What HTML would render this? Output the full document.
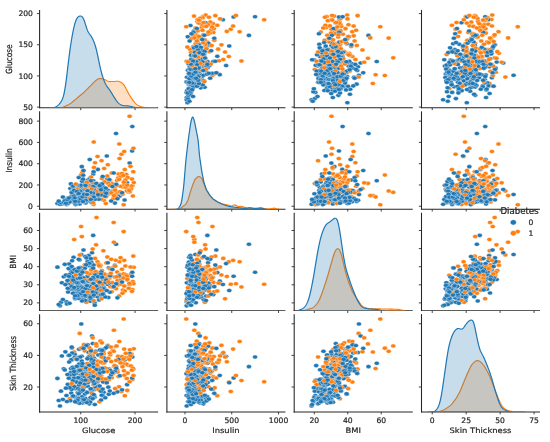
<!DOCTYPE html>
<html><head><meta charset="utf-8"><title>Pairplot</title>
<style>html,body{margin:0;padding:0;background:#fff;width:550px;height:442px;overflow:hidden}
svg{display:block}
svg text{font-family:"DejaVu Sans","Liberation Sans",sans-serif;stroke:#262626;stroke-width:0.3px}</style></head>
<body>
<svg width="550" height="442" preserveAspectRatio="none" viewBox="0 0 720 653.067925" version="1.1">
 
 <defs>
  <style type="text/css">*{stroke-linejoin: round; stroke-linecap: butt}</style>
 </defs>
 <defs><ellipse id="B" rx="3.350" ry="3.000" style="fill:#1f77b4;stroke:#fff;stroke-width:0.48"/><ellipse id="O" rx="3.350" ry="3.000" style="fill:#ff7f0e;stroke:#fff;stroke-width:0.48"/></defs><g id="figure_1">
  <g id="patch_1">
   <path d="M 0 653.07 
L 720 653.07 
L 720 0 
L 0 0 
z
" style="fill: #ffffff"/>
  </g>
  <g id="axes_1">
   <g id="patch_2">
    <path d="M 51.84 159.28 
L 206.31 159.28 
L 206.31 15.37 
L 51.84 15.37 
z
" style="fill: #ffffff"/>
   </g>
   <g id="matplotlib.axis_1">
    <g id="xtick_1">
     <g id="line2d_1">
      <defs>
       <path id="m810af31bf4" d="M 0 0 
L 0 3.5 
" style="stroke: #262626; stroke-width: 1.2"/>
      </defs>
      <g>
       <use href="#m810af31bf4" x="105.67787" y="159.277652" style="fill: #262626; stroke: #262626; stroke-width: 1.2"/>
      </g>
     </g>
    </g>
    <g id="xtick_2">
     <g id="line2d_2">
      <g>
       <use href="#m810af31bf4" x="176.797911" y="159.277652" style="fill: #262626; stroke: #262626; stroke-width: 1.2"/>
      </g>
     </g>
    </g>
   </g>
   <g id="matplotlib.axis_2">
    <g id="ytick_1">
     <g id="line2d_3">
      <defs>
       <path id="m16c3d9d836" d="M 0 0 
L -3.5 0 
" style="stroke: #262626; stroke-width: 1.2"/>
      </defs>
      <g>
       <use href="#m16c3d9d836" x="51.84" y="158.264192" style="fill: #262626; stroke: #262626; stroke-width: 1.2"/>
      </g>
     </g>
     <g id="text_1">
      <text style="font-size: 10px; text-anchor: end; fill: #262626" x="43.14" y="162.063411" transform="matrix(1 0 0 1.120 0 -19.448)">50</text>
     </g>
    </g>
    <g id="ytick_2">
     <g id="line2d_4">
      <g>
       <use href="#m16c3d9d836" x="51.84" y="112.197819" style="fill: #262626; stroke: #262626; stroke-width: 1.2"/>
      </g>
     </g>
     <g id="text_2">
      <text style="font-size: 10px; text-anchor: end; fill: #262626" x="43.14" y="115.997038" transform="matrix(1 0 0 1.120 0 -13.920)">100</text>
     </g>
    </g>
    <g id="ytick_3">
     <g id="line2d_5">
      <g>
       <use href="#m16c3d9d836" x="51.84" y="66.131447" style="fill: #262626; stroke: #262626; stroke-width: 1.2"/>
      </g>
     </g>
     <g id="text_3">
      <text style="font-size: 10px; text-anchor: end; fill: #262626" x="43.14" y="69.930666" transform="matrix(1 0 0 1.120 0 -8.392)">150</text>
     </g>
    </g>
    <g id="ytick_4">
     <g id="line2d_6">
      <g>
       <use href="#m16c3d9d836" x="51.84" y="20.065074" style="fill: #262626; stroke: #262626; stroke-width: 1.2"/>
      </g>
     </g>
     <g id="text_4">
      <text style="font-size: 10px; text-anchor: end; fill: #262626" x="43.14" y="23.864293" transform="matrix(1 0 0 1.120 0 -2.864)">200</text>
     </g>
    </g>
    <g id="text_5">
     <text style="font-size: 11px; text-anchor: middle; fill: #262626" x="15.164844" y="87.321978" transform="rotate(-90 15.164844 87.321978)">Glucose</text>
    </g>
   </g>
   <g id="patch_3">
    <path d="M 51.84 159.28 
L 51.84 15.37 
" style="fill: none; stroke: #262626; stroke-width: 1.4; stroke-linejoin: miter; stroke-linecap: square"/>
   </g>
   <g id="patch_4">
    <path d="M 51.84 159.28 
L 206.31 159.28 
" style="fill: none; stroke: #262626; stroke-width: 1.4; stroke-linejoin: miter; stroke-linecap: square"/>
   </g>
  </g>
  <g id="axes_2">
   <g id="FillBetweenPolyCollection_1">
    <defs>
     <path id="m3f930cdeda" d="M 65.85 -493.79 
L 65.85 -493.79 
L 66.43 -493.79 
L 67.02 -493.79 
L 67.6 -493.79 
L 68.18 -493.79 
L 68.77 -493.79 
L 69.35 -493.79 
L 69.93 -493.79 
L 70.52 -493.79 
L 71.1 -493.79 
L 71.68 -493.79 
L 72.27 -493.79 
L 72.85 -493.79 
L 73.43 -493.79 
L 74.02 -493.79 
L 74.6 -493.79 
L 75.18 -493.79 
L 75.77 -493.79 
L 76.35 -493.79 
L 76.93 -493.79 
L 77.52 -493.79 
L 78.1 -493.79 
L 78.68 -493.79 
L 79.27 -493.79 
L 79.85 -493.79 
L 80.43 -493.79 
L 81.01 -493.79 
L 81.6 -493.79 
L 82.18 -493.79 
L 82.76 -493.79 
L 83.35 -493.79 
L 83.93 -493.79 
L 84.51 -493.79 
L 85.1 -493.79 
L 85.68 -493.79 
L 86.26 -493.79 
L 86.85 -493.79 
L 87.43 -493.79 
L 88.01 -493.79 
L 88.6 -493.79 
L 89.18 -493.79 
L 89.76 -493.79 
L 90.35 -493.79 
L 90.93 -493.79 
L 91.51 -493.79 
L 92.1 -493.79 
L 92.68 -493.79 
L 93.26 -493.79 
L 93.85 -493.79 
L 94.43 -493.79 
L 95.01 -493.79 
L 95.6 -493.79 
L 96.18 -493.79 
L 96.76 -493.79 
L 97.35 -493.79 
L 97.93 -493.79 
L 98.51 -493.79 
L 99.1 -493.79 
L 99.68 -493.79 
L 100.26 -493.79 
L 100.85 -493.79 
L 101.43 -493.79 
L 102.01 -493.79 
L 102.6 -493.79 
L 103.18 -493.79 
L 103.76 -493.79 
L 104.34 -493.79 
L 104.93 -493.79 
L 105.51 -493.79 
L 106.09 -493.79 
L 106.68 -493.79 
L 107.26 -493.79 
L 107.84 -493.79 
L 108.43 -493.79 
L 109.01 -493.79 
L 109.59 -493.79 
L 110.18 -493.79 
L 110.76 -493.79 
L 111.34 -493.79 
L 111.93 -493.79 
L 112.51 -493.79 
L 113.09 -493.79 
L 113.68 -493.79 
L 114.26 -493.79 
L 114.84 -493.79 
L 115.43 -493.79 
L 116.01 -493.79 
L 116.59 -493.79 
L 117.18 -493.79 
L 117.76 -493.79 
L 118.34 -493.79 
L 118.93 -493.79 
L 119.51 -493.79 
L 120.09 -493.79 
L 120.68 -493.79 
L 121.26 -493.79 
L 121.84 -493.79 
L 122.43 -493.79 
L 123.01 -493.79 
L 123.59 -493.79 
L 124.18 -493.79 
L 124.76 -493.79 
L 125.34 -493.79 
L 125.92 -493.79 
L 126.51 -493.79 
L 127.09 -493.79 
L 127.67 -493.79 
L 128.26 -493.79 
L 128.84 -493.79 
L 129.42 -493.79 
L 130.01 -493.79 
L 130.59 -493.79 
L 131.17 -493.79 
L 131.76 -493.79 
L 132.34 -493.79 
L 132.92 -493.79 
L 133.51 -493.79 
L 134.09 -493.79 
L 134.67 -493.79 
L 135.26 -493.79 
L 135.84 -493.79 
L 136.42 -493.79 
L 137.01 -493.79 
L 137.59 -493.79 
L 138.17 -493.79 
L 138.76 -493.79 
L 139.34 -493.79 
L 139.92 -493.79 
L 140.51 -493.79 
L 141.09 -493.79 
L 141.67 -493.79 
L 142.26 -493.79 
L 142.84 -493.79 
L 143.42 -493.79 
L 144.01 -493.79 
L 144.59 -493.79 
L 145.17 -493.79 
L 145.76 -493.79 
L 146.34 -493.79 
L 146.92 -493.79 
L 147.5 -493.79 
L 148.09 -493.79 
L 148.67 -493.79 
L 149.25 -493.79 
L 149.84 -493.79 
L 150.42 -493.79 
L 151 -493.79 
L 151.59 -493.79 
L 152.17 -493.79 
L 152.75 -493.79 
L 153.34 -493.79 
L 153.92 -493.79 
L 154.5 -493.79 
L 155.09 -493.79 
L 155.67 -493.79 
L 156.25 -493.79 
L 156.84 -493.79 
L 157.42 -493.79 
L 158 -493.79 
L 158.59 -493.79 
L 159.17 -493.79 
L 159.75 -493.79 
L 160.34 -493.79 
L 160.92 -493.79 
L 161.5 -493.79 
L 162.09 -493.79 
L 162.67 -493.79 
L 163.25 -493.79 
L 163.84 -493.79 
L 164.42 -493.79 
L 165 -493.79 
L 165.59 -493.79 
L 166.17 -493.79 
L 166.75 -493.79 
L 167.34 -493.79 
L 167.92 -493.79 
L 168.5 -493.79 
L 169.08 -493.79 
L 169.67 -493.79 
L 170.25 -493.79 
L 170.83 -493.79 
L 171.42 -493.79 
L 172 -493.79 
L 172.58 -493.79 
L 173.17 -493.79 
L 173.75 -493.79 
L 174.33 -493.79 
L 174.92 -493.79 
L 175.5 -493.79 
L 176.08 -493.79 
L 176.67 -493.79 
L 177.25 -493.79 
L 177.83 -493.79 
L 178.42 -493.79 
L 179 -493.79 
L 179.58 -493.79 
L 180.17 -493.79 
L 180.75 -493.79 
L 181.33 -493.79 
L 181.92 -493.79 
L 182.5 -493.79 
L 183.08 -493.79 
L 183.67 -493.79 
L 184.25 -493.79 
L 184.83 -493.79 
L 185.42 -493.79 
L 186 -493.79 
L 186.58 -493.79 
L 187.17 -493.79 
L 187.75 -493.79 
L 188.33 -493.79 
L 188.92 -493.79 
L 189.5 -493.79 
L 190.08 -493.79 
L 190.66 -493.79 
L 191.25 -493.79 
L 191.83 -493.79 
L 192.41 -493.79 
L 193 -493.79 
L 193.58 -493.79 
L 194.16 -493.79 
L 194.75 -493.79 
L 195.33 -493.79 
L 195.91 -493.79 
L 196.5 -493.79 
L 197.08 -493.79 
L 197.66 -493.79 
L 198.25 -493.79 
L 198.83 -493.79 
L 199.41 -493.79 
L 200 -493.79 
L 200.58 -493.79 
L 201.16 -493.79 
L 201.75 -493.79 
L 202.33 -493.79 
L 202.91 -493.79 
L 203.5 -493.79 
L 204.08 -493.79 
L 204.66 -493.79 
L 205.25 -493.79 
L 205.25 -493.79 
L 205.25 -493.79 
L 204.66 -493.79 
L 204.08 -493.79 
L 203.5 -493.79 
L 202.91 -493.79 
L 202.33 -493.79 
L 201.75 -493.79 
L 201.16 -493.79 
L 200.58 -493.79 
L 200 -493.79 
L 199.41 -493.79 
L 198.83 -493.79 
L 198.25 -493.8 
L 197.66 -493.8 
L 197.08 -493.8 
L 196.5 -493.81 
L 195.91 -493.82 
L 195.33 -493.83 
L 194.75 -493.84 
L 194.16 -493.86 
L 193.58 -493.89 
L 193 -493.92 
L 192.41 -493.96 
L 191.83 -494 
L 191.25 -494.06 
L 190.66 -494.13 
L 190.08 -494.21 
L 189.5 -494.3 
L 188.92 -494.4 
L 188.33 -494.52 
L 187.75 -494.65 
L 187.17 -494.79 
L 186.58 -494.94 
L 186 -495.11 
L 185.42 -495.28 
L 184.83 -495.47 
L 184.25 -495.68 
L 183.67 -495.9 
L 183.08 -496.15 
L 182.5 -496.41 
L 181.92 -496.71 
L 181.33 -497.03 
L 180.75 -497.4 
L 180.17 -497.8 
L 179.58 -498.25 
L 179 -498.75 
L 178.42 -499.29 
L 177.83 -499.89 
L 177.25 -500.54 
L 176.67 -501.23 
L 176.08 -501.97 
L 175.5 -502.76 
L 174.92 -503.58 
L 174.33 -504.44 
L 173.75 -505.32 
L 173.17 -506.24 
L 172.58 -507.17 
L 172 -508.13 
L 171.42 -509.12 
L 170.83 -510.13 
L 170.25 -511.16 
L 169.67 -512.23 
L 169.08 -513.34 
L 168.5 -514.5 
L 167.92 -515.69 
L 167.34 -516.93 
L 166.75 -518.21 
L 166.17 -519.51 
L 165.59 -520.82 
L 165 -522.12 
L 164.42 -523.38 
L 163.84 -524.58 
L 163.25 -525.71 
L 162.67 -526.74 
L 162.09 -527.66 
L 161.5 -528.47 
L 160.92 -529.18 
L 160.34 -529.8 
L 159.75 -530.33 
L 159.17 -530.8 
L 158.59 -531.22 
L 158 -531.61 
L 157.42 -531.96 
L 156.84 -532.27 
L 156.25 -532.54 
L 155.67 -532.78 
L 155.09 -532.95 
L 154.5 -533.07 
L 153.92 -533.14 
L 153.34 -533.14 
L 152.75 -533.11 
L 152.17 -533.03 
L 151.59 -532.95 
L 151 -532.85 
L 150.42 -532.77 
L 149.84 -532.71 
L 149.25 -532.66 
L 148.67 -532.64 
L 148.09 -532.62 
L 147.5 -532.61 
L 146.92 -532.6 
L 146.34 -532.58 
L 145.76 -532.56 
L 145.17 -532.53 
L 144.59 -532.5 
L 144.01 -532.5 
L 143.42 -532.53 
L 142.84 -532.61 
L 142.26 -532.75 
L 141.67 -532.96 
L 141.09 -533.22 
L 140.51 -533.53 
L 139.92 -533.88 
L 139.34 -534.25 
L 138.76 -534.61 
L 138.17 -534.96 
L 137.59 -535.27 
L 137.01 -535.54 
L 136.42 -535.78 
L 135.84 -535.99 
L 135.26 -536.17 
L 134.67 -536.33 
L 134.09 -536.48 
L 133.51 -536.63 
L 132.92 -536.76 
L 132.34 -536.87 
L 131.76 -536.95 
L 131.17 -536.99 
L 130.59 -536.98 
L 130.01 -536.9 
L 129.42 -536.75 
L 128.84 -536.53 
L 128.26 -536.25 
L 127.67 -535.9 
L 127.09 -535.5 
L 126.51 -535.04 
L 125.92 -534.54 
L 125.34 -534.01 
L 124.76 -533.43 
L 124.18 -532.83 
L 123.59 -532.2 
L 123.01 -531.54 
L 122.43 -530.87 
L 121.84 -530.19 
L 121.26 -529.51 
L 120.68 -528.82 
L 120.09 -528.14 
L 119.51 -527.47 
L 118.93 -526.82 
L 118.34 -526.17 
L 117.76 -525.53 
L 117.18 -524.89 
L 116.59 -524.25 
L 116.01 -523.6 
L 115.43 -522.94 
L 114.84 -522.28 
L 114.26 -521.6 
L 113.68 -520.92 
L 113.09 -520.24 
L 112.51 -519.57 
L 111.93 -518.9 
L 111.34 -518.25 
L 110.76 -517.62 
L 110.18 -517 
L 109.59 -516.4 
L 109.01 -515.82 
L 108.43 -515.26 
L 107.84 -514.7 
L 107.26 -514.15 
L 106.68 -513.6 
L 106.09 -513.05 
L 105.51 -512.5 
L 104.93 -511.95 
L 104.34 -511.4 
L 103.76 -510.84 
L 103.18 -510.29 
L 102.6 -509.74 
L 102.01 -509.2 
L 101.43 -508.65 
L 100.85 -508.11 
L 100.26 -507.58 
L 99.68 -507.04 
L 99.1 -506.49 
L 98.51 -505.94 
L 97.93 -505.39 
L 97.35 -504.82 
L 96.76 -504.25 
L 96.18 -503.68 
L 95.6 -503.11 
L 95.01 -502.54 
L 94.43 -501.99 
L 93.85 -501.47 
L 93.26 -500.96 
L 92.68 -500.49 
L 92.1 -500.05 
L 91.51 -499.63 
L 90.93 -499.23 
L 90.35 -498.86 
L 89.76 -498.5 
L 89.18 -498.16 
L 88.6 -497.82 
L 88.01 -497.48 
L 87.43 -497.15 
L 86.85 -496.82 
L 86.26 -496.49 
L 85.68 -496.18 
L 85.1 -495.87 
L 84.51 -495.59 
L 83.93 -495.32 
L 83.35 -495.07 
L 82.76 -494.85 
L 82.18 -494.65 
L 81.6 -494.48 
L 81.01 -494.34 
L 80.43 -494.22 
L 79.85 -494.12 
L 79.27 -494.04 
L 78.68 -493.98 
L 78.1 -493.93 
L 77.52 -493.89 
L 76.93 -493.86 
L 76.35 -493.84 
L 75.77 -493.82 
L 75.18 -493.81 
L 74.6 -493.81 
L 74.02 -493.8 
L 73.43 -493.8 
L 72.85 -493.79 
L 72.27 -493.79 
L 71.68 -493.79 
L 71.1 -493.79 
L 70.52 -493.79 
L 69.93 -493.79 
L 69.35 -493.79 
L 68.77 -493.79 
L 68.18 -493.79 
L 67.6 -493.79 
L 67.02 -493.79 
L 66.43 -493.79 
L 65.85 -493.79 
z
" style="stroke: #ff7f0e; stroke-width: 1.6"/>
    </defs>
    <g clip-path="url(#p790f427308)">
     <use href="#m3f930cdeda" x="0" y="653.067925" style="fill: #ff7f0e; fill-opacity: 0.25; stroke: #ff7f0e; stroke-width: 1.6"/>
    </g>
   </g>
   <g id="FillBetweenPolyCollection_2">
    <defs>
     <path id="mf4e3be129e" d="M 58.03 -493.79 
L 58.03 -493.79 
L 58.59 -493.79 
L 59.15 -493.79 
L 59.71 -493.79 
L 60.28 -493.79 
L 60.84 -493.79 
L 61.4 -493.79 
L 61.96 -493.79 
L 62.53 -493.79 
L 63.09 -493.79 
L 63.65 -493.79 
L 64.21 -493.79 
L 64.78 -493.79 
L 65.34 -493.79 
L 65.9 -493.79 
L 66.46 -493.79 
L 67.03 -493.79 
L 67.59 -493.79 
L 68.15 -493.79 
L 68.71 -493.79 
L 69.28 -493.79 
L 69.84 -493.79 
L 70.4 -493.79 
L 70.96 -493.79 
L 71.53 -493.79 
L 72.09 -493.79 
L 72.65 -493.79 
L 73.21 -493.79 
L 73.78 -493.79 
L 74.34 -493.79 
L 74.9 -493.79 
L 75.46 -493.79 
L 76.02 -493.79 
L 76.59 -493.79 
L 77.15 -493.79 
L 77.71 -493.79 
L 78.27 -493.79 
L 78.84 -493.79 
L 79.4 -493.79 
L 79.96 -493.79 
L 80.52 -493.79 
L 81.09 -493.79 
L 81.65 -493.79 
L 82.21 -493.79 
L 82.77 -493.79 
L 83.34 -493.79 
L 83.9 -493.79 
L 84.46 -493.79 
L 85.02 -493.79 
L 85.59 -493.79 
L 86.15 -493.79 
L 86.71 -493.79 
L 87.27 -493.79 
L 87.84 -493.79 
L 88.4 -493.79 
L 88.96 -493.79 
L 89.52 -493.79 
L 90.09 -493.79 
L 90.65 -493.79 
L 91.21 -493.79 
L 91.77 -493.79 
L 92.33 -493.79 
L 92.9 -493.79 
L 93.46 -493.79 
L 94.02 -493.79 
L 94.58 -493.79 
L 95.15 -493.79 
L 95.71 -493.79 
L 96.27 -493.79 
L 96.83 -493.79 
L 97.4 -493.79 
L 97.96 -493.79 
L 98.52 -493.79 
L 99.08 -493.79 
L 99.65 -493.79 
L 100.21 -493.79 
L 100.77 -493.79 
L 101.33 -493.79 
L 101.9 -493.79 
L 102.46 -493.79 
L 103.02 -493.79 
L 103.58 -493.79 
L 104.15 -493.79 
L 104.71 -493.79 
L 105.27 -493.79 
L 105.83 -493.79 
L 106.4 -493.79 
L 106.96 -493.79 
L 107.52 -493.79 
L 108.08 -493.79 
L 108.64 -493.79 
L 109.21 -493.79 
L 109.77 -493.79 
L 110.33 -493.79 
L 110.89 -493.79 
L 111.46 -493.79 
L 112.02 -493.79 
L 112.58 -493.79 
L 113.14 -493.79 
L 113.71 -493.79 
L 114.27 -493.79 
L 114.83 -493.79 
L 115.39 -493.79 
L 115.96 -493.79 
L 116.52 -493.79 
L 117.08 -493.79 
L 117.64 -493.79 
L 118.21 -493.79 
L 118.77 -493.79 
L 119.33 -493.79 
L 119.89 -493.79 
L 120.46 -493.79 
L 121.02 -493.79 
L 121.58 -493.79 
L 122.14 -493.79 
L 122.71 -493.79 
L 123.27 -493.79 
L 123.83 -493.79 
L 124.39 -493.79 
L 124.95 -493.79 
L 125.52 -493.79 
L 126.08 -493.79 
L 126.64 -493.79 
L 127.2 -493.79 
L 127.77 -493.79 
L 128.33 -493.79 
L 128.89 -493.79 
L 129.45 -493.79 
L 130.02 -493.79 
L 130.58 -493.79 
L 131.14 -493.79 
L 131.7 -493.79 
L 132.27 -493.79 
L 132.83 -493.79 
L 133.39 -493.79 
L 133.95 -493.79 
L 134.52 -493.79 
L 135.08 -493.79 
L 135.64 -493.79 
L 136.2 -493.79 
L 136.77 -493.79 
L 137.33 -493.79 
L 137.89 -493.79 
L 138.45 -493.79 
L 139.02 -493.79 
L 139.58 -493.79 
L 140.14 -493.79 
L 140.7 -493.79 
L 141.26 -493.79 
L 141.83 -493.79 
L 142.39 -493.79 
L 142.95 -493.79 
L 143.51 -493.79 
L 144.08 -493.79 
L 144.64 -493.79 
L 145.2 -493.79 
L 145.76 -493.79 
L 146.33 -493.79 
L 146.89 -493.79 
L 147.45 -493.79 
L 148.01 -493.79 
L 148.58 -493.79 
L 149.14 -493.79 
L 149.7 -493.79 
L 150.26 -493.79 
L 150.83 -493.79 
L 151.39 -493.79 
L 151.95 -493.79 
L 152.51 -493.79 
L 153.08 -493.79 
L 153.64 -493.79 
L 154.2 -493.79 
L 154.76 -493.79 
L 155.33 -493.79 
L 155.89 -493.79 
L 156.45 -493.79 
L 157.01 -493.79 
L 157.57 -493.79 
L 158.14 -493.79 
L 158.7 -493.79 
L 159.26 -493.79 
L 159.82 -493.79 
L 160.39 -493.79 
L 160.95 -493.79 
L 161.51 -493.79 
L 162.07 -493.79 
L 162.64 -493.79 
L 163.2 -493.79 
L 163.76 -493.79 
L 164.32 -493.79 
L 164.89 -493.79 
L 165.45 -493.79 
L 166.01 -493.79 
L 166.57 -493.79 
L 167.14 -493.79 
L 167.7 -493.79 
L 168.26 -493.79 
L 168.82 -493.79 
L 169.39 -493.79 
L 169.95 -493.79 
L 170.51 -493.79 
L 171.07 -493.79 
L 171.64 -493.79 
L 172.2 -493.79 
L 172.76 -493.79 
L 173.32 -493.79 
L 173.88 -493.79 
L 174.45 -493.79 
L 175.01 -493.79 
L 175.57 -493.79 
L 176.13 -493.79 
L 176.7 -493.79 
L 177.26 -493.79 
L 177.82 -493.79 
L 178.38 -493.79 
L 178.95 -493.79 
L 179.51 -493.79 
L 180.07 -493.79 
L 180.63 -493.79 
L 181.2 -493.79 
L 181.76 -493.79 
L 182.32 -493.79 
L 182.88 -493.79 
L 183.45 -493.79 
L 184.01 -493.79 
L 184.57 -493.79 
L 185.13 -493.79 
L 185.7 -493.79 
L 186.26 -493.79 
L 186.82 -493.79 
L 187.38 -493.79 
L 187.95 -493.79 
L 188.51 -493.79 
L 189.07 -493.79 
L 189.63 -493.79 
L 190.19 -493.79 
L 190.76 -493.79 
L 191.32 -493.79 
L 191.88 -493.79 
L 192.44 -493.79 
L 192.44 -493.79 
L 192.44 -493.79 
L 191.88 -493.79 
L 191.32 -493.79 
L 190.76 -493.79 
L 190.19 -493.79 
L 189.63 -493.79 
L 189.07 -493.79 
L 188.51 -493.79 
L 187.95 -493.8 
L 187.38 -493.8 
L 186.82 -493.8 
L 186.26 -493.81 
L 185.7 -493.81 
L 185.13 -493.82 
L 184.57 -493.83 
L 184.01 -493.84 
L 183.45 -493.86 
L 182.88 -493.88 
L 182.32 -493.9 
L 181.76 -493.92 
L 181.2 -493.96 
L 180.63 -493.99 
L 180.07 -494.03 
L 179.51 -494.08 
L 178.95 -494.14 
L 178.38 -494.2 
L 177.82 -494.27 
L 177.26 -494.35 
L 176.7 -494.44 
L 176.13 -494.55 
L 175.57 -494.66 
L 175.01 -494.78 
L 174.45 -494.92 
L 173.88 -495.06 
L 173.32 -495.21 
L 172.76 -495.37 
L 172.2 -495.54 
L 171.64 -495.71 
L 171.07 -495.87 
L 170.51 -496.03 
L 169.95 -496.18 
L 169.39 -496.31 
L 168.82 -496.43 
L 168.26 -496.52 
L 167.7 -496.6 
L 167.14 -496.66 
L 166.57 -496.69 
L 166.01 -496.72 
L 165.45 -496.73 
L 164.89 -496.74 
L 164.32 -496.75 
L 163.76 -496.77 
L 163.2 -496.8 
L 162.64 -496.86 
L 162.07 -496.94 
L 161.51 -497.05 
L 160.95 -497.19 
L 160.39 -497.36 
L 159.82 -497.56 
L 159.26 -497.8 
L 158.7 -498.08 
L 158.14 -498.39 
L 157.57 -498.75 
L 157.01 -499.14 
L 156.45 -499.58 
L 155.89 -500.07 
L 155.33 -500.62 
L 154.76 -501.22 
L 154.2 -501.88 
L 153.64 -502.6 
L 153.08 -503.38 
L 152.51 -504.21 
L 151.95 -505.08 
L 151.39 -506 
L 150.83 -506.95 
L 150.26 -507.93 
L 149.7 -508.93 
L 149.14 -509.95 
L 148.58 -510.97 
L 148.01 -512.01 
L 147.45 -513.06 
L 146.89 -514.11 
L 146.33 -515.16 
L 145.76 -516.21 
L 145.2 -517.24 
L 144.64 -518.25 
L 144.08 -519.23 
L 143.51 -520.18 
L 142.95 -521.09 
L 142.39 -521.97 
L 141.83 -522.82 
L 141.26 -523.67 
L 140.7 -524.52 
L 140.14 -525.41 
L 139.58 -526.36 
L 139.02 -527.38 
L 138.45 -528.5 
L 137.89 -529.73 
L 137.33 -531.07 
L 136.77 -532.53 
L 136.2 -534.1 
L 135.64 -535.79 
L 135.08 -537.59 
L 134.52 -539.5 
L 133.95 -541.53 
L 133.39 -543.68 
L 132.83 -545.96 
L 132.27 -548.38 
L 131.7 -550.95 
L 131.14 -553.66 
L 130.58 -556.51 
L 130.02 -559.48 
L 129.45 -562.54 
L 128.89 -565.63 
L 128.33 -568.73 
L 127.77 -571.76 
L 127.2 -574.7 
L 126.64 -577.48 
L 126.08 -580.09 
L 125.52 -582.51 
L 124.95 -584.72 
L 124.39 -586.75 
L 123.83 -588.61 
L 123.27 -590.33 
L 122.71 -591.92 
L 122.14 -593.41 
L 121.58 -594.81 
L 121.02 -596.12 
L 120.46 -597.35 
L 119.89 -598.48 
L 119.33 -599.51 
L 118.77 -600.46 
L 118.21 -601.34 
L 117.64 -602.17 
L 117.08 -603.01 
L 116.52 -603.9 
L 115.96 -604.89 
L 115.39 -606.04 
L 114.83 -607.37 
L 114.27 -608.9 
L 113.71 -610.62 
L 113.14 -612.52 
L 112.58 -614.53 
L 112.02 -616.6 
L 111.46 -618.66 
L 110.89 -620.63 
L 110.33 -622.46 
L 109.77 -624.1 
L 109.21 -625.51 
L 108.64 -626.69 
L 108.08 -627.62 
L 107.52 -628.33 
L 106.96 -628.84 
L 106.4 -629.17 
L 105.83 -629.35 
L 105.27 -629.41 
L 104.71 -629.37 
L 104.15 -629.23 
L 103.58 -629 
L 103.02 -628.67 
L 102.46 -628.23 
L 101.9 -627.66 
L 101.33 -626.93 
L 100.77 -626.03 
L 100.21 -624.92 
L 99.65 -623.57 
L 99.08 -621.98 
L 98.52 -620.13 
L 97.96 -618.01 
L 97.4 -615.64 
L 96.83 -613.03 
L 96.27 -610.19 
L 95.71 -607.15 
L 95.15 -603.92 
L 94.58 -600.52 
L 94.02 -596.93 
L 93.46 -593.17 
L 92.9 -589.22 
L 92.33 -585.07 
L 91.77 -580.7 
L 91.21 -576.1 
L 90.65 -571.28 
L 90.09 -566.26 
L 89.52 -561.08 
L 88.96 -555.78 
L 88.4 -550.43 
L 87.84 -545.12 
L 87.27 -539.93 
L 86.71 -534.94 
L 86.15 -530.24 
L 85.59 -525.88 
L 85.02 -521.91 
L 84.46 -518.36 
L 83.9 -515.24 
L 83.34 -512.53 
L 82.77 -510.22 
L 82.21 -508.25 
L 81.65 -506.58 
L 81.09 -505.17 
L 80.52 -503.95 
L 79.96 -502.89 
L 79.4 -501.95 
L 78.84 -501.1 
L 78.27 -500.31 
L 77.71 -499.57 
L 77.15 -498.87 
L 76.59 -498.22 
L 76.02 -497.6 
L 75.46 -497.03 
L 74.9 -496.51 
L 74.34 -496.04 
L 73.78 -495.63 
L 73.21 -495.27 
L 72.65 -494.96 
L 72.09 -494.7 
L 71.53 -494.49 
L 70.96 -494.32 
L 70.4 -494.18 
L 69.84 -494.08 
L 69.28 -494 
L 68.71 -493.94 
L 68.15 -493.89 
L 67.59 -493.86 
L 67.03 -493.84 
L 66.46 -493.82 
L 65.9 -493.81 
L 65.34 -493.8 
L 64.78 -493.8 
L 64.21 -493.8 
L 63.65 -493.79 
L 63.09 -493.79 
L 62.53 -493.79 
L 61.96 -493.79 
L 61.4 -493.79 
L 60.84 -493.79 
L 60.28 -493.79 
L 59.71 -493.79 
L 59.15 -493.79 
L 58.59 -493.79 
L 58.03 -493.79 
z
" style="stroke: #1f77b4; stroke-width: 1.6"/>
    </defs>
    <g clip-path="url(#p790f427308)">
     <use href="#mf4e3be129e" x="0" y="653.067925" style="fill: #1f77b4; fill-opacity: 0.25; stroke: #1f77b4; stroke-width: 1.6"/>
    </g>
   </g>
  </g>
  <g id="axes_3">
   <g id="patch_5">
    <path d="M 218.49 159.28 
L 372.96 159.28 
L 372.96 15.37 
L 218.49 15.37 
z
" style="fill: #ffffff"/>
   </g>
   <g id="PathCollection_1">
    <defs>
     <path id="C0_0_623b9ded61" d="M 0 3 
C 0.8 3 1.56 2.68 2.12 2.12 
C 2.68 1.56 3 0.8 3 -0 
C 3 -0.8 2.68 -1.56 2.12 -2.12 
C 1.56 -2.68 0.8 -3 0 -3 
C -0.8 -3 -1.56 -2.68 -2.12 -2.12 
C -2.68 -1.56 -3 -0.8 -3 0 
C -3 0.8 -2.68 1.56 -2.12 2.12 
C -1.56 2.68 -0.8 3 0 3 
z
"/>
    </defs>
    <use href="#O" x="249.0" y="73.2"/>
    <use href="#B" x="253.7" y="89.9"/>
    <use href="#B" x="249.3" y="37.8"/>
    <use href="#B" x="254.9" y="106.2"/>
    <use href="#O" x="279.3" y="48.0"/>
    <use href="#B" x="250.8" y="111.4"/>
    <use href="#B" x="247.6" y="124.3"/>
    <use href="#B" x="253.4" y="112.2"/>
    <use href="#O" x="281.9" y="23.1"/>
    <use href="#B" x="254.4" y="92.5"/>
    <use href="#O" x="260.5" y="101.1"/>
    <use href="#B" x="251.1" y="98.4"/>
    <use href="#B" x="260.7" y="91.7"/>
    <use href="#B" x="254.6" y="84.9"/>
    <use href="#B" x="248.9" y="119.7"/>
    <use href="#B" x="263.4" y="99.4"/>
    <use href="#B" x="244.3" y="136.5"/>
    <use href="#B" x="249.4" y="118.0"/>
    <use href="#O" x="265.6" y="24.6"/>
    <use href="#O" x="271.2" y="62.1"/>
    <use href="#B" x="245.4" y="151.7"/>
    <use href="#O" x="261.8" y="55.5"/>
    <use href="#B" x="250.5" y="126.6"/>
    <use href="#B" x="279.2" y="91.0"/>
    <use href="#O" x="248.1" y="130.8"/>
    <use href="#O" x="258.5" y="31.6"/>
    <use href="#O" x="261.4" y="93.0"/>
    <use href="#B" x="255.1" y="78.9"/>
    <use href="#B" x="266.7" y="84.5"/>
    <use href="#O" x="270.8" y="92.1"/>
    <use href="#O" x="247.1" y="105.4"/>
    <use href="#O" x="270.5" y="63.8"/>
    <use href="#B" x="249.2" y="111.8"/>
    <use href="#B" x="264.2" y="85.3"/>
    <use href="#B" x="273.8" y="67.2"/>
    <use href="#B" x="271.9" y="100.0"/>
    <use href="#B" x="284.5" y="83.2"/>
    <use href="#B" x="252.0" y="107.1"/>
    <use href="#O" x="289.9" y="66.3"/>
    <use href="#O" x="255.7" y="49.7"/>
    <use href="#O" x="299.6" y="83.6"/>
    <use href="#B" x="258.5" y="107.9"/>
    <use href="#B" x="254.2" y="112.0"/>
    <use href="#B" x="249.0" y="133.2"/>
    <use href="#B" x="254.0" y="45.7"/>
    <use href="#B" x="260.1" y="72.9"/>
    <use href="#B" x="261.9" y="109.2"/>
    <use href="#O" x="280.5" y="59.6"/>
    <use href="#B" x="251.5" y="113.6"/>
    <use href="#O" x="253.2" y="68.8"/>
    <use href="#B" x="247.9" y="108.8"/>
    <use href="#B" x="266.3" y="97.4"/>
    <use href="#B" x="252.8" y="124.9"/>
    <use href="#O" x="253.5" y="99.5"/>
    <use href="#B" x="252.5" y="106.8"/>
    <use href="#O" x="257.5" y="78.7"/>
    <use href="#B" x="251.8" y="128.3"/>
    <use href="#B" x="249.0" y="119.4"/>
    <use href="#B" x="267.9" y="128.9"/>
    <use href="#O" x="274.7" y="48.9"/>
    <use href="#B" x="249.2" y="128.6"/>
    <use href="#B" x="251.4" y="87.9"/>
    <use href="#B" x="256.4" y="88.7"/>
    <use href="#B" x="264.0" y="114.9"/>
    <use href="#B" x="272.4" y="66.3"/>
    <use href="#B" x="248.5" y="96.4"/>
    <use href="#B" x="262.6" y="129.8"/>
    <use href="#B" x="261.7" y="120.0"/>
    <use href="#B" x="268.6" y="86.2"/>
    <use href="#O" x="278.1" y="111.6"/>
    <use href="#O" x="276.4" y="43.9"/>
    <use href="#B" x="254.4" y="76.3"/>
    <use href="#B" x="274.3" y="96.6"/>
    <use href="#O" x="278.7" y="34.9"/>
    <use href="#B" x="263.6" y="83.6"/>
    <use href="#O" x="251.8" y="98.7"/>
    <use href="#B" x="255.7" y="111.3"/>
    <use href="#O" x="264.5" y="86.7"/>
    <use href="#O" x="313.7" y="46.8"/>
    <use href="#B" x="263.2" y="89.4"/>
    <use href="#O" x="258.2" y="53.0"/>
    <use href="#O" x="269.3" y="22.3"/>
    <use href="#B" x="250.4" y="129.3"/>
    <use href="#O" x="259.2" y="74.4"/>
    <use href="#O" x="264.2" y="40.6"/>
    <use href="#B" x="325.9" y="52.3"/>
    <use href="#B" x="248.6" y="114.4"/>
    <use href="#O" x="267.3" y="85.5"/>
    <use href="#B" x="259.8" y="78.5"/>
    <use href="#O" x="258.2" y="85.5"/>
    <use href="#B" x="257.6" y="112.7"/>
    <use href="#B" x="257.2" y="81.9"/>
    <use href="#B" x="259.0" y="100.2"/>
    <use href="#B" x="251.3" y="120.3"/>
    <use href="#O" x="297.0" y="46.4"/>
    <use href="#B" x="251.6" y="106.4"/>
    <use href="#B" x="256.8" y="93.5"/>
    <use href="#O" x="271.8" y="50.5"/>
    <use href="#B" x="249.9" y="126.3"/>
    <use href="#B" x="270.0" y="72.3"/>
    <use href="#B" x="253.2" y="117.4"/>
    <use href="#O" x="254.4" y="123.3"/>
    <use href="#B" x="246.6" y="124.0"/>
    <use href="#B" x="254.8" y="118.3"/>
    <use href="#B" x="250.9" y="86.6"/>
    <use href="#B" x="246.3" y="135.6"/>
    <use href="#O" x="258.8" y="45.6"/>
    <use href="#B" x="248.1" y="97.6"/>
    <use href="#B" x="254.2" y="114.8"/>
    <use href="#O" x="263.3" y="84.9"/>
    <use href="#O" x="265.3" y="26.1"/>
    <use href="#B" x="259.3" y="93.3"/>
    <use href="#O" x="261.0" y="81.8"/>
    <use href="#B" x="256.0" y="109.6"/>
    <use href="#B" x="260.5" y="110.7"/>
    <use href="#B" x="253.2" y="47.8"/>
    <use href="#B" x="253.9" y="128.0"/>
    <use href="#O" x="268.2" y="102.8"/>
    <use href="#B" x="254.1" y="73.3"/>
    <use href="#O" x="252.3" y="87.3"/>
    <use href="#B" x="246.9" y="123.2"/>
    <use href="#O" x="259.6" y="113.9"/>
    <use href="#B" x="244.8" y="114.0"/>
    <use href="#B" x="244.6" y="144.1"/>
    <use href="#B" x="260.2" y="65.5"/>
    <use href="#B" x="248.6" y="94.6"/>
    <use href="#B" x="252.3" y="98.9"/>
    <use href="#O" x="272.9" y="47.2"/>
    <use href="#O" x="267.9" y="58.8"/>
    <use href="#B" x="247.4" y="110.5"/>
    <use href="#B" x="256.5" y="64.6"/>
    <use href="#B" x="246.8" y="103.6"/>
    <use href="#B" x="265.2" y="80.6"/>
    <use href="#B" x="256.7" y="122.3"/>
    <use href="#B" x="247.3" y="94.3"/>
    <use href="#B" x="263.8" y="94.0"/>
    <use href="#O" x="258.3" y="89.2"/>
    <use href="#O" x="256.2" y="64.6"/>
    <use href="#O" x="257.0" y="75.0"/>
    <use href="#B" x="249.7" y="104.6"/>
    <use href="#O" x="283.2" y="107.9"/>
    <use href="#B" x="252.1" y="89.7"/>
    <use href="#O" x="265.1" y="44.7"/>
    <use href="#O" x="256.8" y="71.2"/>
    <use href="#B" x="250.6" y="109.9"/>
    <use href="#O" x="256.5" y="80.0"/>
    <use href="#O" x="269.1" y="67.9"/>
    <use href="#B" x="267.3" y="81.0"/>
    <use href="#B" x="249.1" y="98.7"/>
    <use href="#O" x="302.1" y="43.1"/>
    <use href="#B" x="254.7" y="120.6"/>
    <use href="#B" x="246.0" y="103.8"/>
    <use href="#O" x="285.6" y="72.6"/>
    <use href="#O" x="266.8" y="38.2"/>
    <use href="#B" x="252.5" y="111.6"/>
    <use href="#O" x="260.8" y="96.2"/>
    <use href="#B" x="252.0" y="117.0"/>
    <use href="#B" x="254.5" y="102.3"/>
    <use href="#B" x="259.1" y="84.0"/>
    <use href="#B" x="253.7" y="102.8"/>
    <use href="#B" x="262.4" y="87.5"/>
    <use href="#O" x="250.2" y="77.5"/>
    <use href="#O" x="263.6" y="88.6"/>
    <use href="#B" x="261.3" y="105.4"/>
    <use href="#B" x="257.4" y="112.9"/>
    <use href="#B" x="255.9" y="79.7"/>
    <use href="#B" x="250.3" y="116.1"/>
    <use href="#B" x="251.3" y="114.2"/>
    <use href="#B" x="262.2" y="117.2"/>
    <use href="#B" x="252.3" y="130.6"/>
    <use href="#O" x="261.1" y="124.0"/>
    <use href="#B" x="248.7" y="131.9"/>
    <use href="#O" x="316.1" y="90.1"/>
    <use href="#B" x="266.5" y="111.2"/>
    <use href="#B" x="255.0" y="106.0"/>
    <use href="#B" x="258.0" y="75.5"/>
    <use href="#O" x="254.3" y="79.3"/>
    <use href="#O" x="275.3" y="32.5"/>
    <use href="#O" x="279.9" y="42.3"/>
    <use href="#O" x="258.7" y="28.8"/>
    <use href="#B" x="272.9" y="63.8"/>
    <use href="#B" x="258.1" y="101.2"/>
    <use href="#B" x="250.8" y="132.8"/>
    <use href="#O" x="260.3" y="58.0"/>
    <use href="#B" x="258.6" y="71.5"/>
    <use href="#B" x="259.6" y="126.9"/>
    <use href="#B" x="245.2" y="133.6"/>
    <use href="#B" x="287.7" y="110.3"/>
    <use href="#B" x="245.8" y="54.2"/>
    <use href="#B" x="244.4" y="147.4"/>
    <use href="#O" x="261.9" y="27.0"/>
    <use href="#B" x="253.4" y="117.5"/>
    <use href="#O" x="259.5" y="82.4"/>
    <use href="#B" x="269.1" y="33.5"/>
    <use href="#O" x="243.8" y="39.4"/>
    <use href="#O" x="262.8" y="103.6"/>
    <use href="#O" x="272.4" y="36.5"/>
    <use href="#B" x="257.5" y="121.2"/>
    <use href="#B" x="256.2" y="92.3"/>
    <use href="#O" x="254.9" y="70.4"/>
    <use href="#O" x="259.8" y="56.3"/>
    <use href="#B" x="256.9" y="103.3"/>
    <use href="#O" x="252.7" y="52.2"/>
    <use href="#B" x="246.2" y="145.7"/>
    <use href="#B" x="252.2" y="114.6"/>
    <use href="#O" x="274.1" y="76.3"/>
    <use href="#B" x="250.2" y="81.5"/>
    <use href="#O" x="254.0" y="23.8"/>
    <use href="#B" x="248.8" y="107.3"/>
    <use href="#B" x="248.4" y="113.1"/>
    <use href="#O" x="262.5" y="73.8"/>
    <use href="#O" x="244.3" y="90.5"/>
    <use href="#B" x="247.0" y="92.8"/>
    <use href="#B" x="259.5" y="125.7"/>
    <use href="#B" x="248.3" y="115.3"/>
    <use href="#O" x="263.1" y="54.7"/>
    <use href="#B" x="252.9" y="126.0"/>
    <use href="#B" x="246.5" y="93.8"/>
    <use href="#B" x="247.7" y="130.2"/>
    <use href="#B" x="258.4" y="127.2"/>
    <use href="#O" x="286.8" y="89.8"/>
    <use href="#B" x="249.4" y="107.7"/>
    <use href="#B" x="260.9" y="89.2"/>
    <use href="#B" x="247.8" y="105.6"/>
    <use href="#B" x="248.2" y="101.8"/>
    <use href="#B" x="281.9" y="90.5"/>
    <use href="#B" x="248.0" y="149.5"/>
    <use href="#B" x="291.8" y="29.3"/>
    <use href="#B" x="250.1" y="116.4"/>
    <use href="#B" x="249.6" y="124.6"/>
    <use href="#B" x="251.2" y="134.1"/>
    <use href="#B" x="269.6" y="104.8"/>
    <use href="#O" x="284.4" y="37.4"/>
    <use href="#O" x="275.8" y="94.6"/>
    <use href="#O" x="269.9" y="39.0"/>
    <use href="#B" x="258.5" y="62.0"/>
    <use href="#B" x="265.6" y="87.0"/>
    <use href="#B" x="257.6" y="62.9"/>
    <use href="#B" x="256.3" y="79.3"/>
    <use href="#O" x="253.8" y="81.2"/>
    <use href="#B" x="260.1" y="100.5"/>
    <use href="#O" x="261.6" y="117.3"/>
    <use href="#O" x="292.3" y="87.9"/>
    <use href="#B" x="244.1" y="120.9"/>
    <use href="#B" x="245.0" y="121.4"/>
    <use href="#B" x="255.4" y="74.6"/>
    <use href="#B" x="248.4" y="110.9"/>
    <use href="#O" x="266.2" y="51.3"/>
    <use href="#O" x="258.0" y="127.4"/>
    <use href="#B" x="296.0" y="96.9"/>
    <use href="#O" x="250.8" y="57.1"/>
    <use href="#O" x="262.1" y="80.6"/>
    <use href="#B" x="264.6" y="74.2"/>
    <use href="#B" x="258.9" y="97.1"/>
    <use href="#O" x="254.6" y="75.7"/>
    <use href="#B" x="254.3" y="82.3"/>
    <use href="#B" x="258.8" y="115.1"/>
    <use href="#B" x="266.9" y="119.2"/>
    <use href="#O" x="263.9" y="35.7"/>
    <use href="#B" x="271.5" y="91.0"/>
    <use href="#B" x="254.6" y="122.9"/>
    <use href="#O" x="257.3" y="61.3"/>
    <use href="#B" x="262.8" y="77.6"/>
    <use href="#O" x="264.8" y="95.4"/>
    <use href="#B" x="249.6" y="138.2"/>
    <use href="#B" x="246.9" y="140.9"/>
    <use href="#B" x="261.5" y="93.0"/>
    <use href="#O" x="245.3" y="69.6"/>
    <use href="#B" x="250.6" y="105.8"/>
    <use href="#B" x="256.1" y="101.0"/>
    <use href="#B" x="255.6" y="109.0"/>
    <use href="#O" x="277.0" y="67.1"/>
    <use href="#B" x="258.7" y="99.7"/>
    <use href="#B" x="258.2" y="111.0"/>
    <use href="#O" x="281.0" y="109.1"/>
    <use href="#B" x="275.1" y="115.5"/>
    <use href="#B" x="246.7" y="122.0"/>
    <use href="#B" x="267.5" y="52.1"/>
    <use href="#B" x="264.4" y="125.4"/>
    <use href="#B" x="305.8" y="25.0"/>
    <use href="#O" x="268.5" y="86.1"/>
    <use href="#B" x="277.8" y="108.1"/>
    <use href="#B" x="256.6" y="107.0"/>
    <use href="#O" x="253.0" y="110.4"/>
    <use href="#B" x="270.5" y="98.2"/>
    <use href="#O" x="255.1" y="106.7"/>
    <use href="#B" x="248.8" y="139.3"/>
    <use href="#B" x="258.3" y="97.9"/>
    <use href="#O" x="249.7" y="104.4"/>
    <use href="#B" x="260.0" y="96.1"/>
    <use href="#B" x="250.0" y="118.9"/>
    <use href="#O" x="255.9" y="41.5"/>
    <use href="#O" x="257.7" y="60.5"/>
    <use href="#B" x="267.1" y="104.3"/>
    <use href="#O" x="294.6" y="76.9"/>
    <use href="#B" x="251.8" y="110.1"/>
    <use href="#O" x="270.2" y="72.0"/>
    <use href="#O" x="260.0" y="34.1"/>
    <use href="#B" x="271.0" y="109.7"/>
    <use href="#B" x="255.3" y="77.2"/>
    <use href="#B" x="253.6" y="95.6"/>
    <use href="#O" x="254.4" y="56.0"/>
    <use href="#B" x="250.7" y="50.0"/>
    <use href="#O" x="267.1" y="83.0"/>
    <use href="#O" x="308.9" y="22.8"/>
    <use href="#B" x="251.0" y="116.6"/>
    <use href="#B" x="257.0" y="90.7"/>
    <use href="#B" x="253.0" y="127.7"/>
    <use href="#B" x="255.2" y="115.9"/>
    <use href="#B" x="253.8" y="70.6"/>
    <use href="#O" x="257.9" y="97.9"/>
    <use href="#B" x="252.7" y="142.5"/>
    <use href="#O" x="259.0" y="84.3"/>
    <use href="#O" x="345.8" y="29.3"/>
    <use href="#B" x="251.1" y="105.1"/>
    <use href="#B" x="249.9" y="108.6"/>
    <use href="#B" x="253.5" y="113.3"/>
    <use href="#B" x="263.0" y="69.8"/>
    <use href="#B" x="260.3" y="99.2"/>
    <use href="#O" x="273.5" y="25.4"/>
    <use href="#B" x="259.3" y="73.7"/>
    <use href="#B" x="253.9" y="123.7"/>
    <use href="#B" x="300.1" y="68.0"/>
    <use href="#B" x="248.0" y="116.2"/>
    <use href="#B" x="259.7" y="113.5"/>
    <use href="#B" x="256.0" y="116.8"/>
    <use href="#B" x="247.2" y="131.5"/>
    <use href="#B" x="255.1" y="95.3"/>
    <use href="#B" x="257.3" y="91.5"/>
    <use href="#B" x="265.4" y="125.2"/>
    <use href="#B" x="247.1" y="131.1"/>
    <use href="#O" x="269.1" y="91.9"/>
    <use href="#B" x="257.7" y="42.1"/>
    <use href="#B" x="265.0" y="91.2"/>
    <use href="#O" x="259.3" y="78.1"/>
    <use href="#B" x="252.4" y="103.0"/>
    <use href="#O" x="260.6" y="53.8"/>
    <use href="#B" x="249.5" y="102.5"/>
    <use href="#B" x="261.1" y="78.0"/>
    <use href="#B" x="253.0" y="112.5"/>
    <use href="#O" x="261.3" y="30.7"/>
    <use href="#B" x="333.9" y="24.7"/>
    <use href="#O" x="262.3" y="93.8"/>
    <use href="#B" x="250.1" y="88.3"/>
    <use href="#B" x="253.3" y="102.0"/>
    <use href="#B" x="271.5" y="95.1"/>
    <use href="#O" x="288.1" y="27.9"/>
    <use href="#B" x="251.9" y="113.8"/>
    <use href="#B" x="250.4" y="112.3"/>
    <use href="#O" x="269.6" y="102.0"/>
    <use href="#B" x="259.4" y="117.7"/>
    <use href="#B" x="273.4" y="108.3"/>
    <use href="#O" x="260.1" y="29.7"/>
    <use href="#B" x="268.3" y="85.7"/>
    <use href="#B" x="257.8" y="127.4"/>
    <use href="#B" x="255.5" y="82.7"/>
    <use href="#B" x="257.9" y="95.8"/>
    <use href="#B" x="245.6" y="137.3"/>
    <use href="#B" x="259.9" y="100.7"/>
    <use href="#B" x="253.1" y="109.4"/>
    <use href="#B" x="268.1" y="76.7"/>
    <use href="#B" x="255.8" y="106.6"/>
    <use href="#B" x="252.6" y="92.0"/>
    <use href="#B" x="276.5" y="75.0"/>
    <use href="#O" x="277.6" y="39.8"/>
    <use href="#B" x="267.7" y="75.9"/>
    <use href="#B" x="283.2" y="107.5"/>
    <use href="#O" x="255.4" y="100.3"/>
    <use href="#B" x="252.7" y="90.2"/>
    <use href="#B" x="260.4" y="123.4"/>
    <use href="#B" x="257.1" y="68.9"/>
    <use href="#O" x="251.3" y="97.0"/>
    <use href="#B" x="251.7" y="122.6"/>
    <use href="#O" x="305.2" y="38.5"/>
    <use href="#B" x="247.8" y="121.7"/>
    <use href="#B" x="266.1" y="104.1"/>
    <use href="#B" x="248.2" y="60.7"/>
    <use href="#B" x="249.8" y="94.8"/>
    <use href="#B" x="280.5" y="56.4"/>
    <use href="#B" x="255.7" y="101.5"/>
    <use href="#O" x="268.8" y="65.4"/>
    <use href="#O" x="265.9" y="63.0"/>
    <use href="#B" x="249.7" y="134.7"/>
    <use href="#O" x="246.2" y="91.3"/>
    <use href="#B" x="265.9" y="80.2"/>
    <use href="#O" x="267.6" y="120.6"/>
    <use href="#B" x="247.5" y="108.4"/>
    <use href="#B" x="259.2" y="118.6"/>
    <use href="#B" x="251.5" y="132.3"/>
    <use href="#B" x="256.8" y="115.7"/>
    <use href="#O" x="266.5" y="33.3"/>
    <use href="#B" x="264.8" y="58.5"/>
   </g>
   <g id="matplotlib.axis_3">
    <g id="xtick_3">
     <g id="line2d_7">
      <g>
       <use href="#m810af31bf4" x="242.129808" y="159.277652" style="fill: #262626; stroke: #262626; stroke-width: 1.2"/>
      </g>
     </g>
    </g>
    <g id="xtick_4">
     <g id="line2d_8">
      <g>
       <use href="#m810af31bf4" x="303.379898" y="159.277652" style="fill: #262626; stroke: #262626; stroke-width: 1.2"/>
      </g>
     </g>
    </g>
    <g id="xtick_5">
     <g id="line2d_9">
      <g>
       <use href="#m810af31bf4" x="364.629988" y="159.277652" style="fill: #262626; stroke: #262626; stroke-width: 1.2"/>
      </g>
     </g>
    </g>
   </g>
   <g id="matplotlib.axis_4">
    <g id="ytick_5">
     <g id="line2d_10">
      <g>
       <use href="#m16c3d9d836" x="218.487273" y="158.264192" style="fill: #262626; stroke: #262626; stroke-width: 1.2"/>
      </g>
     </g>
    </g>
    <g id="ytick_6">
     <g id="line2d_11">
      <g>
       <use href="#m16c3d9d836" x="218.487273" y="112.197819" style="fill: #262626; stroke: #262626; stroke-width: 1.2"/>
      </g>
     </g>
    </g>
    <g id="ytick_7">
     <g id="line2d_12">
      <g>
       <use href="#m16c3d9d836" x="218.487273" y="66.131447" style="fill: #262626; stroke: #262626; stroke-width: 1.2"/>
      </g>
     </g>
    </g>
    <g id="ytick_8">
     <g id="line2d_13">
      <g>
       <use href="#m16c3d9d836" x="218.487273" y="20.065074" style="fill: #262626; stroke: #262626; stroke-width: 1.2"/>
      </g>
     </g>
    </g>
   </g>
   <g id="patch_6">
    <path d="M 218.49 159.28 
L 218.49 15.37 
" style="fill: none; stroke: #262626; stroke-width: 1.4; stroke-linejoin: miter; stroke-linecap: square"/>
   </g>
   <g id="patch_7">
    <path d="M 218.49 159.28 
L 372.96 159.28 
" style="fill: none; stroke: #262626; stroke-width: 1.4; stroke-linejoin: miter; stroke-linecap: square"/>
   </g>
  </g>
  <g id="axes_4">
   <g id="patch_8">
    <path d="M 385.13 159.28 
L 539.61 159.28 
L 539.61 15.37 
L 385.13 15.37 
z
" style="fill: #ffffff"/>
   </g>
   <g id="PathCollection_2">
    <defs>
     <path id="C1_0_623b9ded61" d="M 0 3 
C 0.8 3 1.56 2.68 2.12 2.12 
C 2.68 1.56 3 0.8 3 -0 
C 3 -0.8 2.68 -1.56 2.12 -2.12 
C 1.56 -2.68 0.8 -3 0 -3 
C -0.8 -3 -1.56 -2.68 -2.12 -2.12 
C -2.68 -1.56 -3 -0.8 -3 0 
C -3 0.8 -2.68 1.56 -2.12 2.12 
C -1.56 2.68 -0.8 3 0 3 
z
"/>
    </defs>
    <use href="#O" x="442.2" y="73.2"/>
    <use href="#B" x="419.7" y="89.9"/>
    <use href="#B" x="445.6" y="37.8"/>
    <use href="#B" x="437.4" y="106.2"/>
    <use href="#O" x="436.3" y="48.0"/>
    <use href="#B" x="419.5" y="111.4"/>
    <use href="#B" x="466.8" y="124.3"/>
    <use href="#B" x="439.6" y="112.2"/>
    <use href="#O" x="468.1" y="23.1"/>
    <use href="#B" x="447.6" y="92.5"/>
    <use href="#O" x="458.9" y="101.1"/>
    <use href="#B" x="434.4" y="98.4"/>
    <use href="#B" x="439.7" y="91.7"/>
    <use href="#B" x="432.8" y="84.9"/>
    <use href="#B" x="424.1" y="119.7"/>
    <use href="#B" x="446.8" y="99.4"/>
    <use href="#B" x="412.8" y="136.5"/>
    <use href="#B" x="436.9" y="118.0"/>
    <use href="#O" x="427.6" y="24.6"/>
    <use href="#O" x="431.1" y="62.1"/>
    <use href="#B" x="454.7" y="151.7"/>
    <use href="#O" x="432.4" y="55.5"/>
    <use href="#B" x="438.0" y="126.6"/>
    <use href="#B" x="421.5" y="91.0"/>
    <use href="#O" x="445.0" y="130.8"/>
    <use href="#O" x="443.9" y="31.6"/>
    <use href="#O" x="432.9" y="93.0"/>
    <use href="#B" x="422.6" y="78.9"/>
    <use href="#B" x="442.0" y="84.5"/>
    <use href="#O" x="450.0" y="92.1"/>
    <use href="#O" x="457.6" y="105.4"/>
    <use href="#O" x="441.3" y="63.8"/>
    <use href="#B" x="444.8" y="111.8"/>
    <use href="#B" x="447.4" y="85.3"/>
    <use href="#B" x="433.9" y="67.2"/>
    <use href="#B" x="434.1" y="100.0"/>
    <use href="#B" x="448.1" y="83.2"/>
    <use href="#B" x="416.2" y="107.1"/>
    <use href="#O" x="445.3" y="66.3"/>
    <use href="#O" x="438.7" y="49.7"/>
    <use href="#O" x="461.3" y="83.6"/>
    <use href="#B" x="441.4" y="107.9"/>
    <use href="#B" x="424.2" y="112.0"/>
    <use href="#B" x="435.3" y="133.2"/>
    <use href="#B" x="444.5" y="45.7"/>
    <use href="#B" x="429.7" y="72.9"/>
    <use href="#B" x="428.6" y="109.2"/>
    <use href="#O" x="425.0" y="59.6"/>
    <use href="#B" x="427.7" y="113.6"/>
    <use href="#O" x="459.8" y="68.8"/>
    <use href="#B" x="425.8" y="108.8"/>
    <use href="#B" x="416.0" y="97.4"/>
    <use href="#B" x="439.9" y="124.9"/>
    <use href="#O" x="428.0" y="99.5"/>
    <use href="#B" x="449.1" y="106.8"/>
    <use href="#O" x="457.1" y="78.7"/>
    <use href="#B" x="436.7" y="128.3"/>
    <use href="#B" x="421.0" y="119.4"/>
    <use href="#B" x="442.7" y="128.9"/>
    <use href="#O" x="433.3" y="48.9"/>
    <use href="#B" x="441.0" y="128.6"/>
    <use href="#B" x="437.3" y="87.9"/>
    <use href="#B" x="411.6" y="88.7"/>
    <use href="#B" x="451.2" y="114.9"/>
    <use href="#B" x="460.0" y="66.3"/>
    <use href="#B" x="413.3" y="96.4"/>
    <use href="#B" x="434.7" y="129.8"/>
    <use href="#B" x="437.0" y="120.0"/>
    <use href="#B" x="427.0" y="86.2"/>
    <use href="#O" x="503.8" y="111.6"/>
    <use href="#O" x="439.7" y="43.9"/>
    <use href="#B" x="419.0" y="76.3"/>
    <use href="#B" x="430.8" y="96.6"/>
    <use href="#O" x="442.4" y="34.9"/>
    <use href="#B" x="418.8" y="83.6"/>
    <use href="#O" x="434.8" y="98.7"/>
    <use href="#B" x="469.9" y="111.3"/>
    <use href="#O" x="449.4" y="86.7"/>
    <use href="#O" x="461.2" y="46.8"/>
    <use href="#B" x="434.2" y="89.4"/>
    <use href="#O" x="463.0" y="53.0"/>
    <use href="#O" x="454.5" y="22.3"/>
    <use href="#B" x="441.2" y="129.3"/>
    <use href="#O" x="440.4" y="74.4"/>
    <use href="#O" x="427.1" y="40.6"/>
    <use href="#B" x="482.4" y="52.3"/>
    <use href="#B" x="417.2" y="114.4"/>
    <use href="#O" x="440.7" y="85.5"/>
    <use href="#B" x="444.2" y="78.5"/>
    <use href="#O" x="514.8" y="85.5"/>
    <use href="#B" x="434.9" y="112.7"/>
    <use href="#B" x="447.1" y="81.9"/>
    <use href="#B" x="425.5" y="100.2"/>
    <use href="#B" x="426.9" y="120.3"/>
    <use href="#O" x="443.5" y="46.4"/>
    <use href="#B" x="421.6" y="106.4"/>
    <use href="#B" x="438.9" y="93.5"/>
    <use href="#O" x="448.9" y="50.5"/>
    <use href="#B" x="451.4" y="126.3"/>
    <use href="#B" x="419.8" y="72.3"/>
    <use href="#B" x="429.9" y="117.4"/>
    <use href="#O" x="488.1" y="123.3"/>
    <use href="#B" x="430.3" y="124.0"/>
    <use href="#B" x="424.9" y="118.3"/>
    <use href="#B" x="431.7" y="86.6"/>
    <use href="#B" x="410.2" y="135.6"/>
    <use href="#O" x="445.9" y="45.6"/>
    <use href="#B" x="456.4" y="97.6"/>
    <use href="#B" x="435.2" y="114.8"/>
    <use href="#O" x="441.9" y="84.9"/>
    <use href="#O" x="444.3" y="26.1"/>
    <use href="#B" x="438.4" y="93.3"/>
    <use href="#O" x="458.2" y="81.8"/>
    <use href="#B" x="420.4" y="109.6"/>
    <use href="#B" x="450.9" y="110.7"/>
    <use href="#B" x="444.0" y="47.8"/>
    <use href="#B" x="449.4" y="128.0"/>
    <use href="#O" x="412.1" y="102.8"/>
    <use href="#B" x="426.0" y="73.3"/>
    <use href="#O" x="435.8" y="87.3"/>
    <use href="#B" x="426.7" y="123.2"/>
    <use href="#O" x="469.5" y="113.9"/>
    <use href="#B" x="422.1" y="114.0"/>
    <use href="#B" x="435.7" y="144.1"/>
    <use href="#B" x="418.0" y="65.5"/>
    <use href="#B" x="427.4" y="94.6"/>
    <use href="#B" x="425.2" y="98.9"/>
    <use href="#O" x="419.8" y="47.2"/>
    <use href="#O" x="436.0" y="58.8"/>
    <use href="#B" x="450.4" y="110.5"/>
    <use href="#B" x="454.0" y="64.6"/>
    <use href="#B" x="420.7" y="103.6"/>
    <use href="#B" x="430.5" y="80.6"/>
    <use href="#B" x="440.6" y="122.3"/>
    <use href="#B" x="460.8" y="94.3"/>
    <use href="#B" x="433.5" y="94.0"/>
    <use href="#O" x="443.3" y="89.2"/>
    <use href="#O" x="442.9" y="64.6"/>
    <use href="#O" x="437.6" y="75.0"/>
    <use href="#B" x="456.0" y="104.6"/>
    <use href="#O" x="453.5" y="107.9"/>
    <use href="#B" x="440.2" y="89.7"/>
    <use href="#O" x="466.2" y="44.7"/>
    <use href="#O" x="445.7" y="71.2"/>
    <use href="#B" x="448.4" y="109.9"/>
    <use href="#O" x="455.4" y="80.0"/>
    <use href="#O" x="443.7" y="67.9"/>
    <use href="#B" x="415.0" y="81.0"/>
    <use href="#B" x="468.7" y="98.7"/>
    <use href="#O" x="434.0" y="43.1"/>
    <use href="#B" x="446.6" y="120.6"/>
    <use href="#B" x="419.2" y="103.8"/>
    <use href="#O" x="435.6" y="72.6"/>
    <use href="#O" x="431.8" y="38.2"/>
    <use href="#B" x="449.6" y="111.6"/>
    <use href="#O" x="446.9" y="96.2"/>
    <use href="#B" x="440.9" y="117.0"/>
    <use href="#B" x="439.4" y="102.3"/>
    <use href="#B" x="432.4" y="84.0"/>
    <use href="#B" x="441.3" y="102.8"/>
    <use href="#B" x="445.3" y="87.5"/>
    <use href="#O" x="444.8" y="77.5"/>
    <use href="#O" x="433.7" y="88.6"/>
    <use href="#B" x="453.2" y="105.4"/>
    <use href="#B" x="454.3" y="112.9"/>
    <use href="#B" x="442.4" y="79.7"/>
    <use href="#B" x="436.2" y="116.1"/>
    <use href="#B" x="463.4" y="114.2"/>
    <use href="#B" x="432.0" y="117.2"/>
    <use href="#B" x="427.8" y="130.6"/>
    <use href="#O" x="436.7" y="124.0"/>
    <use href="#B" x="458.5" y="131.9"/>
    <use href="#O" x="430.7" y="90.1"/>
    <use href="#B" x="431.6" y="111.2"/>
    <use href="#B" x="431.0" y="106.0"/>
    <use href="#B" x="433.3" y="75.5"/>
    <use href="#O" x="447.9" y="79.3"/>
    <use href="#O" x="444.6" y="32.5"/>
    <use href="#O" x="452.3" y="42.3"/>
    <use href="#O" x="444.4" y="28.8"/>
    <use href="#B" x="435.6" y="63.8"/>
    <use href="#B" x="440.3" y="101.2"/>
    <use href="#B" x="453.0" y="132.8"/>
    <use href="#O" x="454.0" y="58.0"/>
    <use href="#B" x="440.4" y="71.5"/>
    <use href="#B" x="462.5" y="126.9"/>
    <use href="#B" x="424.6" y="133.6"/>
    <use href="#B" x="437.7" y="110.3"/>
    <use href="#B" x="456.8" y="54.2"/>
    <use href="#B" x="407.9" y="147.4"/>
    <use href="#O" x="446.1" y="27.0"/>
    <use href="#B" x="430.0" y="117.5"/>
    <use href="#O" x="422.1" y="82.4"/>
    <use href="#B" x="439.3" y="33.5"/>
    <use href="#O" x="497.8" y="39.4"/>
    <use href="#O" x="438.4" y="103.6"/>
    <use href="#O" x="456.2" y="36.5"/>
    <use href="#B" x="421.3" y="121.2"/>
    <use href="#B" x="455.1" y="92.3"/>
    <use href="#O" x="426.3" y="70.4"/>
    <use href="#O" x="508.8" y="56.3"/>
    <use href="#B" x="433.0" y="103.3"/>
    <use href="#O" x="428.5" y="52.2"/>
    <use href="#B" x="412.2" y="145.7"/>
    <use href="#B" x="452.7" y="114.6"/>
    <use href="#O" x="450.7" y="76.3"/>
    <use href="#B" x="425.6" y="81.5"/>
    <use href="#O" x="437.4" y="23.8"/>
    <use href="#B" x="438.7" y="107.3"/>
    <use href="#B" x="421.8" y="113.1"/>
    <use href="#O" x="474.5" y="73.8"/>
    <use href="#O" x="414.4" y="90.5"/>
    <use href="#B" x="429.2" y="92.8"/>
    <use href="#B" x="435.4" y="125.7"/>
    <use href="#B" x="423.8" y="115.3"/>
    <use href="#O" x="442.7" y="54.7"/>
    <use href="#B" x="428.3" y="126.0"/>
    <use href="#B" x="426.6" y="93.8"/>
    <use href="#B" x="438.3" y="130.2"/>
    <use href="#B" x="447.9" y="127.2"/>
    <use href="#O" x="435.3" y="89.8"/>
    <use href="#B" x="440.7" y="107.7"/>
    <use href="#B" x="429.4" y="89.2"/>
    <use href="#B" x="423.9" y="105.6"/>
    <use href="#B" x="433.1" y="101.8"/>
    <use href="#B" x="457.3" y="90.5"/>
    <use href="#B" x="409.4" y="149.5"/>
    <use href="#B" x="433.8" y="29.3"/>
    <use href="#B" x="427.5" y="116.4"/>
    <use href="#B" x="443.4" y="124.6"/>
    <use href="#B" x="429.1" y="134.1"/>
    <use href="#B" x="414.5" y="104.8"/>
    <use href="#O" x="425.9" y="37.4"/>
    <use href="#O" x="451.5" y="94.6"/>
    <use href="#O" x="446.7" y="39.0"/>
    <use href="#B" x="444.3" y="62.0"/>
    <use href="#B" x="423.5" y="87.0"/>
    <use href="#B" x="424.4" y="62.9"/>
    <use href="#B" x="426.3" y="79.3"/>
    <use href="#O" x="456.6" y="81.2"/>
    <use href="#B" x="461.7" y="100.5"/>
    <use href="#O" x="447.1" y="117.3"/>
    <use href="#O" x="465.3" y="87.9"/>
    <use href="#B" x="422.7" y="120.9"/>
    <use href="#B" x="416.5" y="121.4"/>
    <use href="#B" x="423.6" y="74.6"/>
    <use href="#B" x="430.6" y="110.9"/>
    <use href="#O" x="443.1" y="51.3"/>
    <use href="#O" x="437.2" y="127.4"/>
    <use href="#B" x="459.0" y="96.9"/>
    <use href="#O" x="430.4" y="57.1"/>
    <use href="#O" x="434.3" y="80.6"/>
    <use href="#B" x="422.9" y="74.2"/>
    <use href="#B" x="438.2" y="97.1"/>
    <use href="#O" x="434.6" y="75.7"/>
    <use href="#B" x="428.0" y="82.3"/>
    <use href="#B" x="425.3" y="115.1"/>
    <use href="#B" x="435.9" y="119.2"/>
    <use href="#O" x="445.5" y="35.7"/>
    <use href="#B" x="493.2" y="91.0"/>
    <use href="#B" x="437.6" y="122.9"/>
    <use href="#O" x="447.3" y="61.3"/>
    <use href="#B" x="421.2" y="77.6"/>
    <use href="#O" x="436.5" y="95.4"/>
    <use href="#B" x="433.6" y="138.2"/>
    <use href="#B" x="443.0" y="140.9"/>
    <use href="#B" x="472.1" y="93.0"/>
    <use href="#O" x="441.0" y="69.6"/>
    <use href="#B" x="436.0" y="105.8"/>
    <use href="#B" x="443.3" y="101.0"/>
    <use href="#B" x="450.2" y="109.0"/>
    <use href="#O" x="467.1" y="67.1"/>
    <use href="#B" x="422.3" y="99.7"/>
    <use href="#B" x="442.9" y="111.0"/>
    <use href="#O" x="447.6" y="109.1"/>
    <use href="#B" x="464.2" y="115.5"/>
    <use href="#B" x="417.7" y="122.0"/>
    <use href="#B" x="434.5" y="52.1"/>
    <use href="#B" x="423.2" y="125.4"/>
    <use href="#B" x="443.7" y="25.0"/>
    <use href="#O" x="481.7" y="86.1"/>
    <use href="#B" x="442.3" y="108.1"/>
    <use href="#B" x="441.6" y="107.0"/>
    <use href="#O" x="491.7" y="110.4"/>
    <use href="#B" x="432.5" y="98.2"/>
    <use href="#O" x="448.5" y="106.7"/>
    <use href="#B" x="458.1" y="139.3"/>
    <use href="#B" x="459.4" y="97.9"/>
    <use href="#O" x="439.0" y="104.4"/>
    <use href="#B" x="431.3" y="96.1"/>
    <use href="#B" x="452.2" y="118.9"/>
    <use href="#O" x="423.2" y="41.5"/>
    <use href="#O" x="464.2" y="60.5"/>
    <use href="#B" x="467.6" y="104.3"/>
    <use href="#O" x="416.4" y="76.9"/>
    <use href="#B" x="413.9" y="110.1"/>
    <use href="#O" x="446.2" y="72.0"/>
    <use href="#O" x="444.1" y="34.1"/>
    <use href="#B" x="428.1" y="109.7"/>
    <use href="#B" x="448.9" y="77.2"/>
    <use href="#B" x="416.7" y="95.6"/>
    <use href="#O" x="484.8" y="56.0"/>
    <use href="#B" x="417.5" y="50.0"/>
    <use href="#O" x="438.2" y="83.0"/>
    <use href="#O" x="434.7" y="22.8"/>
    <use href="#B" x="423.3" y="116.6"/>
    <use href="#B" x="435.0" y="90.7"/>
    <use href="#B" x="431.4" y="127.7"/>
    <use href="#B" x="450.7" y="115.9"/>
    <use href="#B" x="418.5" y="70.6"/>
    <use href="#O" x="446.4" y="97.9"/>
    <use href="#B" x="415.6" y="142.5"/>
    <use href="#O" x="437.9" y="84.3"/>
    <use href="#O" x="434.0" y="29.3"/>
    <use href="#B" x="420.6" y="105.1"/>
    <use href="#B" x="437.2" y="108.6"/>
    <use href="#B" x="443.9" y="113.3"/>
    <use href="#B" x="436.3" y="69.8"/>
    <use href="#B" x="437.9" y="99.2"/>
    <use href="#O" x="425.4" y="25.4"/>
    <use href="#B" x="428.5" y="73.7"/>
    <use href="#B" x="428.8" y="123.7"/>
    <use href="#B" x="426.4" y="68.0"/>
    <use href="#B" x="417.0" y="116.2"/>
    <use href="#B" x="441.7" y="113.5"/>
    <use href="#B" x="419.4" y="116.8"/>
    <use href="#B" x="445.8" y="131.5"/>
    <use href="#B" x="420.3" y="95.3"/>
    <use href="#B" x="442.2" y="91.5"/>
    <use href="#B" x="439.0" y="125.2"/>
    <use href="#B" x="410.9" y="131.1"/>
    <use href="#O" x="476.7" y="91.9"/>
    <use href="#B" x="436.6" y="42.1"/>
    <use href="#B" x="453.5" y="91.2"/>
    <use href="#O" x="426.7" y="78.1"/>
    <use href="#B" x="457.7" y="103.0"/>
    <use href="#O" x="455.8" y="53.8"/>
    <use href="#B" x="465.9" y="102.5"/>
    <use href="#B" x="446.3" y="78.0"/>
    <use href="#B" x="446.1" y="112.5"/>
    <use href="#O" x="429.1" y="30.7"/>
    <use href="#B" x="448.5" y="24.7"/>
    <use href="#O" x="423.9" y="93.8"/>
    <use href="#B" x="408.6" y="88.3"/>
    <use href="#B" x="432.7" y="102.0"/>
    <use href="#B" x="465.1" y="95.1"/>
    <use href="#O" x="454.9" y="27.9"/>
    <use href="#B" x="423.0" y="113.8"/>
    <use href="#B" x="422.4" y="112.3"/>
    <use href="#O" x="448.2" y="102.0"/>
    <use href="#B" x="420.1" y="117.7"/>
    <use href="#B" x="429.5" y="108.3"/>
    <use href="#O" x="435.1" y="29.7"/>
    <use href="#B" x="431.9" y="85.7"/>
    <use href="#B" x="455.6" y="127.4"/>
    <use href="#B" x="443.2" y="82.7"/>
    <use href="#B" x="418.3" y="95.8"/>
    <use href="#B" x="445.1" y="137.3"/>
    <use href="#B" x="427.2" y="100.7"/>
    <use href="#B" x="448.6" y="109.4"/>
    <use href="#B" x="441.9" y="76.7"/>
    <use href="#B" x="426.1" y="106.6"/>
    <use href="#B" x="424.7" y="92.0"/>
    <use href="#B" x="422.0" y="75.0"/>
    <use href="#O" x="441.6" y="39.8"/>
    <use href="#B" x="442.6" y="75.9"/>
    <use href="#B" x="475.5" y="107.5"/>
    <use href="#O" x="424.5" y="100.3"/>
    <use href="#B" x="420.9" y="90.2"/>
    <use href="#B" x="430.2" y="123.4"/>
    <use href="#B" x="439.2" y="68.9"/>
    <use href="#O" x="439.3" y="97.0"/>
    <use href="#B" x="451.7" y="122.6"/>
    <use href="#O" x="462.9" y="38.5"/>
    <use href="#B" x="420.0" y="121.7"/>
    <use href="#B" x="428.9" y="104.1"/>
    <use href="#B" x="452.4" y="60.7"/>
    <use href="#B" x="440.0" y="94.8"/>
    <use href="#B" x="431.1" y="56.4"/>
    <use href="#B" x="432.2" y="101.5"/>
    <use href="#O" x="436.9" y="65.4"/>
    <use href="#O" x="452.9" y="63.0"/>
    <use href="#B" x="438.6" y="134.7"/>
    <use href="#O" x="429.7" y="91.3"/>
    <use href="#B" x="436.4" y="80.2"/>
    <use href="#O" x="445.2" y="120.6"/>
    <use href="#B" x="425.0" y="108.4"/>
    <use href="#B" x="449.9" y="118.6"/>
    <use href="#B" x="443.6" y="132.3"/>
    <use href="#B" x="453.7" y="115.7"/>
    <use href="#O" x="440.0" y="33.3"/>
    <use href="#B" x="451.9" y="58.5"/>
   </g>
   <g id="matplotlib.axis_5">
    <g id="xtick_6">
     <g id="line2d_14">
      <g>
       <use href="#m810af31bf4" x="411.427776" y="159.277652" style="fill: #262626; stroke: #262626; stroke-width: 1.2"/>
      </g>
     </g>
    </g>
    <g id="xtick_7">
     <g id="line2d_15">
      <g>
       <use href="#m810af31bf4" x="455.249826" y="159.277652" style="fill: #262626; stroke: #262626; stroke-width: 1.2"/>
      </g>
     </g>
    </g>
    <g id="xtick_8">
     <g id="line2d_16">
      <g>
       <use href="#m810af31bf4" x="499.071876" y="159.277652" style="fill: #262626; stroke: #262626; stroke-width: 1.2"/>
      </g>
     </g>
    </g>
   </g>
   <g id="matplotlib.axis_6">
    <g id="ytick_9">
     <g id="line2d_17">
      <g>
       <use href="#m16c3d9d836" x="385.134545" y="158.264192" style="fill: #262626; stroke: #262626; stroke-width: 1.2"/>
      </g>
     </g>
    </g>
    <g id="ytick_10">
     <g id="line2d_18">
      <g>
       <use href="#m16c3d9d836" x="385.134545" y="112.197819" style="fill: #262626; stroke: #262626; stroke-width: 1.2"/>
      </g>
     </g>
    </g>
    <g id="ytick_11">
     <g id="line2d_19">
      <g>
       <use href="#m16c3d9d836" x="385.134545" y="66.131447" style="fill: #262626; stroke: #262626; stroke-width: 1.2"/>
      </g>
     </g>
    </g>
    <g id="ytick_12">
     <g id="line2d_20">
      <g>
       <use href="#m16c3d9d836" x="385.134545" y="20.065074" style="fill: #262626; stroke: #262626; stroke-width: 1.2"/>
      </g>
     </g>
    </g>
   </g>
   <g id="patch_9">
    <path d="M 385.13 159.28 
L 385.13 15.37 
" style="fill: none; stroke: #262626; stroke-width: 1.4; stroke-linejoin: miter; stroke-linecap: square"/>
   </g>
   <g id="patch_10">
    <path d="M 385.13 159.28 
L 539.61 159.28 
" style="fill: none; stroke: #262626; stroke-width: 1.4; stroke-linejoin: miter; stroke-linecap: square"/>
   </g>
  </g>
  <g id="axes_5">
   <g id="patch_11">
    <path d="M 551.78 159.28 
L 706.25 159.28 
L 706.25 15.37 
L 551.78 15.37 
z
" style="fill: #ffffff"/>
   </g>
   <g id="PathCollection_3">
    <defs>
     <path id="C2_0_623b9ded61" d="M 0 3 
C 0.8 3 1.56 2.68 2.12 2.12 
C 2.68 1.56 3 0.8 3 -0 
C 3 -0.8 2.68 -1.56 2.12 -2.12 
C 1.56 -2.68 0.8 -3 0 -3 
C -0.8 -3 -1.56 -2.68 -2.12 -2.12 
C -2.68 -1.56 -3 -0.8 -3 0 
C -3 0.8 -2.68 1.56 -2.12 2.12 
C -1.56 2.68 -0.8 3 0 3 
z
"/>
    </defs>
    <use href="#O" x="638.9" y="73.2"/>
    <use href="#B" x="598.4" y="89.9"/>
    <use href="#B" x="631.7" y="37.8"/>
    <use href="#B" x="607.5" y="106.2"/>
    <use href="#O" x="613.1" y="48.0"/>
    <use href="#B" x="598.9" y="111.4"/>
    <use href="#B" x="621.2" y="124.3"/>
    <use href="#B" x="596.4" y="112.2"/>
    <use href="#O" x="621.5" y="23.1"/>
    <use href="#B" x="617.6" y="92.5"/>
    <use href="#O" x="627.9" y="101.1"/>
    <use href="#B" x="624.2" y="98.4"/>
    <use href="#B" x="650.2" y="91.7"/>
    <use href="#B" x="605.6" y="84.9"/>
    <use href="#B" x="608.2" y="119.7"/>
    <use href="#B" x="619.9" y="99.4"/>
    <use href="#B" x="591.9" y="136.5"/>
    <use href="#B" x="619.1" y="118.0"/>
    <use href="#O" x="609.8" y="24.6"/>
    <use href="#O" x="637.7" y="62.1"/>
    <use href="#B" x="611.1" y="151.7"/>
    <use href="#O" x="624.6" y="55.5"/>
    <use href="#B" x="632.0" y="126.6"/>
    <use href="#B" x="599.2" y="91.0"/>
    <use href="#O" x="588.2" y="130.8"/>
    <use href="#O" x="625.8" y="31.6"/>
    <use href="#O" x="626.9" y="93.0"/>
    <use href="#B" x="610.1" y="78.9"/>
    <use href="#B" x="629.8" y="84.5"/>
    <use href="#O" x="636.9" y="92.1"/>
    <use href="#O" x="642.0" y="105.4"/>
    <use href="#O" x="621.8" y="63.8"/>
    <use href="#B" x="623.2" y="111.8"/>
    <use href="#B" x="613.9" y="85.3"/>
    <use href="#B" x="621.5" y="67.2"/>
    <use href="#B" x="606.4" y="100.0"/>
    <use href="#B" x="628.9" y="83.2"/>
    <use href="#B" x="609.3" y="107.1"/>
    <use href="#O" x="648.3" y="66.3"/>
    <use href="#O" x="618.1" y="49.7"/>
    <use href="#O" x="606.9" y="83.6"/>
    <use href="#B" x="603.5" y="107.9"/>
    <use href="#B" x="607.3" y="112.0"/>
    <use href="#B" x="603.8" y="133.2"/>
    <use href="#B" x="614.1" y="45.7"/>
    <use href="#B" x="634.1" y="72.9"/>
    <use href="#B" x="583.5" y="109.2"/>
    <use href="#O" x="611.8" y="59.6"/>
    <use href="#B" x="587.0" y="113.6"/>
    <use href="#O" x="620.0" y="68.8"/>
    <use href="#B" x="585.6" y="108.8"/>
    <use href="#B" x="582.4" y="97.4"/>
    <use href="#B" x="609.9" y="124.9"/>
    <use href="#O" x="612.2" y="99.5"/>
    <use href="#B" x="601.0" y="106.8"/>
    <use href="#O" x="653.0" y="78.7"/>
    <use href="#B" x="594.5" y="128.3"/>
    <use href="#B" x="606.9" y="119.4"/>
    <use href="#B" x="617.9" y="128.9"/>
    <use href="#O" x="636.0" y="48.9"/>
    <use href="#B" x="622.2" y="128.6"/>
    <use href="#B" x="600.8" y="87.9"/>
    <use href="#B" x="590.0" y="88.7"/>
    <use href="#B" x="643.9" y="114.9"/>
    <use href="#B" x="647.3" y="66.3"/>
    <use href="#B" x="608.9" y="96.4"/>
    <use href="#B" x="586.0" y="129.8"/>
    <use href="#B" x="633.9" y="120.0"/>
    <use href="#B" x="628.4" y="86.2"/>
    <use href="#O" x="645.1" y="111.6"/>
    <use href="#O" x="630.7" y="43.9"/>
    <use href="#B" x="620.7" y="76.3"/>
    <use href="#B" x="618.1" y="96.6"/>
    <use href="#O" x="627.2" y="34.9"/>
    <use href="#B" x="601.4" y="83.6"/>
    <use href="#O" x="620.6" y="98.7"/>
    <use href="#B" x="672.3" y="111.3"/>
    <use href="#O" x="626.5" y="86.7"/>
    <use href="#O" x="652.6" y="46.8"/>
    <use href="#B" x="591.1" y="89.4"/>
    <use href="#O" x="646.9" y="53.0"/>
    <use href="#O" x="644.4" y="22.3"/>
    <use href="#B" x="631.1" y="129.3"/>
    <use href="#O" x="619.1" y="74.4"/>
    <use href="#O" x="627.6" y="40.6"/>
    <use href="#B" x="624.3" y="52.3"/>
    <use href="#B" x="583.0" y="114.4"/>
    <use href="#O" x="615.6" y="85.5"/>
    <use href="#B" x="643.5" y="78.5"/>
    <use href="#O" x="647.6" y="85.5"/>
    <use href="#B" x="597.7" y="112.7"/>
    <use href="#B" x="622.9" y="81.9"/>
    <use href="#B" x="602.4" y="100.2"/>
    <use href="#B" x="586.4" y="120.3"/>
    <use href="#O" x="629.7" y="46.4"/>
    <use href="#B" x="585.4" y="106.4"/>
    <use href="#B" x="630.2" y="93.5"/>
    <use href="#O" x="620.9" y="50.5"/>
    <use href="#B" x="602.1" y="126.3"/>
    <use href="#B" x="610.5" y="72.3"/>
    <use href="#B" x="618.9" y="117.4"/>
    <use href="#O" x="640.7" y="123.3"/>
    <use href="#B" x="612.6" y="124.0"/>
    <use href="#B" x="590.2" y="118.3"/>
    <use href="#B" x="619.5" y="86.6"/>
    <use href="#B" x="585.1" y="135.6"/>
    <use href="#O" x="632.0" y="45.6"/>
    <use href="#B" x="635.4" y="97.6"/>
    <use href="#B" x="627.2" y="114.8"/>
    <use href="#O" x="631.0" y="84.9"/>
    <use href="#O" x="638.5" y="26.1"/>
    <use href="#B" x="613.6" y="93.3"/>
    <use href="#O" x="623.1" y="81.8"/>
    <use href="#B" x="608.6" y="109.6"/>
    <use href="#B" x="636.0" y="110.7"/>
    <use href="#B" x="632.7" y="47.8"/>
    <use href="#B" x="632.2" y="128.0"/>
    <use href="#O" x="607.5" y="102.8"/>
    <use href="#B" x="595.4" y="73.3"/>
    <use href="#O" x="623.9" y="87.3"/>
    <use href="#B" x="611.7" y="123.2"/>
    <use href="#O" x="661.6" y="113.9"/>
    <use href="#B" x="617.0" y="114.0"/>
    <use href="#B" x="636.3" y="144.1"/>
    <use href="#B" x="601.2" y="65.5"/>
    <use href="#B" x="597.5" y="94.6"/>
    <use href="#B" x="614.6" y="98.9"/>
    <use href="#O" x="601.6" y="47.2"/>
    <use href="#O" x="617.4" y="58.8"/>
    <use href="#B" x="630.5" y="110.5"/>
    <use href="#B" x="593.2" y="64.6"/>
    <use href="#B" x="609.5" y="103.6"/>
    <use href="#B" x="618.4" y="80.6"/>
    <use href="#B" x="637.9" y="122.3"/>
    <use href="#B" x="625.0" y="94.3"/>
    <use href="#B" x="588.1" y="94.0"/>
    <use href="#O" x="612.7" y="89.2"/>
    <use href="#O" x="609.4" y="64.6"/>
    <use href="#O" x="628.2" y="75.0"/>
    <use href="#B" x="615.8" y="104.6"/>
    <use href="#O" x="611.4" y="107.9"/>
    <use href="#B" x="633.7" y="89.7"/>
    <use href="#O" x="628.5" y="44.7"/>
    <use href="#O" x="622.8" y="71.2"/>
    <use href="#B" x="612.8" y="109.9"/>
    <use href="#O" x="637.3" y="80.0"/>
    <use href="#O" x="608.1" y="67.9"/>
    <use href="#B" x="600.3" y="81.0"/>
    <use href="#B" x="640.3" y="98.7"/>
    <use href="#O" x="596.4" y="43.1"/>
    <use href="#B" x="599.9" y="120.6"/>
    <use href="#B" x="605.0" y="103.8"/>
    <use href="#O" x="629.1" y="72.6"/>
    <use href="#O" x="614.6" y="38.2"/>
    <use href="#B" x="610.8" y="111.6"/>
    <use href="#O" x="638.1" y="96.2"/>
    <use href="#B" x="634.4" y="117.0"/>
    <use href="#B" x="620.3" y="102.3"/>
    <use href="#B" x="607.8" y="84.0"/>
    <use href="#B" x="617.3" y="102.8"/>
    <use href="#B" x="601.9" y="87.5"/>
    <use href="#O" x="614.1" y="77.5"/>
    <use href="#O" x="619.4" y="88.6"/>
    <use href="#B" x="620.9" y="105.4"/>
    <use href="#B" x="635.2" y="112.9"/>
    <use href="#B" x="643.0" y="79.7"/>
    <use href="#B" x="617.8" y="116.1"/>
    <use href="#B" x="621.6" y="114.2"/>
    <use href="#B" x="594.9" y="117.2"/>
    <use href="#B" x="614.9" y="130.6"/>
    <use href="#O" x="602.8" y="124.0"/>
    <use href="#B" x="629.4" y="131.9"/>
    <use href="#O" x="608.7" y="90.1"/>
    <use href="#B" x="610.3" y="111.2"/>
    <use href="#B" x="618.5" y="106.0"/>
    <use href="#B" x="622.3" y="75.5"/>
    <use href="#O" x="613.6" y="79.3"/>
    <use href="#O" x="617.0" y="32.5"/>
    <use href="#O" x="635.5" y="42.3"/>
    <use href="#O" x="643.2" y="28.8"/>
    <use href="#B" x="612.1" y="63.8"/>
    <use href="#B" x="621.3" y="101.2"/>
    <use href="#B" x="636.7" y="132.8"/>
    <use href="#O" x="642.6" y="58.0"/>
    <use href="#B" x="644.4" y="71.5"/>
    <use href="#B" x="639.6" y="126.9"/>
    <use href="#B" x="600.5" y="133.6"/>
    <use href="#B" x="614.4" y="110.3"/>
    <use href="#B" x="619.2" y="54.2"/>
    <use href="#B" x="580.1" y="147.4"/>
    <use href="#O" x="625.0" y="27.0"/>
    <use href="#B" x="587.6" y="117.5"/>
    <use href="#O" x="598.6" y="82.4"/>
    <use href="#B" x="604.1" y="33.5"/>
    <use href="#O" x="677.8" y="39.4"/>
    <use href="#O" x="623.5" y="103.6"/>
    <use href="#O" x="634.1" y="36.5"/>
    <use href="#B" x="589.8" y="121.2"/>
    <use href="#B" x="626.5" y="92.3"/>
    <use href="#O" x="606.2" y="70.4"/>
    <use href="#O" x="641.5" y="56.3"/>
    <use href="#B" x="587.9" y="103.3"/>
    <use href="#O" x="631.3" y="52.2"/>
    <use href="#B" x="596.8" y="145.7"/>
    <use href="#B" x="616.4" y="114.6"/>
    <use href="#O" x="651.0" y="76.3"/>
    <use href="#B" x="620.4" y="81.5"/>
    <use href="#O" x="622.4" y="23.8"/>
    <use href="#B" x="623.4" y="107.3"/>
    <use href="#B" x="589.0" y="113.1"/>
    <use href="#O" x="641.0" y="73.8"/>
    <use href="#O" x="604.1" y="90.5"/>
    <use href="#B" x="592.5" y="92.8"/>
    <use href="#B" x="608.4" y="125.7"/>
    <use href="#B" x="603.2" y="115.3"/>
    <use href="#O" x="625.4" y="54.7"/>
    <use href="#B" x="623.7" y="126.0"/>
    <use href="#B" x="597.4" y="93.8"/>
    <use href="#B" x="602.9" y="130.2"/>
    <use href="#B" x="645.2" y="127.2"/>
    <use href="#O" x="631.7" y="89.8"/>
    <use href="#B" x="618.7" y="107.7"/>
    <use href="#B" x="605.3" y="89.2"/>
    <use href="#B" x="604.7" y="105.6"/>
    <use href="#B" x="595.7" y="101.8"/>
    <use href="#B" x="623.9" y="90.5"/>
    <use href="#B" x="586.2" y="149.5"/>
    <use href="#B" x="639.0" y="29.3"/>
    <use href="#B" x="611.9" y="116.4"/>
    <use href="#B" x="621.8" y="124.6"/>
    <use href="#B" x="604.4" y="134.1"/>
    <use href="#B" x="588.8" y="104.8"/>
    <use href="#O" x="591.6" y="37.4"/>
    <use href="#O" x="640.6" y="94.6"/>
    <use href="#O" x="619.7" y="39.0"/>
    <use href="#B" x="620.0" y="62.0"/>
    <use href="#B" x="641.5" y="87.0"/>
    <use href="#B" x="597.0" y="62.9"/>
    <use href="#B" x="617.1" y="79.3"/>
    <use href="#O" x="609.0" y="81.2"/>
    <use href="#B" x="648.8" y="100.5"/>
    <use href="#O" x="617.8" y="117.3"/>
    <use href="#O" x="640.1" y="87.9"/>
    <use href="#B" x="616.2" y="120.9"/>
    <use href="#B" x="599.6" y="121.4"/>
    <use href="#B" x="591.6" y="74.6"/>
    <use href="#B" x="619.8" y="110.9"/>
    <use href="#O" x="647.6" y="51.3"/>
    <use href="#O" x="605.3" y="127.4"/>
    <use href="#B" x="635.7" y="96.9"/>
    <use href="#O" x="616.6" y="57.1"/>
    <use href="#O" x="584.8" y="80.6"/>
    <use href="#B" x="607.1" y="74.2"/>
    <use href="#B" x="612.4" y="97.1"/>
    <use href="#O" x="610.6" y="75.7"/>
    <use href="#B" x="637.5" y="82.3"/>
    <use href="#B" x="598.6" y="115.1"/>
    <use href="#B" x="584.3" y="119.2"/>
    <use href="#O" x="639.3" y="35.7"/>
    <use href="#B" x="628.0" y="91.0"/>
    <use href="#B" x="601.7" y="122.9"/>
    <use href="#O" x="646.3" y="61.3"/>
    <use href="#B" x="586.8" y="77.6"/>
    <use href="#O" x="643.8" y="95.4"/>
    <use href="#B" x="640.9" y="138.2"/>
    <use href="#B" x="622.0" y="140.9"/>
    <use href="#B" x="658.8" y="93.0"/>
    <use href="#O" x="610.2" y="69.6"/>
    <use href="#B" x="613.4" y="105.8"/>
    <use href="#B" x="633.4" y="101.0"/>
    <use href="#B" x="616.8" y="109.0"/>
    <use href="#O" x="618.8" y="67.1"/>
    <use href="#B" x="606.6" y="99.7"/>
    <use href="#B" x="589.6" y="111.0"/>
    <use href="#O" x="600.6" y="109.1"/>
    <use href="#B" x="619.3" y="115.5"/>
    <use href="#B" x="590.4" y="122.0"/>
    <use href="#B" x="622.5" y="52.1"/>
    <use href="#B" x="590.9" y="125.4"/>
    <use href="#B" x="611.5" y="25.0"/>
    <use href="#O" x="649.9" y="86.1"/>
    <use href="#B" x="608.7" y="108.1"/>
    <use href="#B" x="646.7" y="107.0"/>
    <use href="#O" x="622.1" y="110.4"/>
    <use href="#B" x="585.8" y="98.2"/>
    <use href="#O" x="649.0" y="106.7"/>
    <use href="#B" x="620.6" y="139.3"/>
    <use href="#B" x="625.9" y="97.9"/>
    <use href="#O" x="616.1" y="104.4"/>
    <use href="#B" x="584.6" y="96.1"/>
    <use href="#B" x="624.6" y="118.9"/>
    <use href="#O" x="624.2" y="41.5"/>
    <use href="#O" x="630.0" y="60.5"/>
    <use href="#B" x="616.6" y="104.3"/>
    <use href="#O" x="635.1" y="76.9"/>
    <use href="#B" x="625.4" y="110.1"/>
    <use href="#O" x="628.8" y="72.0"/>
    <use href="#O" x="611.0" y="34.1"/>
    <use href="#B" x="590.6" y="109.7"/>
    <use href="#B" x="638.4" y="77.2"/>
    <use href="#B" x="589.4" y="95.6"/>
    <use href="#O" x="665.2" y="56.0"/>
    <use href="#B" x="595.9" y="50.0"/>
    <use href="#O" x="630.4" y="83.0"/>
    <use href="#O" x="614.4" y="22.8"/>
    <use href="#B" x="588.6" y="116.6"/>
    <use href="#B" x="613.1" y="90.7"/>
    <use href="#B" x="598.7" y="127.7"/>
    <use href="#B" x="619.6" y="115.9"/>
    <use href="#B" x="589.2" y="70.6"/>
    <use href="#O" x="645.7" y="97.9"/>
    <use href="#B" x="587.4" y="142.5"/>
    <use href="#O" x="626.2" y="84.3"/>
    <use href="#O" x="607.2" y="29.3"/>
    <use href="#B" x="593.6" y="105.1"/>
    <use href="#B" x="616.0" y="108.6"/>
    <use href="#B" x="605.9" y="113.3"/>
    <use href="#B" x="630.8" y="69.8"/>
    <use href="#B" x="634.9" y="99.2"/>
    <use href="#O" x="620.3" y="25.4"/>
    <use href="#B" x="618.2" y="73.7"/>
    <use href="#B" x="615.6" y="123.7"/>
    <use href="#B" x="606.1" y="68.0"/>
    <use href="#B" x="588.5" y="116.2"/>
    <use href="#B" x="620.2" y="113.5"/>
    <use href="#B" x="599.8" y="116.8"/>
    <use href="#B" x="637.1" y="131.5"/>
    <use href="#B" x="599.4" y="95.3"/>
    <use href="#B" x="608.0" y="91.5"/>
    <use href="#B" x="591.4" y="125.2"/>
    <use href="#B" x="600.6" y="131.1"/>
    <use href="#O" x="656.7" y="91.9"/>
    <use href="#B" x="598.2" y="42.1"/>
    <use href="#B" x="631.4" y="91.2"/>
    <use href="#O" x="629.4" y="78.1"/>
    <use href="#B" x="622.7" y="103.0"/>
    <use href="#O" x="599.6" y="53.8"/>
    <use href="#B" x="648.0" y="102.5"/>
    <use href="#B" x="596.6" y="78.0"/>
    <use href="#B" x="597.2" y="112.5"/>
    <use href="#O" x="634.6" y="30.7"/>
    <use href="#B" x="635.2" y="24.7"/>
    <use href="#O" x="594.7" y="93.8"/>
    <use href="#B" x="581.6" y="88.3"/>
    <use href="#B" x="583.9" y="102.0"/>
    <use href="#B" x="632.9" y="95.1"/>
    <use href="#O" x="636.4" y="27.9"/>
    <use href="#B" x="598.1" y="113.8"/>
    <use href="#B" x="596.1" y="112.3"/>
    <use href="#O" x="615.2" y="102.0"/>
    <use href="#B" x="586.6" y="117.7"/>
    <use href="#B" x="587.7" y="108.3"/>
    <use href="#O" x="632.4" y="29.7"/>
    <use href="#B" x="621.0" y="85.7"/>
    <use href="#B" x="646.2" y="127.4"/>
    <use href="#B" x="610.6" y="82.7"/>
    <use href="#B" x="609.7" y="95.8"/>
    <use href="#B" x="600.1" y="137.3"/>
    <use href="#B" x="633.2" y="100.7"/>
    <use href="#B" x="627.8" y="109.4"/>
    <use href="#B" x="592.2" y="76.7"/>
    <use href="#B" x="587.2" y="106.6"/>
    <use href="#B" x="588.3" y="92.0"/>
    <use href="#B" x="599.1" y="75.0"/>
    <use href="#O" x="632.8" y="39.8"/>
    <use href="#B" x="642.6" y="75.9"/>
    <use href="#B" x="644.8" y="107.5"/>
    <use href="#O" x="608.6" y="100.3"/>
    <use href="#B" x="592.9" y="90.2"/>
    <use href="#B" x="618.8" y="123.4"/>
    <use href="#B" x="645.7" y="68.9"/>
    <use href="#O" x="621.2" y="97.0"/>
    <use href="#B" x="634.6" y="122.6"/>
    <use href="#O" x="644.0" y="38.5"/>
    <use href="#B" x="584.9" y="121.7"/>
    <use href="#B" x="609.1" y="104.1"/>
    <use href="#B" x="615.1" y="60.7"/>
    <use href="#B" x="642.1" y="94.8"/>
    <use href="#B" x="594.2" y="56.4"/>
    <use href="#B" x="595.1" y="101.5"/>
    <use href="#O" x="633.7" y="65.4"/>
    <use href="#O" x="639.7" y="63.0"/>
    <use href="#B" x="615.4" y="134.7"/>
    <use href="#O" x="618.4" y="91.3"/>
    <use href="#B" x="602.6" y="80.2"/>
    <use href="#O" x="633.2" y="120.6"/>
    <use href="#B" x="597.9" y="108.4"/>
    <use href="#B" x="632.5" y="118.6"/>
    <use href="#B" x="611.3" y="132.3"/>
    <use href="#B" x="593.9" y="115.7"/>
    <use href="#O" x="597.6" y="33.3"/>
    <use href="#B" x="617.5" y="58.5"/>
   </g>
   <g id="matplotlib.axis_7">
    <g id="xtick_9">
     <g id="line2d_21">
      <g>
       <use href="#m810af31bf4" x="565.824793" y="159.277652" style="fill: #262626; stroke: #262626; stroke-width: 1.2"/>
      </g>
     </g>
    </g>
    <g id="xtick_10">
     <g id="line2d_22">
      <g>
       <use href="#m810af31bf4" x="610.264588" y="159.277652" style="fill: #262626; stroke: #262626; stroke-width: 1.2"/>
      </g>
     </g>
    </g>
    <g id="xtick_11">
     <g id="line2d_23">
      <g>
       <use href="#m810af31bf4" x="654.704383" y="159.277652" style="fill: #262626; stroke: #262626; stroke-width: 1.2"/>
      </g>
     </g>
    </g>
    <g id="xtick_12">
     <g id="line2d_24">
      <g>
       <use href="#m810af31bf4" x="699.144178" y="159.277652" style="fill: #262626; stroke: #262626; stroke-width: 1.2"/>
      </g>
     </g>
    </g>
   </g>
   <g id="matplotlib.axis_8">
    <g id="ytick_13">
     <g id="line2d_25">
      <g>
       <use href="#m16c3d9d836" x="551.781818" y="158.264192" style="fill: #262626; stroke: #262626; stroke-width: 1.2"/>
      </g>
     </g>
    </g>
    <g id="ytick_14">
     <g id="line2d_26">
      <g>
       <use href="#m16c3d9d836" x="551.781818" y="112.197819" style="fill: #262626; stroke: #262626; stroke-width: 1.2"/>
      </g>
     </g>
    </g>
    <g id="ytick_15">
     <g id="line2d_27">
      <g>
       <use href="#m16c3d9d836" x="551.781818" y="66.131447" style="fill: #262626; stroke: #262626; stroke-width: 1.2"/>
      </g>
     </g>
    </g>
    <g id="ytick_16">
     <g id="line2d_28">
      <g>
       <use href="#m16c3d9d836" x="551.781818" y="20.065074" style="fill: #262626; stroke: #262626; stroke-width: 1.2"/>
      </g>
     </g>
    </g>
   </g>
   <g id="patch_12">
    <path d="M 551.78 159.28 
L 551.78 15.37 
" style="fill: none; stroke: #262626; stroke-width: 1.4; stroke-linejoin: miter; stroke-linecap: square"/>
   </g>
   <g id="patch_13">
    <path d="M 551.78 159.28 
L 706.25 159.28 
" style="fill: none; stroke: #262626; stroke-width: 1.4; stroke-linejoin: miter; stroke-linecap: square"/>
   </g>
  </g>
  <g id="axes_6">
   <g id="patch_14">
    <path d="M 51.84 309.1 
L 206.31 309.1 
L 206.31 165.19 
L 51.84 165.19 
z
" style="fill: #ffffff"/>
   </g>
   <g id="PathCollection_4">
    <defs>
     <path id="C3_0_623b9ded61" d="M 0 3 
C 0.8 3 1.56 2.68 2.12 2.12 
C 2.68 1.56 3 0.8 3 -0 
C 3 -0.8 2.68 -1.56 2.12 -2.12 
C 1.56 -2.68 0.8 -3 0 -3 
C -0.8 -3 -1.56 -2.68 -2.12 -2.12 
C -2.68 -1.56 -3 -0.8 -3 0 
C -3 0.8 -2.68 1.56 -2.12 2.12 
C -1.56 2.68 -0.8 3 0 3 
z
"/>
    </defs>
    <use href="#O" x="135.8" y="295.9"/>
    <use href="#B" x="122.9" y="289.9"/>
    <use href="#B" x="163.1" y="295.6"/>
    <use href="#B" x="110.3" y="288.4"/>
    <use href="#O" x="155.2" y="257.0"/>
    <use href="#B" x="106.3" y="293.7"/>
    <use href="#B" x="96.3" y="297.7"/>
    <use href="#B" x="105.7" y="290.3"/>
    <use href="#O" x="174.5" y="253.7"/>
    <use href="#B" x="120.9" y="289.1"/>
    <use href="#O" x="114.2" y="281.2"/>
    <use href="#B" x="116.3" y="293.2"/>
    <use href="#B" x="121.5" y="280.9"/>
    <use href="#B" x="126.8" y="288.7"/>
    <use href="#B" x="99.9" y="296.1"/>
    <use href="#B" x="115.5" y="277.5"/>
    <use href="#B" x="87.0" y="302.0"/>
    <use href="#B" x="101.2" y="295.5"/>
    <use href="#O" x="173.3" y="274.6"/>
    <use href="#O" x="144.3" y="267.4"/>
    <use href="#B" x="75.2" y="300.6"/>
    <use href="#O" x="149.5" y="279.5"/>
    <use href="#B" x="94.6" y="294.0"/>
    <use href="#B" x="122.1" y="257.2"/>
    <use href="#O" x="91.3" y="297.1"/>
    <use href="#O" x="167.9" y="283.7"/>
    <use href="#O" x="120.5" y="280.0"/>
    <use href="#B" x="131.4" y="288.2"/>
    <use href="#B" x="127.1" y="273.2"/>
    <use href="#O" x="121.2" y="268.0"/>
    <use href="#O" x="110.9" y="298.3"/>
    <use href="#O" x="143.1" y="268.4"/>
    <use href="#B" x="106.0" y="295.7"/>
    <use href="#B" x="126.4" y="276.4"/>
    <use href="#B" x="140.4" y="264.1"/>
    <use href="#B" x="115.1" y="266.5"/>
    <use href="#B" x="128.1" y="250.3"/>
    <use href="#B" x="109.6" y="292.1"/>
    <use href="#O" x="141.1" y="243.5"/>
    <use href="#O" x="153.9" y="287.4"/>
    <use href="#O" x="127.7" y="231.1"/>
    <use href="#B" x="109.0" y="283.8"/>
    <use href="#B" x="105.9" y="289.2"/>
    <use href="#B" x="89.5" y="295.9"/>
    <use href="#B" x="157.0" y="289.5"/>
    <use href="#B" x="136.0" y="281.7"/>
    <use href="#B" x="108.0" y="279.3"/>
    <use href="#O" x="146.3" y="255.6"/>
    <use href="#B" x="104.6" y="292.8"/>
    <use href="#O" x="139.2" y="290.5"/>
    <use href="#B" x="108.3" y="297.4"/>
    <use href="#B" x="117.1" y="273.8"/>
    <use href="#B" x="95.9" y="291.0"/>
    <use href="#O" x="115.5" y="290.2"/>
    <use href="#B" x="109.9" y="291.5"/>
    <use href="#O" x="131.5" y="285.0"/>
    <use href="#B" x="93.3" y="292.4"/>
    <use href="#B" x="100.1" y="296.0"/>
    <use href="#B" x="92.8" y="271.7"/>
    <use href="#O" x="154.6" y="263.0"/>
    <use href="#B" x="93.0" y="295.7"/>
    <use href="#B" x="124.5" y="292.8"/>
    <use href="#B" x="123.8" y="286.4"/>
    <use href="#B" x="103.6" y="276.7"/>
    <use href="#B" x="141.1" y="265.9"/>
    <use href="#B" x="117.9" y="296.6"/>
    <use href="#B" x="92.1" y="278.5"/>
    <use href="#B" x="99.6" y="279.6"/>
    <use href="#B" x="125.8" y="270.8"/>
    <use href="#O" x="106.2" y="258.5"/>
    <use href="#O" x="158.4" y="260.8"/>
    <use href="#B" x="133.4" y="289.0"/>
    <use href="#B" x="117.7" y="263.5"/>
    <use href="#O" x="165.3" y="257.8"/>
    <use href="#B" x="127.8" y="277.2"/>
    <use href="#O" x="116.1" y="292.4"/>
    <use href="#B" x="106.4" y="287.3"/>
    <use href="#O" x="125.4" y="276.1"/>
    <use href="#O" x="156.2" y="212.9"/>
    <use href="#B" x="123.3" y="277.7"/>
    <use href="#O" x="151.4" y="284.2"/>
    <use href="#O" x="175.1" y="269.8"/>
    <use href="#B" x="92.4" y="294.2"/>
    <use href="#O" x="134.8" y="282.9"/>
    <use href="#O" x="160.9" y="276.4"/>
    <use href="#B" x="151.9" y="197.2"/>
    <use href="#B" x="104.0" y="296.4"/>
    <use href="#O" x="126.3" y="272.4"/>
    <use href="#B" x="131.7" y="282.1"/>
    <use href="#O" x="126.3" y="284.2"/>
    <use href="#B" x="105.3" y="285.0"/>
    <use href="#B" x="129.1" y="285.4"/>
    <use href="#B" x="114.9" y="283.1"/>
    <use href="#B" x="99.4" y="292.9"/>
    <use href="#O" x="156.5" y="234.3"/>
    <use href="#B" x="110.2" y="292.6"/>
    <use href="#B" x="120.1" y="285.9"/>
    <use href="#O" x="153.3" y="266.7"/>
    <use href="#B" x="94.8" y="294.7"/>
    <use href="#B" x="136.5" y="268.9"/>
    <use href="#B" x="101.7" y="290.6"/>
    <use href="#O" x="97.1" y="289.0"/>
    <use href="#B" x="96.6" y="299.1"/>
    <use href="#B" x="101.0" y="288.5"/>
    <use href="#B" x="125.4" y="293.5"/>
    <use href="#B" x="87.6" y="299.4"/>
    <use href="#O" x="157.1" y="283.3"/>
    <use href="#B" x="116.9" y="297.1"/>
    <use href="#B" x="103.7" y="289.3"/>
    <use href="#O" x="126.8" y="277.5"/>
    <use href="#O" x="172.1" y="275.0"/>
    <use href="#B" x="120.3" y="282.7"/>
    <use href="#O" x="129.1" y="280.6"/>
    <use href="#B" x="107.7" y="287.0"/>
    <use href="#B" x="106.9" y="281.2"/>
    <use href="#B" x="155.4" y="290.5"/>
    <use href="#B" x="93.5" y="289.6"/>
    <use href="#O" x="112.9" y="271.3"/>
    <use href="#B" x="135.7" y="289.4"/>
    <use href="#O" x="124.9" y="291.7"/>
    <use href="#B" x="97.2" y="298.6"/>
    <use href="#O" x="104.4" y="282.3"/>
    <use href="#B" x="104.3" y="301.3"/>
    <use href="#B" x="81.0" y="301.5"/>
    <use href="#B" x="141.8" y="281.5"/>
    <use href="#B" x="119.3" y="296.5"/>
    <use href="#B" x="115.9" y="291.7"/>
    <use href="#O" x="155.9" y="265.2"/>
    <use href="#O" x="146.9" y="271.7"/>
    <use href="#B" x="107.0" y="298.0"/>
    <use href="#B" x="142.4" y="286.3"/>
    <use href="#B" x="112.3" y="298.8"/>
    <use href="#B" x="130.1" y="275.1"/>
    <use href="#B" x="97.9" y="286.1"/>
    <use href="#B" x="119.5" y="298.1"/>
    <use href="#B" x="119.7" y="276.9"/>
    <use href="#O" x="123.5" y="284.0"/>
    <use href="#O" x="142.4" y="286.7"/>
    <use href="#O" x="134.4" y="285.6"/>
    <use href="#B" x="111.5" y="295.0"/>
    <use href="#O" x="109.0" y="252.1"/>
    <use href="#B" x="123.1" y="291.9"/>
    <use href="#O" x="157.8" y="275.3"/>
    <use href="#O" x="137.3" y="286.0"/>
    <use href="#B" x="107.4" y="293.8"/>
    <use href="#O" x="130.6" y="286.3"/>
    <use href="#O" x="139.9" y="270.2"/>
    <use href="#B" x="129.7" y="272.5"/>
    <use href="#B" x="116.1" y="295.8"/>
    <use href="#O" x="159.0" y="227.8"/>
    <use href="#B" x="99.2" y="288.6"/>
    <use href="#B" x="112.1" y="299.8"/>
    <use href="#O" x="136.3" y="248.9"/>
    <use href="#O" x="162.8" y="273.1"/>
    <use href="#B" x="106.1" y="291.4"/>
    <use href="#O" x="118.0" y="280.8"/>
    <use href="#B" x="102.0" y="292.0"/>
    <use href="#B" x="113.3" y="288.9"/>
    <use href="#B" x="127.4" y="283.0"/>
    <use href="#B" x="112.9" y="290.0"/>
    <use href="#B" x="124.8" y="278.8"/>
    <use href="#O" x="132.5" y="294.3"/>
    <use href="#O" x="123.9" y="277.2"/>
    <use href="#B" x="111.0" y="280.1"/>
    <use href="#B" x="105.1" y="285.2"/>
    <use href="#B" x="130.7" y="287.1"/>
    <use href="#B" x="102.7" y="294.3"/>
    <use href="#B" x="104.1" y="293.0"/>
    <use href="#B" x="101.8" y="279.1"/>
    <use href="#B" x="91.5" y="291.8"/>
    <use href="#O" x="96.6" y="280.4"/>
    <use href="#B" x="90.5" y="296.3"/>
    <use href="#O" x="122.7" y="209.8"/>
    <use href="#B" x="106.4" y="273.5"/>
    <use href="#B" x="110.4" y="288.3"/>
    <use href="#B" x="134.0" y="284.4"/>
    <use href="#O" x="131.0" y="289.1"/>
    <use href="#O" x="167.2" y="262.2"/>
    <use href="#O" x="159.7" y="256.3"/>
    <use href="#O" x="170.0" y="283.5"/>
    <use href="#B" x="143.1" y="265.3"/>
    <use href="#B" x="114.1" y="284.3"/>
    <use href="#B" x="89.8" y="293.6"/>
    <use href="#O" x="147.5" y="281.4"/>
    <use href="#B" x="137.1" y="283.6"/>
    <use href="#B" x="94.4" y="282.3"/>
    <use href="#B" x="89.1" y="300.8"/>
    <use href="#B" x="107.1" y="246.2"/>
    <use href="#B" x="150.4" y="300.1"/>
    <use href="#B" x="78.5" y="301.8"/>
    <use href="#O" x="171.5" y="279.3"/>
    <use href="#B" x="101.6" y="290.2"/>
    <use href="#O" x="128.7" y="282.5"/>
    <use href="#B" x="166.4" y="270.2"/>
    <use href="#O" x="161.9" y="302.6"/>
    <use href="#O" x="112.3" y="278.3"/>
    <use href="#O" x="164.1" y="265.9"/>
    <use href="#B" x="98.8" y="285.1"/>
    <use href="#B" x="121.1" y="286.7"/>
    <use href="#O" x="137.9" y="288.4"/>
    <use href="#O" x="148.8" y="282.1"/>
    <use href="#B" x="112.5" y="285.8"/>
    <use href="#O" x="152.0" y="291.2"/>
    <use href="#B" x="79.8" y="299.6"/>
    <use href="#B" x="103.8" y="291.9"/>
    <use href="#O" x="133.4" y="263.7"/>
    <use href="#B" x="129.4" y="294.4"/>
    <use href="#O" x="173.9" y="289.5"/>
    <use href="#B" x="109.4" y="296.2"/>
    <use href="#B" x="105.0" y="296.7"/>
    <use href="#O" x="135.3" y="278.6"/>
    <use href="#O" x="122.4" y="302.0"/>
    <use href="#B" x="120.7" y="298.5"/>
    <use href="#B" x="95.2" y="282.4"/>
    <use href="#B" x="103.3" y="296.9"/>
    <use href="#O" x="150.1" y="277.9"/>
    <use href="#B" x="95.0" y="291.0"/>
    <use href="#B" x="119.9" y="299.2"/>
    <use href="#B" x="91.8" y="297.6"/>
    <use href="#B" x="94.1" y="283.9"/>
    <use href="#O" x="123.0" y="247.4"/>
    <use href="#B" x="109.2" y="295.4"/>
    <use href="#B" x="123.5" y="280.6"/>
    <use href="#B" x="110.8" y="297.5"/>
    <use href="#B" x="113.7" y="296.9"/>
    <use href="#B" x="122.5" y="253.8"/>
    <use href="#B" x="76.9" y="297.2"/>
    <use href="#B" x="169.7" y="241.0"/>
    <use href="#B" x="102.4" y="294.5"/>
    <use href="#B" x="96.1" y="295.2"/>
    <use href="#B" x="88.8" y="293.1"/>
    <use href="#B" x="111.4" y="269.5"/>
    <use href="#O" x="163.4" y="250.5"/>
    <use href="#O" x="119.3" y="261.5"/>
    <use href="#O" x="162.2" y="269.1"/>
    <use href="#B" x="144.4" y="283.7"/>
    <use href="#B" x="125.1" y="274.6"/>
    <use href="#B" x="143.7" y="284.8"/>
    <use href="#B" x="131.1" y="286.6"/>
    <use href="#O" x="129.6" y="289.8"/>
    <use href="#B" x="114.7" y="281.6"/>
    <use href="#O" x="101.8" y="279.8"/>
    <use href="#O" x="124.4" y="240.4"/>
    <use href="#B" x="99.0" y="302.3"/>
    <use href="#B" x="98.5" y="301.1"/>
    <use href="#B" x="134.7" y="287.7"/>
    <use href="#B" x="106.7" y="296.8"/>
    <use href="#O" x="152.7" y="273.9"/>
    <use href="#O" x="93.9" y="284.4"/>
    <use href="#B" x="117.5" y="235.7"/>
    <use href="#O" x="148.2" y="293.7"/>
    <use href="#O" x="130.1" y="279.1"/>
    <use href="#B" x="135.0" y="275.9"/>
    <use href="#B" x="117.3" y="283.2"/>
    <use href="#O" x="133.9" y="288.8"/>
    <use href="#B" x="128.8" y="289.1"/>
    <use href="#B" x="103.4" y="283.3"/>
    <use href="#B" x="100.3" y="273.0"/>
    <use href="#O" x="164.7" y="276.8"/>
    <use href="#B" x="122.0" y="267.0"/>
    <use href="#B" x="97.4" y="288.8"/>
    <use href="#O" x="145.0" y="285.3"/>
    <use href="#B" x="132.4" y="278.3"/>
    <use href="#O" x="118.6" y="275.7"/>
    <use href="#B" x="85.6" y="295.1"/>
    <use href="#B" x="83.5" y="298.7"/>
    <use href="#B" x="120.5" y="279.9"/>
    <use href="#O" x="138.6" y="300.7"/>
    <use href="#B" x="110.6" y="293.9"/>
    <use href="#B" x="114.3" y="286.8"/>
    <use href="#B" x="108.1" y="287.5"/>
    <use href="#O" x="140.5" y="260.0"/>
    <use href="#B" x="115.3" y="283.5"/>
    <use href="#B" x="106.6" y="284.2"/>
    <use href="#O" x="108.0" y="254.8"/>
    <use href="#B" x="103.1" y="262.4"/>
    <use href="#B" x="98.1" y="298.9"/>
    <use href="#B" x="152.1" y="272.2"/>
    <use href="#B" x="95.5" y="276.2"/>
    <use href="#B" x="173.0" y="223.0"/>
    <use href="#O" x="125.8" y="270.9"/>
    <use href="#B" x="108.9" y="258.9"/>
    <use href="#B" x="109.7" y="286.2"/>
    <use href="#O" x="107.1" y="290.9"/>
    <use href="#B" x="116.5" y="268.3"/>
    <use href="#O" x="109.9" y="288.1"/>
    <use href="#B" x="84.8" y="296.3"/>
    <use href="#B" x="116.7" y="284.0"/>
    <use href="#O" x="111.7" y="295.0"/>
    <use href="#B" x="118.1" y="281.9"/>
    <use href="#B" x="100.5" y="294.6"/>
    <use href="#O" x="160.3" y="287.0"/>
    <use href="#O" x="145.6" y="284.8"/>
    <use href="#B" x="111.7" y="272.7"/>
    <use href="#O" x="132.9" y="237.4"/>
    <use href="#B" x="107.3" y="292.3"/>
    <use href="#O" x="136.7" y="268.7"/>
    <use href="#O" x="166.0" y="281.9"/>
    <use href="#B" x="107.6" y="267.7"/>
    <use href="#B" x="132.7" y="287.8"/>
    <use href="#B" x="118.5" y="290.1"/>
    <use href="#O" x="149.1" y="289.0"/>
    <use href="#B" x="153.7" y="293.7"/>
    <use href="#O" x="128.2" y="272.8"/>
    <use href="#O" x="174.7" y="219.1"/>
    <use href="#B" x="102.3" y="293.4"/>
    <use href="#B" x="122.3" y="285.6"/>
    <use href="#B" x="93.7" y="290.8"/>
    <use href="#B" x="102.8" y="287.9"/>
    <use href="#B" x="137.8" y="289.8"/>
    <use href="#O" x="116.7" y="284.6"/>
    <use href="#B" x="82.3" y="291.1"/>
    <use href="#O" x="127.3" y="283.1"/>
    <use href="#O" x="169.7" y="171.7"/>
    <use href="#B" x="111.2" y="293.3"/>
    <use href="#B" x="108.4" y="294.8"/>
    <use href="#B" x="104.9" y="290.1"/>
    <use href="#B" x="138.4" y="278.0"/>
    <use href="#B" x="115.7" y="281.4"/>
    <use href="#O" x="172.7" y="264.5"/>
    <use href="#B" x="135.4" y="282.8"/>
    <use href="#B" x="96.8" y="289.7"/>
    <use href="#B" x="139.8" y="230.4"/>
    <use href="#B" x="102.6" y="297.3"/>
    <use href="#B" x="104.7" y="282.2"/>
    <use href="#B" x="102.1" y="286.9"/>
    <use href="#B" x="90.8" y="298.2"/>
    <use href="#B" x="118.7" y="288.0"/>
    <use href="#B" x="121.7" y="285.3"/>
    <use href="#B" x="95.7" y="274.8"/>
    <use href="#B" x="91.1" y="298.3"/>
    <use href="#O" x="121.3" y="270.2"/>
    <use href="#B" x="159.8" y="284.7"/>
    <use href="#B" x="121.9" y="275.4"/>
    <use href="#O" x="132.0" y="282.7"/>
    <use href="#B" x="112.7" y="291.6"/>
    <use href="#O" x="150.7" y="281.0"/>
    <use href="#B" x="113.1" y="295.3"/>
    <use href="#B" x="132.1" y="280.4"/>
    <use href="#B" x="105.4" y="290.9"/>
    <use href="#O" x="168.6" y="280.2"/>
    <use href="#B" x="173.2" y="187.0"/>
    <use href="#O" x="119.9" y="278.9"/>
    <use href="#B" x="124.1" y="294.6"/>
    <use href="#B" x="113.5" y="290.4"/>
    <use href="#B" x="118.9" y="267.1"/>
    <use href="#O" x="170.8" y="245.8"/>
    <use href="#B" x="104.4" y="292.2"/>
    <use href="#B" x="105.6" y="294.1"/>
    <use href="#O" x="113.6" y="269.5"/>
    <use href="#B" x="101.4" y="282.5"/>
    <use href="#B" x="108.7" y="264.7"/>
    <use href="#O" x="169.3" y="281.6"/>
    <use href="#B" x="126.1" y="271.1"/>
    <use href="#B" x="93.9" y="284.6"/>
    <use href="#B" x="128.4" y="287.6"/>
    <use href="#B" x="118.3" y="284.5"/>
    <use href="#B" x="86.3" y="300.3"/>
    <use href="#B" x="114.5" y="282.0"/>
    <use href="#B" x="107.9" y="290.7"/>
    <use href="#B" x="133.1" y="271.4"/>
    <use href="#B" x="110.0" y="287.2"/>
    <use href="#B" x="121.3" y="291.3"/>
    <use href="#B" x="134.4" y="260.7"/>
    <use href="#O" x="161.5" y="259.3"/>
    <use href="#B" x="133.7" y="271.9"/>
    <use href="#B" x="109.3" y="252.0"/>
    <use href="#O" x="114.8" y="287.7"/>
    <use href="#B" x="122.7" y="291.2"/>
    <use href="#B" x="97.0" y="281.3"/>
    <use href="#B" x="139.1" y="285.5"/>
    <use href="#O" x="117.4" y="293.0"/>
    <use href="#B" x="97.7" y="292.5"/>
    <use href="#O" x="162.6" y="223.8"/>
    <use href="#B" x="98.3" y="297.5"/>
    <use href="#B" x="111.9" y="274.0"/>
    <use href="#B" x="145.5" y="297.0"/>
    <use href="#B" x="119.1" y="294.9"/>
    <use href="#B" x="148.8" y="255.5"/>
    <use href="#B" x="113.9" y="287.4"/>
    <use href="#O" x="141.8" y="270.6"/>
    <use href="#O" x="143.7" y="274.2"/>
    <use href="#B" x="88.3" y="295.1"/>
    <use href="#O" x="121.8" y="299.5"/>
    <use href="#B" x="130.4" y="274.3"/>
    <use href="#O" x="99.2" y="272.0"/>
    <use href="#B" x="108.6" y="297.8"/>
    <use href="#B" x="100.7" y="282.9"/>
    <use href="#B" x="90.1" y="292.7"/>
    <use href="#B" x="103.0" y="286.0"/>
    <use href="#O" x="166.6" y="273.5"/>
    <use href="#B" x="147.1" y="275.6"/>
   </g>
   <g id="matplotlib.axis_9">
    <g id="xtick_13">
     <g id="line2d_29">
      <g>
       <use href="#m810af31bf4" x="105.67787" y="309.099118" style="fill: #262626; stroke: #262626; stroke-width: 1.2"/>
      </g>
     </g>
    </g>
    <g id="xtick_14">
     <g id="line2d_30">
      <g>
       <use href="#m810af31bf4" x="176.797911" y="309.099118" style="fill: #262626; stroke: #262626; stroke-width: 1.2"/>
      </g>
     </g>
    </g>
   </g>
   <g id="matplotlib.axis_10">
    <g id="ytick_17">
     <g id="line2d_31">
      <g>
       <use href="#m16c3d9d836" x="51.84" y="304.759134" style="fill: #262626; stroke: #262626; stroke-width: 1.2"/>
      </g>
     </g>
     <g id="text_6">
      <text style="font-size: 10px; text-anchor: end; fill: #262626" x="43.14" y="308.558352" transform="matrix(1 0 0 1.120 0 -37.027)">0</text>
     </g>
    </g>
    <g id="ytick_18">
     <g id="line2d_32">
      <g>
       <use href="#m16c3d9d836" x="51.84" y="273.309975" style="fill: #262626; stroke: #262626; stroke-width: 1.2"/>
      </g>
     </g>
     <g id="text_7">
      <text style="font-size: 10px; text-anchor: end; fill: #262626" x="43.14" y="277.109194" transform="matrix(1 0 0 1.120 0 -33.253)">200</text>
     </g>
    </g>
    <g id="ytick_19">
     <g id="line2d_33">
      <g>
       <use href="#m16c3d9d836" x="51.84" y="241.860817" style="fill: #262626; stroke: #262626; stroke-width: 1.2"/>
      </g>
     </g>
     <g id="text_8">
      <text style="font-size: 10px; text-anchor: end; fill: #262626" x="43.14" y="245.660036" transform="matrix(1 0 0 1.120 0 -29.479)">400</text>
     </g>
    </g>
    <g id="ytick_20">
     <g id="line2d_34">
      <g>
       <use href="#m16c3d9d836" x="51.84" y="210.411659" style="fill: #262626; stroke: #262626; stroke-width: 1.2"/>
      </g>
     </g>
     <g id="text_9">
      <text style="font-size: 10px; text-anchor: end; fill: #262626" x="43.14" y="214.210878" transform="matrix(1 0 0 1.120 0 -25.705)">600</text>
     </g>
    </g>
    <g id="ytick_21">
     <g id="line2d_35">
      <g>
       <use href="#m16c3d9d836" x="51.84" y="178.962501" style="fill: #262626; stroke: #262626; stroke-width: 1.2"/>
      </g>
     </g>
     <g id="text_10">
      <text style="font-size: 10px; text-anchor: end; fill: #262626" x="43.14" y="182.761719" transform="matrix(1 0 0 1.120 0 -21.931)">800</text>
     </g>
    </g>
    <g id="text_11">
     <text style="font-size: 11px; text-anchor: middle; fill: #262626" x="15.164844" y="237.143443" transform="rotate(-90 15.164844 237.143443)">Insulin</text>
    </g>
   </g>
   <g id="patch_15">
    <path d="M 51.84 309.1 
L 51.84 165.19 
" style="fill: none; stroke: #262626; stroke-width: 1.4; stroke-linejoin: miter; stroke-linecap: square"/>
   </g>
   <g id="patch_16">
    <path d="M 51.84 309.1 
L 206.31 309.1 
" style="fill: none; stroke: #262626; stroke-width: 1.4; stroke-linejoin: miter; stroke-linecap: square"/>
   </g>
  </g>
  <g id="axes_7">
   <g id="patch_17">
    <path d="M 218.49 309.1 
L 372.96 309.1 
L 372.96 165.19 
L 218.49 165.19 
z
" style="fill: #ffffff"/>
   </g>
   <g id="matplotlib.axis_11">
    <g id="xtick_15">
     <g id="line2d_36">
      <g>
       <use href="#m810af31bf4" x="242.129808" y="309.099118" style="fill: #262626; stroke: #262626; stroke-width: 1.2"/>
      </g>
     </g>
    </g>
    <g id="xtick_16">
     <g id="line2d_37">
      <g>
       <use href="#m810af31bf4" x="303.379898" y="309.099118" style="fill: #262626; stroke: #262626; stroke-width: 1.2"/>
      </g>
     </g>
    </g>
    <g id="xtick_17">
     <g id="line2d_38">
      <g>
       <use href="#m810af31bf4" x="364.629988" y="309.099118" style="fill: #262626; stroke: #262626; stroke-width: 1.2"/>
      </g>
     </g>
    </g>
   </g>
   <g id="matplotlib.axis_12">
    <g id="ytick_22">
     <g id="line2d_39">
      <g>
       <use href="#m16c3d9d836" x="218.487273" y="304.759134" style="fill: #262626; stroke: #262626; stroke-width: 1.2"/>
      </g>
     </g>
    </g>
    <g id="ytick_23">
     <g id="line2d_40">
      <g>
       <use href="#m16c3d9d836" x="218.487273" y="273.309975" style="fill: #262626; stroke: #262626; stroke-width: 1.2"/>
      </g>
     </g>
    </g>
    <g id="ytick_24">
     <g id="line2d_41">
      <g>
       <use href="#m16c3d9d836" x="218.487273" y="241.860817" style="fill: #262626; stroke: #262626; stroke-width: 1.2"/>
      </g>
     </g>
    </g>
    <g id="ytick_25">
     <g id="line2d_42">
      <g>
       <use href="#m16c3d9d836" x="218.487273" y="210.411659" style="fill: #262626; stroke: #262626; stroke-width: 1.2"/>
      </g>
     </g>
    </g>
    <g id="ytick_26">
     <g id="line2d_43">
      <g>
       <use href="#m16c3d9d836" x="218.487273" y="178.962501" style="fill: #262626; stroke: #262626; stroke-width: 1.2"/>
      </g>
     </g>
    </g>
   </g>
   <g id="patch_18">
    <path d="M 218.49 309.1 
L 218.49 165.19 
" style="fill: none; stroke: #262626; stroke-width: 1.4; stroke-linejoin: miter; stroke-linecap: square"/>
   </g>
   <g id="patch_19">
    <path d="M 218.49 309.1 
L 372.96 309.1 
" style="fill: none; stroke: #262626; stroke-width: 1.4; stroke-linejoin: miter; stroke-linecap: square"/>
   </g>
  </g>
  <g id="axes_8">
   <g id="FillBetweenPolyCollection_3">
    <defs>
     <path id="meba68f4210" d="M 222.53 -343.97 
L 222.53 -343.97 
L 223.13 -343.97 
L 223.73 -343.97 
L 224.33 -343.97 
L 224.92 -343.97 
L 225.52 -343.97 
L 226.12 -343.97 
L 226.72 -343.97 
L 227.32 -343.97 
L 227.92 -343.97 
L 228.52 -343.97 
L 229.12 -343.97 
L 229.71 -343.97 
L 230.31 -343.97 
L 230.91 -343.97 
L 231.51 -343.97 
L 232.11 -343.97 
L 232.71 -343.97 
L 233.31 -343.97 
L 233.9 -343.97 
L 234.5 -343.97 
L 235.1 -343.97 
L 235.7 -343.97 
L 236.3 -343.97 
L 236.9 -343.97 
L 237.5 -343.97 
L 238.09 -343.97 
L 238.69 -343.97 
L 239.29 -343.97 
L 239.89 -343.97 
L 240.49 -343.97 
L 241.09 -343.97 
L 241.69 -343.97 
L 242.29 -343.97 
L 242.88 -343.97 
L 243.48 -343.97 
L 244.08 -343.97 
L 244.68 -343.97 
L 245.28 -343.97 
L 245.88 -343.97 
L 246.48 -343.97 
L 247.07 -343.97 
L 247.67 -343.97 
L 248.27 -343.97 
L 248.87 -343.97 
L 249.47 -343.97 
L 250.07 -343.97 
L 250.67 -343.97 
L 251.27 -343.97 
L 251.86 -343.97 
L 252.46 -343.97 
L 253.06 -343.97 
L 253.66 -343.97 
L 254.26 -343.97 
L 254.86 -343.97 
L 255.46 -343.97 
L 256.05 -343.97 
L 256.65 -343.97 
L 257.25 -343.97 
L 257.85 -343.97 
L 258.45 -343.97 
L 259.05 -343.97 
L 259.65 -343.97 
L 260.25 -343.97 
L 260.84 -343.97 
L 261.44 -343.97 
L 262.04 -343.97 
L 262.64 -343.97 
L 263.24 -343.97 
L 263.84 -343.97 
L 264.44 -343.97 
L 265.03 -343.97 
L 265.63 -343.97 
L 266.23 -343.97 
L 266.83 -343.97 
L 267.43 -343.97 
L 268.03 -343.97 
L 268.63 -343.97 
L 269.23 -343.97 
L 269.82 -343.97 
L 270.42 -343.97 
L 271.02 -343.97 
L 271.62 -343.97 
L 272.22 -343.97 
L 272.82 -343.97 
L 273.42 -343.97 
L 274.01 -343.97 
L 274.61 -343.97 
L 275.21 -343.97 
L 275.81 -343.97 
L 276.41 -343.97 
L 277.01 -343.97 
L 277.61 -343.97 
L 278.21 -343.97 
L 278.8 -343.97 
L 279.4 -343.97 
L 280 -343.97 
L 280.6 -343.97 
L 281.2 -343.97 
L 281.8 -343.97 
L 282.4 -343.97 
L 282.99 -343.97 
L 283.59 -343.97 
L 284.19 -343.97 
L 284.79 -343.97 
L 285.39 -343.97 
L 285.99 -343.97 
L 286.59 -343.97 
L 287.19 -343.97 
L 287.78 -343.97 
L 288.38 -343.97 
L 288.98 -343.97 
L 289.58 -343.97 
L 290.18 -343.97 
L 290.78 -343.97 
L 291.38 -343.97 
L 291.97 -343.97 
L 292.57 -343.97 
L 293.17 -343.97 
L 293.77 -343.97 
L 294.37 -343.97 
L 294.97 -343.97 
L 295.57 -343.97 
L 296.17 -343.97 
L 296.76 -343.97 
L 297.36 -343.97 
L 297.96 -343.97 
L 298.56 -343.97 
L 299.16 -343.97 
L 299.76 -343.97 
L 300.36 -343.97 
L 300.95 -343.97 
L 301.55 -343.97 
L 302.15 -343.97 
L 302.75 -343.97 
L 303.35 -343.97 
L 303.95 -343.97 
L 304.55 -343.97 
L 305.15 -343.97 
L 305.74 -343.97 
L 306.34 -343.97 
L 306.94 -343.97 
L 307.54 -343.97 
L 308.14 -343.97 
L 308.74 -343.97 
L 309.34 -343.97 
L 309.93 -343.97 
L 310.53 -343.97 
L 311.13 -343.97 
L 311.73 -343.97 
L 312.33 -343.97 
L 312.93 -343.97 
L 313.53 -343.97 
L 314.13 -343.97 
L 314.72 -343.97 
L 315.32 -343.97 
L 315.92 -343.97 
L 316.52 -343.97 
L 317.12 -343.97 
L 317.72 -343.97 
L 318.32 -343.97 
L 318.91 -343.97 
L 319.51 -343.97 
L 320.11 -343.97 
L 320.71 -343.97 
L 321.31 -343.97 
L 321.91 -343.97 
L 322.51 -343.97 
L 323.1 -343.97 
L 323.7 -343.97 
L 324.3 -343.97 
L 324.9 -343.97 
L 325.5 -343.97 
L 326.1 -343.97 
L 326.7 -343.97 
L 327.3 -343.97 
L 327.89 -343.97 
L 328.49 -343.97 
L 329.09 -343.97 
L 329.69 -343.97 
L 330.29 -343.97 
L 330.89 -343.97 
L 331.49 -343.97 
L 332.08 -343.97 
L 332.68 -343.97 
L 333.28 -343.97 
L 333.88 -343.97 
L 334.48 -343.97 
L 335.08 -343.97 
L 335.68 -343.97 
L 336.28 -343.97 
L 336.87 -343.97 
L 337.47 -343.97 
L 338.07 -343.97 
L 338.67 -343.97 
L 339.27 -343.97 
L 339.87 -343.97 
L 340.47 -343.97 
L 341.06 -343.97 
L 341.66 -343.97 
L 342.26 -343.97 
L 342.86 -343.97 
L 343.46 -343.97 
L 344.06 -343.97 
L 344.66 -343.97 
L 345.26 -343.97 
L 345.85 -343.97 
L 346.45 -343.97 
L 347.05 -343.97 
L 347.65 -343.97 
L 348.25 -343.97 
L 348.85 -343.97 
L 349.45 -343.97 
L 350.04 -343.97 
L 350.64 -343.97 
L 351.24 -343.97 
L 351.84 -343.97 
L 352.44 -343.97 
L 353.04 -343.97 
L 353.64 -343.97 
L 354.24 -343.97 
L 354.83 -343.97 
L 355.43 -343.97 
L 356.03 -343.97 
L 356.63 -343.97 
L 357.23 -343.97 
L 357.83 -343.97 
L 358.43 -343.97 
L 359.02 -343.97 
L 359.62 -343.97 
L 360.22 -343.97 
L 360.82 -343.97 
L 361.42 -343.97 
L 362.02 -343.97 
L 362.62 -343.97 
L 363.22 -343.97 
L 363.81 -343.97 
L 364.41 -343.97 
L 365.01 -343.97 
L 365.61 -343.97 
L 365.61 -343.99 
L 365.61 -343.99 
L 365.01 -344.03 
L 364.41 -344.1 
L 363.81 -344.22 
L 363.22 -344.38 
L 362.62 -344.56 
L 362.02 -344.75 
L 361.42 -344.94 
L 360.82 -345.13 
L 360.22 -345.32 
L 359.62 -345.48 
L 359.02 -345.56 
L 358.43 -345.53 
L 357.83 -345.41 
L 357.23 -345.26 
L 356.63 -345.12 
L 356.03 -345.01 
L 355.43 -344.9 
L 354.83 -344.78 
L 354.24 -344.64 
L 353.64 -344.5 
L 353.04 -344.39 
L 352.44 -344.33 
L 351.84 -344.33 
L 351.24 -344.39 
L 350.64 -344.47 
L 350.04 -344.56 
L 349.45 -344.64 
L 348.85 -344.71 
L 348.25 -344.77 
L 347.65 -344.84 
L 347.05 -344.92 
L 346.45 -345.02 
L 345.85 -345.1 
L 345.26 -345.15 
L 344.66 -345.19 
L 344.06 -345.25 
L 343.46 -345.38 
L 342.86 -345.52 
L 342.26 -345.6 
L 341.66 -345.52 
L 341.06 -345.27 
L 340.47 -344.96 
L 339.87 -344.7 
L 339.27 -344.57 
L 338.67 -344.56 
L 338.07 -344.64 
L 337.47 -344.71 
L 336.87 -344.75 
L 336.28 -344.75 
L 335.68 -344.76 
L 335.08 -344.79 
L 334.48 -344.83 
L 333.88 -344.87 
L 333.28 -344.89 
L 332.68 -344.92 
L 332.08 -344.94 
L 331.49 -344.98 
L 330.89 -345.01 
L 330.29 -345.04 
L 329.69 -345.06 
L 329.09 -345.09 
L 328.49 -345.12 
L 327.89 -345.16 
L 327.3 -345.21 
L 326.7 -345.28 
L 326.1 -345.35 
L 325.5 -345.42 
L 324.9 -345.48 
L 324.3 -345.54 
L 323.7 -345.62 
L 323.1 -345.77 
L 322.51 -345.97 
L 321.91 -346.2 
L 321.31 -346.41 
L 320.71 -346.61 
L 320.11 -346.82 
L 319.51 -347.04 
L 318.91 -347.26 
L 318.32 -347.45 
L 317.72 -347.65 
L 317.12 -347.88 
L 316.52 -348.12 
L 315.92 -348.29 
L 315.32 -348.35 
L 314.72 -348.32 
L 314.13 -348.26 
L 313.53 -348.18 
L 312.93 -348.1 
L 312.33 -348.03 
L 311.73 -348.07 
L 311.13 -348.32 
L 310.53 -348.77 
L 309.93 -349.29 
L 309.34 -349.72 
L 308.74 -349.95 
L 308.14 -350.02 
L 307.54 -350.05 
L 306.94 -350.15 
L 306.34 -350.28 
L 305.74 -350.25 
L 305.15 -349.93 
L 304.55 -349.36 
L 303.95 -348.82 
L 303.35 -348.54 
L 302.75 -348.58 
L 302.15 -348.8 
L 301.55 -349.04 
L 300.95 -349.25 
L 300.36 -349.44 
L 299.76 -349.63 
L 299.16 -349.81 
L 298.56 -349.97 
L 297.96 -350.12 
L 297.36 -350.27 
L 296.76 -350.43 
L 296.17 -350.59 
L 295.57 -350.75 
L 294.97 -350.9 
L 294.37 -351.06 
L 293.77 -351.22 
L 293.17 -351.38 
L 292.57 -351.54 
L 291.97 -351.69 
L 291.38 -351.85 
L 290.78 -352.04 
L 290.18 -352.28 
L 289.58 -352.55 
L 288.98 -352.83 
L 288.38 -353.1 
L 287.78 -353.36 
L 287.19 -353.63 
L 286.59 -353.91 
L 285.99 -354.18 
L 285.39 -354.44 
L 284.79 -354.76 
L 284.19 -355.17 
L 283.59 -355.63 
L 282.99 -356.07 
L 282.4 -356.49 
L 281.8 -356.93 
L 281.2 -357.4 
L 280.6 -357.82 
L 280 -358.22 
L 279.4 -358.69 
L 278.8 -359.27 
L 278.21 -359.95 
L 277.61 -360.73 
L 277.01 -361.53 
L 276.41 -362.3 
L 275.81 -363.02 
L 275.21 -363.76 
L 274.61 -364.64 
L 274.01 -365.64 
L 273.42 -366.72 
L 272.82 -367.87 
L 272.22 -369.04 
L 271.62 -370.15 
L 271.02 -371.2 
L 270.42 -372.36 
L 269.82 -373.78 
L 269.23 -375.4 
L 268.63 -377.08 
L 268.03 -378.78 
L 267.43 -380.5 
L 266.83 -382.17 
L 266.23 -383.81 
L 265.63 -385.51 
L 265.03 -387.29 
L 264.44 -388.9 
L 263.84 -390.01 
L 263.24 -390.62 
L 262.64 -391.09 
L 262.04 -391.65 
L 261.44 -392.17 
L 260.84 -392.36 
L 260.25 -392.17 
L 259.65 -391.89 
L 259.05 -391.72 
L 258.45 -391.54 
L 257.85 -391.08 
L 257.25 -390.36 
L 256.65 -389.66 
L 256.05 -389.09 
L 255.46 -388.33 
L 254.86 -387.07 
L 254.26 -385.39 
L 253.66 -383.65 
L 253.06 -382.01 
L 252.46 -380.31 
L 251.86 -378.4 
L 251.27 -376.37 
L 250.67 -374.36 
L 250.07 -372.34 
L 249.47 -370.25 
L 248.87 -368.06 
L 248.27 -365.74 
L 247.67 -363.29 
L 247.07 -360.86 
L 246.48 -358.71 
L 245.88 -357 
L 245.28 -355.6 
L 244.68 -354.26 
L 244.08 -352.93 
L 243.48 -351.75 
L 242.88 -350.89 
L 242.29 -350.34 
L 241.69 -349.91 
L 241.09 -349.45 
L 240.49 -348.91 
L 239.89 -348.37 
L 239.29 -347.87 
L 238.69 -347.39 
L 238.09 -346.9 
L 237.5 -346.35 
L 236.9 -345.75 
L 236.3 -345.17 
L 235.7 -344.69 
L 235.1 -344.35 
L 234.5 -344.14 
L 233.9 -344.04 
L 233.31 -343.99 
L 232.71 -343.98 
L 232.11 -343.97 
L 231.51 -343.97 
L 230.91 -343.97 
L 230.31 -343.97 
L 229.71 -343.97 
L 229.12 -343.97 
L 228.52 -343.97 
L 227.92 -343.97 
L 227.32 -343.97 
L 226.72 -343.97 
L 226.12 -343.97 
L 225.52 -343.97 
L 224.92 -343.97 
L 224.33 -343.97 
L 223.73 -343.97 
L 223.13 -343.97 
L 222.53 -343.97 
z
" style="stroke: #ff7f0e; stroke-width: 1.6"/>
    </defs>
    <g clip-path="url(#pe40e51f37a)">
     <use href="#meba68f4210" x="0" y="653.067925" style="fill: #ff7f0e; fill-opacity: 0.25; stroke: #ff7f0e; stroke-width: 1.6"/>
    </g>
   </g>
   <g id="FillBetweenPolyCollection_4">
    <defs>
     <path id="mfa4e8964ec" d="M 229.88 -343.97 
L 229.88 -343.97 
L 230.37 -343.97 
L 230.86 -343.97 
L 231.35 -343.97 
L 231.84 -343.97 
L 232.33 -343.97 
L 232.83 -343.97 
L 233.32 -343.97 
L 233.81 -343.97 
L 234.3 -343.97 
L 234.79 -343.97 
L 235.28 -343.97 
L 235.77 -343.97 
L 236.26 -343.97 
L 236.75 -343.97 
L 237.25 -343.97 
L 237.74 -343.97 
L 238.23 -343.97 
L 238.72 -343.97 
L 239.21 -343.97 
L 239.7 -343.97 
L 240.19 -343.97 
L 240.68 -343.97 
L 241.17 -343.97 
L 241.66 -343.97 
L 242.16 -343.97 
L 242.65 -343.97 
L 243.14 -343.97 
L 243.63 -343.97 
L 244.12 -343.97 
L 244.61 -343.97 
L 245.1 -343.97 
L 245.59 -343.97 
L 246.08 -343.97 
L 246.57 -343.97 
L 247.07 -343.97 
L 247.56 -343.97 
L 248.05 -343.97 
L 248.54 -343.97 
L 249.03 -343.97 
L 249.52 -343.97 
L 250.01 -343.97 
L 250.5 -343.97 
L 250.99 -343.97 
L 251.48 -343.97 
L 251.98 -343.97 
L 252.47 -343.97 
L 252.96 -343.97 
L 253.45 -343.97 
L 253.94 -343.97 
L 254.43 -343.97 
L 254.92 -343.97 
L 255.41 -343.97 
L 255.9 -343.97 
L 256.4 -343.97 
L 256.89 -343.97 
L 257.38 -343.97 
L 257.87 -343.97 
L 258.36 -343.97 
L 258.85 -343.97 
L 259.34 -343.97 
L 259.83 -343.97 
L 260.32 -343.97 
L 260.81 -343.97 
L 261.31 -343.97 
L 261.8 -343.97 
L 262.29 -343.97 
L 262.78 -343.97 
L 263.27 -343.97 
L 263.76 -343.97 
L 264.25 -343.97 
L 264.74 -343.97 
L 265.23 -343.97 
L 265.72 -343.97 
L 266.22 -343.97 
L 266.71 -343.97 
L 267.2 -343.97 
L 267.69 -343.97 
L 268.18 -343.97 
L 268.67 -343.97 
L 269.16 -343.97 
L 269.65 -343.97 
L 270.14 -343.97 
L 270.63 -343.97 
L 271.13 -343.97 
L 271.62 -343.97 
L 272.11 -343.97 
L 272.6 -343.97 
L 273.09 -343.97 
L 273.58 -343.97 
L 274.07 -343.97 
L 274.56 -343.97 
L 275.05 -343.97 
L 275.55 -343.97 
L 276.04 -343.97 
L 276.53 -343.97 
L 277.02 -343.97 
L 277.51 -343.97 
L 278 -343.97 
L 278.49 -343.97 
L 278.98 -343.97 
L 279.47 -343.97 
L 279.96 -343.97 
L 280.46 -343.97 
L 280.95 -343.97 
L 281.44 -343.97 
L 281.93 -343.97 
L 282.42 -343.97 
L 282.91 -343.97 
L 283.4 -343.97 
L 283.89 -343.97 
L 284.38 -343.97 
L 284.87 -343.97 
L 285.37 -343.97 
L 285.86 -343.97 
L 286.35 -343.97 
L 286.84 -343.97 
L 287.33 -343.97 
L 287.82 -343.97 
L 288.31 -343.97 
L 288.8 -343.97 
L 289.29 -343.97 
L 289.78 -343.97 
L 290.28 -343.97 
L 290.77 -343.97 
L 291.26 -343.97 
L 291.75 -343.97 
L 292.24 -343.97 
L 292.73 -343.97 
L 293.22 -343.97 
L 293.71 -343.97 
L 294.2 -343.97 
L 294.7 -343.97 
L 295.19 -343.97 
L 295.68 -343.97 
L 296.17 -343.97 
L 296.66 -343.97 
L 297.15 -343.97 
L 297.64 -343.97 
L 298.13 -343.97 
L 298.62 -343.97 
L 299.11 -343.97 
L 299.61 -343.97 
L 300.1 -343.97 
L 300.59 -343.97 
L 301.08 -343.97 
L 301.57 -343.97 
L 302.06 -343.97 
L 302.55 -343.97 
L 303.04 -343.97 
L 303.53 -343.97 
L 304.02 -343.97 
L 304.52 -343.97 
L 305.01 -343.97 
L 305.5 -343.97 
L 305.99 -343.97 
L 306.48 -343.97 
L 306.97 -343.97 
L 307.46 -343.97 
L 307.95 -343.97 
L 308.44 -343.97 
L 308.93 -343.97 
L 309.43 -343.97 
L 309.92 -343.97 
L 310.41 -343.97 
L 310.9 -343.97 
L 311.39 -343.97 
L 311.88 -343.97 
L 312.37 -343.97 
L 312.86 -343.97 
L 313.35 -343.97 
L 313.85 -343.97 
L 314.34 -343.97 
L 314.83 -343.97 
L 315.32 -343.97 
L 315.81 -343.97 
L 316.3 -343.97 
L 316.79 -343.97 
L 317.28 -343.97 
L 317.77 -343.97 
L 318.26 -343.97 
L 318.76 -343.97 
L 319.25 -343.97 
L 319.74 -343.97 
L 320.23 -343.97 
L 320.72 -343.97 
L 321.21 -343.97 
L 321.7 -343.97 
L 322.19 -343.97 
L 322.68 -343.97 
L 323.17 -343.97 
L 323.67 -343.97 
L 324.16 -343.97 
L 324.65 -343.97 
L 325.14 -343.97 
L 325.63 -343.97 
L 326.12 -343.97 
L 326.61 -343.97 
L 327.1 -343.97 
L 327.59 -343.97 
L 328.08 -343.97 
L 328.58 -343.97 
L 329.07 -343.97 
L 329.56 -343.97 
L 330.05 -343.97 
L 330.54 -343.97 
L 331.03 -343.97 
L 331.52 -343.97 
L 332.01 -343.97 
L 332.5 -343.97 
L 333 -343.97 
L 333.49 -343.97 
L 333.98 -343.97 
L 334.47 -343.97 
L 334.96 -343.97 
L 335.45 -343.97 
L 335.94 -343.97 
L 336.43 -343.97 
L 336.92 -343.97 
L 337.41 -343.97 
L 337.91 -343.97 
L 338.4 -343.97 
L 338.89 -343.97 
L 339.38 -343.97 
L 339.87 -343.97 
L 340.36 -343.97 
L 340.85 -343.97 
L 341.34 -343.97 
L 341.83 -343.97 
L 342.32 -343.97 
L 342.82 -343.97 
L 343.31 -343.97 
L 343.8 -343.97 
L 344.29 -343.97 
L 344.78 -343.97 
L 345.27 -343.97 
L 345.76 -343.97 
L 346.25 -343.97 
L 346.74 -343.97 
L 347.23 -343.97 
L 347.23 -344.08 
L 347.23 -344.08 
L 346.74 -344.17 
L 346.25 -344.28 
L 345.76 -344.43 
L 345.27 -344.6 
L 344.78 -344.77 
L 344.29 -344.94 
L 343.8 -345.1 
L 343.31 -345.27 
L 342.82 -345.45 
L 342.32 -345.64 
L 341.83 -345.8 
L 341.34 -345.9 
L 340.85 -345.93 
L 340.36 -345.89 
L 339.87 -345.83 
L 339.38 -345.75 
L 338.89 -345.69 
L 338.4 -345.64 
L 337.91 -345.59 
L 337.41 -345.54 
L 336.92 -345.48 
L 336.43 -345.43 
L 335.94 -345.37 
L 335.45 -345.31 
L 334.96 -345.25 
L 334.47 -345.2 
L 333.98 -345.19 
L 333.49 -345.22 
L 333 -345.29 
L 332.5 -345.38 
L 332.01 -345.46 
L 331.52 -345.53 
L 331.03 -345.6 
L 330.54 -345.68 
L 330.05 -345.76 
L 329.56 -345.83 
L 329.07 -345.9 
L 328.58 -345.97 
L 328.08 -346.06 
L 327.59 -346.15 
L 327.1 -346.23 
L 326.61 -346.26 
L 326.12 -346.22 
L 325.63 -346.12 
L 325.14 -346 
L 324.65 -345.87 
L 324.16 -345.74 
L 323.67 -345.62 
L 323.17 -345.49 
L 322.68 -345.37 
L 322.19 -345.26 
L 321.7 -345.2 
L 321.21 -345.2 
L 320.72 -345.25 
L 320.23 -345.32 
L 319.74 -345.39 
L 319.25 -345.44 
L 318.76 -345.49 
L 318.26 -345.54 
L 317.77 -345.6 
L 317.28 -345.66 
L 316.79 -345.72 
L 316.3 -345.78 
L 315.81 -345.83 
L 315.32 -345.88 
L 314.83 -345.94 
L 314.34 -346 
L 313.85 -346.06 
L 313.35 -346.11 
L 312.86 -346.16 
L 312.37 -346.22 
L 311.88 -346.28 
L 311.39 -346.34 
L 310.9 -346.41 
L 310.41 -346.48 
L 309.92 -346.55 
L 309.43 -346.62 
L 308.93 -346.69 
L 308.44 -346.75 
L 307.95 -346.82 
L 307.46 -346.89 
L 306.97 -346.96 
L 306.48 -347.03 
L 305.99 -347.1 
L 305.5 -347.17 
L 305.01 -347.24 
L 304.52 -347.31 
L 304.02 -347.38 
L 303.53 -347.45 
L 303.04 -347.51 
L 302.55 -347.58 
L 302.06 -347.66 
L 301.57 -347.73 
L 301.08 -347.79 
L 300.59 -347.85 
L 300.1 -347.93 
L 299.61 -348.05 
L 299.11 -348.2 
L 298.62 -348.39 
L 298.13 -348.59 
L 297.64 -348.77 
L 297.15 -348.95 
L 296.66 -349.13 
L 296.17 -349.32 
L 295.68 -349.51 
L 295.19 -349.69 
L 294.7 -349.88 
L 294.2 -350.06 
L 293.71 -350.24 
L 293.22 -350.43 
L 292.73 -350.62 
L 292.24 -350.8 
L 291.75 -350.97 
L 291.26 -351.16 
L 290.77 -351.38 
L 290.28 -351.63 
L 289.78 -351.91 
L 289.29 -352.19 
L 288.8 -352.47 
L 288.31 -352.74 
L 287.82 -353.02 
L 287.33 -353.3 
L 286.84 -353.58 
L 286.35 -353.85 
L 285.86 -354.12 
L 285.37 -354.4 
L 284.87 -354.7 
L 284.38 -355.04 
L 283.89 -355.4 
L 283.4 -355.77 
L 282.91 -356.13 
L 282.42 -356.48 
L 281.93 -356.83 
L 281.44 -357.2 
L 280.95 -357.57 
L 280.46 -357.93 
L 279.96 -358.26 
L 279.47 -358.63 
L 278.98 -359.06 
L 278.49 -359.6 
L 278 -360.22 
L 277.51 -360.87 
L 277.02 -361.52 
L 276.53 -362.14 
L 276.04 -362.75 
L 275.55 -363.35 
L 275.05 -363.99 
L 274.56 -364.71 
L 274.07 -365.52 
L 273.58 -366.41 
L 273.09 -367.35 
L 272.6 -368.31 
L 272.11 -369.26 
L 271.62 -370.16 
L 271.13 -371.01 
L 270.63 -371.91 
L 270.14 -373.01 
L 269.65 -374.43 
L 269.16 -376.08 
L 268.67 -377.79 
L 268.18 -379.4 
L 267.69 -381.01 
L 267.2 -382.88 
L 266.71 -385.24 
L 266.22 -388 
L 265.72 -390.87 
L 265.23 -393.59 
L 264.74 -396.24 
L 264.25 -399.17 
L 263.76 -402.66 
L 263.27 -406.6 
L 262.78 -410.58 
L 262.29 -414.28 
L 261.8 -417.95 
L 261.31 -422.24 
L 260.81 -427.66 
L 260.32 -433.99 
L 259.83 -440.29 
L 259.34 -445.53 
L 258.85 -449.35 
L 258.36 -452.2 
L 257.87 -454.82 
L 257.38 -457.65 
L 256.89 -460.6 
L 256.4 -463.47 
L 255.9 -466.24 
L 255.41 -469.02 
L 254.92 -471.75 
L 254.43 -474.19 
L 253.94 -476.2 
L 253.45 -477.85 
L 252.96 -479.2 
L 252.47 -480.04 
L 251.98 -480.04 
L 251.48 -479.14 
L 250.99 -477.61 
L 250.5 -475.73 
L 250.01 -473.43 
L 249.52 -470.49 
L 249.03 -466.89 
L 248.54 -463 
L 248.05 -459.16 
L 247.56 -455.37 
L 247.07 -451.39 
L 246.57 -447.05 
L 246.08 -442.45 
L 245.59 -437.82 
L 245.1 -433.25 
L 244.61 -428.64 
L 244.12 -423.89 
L 243.63 -418.85 
L 243.14 -413.36 
L 242.65 -407.24 
L 242.16 -400.47 
L 241.66 -393.37 
L 241.17 -386.51 
L 240.68 -380.42 
L 240.19 -375.29 
L 239.7 -370.89 
L 239.21 -366.86 
L 238.72 -362.92 
L 238.23 -359.15 
L 237.74 -355.8 
L 237.25 -353.15 
L 236.75 -351.26 
L 236.26 -349.99 
L 235.77 -349.05 
L 235.28 -348.19 
L 234.79 -347.31 
L 234.3 -346.42 
L 233.81 -345.61 
L 233.32 -344.97 
L 232.83 -344.51 
L 232.33 -344.24 
L 231.84 -344.09 
L 231.35 -344.02 
L 230.86 -343.99 
L 230.37 -343.97 
L 229.88 -343.97 
z
" style="stroke: #1f77b4; stroke-width: 1.6"/>
    </defs>
    <g clip-path="url(#pe40e51f37a)">
     <use href="#mfa4e8964ec" x="0" y="653.067925" style="fill: #1f77b4; fill-opacity: 0.25; stroke: #1f77b4; stroke-width: 1.6"/>
    </g>
   </g>
  </g>
  <g id="axes_9">
   <g id="patch_20">
    <path d="M 385.13 309.1 
L 539.61 309.1 
L 539.61 165.19 
L 385.13 165.19 
z
" style="fill: #ffffff"/>
   </g>
   <g id="PathCollection_5">
    <defs>
     <path id="C4_0_623b9ded61" d="M 0 3 
C 0.8 3 1.56 2.68 2.12 2.12 
C 2.68 1.56 3 0.8 3 -0 
C 3 -0.8 2.68 -1.56 2.12 -2.12 
C 1.56 -2.68 0.8 -3 0 -3 
C -0.8 -3 -1.56 -2.68 -2.12 -2.12 
C -2.68 -1.56 -3 -0.8 -3 0 
C -3 0.8 -2.68 1.56 -2.12 2.12 
C -1.56 2.68 -0.8 3 0 3 
z
"/>
    </defs>
    <use href="#O" x="442.2" y="295.9"/>
    <use href="#B" x="419.7" y="289.9"/>
    <use href="#B" x="445.6" y="295.6"/>
    <use href="#B" x="437.4" y="288.4"/>
    <use href="#O" x="436.3" y="257.0"/>
    <use href="#B" x="419.5" y="293.7"/>
    <use href="#B" x="466.8" y="297.7"/>
    <use href="#B" x="439.6" y="290.3"/>
    <use href="#O" x="468.1" y="253.7"/>
    <use href="#B" x="447.6" y="289.1"/>
    <use href="#O" x="458.9" y="281.2"/>
    <use href="#B" x="434.4" y="293.2"/>
    <use href="#B" x="439.7" y="280.9"/>
    <use href="#B" x="432.8" y="288.7"/>
    <use href="#B" x="424.1" y="296.1"/>
    <use href="#B" x="446.8" y="277.5"/>
    <use href="#B" x="412.8" y="302.0"/>
    <use href="#B" x="436.9" y="295.5"/>
    <use href="#O" x="427.6" y="274.6"/>
    <use href="#O" x="431.1" y="267.4"/>
    <use href="#B" x="454.7" y="300.6"/>
    <use href="#O" x="432.4" y="279.5"/>
    <use href="#B" x="438.0" y="294.0"/>
    <use href="#B" x="421.5" y="257.2"/>
    <use href="#O" x="445.0" y="297.1"/>
    <use href="#O" x="443.9" y="283.7"/>
    <use href="#O" x="432.9" y="280.0"/>
    <use href="#B" x="422.6" y="288.2"/>
    <use href="#B" x="442.0" y="273.2"/>
    <use href="#O" x="450.0" y="268.0"/>
    <use href="#O" x="457.6" y="298.3"/>
    <use href="#O" x="441.3" y="268.4"/>
    <use href="#B" x="444.8" y="295.7"/>
    <use href="#B" x="447.4" y="276.4"/>
    <use href="#B" x="433.9" y="264.1"/>
    <use href="#B" x="434.1" y="266.5"/>
    <use href="#B" x="448.1" y="250.3"/>
    <use href="#B" x="416.2" y="292.1"/>
    <use href="#O" x="445.3" y="243.5"/>
    <use href="#O" x="438.7" y="287.4"/>
    <use href="#O" x="461.3" y="231.1"/>
    <use href="#B" x="441.4" y="283.8"/>
    <use href="#B" x="424.2" y="289.2"/>
    <use href="#B" x="435.3" y="295.9"/>
    <use href="#B" x="444.5" y="289.5"/>
    <use href="#B" x="429.7" y="281.7"/>
    <use href="#B" x="428.6" y="279.3"/>
    <use href="#O" x="425.0" y="255.6"/>
    <use href="#B" x="427.7" y="292.8"/>
    <use href="#O" x="459.8" y="290.5"/>
    <use href="#B" x="425.8" y="297.4"/>
    <use href="#B" x="416.0" y="273.8"/>
    <use href="#B" x="439.9" y="291.0"/>
    <use href="#O" x="428.0" y="290.2"/>
    <use href="#B" x="449.1" y="291.5"/>
    <use href="#O" x="457.1" y="285.0"/>
    <use href="#B" x="436.7" y="292.4"/>
    <use href="#B" x="421.0" y="296.0"/>
    <use href="#B" x="442.7" y="271.7"/>
    <use href="#O" x="433.3" y="263.0"/>
    <use href="#B" x="441.0" y="295.7"/>
    <use href="#B" x="437.3" y="292.8"/>
    <use href="#B" x="411.6" y="286.4"/>
    <use href="#B" x="451.2" y="276.7"/>
    <use href="#B" x="460.0" y="265.9"/>
    <use href="#B" x="413.3" y="296.6"/>
    <use href="#B" x="434.7" y="278.5"/>
    <use href="#B" x="437.0" y="279.6"/>
    <use href="#B" x="427.0" y="270.8"/>
    <use href="#O" x="503.8" y="258.5"/>
    <use href="#O" x="439.7" y="260.8"/>
    <use href="#B" x="419.0" y="289.0"/>
    <use href="#B" x="430.8" y="263.5"/>
    <use href="#O" x="442.4" y="257.8"/>
    <use href="#B" x="418.8" y="277.2"/>
    <use href="#O" x="434.8" y="292.4"/>
    <use href="#B" x="469.9" y="287.3"/>
    <use href="#O" x="449.4" y="276.1"/>
    <use href="#O" x="461.2" y="212.9"/>
    <use href="#B" x="434.2" y="277.7"/>
    <use href="#O" x="463.0" y="284.2"/>
    <use href="#O" x="454.5" y="269.8"/>
    <use href="#B" x="441.2" y="294.2"/>
    <use href="#O" x="440.4" y="282.9"/>
    <use href="#O" x="427.1" y="276.4"/>
    <use href="#B" x="482.4" y="197.2"/>
    <use href="#B" x="417.2" y="296.4"/>
    <use href="#O" x="440.7" y="272.4"/>
    <use href="#B" x="444.2" y="282.1"/>
    <use href="#O" x="514.8" y="284.2"/>
    <use href="#B" x="434.9" y="285.0"/>
    <use href="#B" x="447.1" y="285.4"/>
    <use href="#B" x="425.5" y="283.1"/>
    <use href="#B" x="426.9" y="292.9"/>
    <use href="#O" x="443.5" y="234.3"/>
    <use href="#B" x="421.6" y="292.6"/>
    <use href="#B" x="438.9" y="285.9"/>
    <use href="#O" x="448.9" y="266.7"/>
    <use href="#B" x="451.4" y="294.7"/>
    <use href="#B" x="419.8" y="268.9"/>
    <use href="#B" x="429.9" y="290.6"/>
    <use href="#O" x="488.1" y="289.0"/>
    <use href="#B" x="430.3" y="299.1"/>
    <use href="#B" x="424.9" y="288.5"/>
    <use href="#B" x="431.7" y="293.5"/>
    <use href="#B" x="410.2" y="299.4"/>
    <use href="#O" x="445.9" y="283.3"/>
    <use href="#B" x="456.4" y="297.1"/>
    <use href="#B" x="435.2" y="289.3"/>
    <use href="#O" x="441.9" y="277.5"/>
    <use href="#O" x="444.3" y="275.0"/>
    <use href="#B" x="438.4" y="282.7"/>
    <use href="#O" x="458.2" y="280.6"/>
    <use href="#B" x="420.4" y="287.0"/>
    <use href="#B" x="450.9" y="281.2"/>
    <use href="#B" x="444.0" y="290.5"/>
    <use href="#B" x="449.4" y="289.6"/>
    <use href="#O" x="412.1" y="271.3"/>
    <use href="#B" x="426.0" y="289.4"/>
    <use href="#O" x="435.8" y="291.7"/>
    <use href="#B" x="426.7" y="298.6"/>
    <use href="#O" x="469.5" y="282.3"/>
    <use href="#B" x="422.1" y="301.3"/>
    <use href="#B" x="435.7" y="301.5"/>
    <use href="#B" x="418.0" y="281.5"/>
    <use href="#B" x="427.4" y="296.5"/>
    <use href="#B" x="425.2" y="291.7"/>
    <use href="#O" x="419.8" y="265.2"/>
    <use href="#O" x="436.0" y="271.7"/>
    <use href="#B" x="450.4" y="298.0"/>
    <use href="#B" x="454.0" y="286.3"/>
    <use href="#B" x="420.7" y="298.8"/>
    <use href="#B" x="430.5" y="275.1"/>
    <use href="#B" x="440.6" y="286.1"/>
    <use href="#B" x="460.8" y="298.1"/>
    <use href="#B" x="433.5" y="276.9"/>
    <use href="#O" x="443.3" y="284.0"/>
    <use href="#O" x="442.9" y="286.7"/>
    <use href="#O" x="437.6" y="285.6"/>
    <use href="#B" x="456.0" y="295.0"/>
    <use href="#O" x="453.5" y="252.1"/>
    <use href="#B" x="440.2" y="291.9"/>
    <use href="#O" x="466.2" y="275.3"/>
    <use href="#O" x="445.7" y="286.0"/>
    <use href="#B" x="448.4" y="293.8"/>
    <use href="#O" x="455.4" y="286.3"/>
    <use href="#O" x="443.7" y="270.2"/>
    <use href="#B" x="415.0" y="272.5"/>
    <use href="#B" x="468.7" y="295.8"/>
    <use href="#O" x="434.0" y="227.8"/>
    <use href="#B" x="446.6" y="288.6"/>
    <use href="#B" x="419.2" y="299.8"/>
    <use href="#O" x="435.6" y="248.9"/>
    <use href="#O" x="431.8" y="273.1"/>
    <use href="#B" x="449.6" y="291.4"/>
    <use href="#O" x="446.9" y="280.8"/>
    <use href="#B" x="440.9" y="292.0"/>
    <use href="#B" x="439.4" y="288.9"/>
    <use href="#B" x="432.4" y="283.0"/>
    <use href="#B" x="441.3" y="290.0"/>
    <use href="#B" x="445.3" y="278.8"/>
    <use href="#O" x="444.8" y="294.3"/>
    <use href="#O" x="433.7" y="277.2"/>
    <use href="#B" x="453.2" y="280.1"/>
    <use href="#B" x="454.3" y="285.2"/>
    <use href="#B" x="442.4" y="287.1"/>
    <use href="#B" x="436.2" y="294.3"/>
    <use href="#B" x="463.4" y="293.0"/>
    <use href="#B" x="432.0" y="279.1"/>
    <use href="#B" x="427.8" y="291.8"/>
    <use href="#O" x="436.7" y="280.4"/>
    <use href="#B" x="458.5" y="296.3"/>
    <use href="#O" x="430.7" y="209.8"/>
    <use href="#B" x="431.6" y="273.5"/>
    <use href="#B" x="431.0" y="288.3"/>
    <use href="#B" x="433.3" y="284.4"/>
    <use href="#O" x="447.9" y="289.1"/>
    <use href="#O" x="444.6" y="262.2"/>
    <use href="#O" x="452.3" y="256.3"/>
    <use href="#O" x="444.4" y="283.5"/>
    <use href="#B" x="435.6" y="265.3"/>
    <use href="#B" x="440.3" y="284.3"/>
    <use href="#B" x="453.0" y="293.6"/>
    <use href="#O" x="454.0" y="281.4"/>
    <use href="#B" x="440.4" y="283.6"/>
    <use href="#B" x="462.5" y="282.3"/>
    <use href="#B" x="424.6" y="300.8"/>
    <use href="#B" x="437.7" y="246.2"/>
    <use href="#B" x="456.8" y="300.1"/>
    <use href="#B" x="407.9" y="301.8"/>
    <use href="#O" x="446.1" y="279.3"/>
    <use href="#B" x="430.0" y="290.2"/>
    <use href="#O" x="422.1" y="282.5"/>
    <use href="#B" x="439.3" y="270.2"/>
    <use href="#O" x="497.8" y="302.6"/>
    <use href="#O" x="438.4" y="278.3"/>
    <use href="#O" x="456.2" y="265.9"/>
    <use href="#B" x="421.3" y="285.1"/>
    <use href="#B" x="455.1" y="286.7"/>
    <use href="#O" x="426.3" y="288.4"/>
    <use href="#O" x="508.8" y="282.1"/>
    <use href="#B" x="433.0" y="285.8"/>
    <use href="#O" x="428.5" y="291.2"/>
    <use href="#B" x="412.2" y="299.6"/>
    <use href="#B" x="452.7" y="291.9"/>
    <use href="#O" x="450.7" y="263.7"/>
    <use href="#B" x="425.6" y="294.4"/>
    <use href="#O" x="437.4" y="289.5"/>
    <use href="#B" x="438.7" y="296.2"/>
    <use href="#B" x="421.8" y="296.7"/>
    <use href="#O" x="474.5" y="278.6"/>
    <use href="#O" x="414.4" y="302.0"/>
    <use href="#B" x="429.2" y="298.5"/>
    <use href="#B" x="435.4" y="282.4"/>
    <use href="#B" x="423.8" y="296.9"/>
    <use href="#O" x="442.7" y="277.9"/>
    <use href="#B" x="428.3" y="291.0"/>
    <use href="#B" x="426.6" y="299.2"/>
    <use href="#B" x="438.3" y="297.6"/>
    <use href="#B" x="447.9" y="283.9"/>
    <use href="#O" x="435.3" y="247.4"/>
    <use href="#B" x="440.7" y="295.4"/>
    <use href="#B" x="429.4" y="280.6"/>
    <use href="#B" x="423.9" y="297.5"/>
    <use href="#B" x="433.1" y="296.9"/>
    <use href="#B" x="457.3" y="253.8"/>
    <use href="#B" x="409.4" y="297.2"/>
    <use href="#B" x="433.8" y="241.0"/>
    <use href="#B" x="427.5" y="294.5"/>
    <use href="#B" x="443.4" y="295.2"/>
    <use href="#B" x="429.1" y="293.1"/>
    <use href="#B" x="414.5" y="269.5"/>
    <use href="#O" x="425.9" y="250.5"/>
    <use href="#O" x="451.5" y="261.5"/>
    <use href="#O" x="446.7" y="269.1"/>
    <use href="#B" x="444.3" y="283.7"/>
    <use href="#B" x="423.5" y="274.6"/>
    <use href="#B" x="424.4" y="284.8"/>
    <use href="#B" x="426.3" y="286.6"/>
    <use href="#O" x="456.6" y="289.8"/>
    <use href="#B" x="461.7" y="281.6"/>
    <use href="#O" x="447.1" y="279.8"/>
    <use href="#O" x="465.3" y="240.4"/>
    <use href="#B" x="422.7" y="302.3"/>
    <use href="#B" x="416.5" y="301.1"/>
    <use href="#B" x="423.6" y="287.7"/>
    <use href="#B" x="430.6" y="296.8"/>
    <use href="#O" x="443.1" y="273.9"/>
    <use href="#O" x="437.2" y="284.4"/>
    <use href="#B" x="459.0" y="235.7"/>
    <use href="#O" x="430.4" y="293.7"/>
    <use href="#O" x="434.3" y="279.1"/>
    <use href="#B" x="422.9" y="275.9"/>
    <use href="#B" x="438.2" y="283.2"/>
    <use href="#O" x="434.6" y="288.8"/>
    <use href="#B" x="428.0" y="289.1"/>
    <use href="#B" x="425.3" y="283.3"/>
    <use href="#B" x="435.9" y="273.0"/>
    <use href="#O" x="445.5" y="276.8"/>
    <use href="#B" x="493.2" y="267.0"/>
    <use href="#B" x="437.6" y="288.8"/>
    <use href="#O" x="447.3" y="285.3"/>
    <use href="#B" x="421.2" y="278.3"/>
    <use href="#O" x="436.5" y="275.7"/>
    <use href="#B" x="433.6" y="295.1"/>
    <use href="#B" x="443.0" y="298.7"/>
    <use href="#B" x="472.1" y="279.9"/>
    <use href="#O" x="441.0" y="300.7"/>
    <use href="#B" x="436.0" y="293.9"/>
    <use href="#B" x="443.3" y="286.8"/>
    <use href="#B" x="450.2" y="287.5"/>
    <use href="#O" x="467.1" y="260.0"/>
    <use href="#B" x="422.3" y="283.5"/>
    <use href="#B" x="442.9" y="284.2"/>
    <use href="#O" x="447.6" y="254.8"/>
    <use href="#B" x="464.2" y="262.4"/>
    <use href="#B" x="417.7" y="298.9"/>
    <use href="#B" x="434.5" y="272.2"/>
    <use href="#B" x="423.2" y="276.2"/>
    <use href="#B" x="443.7" y="223.0"/>
    <use href="#O" x="481.7" y="270.9"/>
    <use href="#B" x="442.3" y="258.9"/>
    <use href="#B" x="441.6" y="286.2"/>
    <use href="#O" x="491.7" y="290.9"/>
    <use href="#B" x="432.5" y="268.3"/>
    <use href="#O" x="448.5" y="288.1"/>
    <use href="#B" x="458.1" y="296.3"/>
    <use href="#B" x="459.4" y="284.0"/>
    <use href="#O" x="439.0" y="295.0"/>
    <use href="#B" x="431.3" y="281.9"/>
    <use href="#B" x="452.2" y="294.6"/>
    <use href="#O" x="423.2" y="287.0"/>
    <use href="#O" x="464.2" y="284.8"/>
    <use href="#B" x="467.6" y="272.7"/>
    <use href="#O" x="416.4" y="237.4"/>
    <use href="#B" x="413.9" y="292.3"/>
    <use href="#O" x="446.2" y="268.7"/>
    <use href="#O" x="444.1" y="281.9"/>
    <use href="#B" x="428.1" y="267.7"/>
    <use href="#B" x="448.9" y="287.8"/>
    <use href="#B" x="416.7" y="290.1"/>
    <use href="#O" x="484.8" y="289.0"/>
    <use href="#B" x="417.5" y="293.7"/>
    <use href="#O" x="438.2" y="272.8"/>
    <use href="#O" x="434.7" y="219.1"/>
    <use href="#B" x="423.3" y="293.4"/>
    <use href="#B" x="435.0" y="285.6"/>
    <use href="#B" x="431.4" y="290.8"/>
    <use href="#B" x="450.7" y="287.9"/>
    <use href="#B" x="418.5" y="289.8"/>
    <use href="#O" x="446.4" y="284.6"/>
    <use href="#B" x="415.6" y="291.1"/>
    <use href="#O" x="437.9" y="283.1"/>
    <use href="#O" x="434.0" y="171.7"/>
    <use href="#B" x="420.6" y="293.3"/>
    <use href="#B" x="437.2" y="294.8"/>
    <use href="#B" x="443.9" y="290.1"/>
    <use href="#B" x="436.3" y="278.0"/>
    <use href="#B" x="437.9" y="281.4"/>
    <use href="#O" x="425.4" y="264.5"/>
    <use href="#B" x="428.5" y="282.8"/>
    <use href="#B" x="428.8" y="289.7"/>
    <use href="#B" x="426.4" y="230.4"/>
    <use href="#B" x="417.0" y="297.3"/>
    <use href="#B" x="441.7" y="282.2"/>
    <use href="#B" x="419.4" y="286.9"/>
    <use href="#B" x="445.8" y="298.2"/>
    <use href="#B" x="420.3" y="288.0"/>
    <use href="#B" x="442.2" y="285.3"/>
    <use href="#B" x="439.0" y="274.8"/>
    <use href="#B" x="410.9" y="298.3"/>
    <use href="#O" x="476.7" y="270.2"/>
    <use href="#B" x="436.6" y="284.7"/>
    <use href="#B" x="453.5" y="275.4"/>
    <use href="#O" x="426.7" y="282.7"/>
    <use href="#B" x="457.7" y="291.6"/>
    <use href="#O" x="455.8" y="281.0"/>
    <use href="#B" x="465.9" y="295.3"/>
    <use href="#B" x="446.3" y="280.4"/>
    <use href="#B" x="446.1" y="290.9"/>
    <use href="#O" x="429.1" y="280.2"/>
    <use href="#B" x="448.5" y="187.0"/>
    <use href="#O" x="423.9" y="278.9"/>
    <use href="#B" x="408.6" y="294.6"/>
    <use href="#B" x="432.7" y="290.4"/>
    <use href="#B" x="465.1" y="267.1"/>
    <use href="#O" x="454.9" y="245.8"/>
    <use href="#B" x="423.0" y="292.2"/>
    <use href="#B" x="422.4" y="294.1"/>
    <use href="#O" x="448.2" y="269.5"/>
    <use href="#B" x="420.1" y="282.5"/>
    <use href="#B" x="429.5" y="264.7"/>
    <use href="#O" x="435.1" y="281.6"/>
    <use href="#B" x="431.9" y="271.1"/>
    <use href="#B" x="455.6" y="284.6"/>
    <use href="#B" x="443.2" y="287.6"/>
    <use href="#B" x="418.3" y="284.5"/>
    <use href="#B" x="445.1" y="300.3"/>
    <use href="#B" x="427.2" y="282.0"/>
    <use href="#B" x="448.6" y="290.7"/>
    <use href="#B" x="441.9" y="271.4"/>
    <use href="#B" x="426.1" y="287.2"/>
    <use href="#B" x="424.7" y="291.3"/>
    <use href="#B" x="422.0" y="260.7"/>
    <use href="#O" x="441.6" y="259.3"/>
    <use href="#B" x="442.6" y="271.9"/>
    <use href="#B" x="475.5" y="252.0"/>
    <use href="#O" x="424.5" y="287.7"/>
    <use href="#B" x="420.9" y="291.2"/>
    <use href="#B" x="430.2" y="281.3"/>
    <use href="#B" x="439.2" y="285.5"/>
    <use href="#O" x="439.3" y="293.0"/>
    <use href="#B" x="451.7" y="292.5"/>
    <use href="#O" x="462.9" y="223.8"/>
    <use href="#B" x="420.0" y="297.5"/>
    <use href="#B" x="428.9" y="274.0"/>
    <use href="#B" x="452.4" y="297.0"/>
    <use href="#B" x="440.0" y="294.9"/>
    <use href="#B" x="431.1" y="255.5"/>
    <use href="#B" x="432.2" y="287.4"/>
    <use href="#O" x="436.9" y="270.6"/>
    <use href="#O" x="452.9" y="274.2"/>
    <use href="#B" x="438.6" y="295.1"/>
    <use href="#O" x="429.7" y="299.5"/>
    <use href="#B" x="436.4" y="274.3"/>
    <use href="#O" x="445.2" y="272.0"/>
    <use href="#B" x="425.0" y="297.8"/>
    <use href="#B" x="449.9" y="282.9"/>
    <use href="#B" x="443.6" y="292.7"/>
    <use href="#B" x="453.7" y="286.0"/>
    <use href="#O" x="440.0" y="273.5"/>
    <use href="#B" x="451.9" y="275.6"/>
   </g>
   <g id="matplotlib.axis_13">
    <g id="xtick_18">
     <g id="line2d_44">
      <g>
       <use href="#m810af31bf4" x="411.427776" y="309.099118" style="fill: #262626; stroke: #262626; stroke-width: 1.2"/>
      </g>
     </g>
    </g>
    <g id="xtick_19">
     <g id="line2d_45">
      <g>
       <use href="#m810af31bf4" x="455.249826" y="309.099118" style="fill: #262626; stroke: #262626; stroke-width: 1.2"/>
      </g>
     </g>
    </g>
    <g id="xtick_20">
     <g id="line2d_46">
      <g>
       <use href="#m810af31bf4" x="499.071876" y="309.099118" style="fill: #262626; stroke: #262626; stroke-width: 1.2"/>
      </g>
     </g>
    </g>
   </g>
   <g id="matplotlib.axis_14">
    <g id="ytick_27">
     <g id="line2d_47">
      <g>
       <use href="#m16c3d9d836" x="385.134545" y="304.759134" style="fill: #262626; stroke: #262626; stroke-width: 1.2"/>
      </g>
     </g>
    </g>
    <g id="ytick_28">
     <g id="line2d_48">
      <g>
       <use href="#m16c3d9d836" x="385.134545" y="273.309975" style="fill: #262626; stroke: #262626; stroke-width: 1.2"/>
      </g>
     </g>
    </g>
    <g id="ytick_29">
     <g id="line2d_49">
      <g>
       <use href="#m16c3d9d836" x="385.134545" y="241.860817" style="fill: #262626; stroke: #262626; stroke-width: 1.2"/>
      </g>
     </g>
    </g>
    <g id="ytick_30">
     <g id="line2d_50">
      <g>
       <use href="#m16c3d9d836" x="385.134545" y="210.411659" style="fill: #262626; stroke: #262626; stroke-width: 1.2"/>
      </g>
     </g>
    </g>
    <g id="ytick_31">
     <g id="line2d_51">
      <g>
       <use href="#m16c3d9d836" x="385.134545" y="178.962501" style="fill: #262626; stroke: #262626; stroke-width: 1.2"/>
      </g>
     </g>
    </g>
   </g>
   <g id="patch_21">
    <path d="M 385.13 309.1 
L 385.13 165.19 
" style="fill: none; stroke: #262626; stroke-width: 1.4; stroke-linejoin: miter; stroke-linecap: square"/>
   </g>
   <g id="patch_22">
    <path d="M 385.13 309.1 
L 539.61 309.1 
" style="fill: none; stroke: #262626; stroke-width: 1.4; stroke-linejoin: miter; stroke-linecap: square"/>
   </g>
  </g>
  <g id="axes_10">
   <g id="patch_23">
    <path d="M 551.78 309.1 
L 706.25 309.1 
L 706.25 165.19 
L 551.78 165.19 
z
" style="fill: #ffffff"/>
   </g>
   <g id="PathCollection_6">
    <defs>
     <path id="C5_0_623b9ded61" d="M 0 3 
C 0.8 3 1.56 2.68 2.12 2.12 
C 2.68 1.56 3 0.8 3 -0 
C 3 -0.8 2.68 -1.56 2.12 -2.12 
C 1.56 -2.68 0.8 -3 0 -3 
C -0.8 -3 -1.56 -2.68 -2.12 -2.12 
C -2.68 -1.56 -3 -0.8 -3 0 
C -3 0.8 -2.68 1.56 -2.12 2.12 
C -1.56 2.68 -0.8 3 0 3 
z
"/>
    </defs>
    <use href="#O" x="638.9" y="295.9"/>
    <use href="#B" x="598.4" y="289.9"/>
    <use href="#B" x="631.7" y="295.6"/>
    <use href="#B" x="607.5" y="288.4"/>
    <use href="#O" x="613.1" y="257.0"/>
    <use href="#B" x="598.9" y="293.7"/>
    <use href="#B" x="621.2" y="297.7"/>
    <use href="#B" x="596.4" y="290.3"/>
    <use href="#O" x="621.5" y="253.7"/>
    <use href="#B" x="617.6" y="289.1"/>
    <use href="#O" x="627.9" y="281.2"/>
    <use href="#B" x="624.2" y="293.2"/>
    <use href="#B" x="650.2" y="280.9"/>
    <use href="#B" x="605.6" y="288.7"/>
    <use href="#B" x="608.2" y="296.1"/>
    <use href="#B" x="619.9" y="277.5"/>
    <use href="#B" x="591.9" y="302.0"/>
    <use href="#B" x="619.1" y="295.5"/>
    <use href="#O" x="609.8" y="274.6"/>
    <use href="#O" x="637.7" y="267.4"/>
    <use href="#B" x="611.1" y="300.6"/>
    <use href="#O" x="624.6" y="279.5"/>
    <use href="#B" x="632.0" y="294.0"/>
    <use href="#B" x="599.2" y="257.2"/>
    <use href="#O" x="588.2" y="297.1"/>
    <use href="#O" x="625.8" y="283.7"/>
    <use href="#O" x="626.9" y="280.0"/>
    <use href="#B" x="610.1" y="288.2"/>
    <use href="#B" x="629.8" y="273.2"/>
    <use href="#O" x="636.9" y="268.0"/>
    <use href="#O" x="642.0" y="298.3"/>
    <use href="#O" x="621.8" y="268.4"/>
    <use href="#B" x="623.2" y="295.7"/>
    <use href="#B" x="613.9" y="276.4"/>
    <use href="#B" x="621.5" y="264.1"/>
    <use href="#B" x="606.4" y="266.5"/>
    <use href="#B" x="628.9" y="250.3"/>
    <use href="#B" x="609.3" y="292.1"/>
    <use href="#O" x="648.3" y="243.5"/>
    <use href="#O" x="618.1" y="287.4"/>
    <use href="#O" x="606.9" y="231.1"/>
    <use href="#B" x="603.5" y="283.8"/>
    <use href="#B" x="607.3" y="289.2"/>
    <use href="#B" x="603.8" y="295.9"/>
    <use href="#B" x="614.1" y="289.5"/>
    <use href="#B" x="634.1" y="281.7"/>
    <use href="#B" x="583.5" y="279.3"/>
    <use href="#O" x="611.8" y="255.6"/>
    <use href="#B" x="587.0" y="292.8"/>
    <use href="#O" x="620.0" y="290.5"/>
    <use href="#B" x="585.6" y="297.4"/>
    <use href="#B" x="582.4" y="273.8"/>
    <use href="#B" x="609.9" y="291.0"/>
    <use href="#O" x="612.2" y="290.2"/>
    <use href="#B" x="601.0" y="291.5"/>
    <use href="#O" x="653.0" y="285.0"/>
    <use href="#B" x="594.5" y="292.4"/>
    <use href="#B" x="606.9" y="296.0"/>
    <use href="#B" x="617.9" y="271.7"/>
    <use href="#O" x="636.0" y="263.0"/>
    <use href="#B" x="622.2" y="295.7"/>
    <use href="#B" x="600.8" y="292.8"/>
    <use href="#B" x="590.0" y="286.4"/>
    <use href="#B" x="643.9" y="276.7"/>
    <use href="#B" x="647.3" y="265.9"/>
    <use href="#B" x="608.9" y="296.6"/>
    <use href="#B" x="586.0" y="278.5"/>
    <use href="#B" x="633.9" y="279.6"/>
    <use href="#B" x="628.4" y="270.8"/>
    <use href="#O" x="645.1" y="258.5"/>
    <use href="#O" x="630.7" y="260.8"/>
    <use href="#B" x="620.7" y="289.0"/>
    <use href="#B" x="618.1" y="263.5"/>
    <use href="#O" x="627.2" y="257.8"/>
    <use href="#B" x="601.4" y="277.2"/>
    <use href="#O" x="620.6" y="292.4"/>
    <use href="#B" x="672.3" y="287.3"/>
    <use href="#O" x="626.5" y="276.1"/>
    <use href="#O" x="652.6" y="212.9"/>
    <use href="#B" x="591.1" y="277.7"/>
    <use href="#O" x="646.9" y="284.2"/>
    <use href="#O" x="644.4" y="269.8"/>
    <use href="#B" x="631.1" y="294.2"/>
    <use href="#O" x="619.1" y="282.9"/>
    <use href="#O" x="627.6" y="276.4"/>
    <use href="#B" x="624.3" y="197.2"/>
    <use href="#B" x="583.0" y="296.4"/>
    <use href="#O" x="615.6" y="272.4"/>
    <use href="#B" x="643.5" y="282.1"/>
    <use href="#O" x="647.6" y="284.2"/>
    <use href="#B" x="597.7" y="285.0"/>
    <use href="#B" x="622.9" y="285.4"/>
    <use href="#B" x="602.4" y="283.1"/>
    <use href="#B" x="586.4" y="292.9"/>
    <use href="#O" x="629.7" y="234.3"/>
    <use href="#B" x="585.4" y="292.6"/>
    <use href="#B" x="630.2" y="285.9"/>
    <use href="#O" x="620.9" y="266.7"/>
    <use href="#B" x="602.1" y="294.7"/>
    <use href="#B" x="610.5" y="268.9"/>
    <use href="#B" x="618.9" y="290.6"/>
    <use href="#O" x="640.7" y="289.0"/>
    <use href="#B" x="612.6" y="299.1"/>
    <use href="#B" x="590.2" y="288.5"/>
    <use href="#B" x="619.5" y="293.5"/>
    <use href="#B" x="585.1" y="299.4"/>
    <use href="#O" x="632.0" y="283.3"/>
    <use href="#B" x="635.4" y="297.1"/>
    <use href="#B" x="627.2" y="289.3"/>
    <use href="#O" x="631.0" y="277.5"/>
    <use href="#O" x="638.5" y="275.0"/>
    <use href="#B" x="613.6" y="282.7"/>
    <use href="#O" x="623.1" y="280.6"/>
    <use href="#B" x="608.6" y="287.0"/>
    <use href="#B" x="636.0" y="281.2"/>
    <use href="#B" x="632.7" y="290.5"/>
    <use href="#B" x="632.2" y="289.6"/>
    <use href="#O" x="607.5" y="271.3"/>
    <use href="#B" x="595.4" y="289.4"/>
    <use href="#O" x="623.9" y="291.7"/>
    <use href="#B" x="611.7" y="298.6"/>
    <use href="#O" x="661.6" y="282.3"/>
    <use href="#B" x="617.0" y="301.3"/>
    <use href="#B" x="636.3" y="301.5"/>
    <use href="#B" x="601.2" y="281.5"/>
    <use href="#B" x="597.5" y="296.5"/>
    <use href="#B" x="614.6" y="291.7"/>
    <use href="#O" x="601.6" y="265.2"/>
    <use href="#O" x="617.4" y="271.7"/>
    <use href="#B" x="630.5" y="298.0"/>
    <use href="#B" x="593.2" y="286.3"/>
    <use href="#B" x="609.5" y="298.8"/>
    <use href="#B" x="618.4" y="275.1"/>
    <use href="#B" x="637.9" y="286.1"/>
    <use href="#B" x="625.0" y="298.1"/>
    <use href="#B" x="588.1" y="276.9"/>
    <use href="#O" x="612.7" y="284.0"/>
    <use href="#O" x="609.4" y="286.7"/>
    <use href="#O" x="628.2" y="285.6"/>
    <use href="#B" x="615.8" y="295.0"/>
    <use href="#O" x="611.4" y="252.1"/>
    <use href="#B" x="633.7" y="291.9"/>
    <use href="#O" x="628.5" y="275.3"/>
    <use href="#O" x="622.8" y="286.0"/>
    <use href="#B" x="612.8" y="293.8"/>
    <use href="#O" x="637.3" y="286.3"/>
    <use href="#O" x="608.1" y="270.2"/>
    <use href="#B" x="600.3" y="272.5"/>
    <use href="#B" x="640.3" y="295.8"/>
    <use href="#O" x="596.4" y="227.8"/>
    <use href="#B" x="599.9" y="288.6"/>
    <use href="#B" x="605.0" y="299.8"/>
    <use href="#O" x="629.1" y="248.9"/>
    <use href="#O" x="614.6" y="273.1"/>
    <use href="#B" x="610.8" y="291.4"/>
    <use href="#O" x="638.1" y="280.8"/>
    <use href="#B" x="634.4" y="292.0"/>
    <use href="#B" x="620.3" y="288.9"/>
    <use href="#B" x="607.8" y="283.0"/>
    <use href="#B" x="617.3" y="290.0"/>
    <use href="#B" x="601.9" y="278.8"/>
    <use href="#O" x="614.1" y="294.3"/>
    <use href="#O" x="619.4" y="277.2"/>
    <use href="#B" x="620.9" y="280.1"/>
    <use href="#B" x="635.2" y="285.2"/>
    <use href="#B" x="643.0" y="287.1"/>
    <use href="#B" x="617.8" y="294.3"/>
    <use href="#B" x="621.6" y="293.0"/>
    <use href="#B" x="594.9" y="279.1"/>
    <use href="#B" x="614.9" y="291.8"/>
    <use href="#O" x="602.8" y="280.4"/>
    <use href="#B" x="629.4" y="296.3"/>
    <use href="#O" x="608.7" y="209.8"/>
    <use href="#B" x="610.3" y="273.5"/>
    <use href="#B" x="618.5" y="288.3"/>
    <use href="#B" x="622.3" y="284.4"/>
    <use href="#O" x="613.6" y="289.1"/>
    <use href="#O" x="617.0" y="262.2"/>
    <use href="#O" x="635.5" y="256.3"/>
    <use href="#O" x="643.2" y="283.5"/>
    <use href="#B" x="612.1" y="265.3"/>
    <use href="#B" x="621.3" y="284.3"/>
    <use href="#B" x="636.7" y="293.6"/>
    <use href="#O" x="642.6" y="281.4"/>
    <use href="#B" x="644.4" y="283.6"/>
    <use href="#B" x="639.6" y="282.3"/>
    <use href="#B" x="600.5" y="300.8"/>
    <use href="#B" x="614.4" y="246.2"/>
    <use href="#B" x="619.2" y="300.1"/>
    <use href="#B" x="580.1" y="301.8"/>
    <use href="#O" x="625.0" y="279.3"/>
    <use href="#B" x="587.6" y="290.2"/>
    <use href="#O" x="598.6" y="282.5"/>
    <use href="#B" x="604.1" y="270.2"/>
    <use href="#O" x="677.8" y="302.6"/>
    <use href="#O" x="623.5" y="278.3"/>
    <use href="#O" x="634.1" y="265.9"/>
    <use href="#B" x="589.8" y="285.1"/>
    <use href="#B" x="626.5" y="286.7"/>
    <use href="#O" x="606.2" y="288.4"/>
    <use href="#O" x="641.5" y="282.1"/>
    <use href="#B" x="587.9" y="285.8"/>
    <use href="#O" x="631.3" y="291.2"/>
    <use href="#B" x="596.8" y="299.6"/>
    <use href="#B" x="616.4" y="291.9"/>
    <use href="#O" x="651.0" y="263.7"/>
    <use href="#B" x="620.4" y="294.4"/>
    <use href="#O" x="622.4" y="289.5"/>
    <use href="#B" x="623.4" y="296.2"/>
    <use href="#B" x="589.0" y="296.7"/>
    <use href="#O" x="641.0" y="278.6"/>
    <use href="#O" x="604.1" y="302.0"/>
    <use href="#B" x="592.5" y="298.5"/>
    <use href="#B" x="608.4" y="282.4"/>
    <use href="#B" x="603.2" y="296.9"/>
    <use href="#O" x="625.4" y="277.9"/>
    <use href="#B" x="623.7" y="291.0"/>
    <use href="#B" x="597.4" y="299.2"/>
    <use href="#B" x="602.9" y="297.6"/>
    <use href="#B" x="645.2" y="283.9"/>
    <use href="#O" x="631.7" y="247.4"/>
    <use href="#B" x="618.7" y="295.4"/>
    <use href="#B" x="605.3" y="280.6"/>
    <use href="#B" x="604.7" y="297.5"/>
    <use href="#B" x="595.7" y="296.9"/>
    <use href="#B" x="623.9" y="253.8"/>
    <use href="#B" x="586.2" y="297.2"/>
    <use href="#B" x="639.0" y="241.0"/>
    <use href="#B" x="611.9" y="294.5"/>
    <use href="#B" x="621.8" y="295.2"/>
    <use href="#B" x="604.4" y="293.1"/>
    <use href="#B" x="588.8" y="269.5"/>
    <use href="#O" x="591.6" y="250.5"/>
    <use href="#O" x="640.6" y="261.5"/>
    <use href="#O" x="619.7" y="269.1"/>
    <use href="#B" x="620.0" y="283.7"/>
    <use href="#B" x="641.5" y="274.6"/>
    <use href="#B" x="597.0" y="284.8"/>
    <use href="#B" x="617.1" y="286.6"/>
    <use href="#O" x="609.0" y="289.8"/>
    <use href="#B" x="648.8" y="281.6"/>
    <use href="#O" x="617.8" y="279.8"/>
    <use href="#O" x="640.1" y="240.4"/>
    <use href="#B" x="616.2" y="302.3"/>
    <use href="#B" x="599.6" y="301.1"/>
    <use href="#B" x="591.6" y="287.7"/>
    <use href="#B" x="619.8" y="296.8"/>
    <use href="#O" x="647.6" y="273.9"/>
    <use href="#O" x="605.3" y="284.4"/>
    <use href="#B" x="635.7" y="235.7"/>
    <use href="#O" x="616.6" y="293.7"/>
    <use href="#O" x="584.8" y="279.1"/>
    <use href="#B" x="607.1" y="275.9"/>
    <use href="#B" x="612.4" y="283.2"/>
    <use href="#O" x="610.6" y="288.8"/>
    <use href="#B" x="637.5" y="289.1"/>
    <use href="#B" x="598.6" y="283.3"/>
    <use href="#B" x="584.3" y="273.0"/>
    <use href="#O" x="639.3" y="276.8"/>
    <use href="#B" x="628.0" y="267.0"/>
    <use href="#B" x="601.7" y="288.8"/>
    <use href="#O" x="646.3" y="285.3"/>
    <use href="#B" x="586.8" y="278.3"/>
    <use href="#O" x="643.8" y="275.7"/>
    <use href="#B" x="640.9" y="295.1"/>
    <use href="#B" x="622.0" y="298.7"/>
    <use href="#B" x="658.8" y="279.9"/>
    <use href="#O" x="610.2" y="300.7"/>
    <use href="#B" x="613.4" y="293.9"/>
    <use href="#B" x="633.4" y="286.8"/>
    <use href="#B" x="616.8" y="287.5"/>
    <use href="#O" x="618.8" y="260.0"/>
    <use href="#B" x="606.6" y="283.5"/>
    <use href="#B" x="589.6" y="284.2"/>
    <use href="#O" x="600.6" y="254.8"/>
    <use href="#B" x="619.3" y="262.4"/>
    <use href="#B" x="590.4" y="298.9"/>
    <use href="#B" x="622.5" y="272.2"/>
    <use href="#B" x="590.9" y="276.2"/>
    <use href="#B" x="611.5" y="223.0"/>
    <use href="#O" x="649.9" y="270.9"/>
    <use href="#B" x="608.7" y="258.9"/>
    <use href="#B" x="646.7" y="286.2"/>
    <use href="#O" x="622.1" y="290.9"/>
    <use href="#B" x="585.8" y="268.3"/>
    <use href="#O" x="649.0" y="288.1"/>
    <use href="#B" x="620.6" y="296.3"/>
    <use href="#B" x="625.9" y="284.0"/>
    <use href="#O" x="616.1" y="295.0"/>
    <use href="#B" x="584.6" y="281.9"/>
    <use href="#B" x="624.6" y="294.6"/>
    <use href="#O" x="624.2" y="287.0"/>
    <use href="#O" x="630.0" y="284.8"/>
    <use href="#B" x="616.6" y="272.7"/>
    <use href="#O" x="635.1" y="237.4"/>
    <use href="#B" x="625.4" y="292.3"/>
    <use href="#O" x="628.8" y="268.7"/>
    <use href="#O" x="611.0" y="281.9"/>
    <use href="#B" x="590.6" y="267.7"/>
    <use href="#B" x="638.4" y="287.8"/>
    <use href="#B" x="589.4" y="290.1"/>
    <use href="#O" x="665.2" y="289.0"/>
    <use href="#B" x="595.9" y="293.7"/>
    <use href="#O" x="630.4" y="272.8"/>
    <use href="#O" x="614.4" y="219.1"/>
    <use href="#B" x="588.6" y="293.4"/>
    <use href="#B" x="613.1" y="285.6"/>
    <use href="#B" x="598.7" y="290.8"/>
    <use href="#B" x="619.6" y="287.9"/>
    <use href="#B" x="589.2" y="289.8"/>
    <use href="#O" x="645.7" y="284.6"/>
    <use href="#B" x="587.4" y="291.1"/>
    <use href="#O" x="626.2" y="283.1"/>
    <use href="#O" x="607.2" y="171.7"/>
    <use href="#B" x="593.6" y="293.3"/>
    <use href="#B" x="616.0" y="294.8"/>
    <use href="#B" x="605.9" y="290.1"/>
    <use href="#B" x="630.8" y="278.0"/>
    <use href="#B" x="634.9" y="281.4"/>
    <use href="#O" x="620.3" y="264.5"/>
    <use href="#B" x="618.2" y="282.8"/>
    <use href="#B" x="615.6" y="289.7"/>
    <use href="#B" x="606.1" y="230.4"/>
    <use href="#B" x="588.5" y="297.3"/>
    <use href="#B" x="620.2" y="282.2"/>
    <use href="#B" x="599.8" y="286.9"/>
    <use href="#B" x="637.1" y="298.2"/>
    <use href="#B" x="599.4" y="288.0"/>
    <use href="#B" x="608.0" y="285.3"/>
    <use href="#B" x="591.4" y="274.8"/>
    <use href="#B" x="600.6" y="298.3"/>
    <use href="#O" x="656.7" y="270.2"/>
    <use href="#B" x="598.2" y="284.7"/>
    <use href="#B" x="631.4" y="275.4"/>
    <use href="#O" x="629.4" y="282.7"/>
    <use href="#B" x="622.7" y="291.6"/>
    <use href="#O" x="599.6" y="281.0"/>
    <use href="#B" x="648.0" y="295.3"/>
    <use href="#B" x="596.6" y="280.4"/>
    <use href="#B" x="597.2" y="290.9"/>
    <use href="#O" x="634.6" y="280.2"/>
    <use href="#B" x="635.2" y="187.0"/>
    <use href="#O" x="594.7" y="278.9"/>
    <use href="#B" x="581.6" y="294.6"/>
    <use href="#B" x="583.9" y="290.4"/>
    <use href="#B" x="632.9" y="267.1"/>
    <use href="#O" x="636.4" y="245.8"/>
    <use href="#B" x="598.1" y="292.2"/>
    <use href="#B" x="596.1" y="294.1"/>
    <use href="#O" x="615.2" y="269.5"/>
    <use href="#B" x="586.6" y="282.5"/>
    <use href="#B" x="587.7" y="264.7"/>
    <use href="#O" x="632.4" y="281.6"/>
    <use href="#B" x="621.0" y="271.1"/>
    <use href="#B" x="646.2" y="284.6"/>
    <use href="#B" x="610.6" y="287.6"/>
    <use href="#B" x="609.7" y="284.5"/>
    <use href="#B" x="600.1" y="300.3"/>
    <use href="#B" x="633.2" y="282.0"/>
    <use href="#B" x="627.8" y="290.7"/>
    <use href="#B" x="592.2" y="271.4"/>
    <use href="#B" x="587.2" y="287.2"/>
    <use href="#B" x="588.3" y="291.3"/>
    <use href="#B" x="599.1" y="260.7"/>
    <use href="#O" x="632.8" y="259.3"/>
    <use href="#B" x="642.6" y="271.9"/>
    <use href="#B" x="644.8" y="252.0"/>
    <use href="#O" x="608.6" y="287.7"/>
    <use href="#B" x="592.9" y="291.2"/>
    <use href="#B" x="618.8" y="281.3"/>
    <use href="#B" x="645.7" y="285.5"/>
    <use href="#O" x="621.2" y="293.0"/>
    <use href="#B" x="634.6" y="292.5"/>
    <use href="#O" x="644.0" y="223.8"/>
    <use href="#B" x="584.9" y="297.5"/>
    <use href="#B" x="609.1" y="274.0"/>
    <use href="#B" x="615.1" y="297.0"/>
    <use href="#B" x="642.1" y="294.9"/>
    <use href="#B" x="594.2" y="255.5"/>
    <use href="#B" x="595.1" y="287.4"/>
    <use href="#O" x="633.7" y="270.6"/>
    <use href="#O" x="639.7" y="274.2"/>
    <use href="#B" x="615.4" y="295.1"/>
    <use href="#O" x="618.4" y="299.5"/>
    <use href="#B" x="602.6" y="274.3"/>
    <use href="#O" x="633.2" y="272.0"/>
    <use href="#B" x="597.9" y="297.8"/>
    <use href="#B" x="632.5" y="282.9"/>
    <use href="#B" x="611.3" y="292.7"/>
    <use href="#B" x="593.9" y="286.0"/>
    <use href="#O" x="597.6" y="273.5"/>
    <use href="#B" x="617.5" y="275.6"/>
   </g>
   <g id="matplotlib.axis_15">
    <g id="xtick_21">
     <g id="line2d_52">
      <g>
       <use href="#m810af31bf4" x="565.824793" y="309.099118" style="fill: #262626; stroke: #262626; stroke-width: 1.2"/>
      </g>
     </g>
    </g>
    <g id="xtick_22">
     <g id="line2d_53">
      <g>
       <use href="#m810af31bf4" x="610.264588" y="309.099118" style="fill: #262626; stroke: #262626; stroke-width: 1.2"/>
      </g>
     </g>
    </g>
    <g id="xtick_23">
     <g id="line2d_54">
      <g>
       <use href="#m810af31bf4" x="654.704383" y="309.099118" style="fill: #262626; stroke: #262626; stroke-width: 1.2"/>
      </g>
     </g>
    </g>
    <g id="xtick_24">
     <g id="line2d_55">
      <g>
       <use href="#m810af31bf4" x="699.144178" y="309.099118" style="fill: #262626; stroke: #262626; stroke-width: 1.2"/>
      </g>
     </g>
    </g>
   </g>
   <g id="matplotlib.axis_16">
    <g id="ytick_32">
     <g id="line2d_56">
      <g>
       <use href="#m16c3d9d836" x="551.781818" y="304.759134" style="fill: #262626; stroke: #262626; stroke-width: 1.2"/>
      </g>
     </g>
    </g>
    <g id="ytick_33">
     <g id="line2d_57">
      <g>
       <use href="#m16c3d9d836" x="551.781818" y="273.309975" style="fill: #262626; stroke: #262626; stroke-width: 1.2"/>
      </g>
     </g>
    </g>
    <g id="ytick_34">
     <g id="line2d_58">
      <g>
       <use href="#m16c3d9d836" x="551.781818" y="241.860817" style="fill: #262626; stroke: #262626; stroke-width: 1.2"/>
      </g>
     </g>
    </g>
    <g id="ytick_35">
     <g id="line2d_59">
      <g>
       <use href="#m16c3d9d836" x="551.781818" y="210.411659" style="fill: #262626; stroke: #262626; stroke-width: 1.2"/>
      </g>
     </g>
    </g>
    <g id="ytick_36">
     <g id="line2d_60">
      <g>
       <use href="#m16c3d9d836" x="551.781818" y="178.962501" style="fill: #262626; stroke: #262626; stroke-width: 1.2"/>
      </g>
     </g>
    </g>
   </g>
   <g id="patch_24">
    <path d="M 551.78 309.1 
L 551.78 165.19 
" style="fill: none; stroke: #262626; stroke-width: 1.4; stroke-linejoin: miter; stroke-linecap: square"/>
   </g>
   <g id="patch_25">
    <path d="M 551.78 309.1 
L 706.25 309.1 
" style="fill: none; stroke: #262626; stroke-width: 1.4; stroke-linejoin: miter; stroke-linecap: square"/>
   </g>
  </g>
  <g id="axes_11">
   <g id="patch_26">
    <path d="M 51.84 458.92 
L 206.31 458.92 
L 206.31 315.01 
L 51.84 315.01 
z
" style="fill: #ffffff"/>
   </g>
   <g id="PathCollection_7">
    <defs>
     <path id="C6_0_623b9ded61" d="M 0 3 
C 0.8 3 1.56 2.68 2.12 2.12 
C 2.68 1.56 3 0.8 3 -0 
C 3 -0.8 2.68 -1.56 2.12 -2.12 
C 1.56 -2.68 0.8 -3 0 -3 
C -0.8 -3 -1.56 -2.68 -2.12 -2.12 
C -2.68 -1.56 -3 -0.8 -3 0 
C -3 0.8 -2.68 1.56 -2.12 2.12 
C -1.56 2.68 -0.8 3 0 3 
z
"/>
    </defs>
    <use href="#O" x="135.8" y="410.0"/>
    <use href="#B" x="122.9" y="437.5"/>
    <use href="#B" x="163.1" y="405.9"/>
    <use href="#B" x="110.3" y="415.8"/>
    <use href="#O" x="155.2" y="417.2"/>
    <use href="#B" x="106.3" y="437.7"/>
    <use href="#B" x="96.3" y="380.0"/>
    <use href="#B" x="105.7" y="413.2"/>
    <use href="#O" x="174.5" y="378.4"/>
    <use href="#B" x="120.9" y="403.4"/>
    <use href="#O" x="114.2" y="389.6"/>
    <use href="#B" x="116.3" y="419.5"/>
    <use href="#B" x="121.5" y="413.0"/>
    <use href="#B" x="126.8" y="421.4"/>
    <use href="#B" x="99.9" y="432.1"/>
    <use href="#B" x="115.5" y="404.3"/>
    <use href="#B" x="87.0" y="445.9"/>
    <use href="#B" x="101.2" y="416.5"/>
    <use href="#O" x="173.3" y="427.9"/>
    <use href="#O" x="144.3" y="423.5"/>
    <use href="#B" x="75.2" y="394.7"/>
    <use href="#O" x="149.5" y="422.0"/>
    <use href="#B" x="94.6" y="415.1"/>
    <use href="#B" x="122.1" y="435.3"/>
    <use href="#O" x="91.3" y="406.6"/>
    <use href="#O" x="167.9" y="407.9"/>
    <use href="#O" x="120.5" y="421.4"/>
    <use href="#B" x="131.4" y="434.0"/>
    <use href="#B" x="127.1" y="410.2"/>
    <use href="#O" x="121.2" y="400.5"/>
    <use href="#O" x="110.9" y="391.2"/>
    <use href="#O" x="143.1" y="411.0"/>
    <use href="#B" x="106.0" y="406.8"/>
    <use href="#B" x="126.4" y="403.7"/>
    <use href="#B" x="140.4" y="420.1"/>
    <use href="#B" x="115.1" y="419.9"/>
    <use href="#B" x="128.1" y="402.8"/>
    <use href="#B" x="109.6" y="441.7"/>
    <use href="#O" x="141.1" y="406.2"/>
    <use href="#O" x="153.9" y="414.2"/>
    <use href="#O" x="127.7" y="386.7"/>
    <use href="#B" x="109.0" y="410.9"/>
    <use href="#B" x="105.9" y="431.9"/>
    <use href="#B" x="89.5" y="418.4"/>
    <use href="#B" x="157.0" y="407.1"/>
    <use href="#B" x="136.0" y="425.2"/>
    <use href="#B" x="108.0" y="426.6"/>
    <use href="#O" x="146.3" y="431.0"/>
    <use href="#B" x="104.6" y="427.7"/>
    <use href="#O" x="139.2" y="388.5"/>
    <use href="#B" x="108.3" y="430.0"/>
    <use href="#B" x="117.1" y="442.0"/>
    <use href="#B" x="95.9" y="412.8"/>
    <use href="#O" x="115.5" y="427.3"/>
    <use href="#B" x="109.9" y="401.5"/>
    <use href="#O" x="131.5" y="391.8"/>
    <use href="#B" x="93.3" y="416.7"/>
    <use href="#B" x="100.1" y="435.8"/>
    <use href="#B" x="92.8" y="409.3"/>
    <use href="#O" x="154.6" y="420.9"/>
    <use href="#B" x="93.0" y="411.4"/>
    <use href="#B" x="124.5" y="416.0"/>
    <use href="#B" x="123.8" y="447.3"/>
    <use href="#B" x="103.6" y="399.0"/>
    <use href="#B" x="141.1" y="388.3"/>
    <use href="#B" x="117.9" y="445.2"/>
    <use href="#B" x="92.1" y="419.1"/>
    <use href="#B" x="99.6" y="416.3"/>
    <use href="#B" x="125.8" y="428.5"/>
    <use href="#O" x="106.2" y="334.8"/>
    <use href="#O" x="158.4" y="413.1"/>
    <use href="#B" x="133.4" y="438.3"/>
    <use href="#B" x="117.7" y="423.9"/>
    <use href="#O" x="165.3" y="409.7"/>
    <use href="#B" x="127.8" y="438.6"/>
    <use href="#O" x="116.1" y="419.0"/>
    <use href="#B" x="106.4" y="376.1"/>
    <use href="#O" x="125.4" y="401.2"/>
    <use href="#O" x="156.2" y="386.8"/>
    <use href="#B" x="123.3" y="419.7"/>
    <use href="#O" x="151.4" y="384.6"/>
    <use href="#O" x="175.1" y="395.0"/>
    <use href="#B" x="92.4" y="411.3"/>
    <use href="#O" x="134.8" y="412.2"/>
    <use href="#O" x="160.9" y="428.4"/>
    <use href="#B" x="151.9" y="360.9"/>
    <use href="#B" x="104.0" y="440.5"/>
    <use href="#O" x="126.3" y="411.8"/>
    <use href="#B" x="131.7" y="407.6"/>
    <use href="#O" x="126.3" y="321.3"/>
    <use href="#B" x="105.3" y="418.9"/>
    <use href="#B" x="129.1" y="404.0"/>
    <use href="#B" x="114.9" y="430.4"/>
    <use href="#B" x="99.4" y="428.7"/>
    <use href="#O" x="156.5" y="408.4"/>
    <use href="#B" x="110.2" y="435.1"/>
    <use href="#B" x="120.1" y="414.0"/>
    <use href="#O" x="153.3" y="401.8"/>
    <use href="#B" x="94.8" y="398.7"/>
    <use href="#B" x="136.5" y="437.3"/>
    <use href="#B" x="101.7" y="425.1"/>
    <use href="#O" x="97.1" y="353.9"/>
    <use href="#B" x="96.6" y="424.5"/>
    <use href="#B" x="101.0" y="431.2"/>
    <use href="#B" x="125.4" y="422.8"/>
    <use href="#B" x="87.6" y="449.1"/>
    <use href="#O" x="157.1" y="405.5"/>
    <use href="#B" x="116.9" y="392.6"/>
    <use href="#B" x="103.7" y="418.6"/>
    <use href="#O" x="126.8" y="410.3"/>
    <use href="#O" x="172.1" y="407.5"/>
    <use href="#B" x="120.3" y="414.6"/>
    <use href="#O" x="129.1" y="390.5"/>
    <use href="#B" x="107.7" y="436.6"/>
    <use href="#B" x="106.9" y="399.3"/>
    <use href="#B" x="155.4" y="407.8"/>
    <use href="#B" x="93.5" y="401.2"/>
    <use href="#O" x="112.9" y="446.7"/>
    <use href="#B" x="135.7" y="429.8"/>
    <use href="#O" x="124.9" y="417.8"/>
    <use href="#B" x="97.2" y="428.9"/>
    <use href="#O" x="104.4" y="376.7"/>
    <use href="#B" x="104.3" y="434.5"/>
    <use href="#B" x="81.0" y="417.9"/>
    <use href="#B" x="141.8" y="439.5"/>
    <use href="#B" x="119.3" y="428.1"/>
    <use href="#B" x="115.9" y="430.8"/>
    <use href="#O" x="155.9" y="437.3"/>
    <use href="#O" x="146.9" y="417.5"/>
    <use href="#B" x="107.0" y="400.0"/>
    <use href="#B" x="142.4" y="395.6"/>
    <use href="#B" x="112.3" y="436.2"/>
    <use href="#B" x="130.1" y="424.3"/>
    <use href="#B" x="97.9" y="412.0"/>
    <use href="#B" x="119.5" y="387.3"/>
    <use href="#B" x="119.7" y="420.7"/>
    <use href="#O" x="123.5" y="408.6"/>
    <use href="#O" x="142.4" y="409.1"/>
    <use href="#O" x="134.4" y="415.5"/>
    <use href="#B" x="111.5" y="393.2"/>
    <use href="#O" x="109.0" y="396.2"/>
    <use href="#B" x="123.1" y="412.5"/>
    <use href="#O" x="157.8" y="380.7"/>
    <use href="#O" x="137.3" y="405.7"/>
    <use href="#B" x="107.4" y="402.5"/>
    <use href="#O" x="130.6" y="393.9"/>
    <use href="#O" x="139.9" y="408.1"/>
    <use href="#B" x="129.7" y="443.2"/>
    <use href="#B" x="116.1" y="377.7"/>
    <use href="#O" x="159.0" y="420.0"/>
    <use href="#B" x="99.2" y="404.6"/>
    <use href="#B" x="112.1" y="438.1"/>
    <use href="#O" x="136.3" y="418.1"/>
    <use href="#O" x="162.8" y="422.7"/>
    <use href="#B" x="106.1" y="400.9"/>
    <use href="#O" x="118.0" y="404.3"/>
    <use href="#B" x="102.0" y="411.6"/>
    <use href="#B" x="113.3" y="413.4"/>
    <use href="#B" x="127.4" y="422.0"/>
    <use href="#B" x="112.9" y="411.1"/>
    <use href="#B" x="124.8" y="406.2"/>
    <use href="#O" x="132.5" y="406.8"/>
    <use href="#O" x="123.9" y="420.4"/>
    <use href="#B" x="111.0" y="396.5"/>
    <use href="#B" x="105.1" y="395.2"/>
    <use href="#B" x="130.7" y="409.7"/>
    <use href="#B" x="102.7" y="417.4"/>
    <use href="#B" x="104.1" y="384.1"/>
    <use href="#B" x="101.8" y="422.4"/>
    <use href="#B" x="91.5" y="427.5"/>
    <use href="#O" x="96.6" y="416.7"/>
    <use href="#B" x="90.5" y="390.1"/>
    <use href="#O" x="122.7" y="424.0"/>
    <use href="#B" x="106.4" y="423.0"/>
    <use href="#B" x="110.4" y="423.7"/>
    <use href="#B" x="134.0" y="420.9"/>
    <use href="#O" x="131.0" y="403.1"/>
    <use href="#O" x="167.2" y="407.0"/>
    <use href="#O" x="159.7" y="397.7"/>
    <use href="#O" x="170.0" y="407.2"/>
    <use href="#B" x="143.1" y="418.1"/>
    <use href="#B" x="114.1" y="412.3"/>
    <use href="#B" x="89.8" y="396.9"/>
    <use href="#O" x="147.5" y="395.5"/>
    <use href="#B" x="137.1" y="412.1"/>
    <use href="#B" x="94.4" y="385.2"/>
    <use href="#B" x="89.1" y="431.5"/>
    <use href="#B" x="107.1" y="415.4"/>
    <use href="#B" x="150.4" y="392.1"/>
    <use href="#B" x="78.5" y="451.9"/>
    <use href="#O" x="171.5" y="405.3"/>
    <use href="#B" x="101.6" y="424.9"/>
    <use href="#O" x="128.7" y="434.5"/>
    <use href="#B" x="166.4" y="413.5"/>
    <use href="#O" x="161.9" y="342.2"/>
    <use href="#O" x="112.3" y="414.6"/>
    <use href="#O" x="164.1" y="392.9"/>
    <use href="#B" x="98.8" y="435.4"/>
    <use href="#B" x="121.1" y="394.2"/>
    <use href="#O" x="137.9" y="429.4"/>
    <use href="#O" x="148.8" y="328.7"/>
    <use href="#B" x="112.5" y="421.2"/>
    <use href="#O" x="152.0" y="426.7"/>
    <use href="#B" x="79.8" y="446.6"/>
    <use href="#B" x="103.8" y="397.2"/>
    <use href="#O" x="133.4" y="399.6"/>
    <use href="#B" x="129.4" y="430.2"/>
    <use href="#O" x="173.9" y="415.8"/>
    <use href="#B" x="109.4" y="414.2"/>
    <use href="#B" x="105.0" y="434.9"/>
    <use href="#O" x="135.3" y="370.6"/>
    <use href="#O" x="122.4" y="443.9"/>
    <use href="#B" x="120.7" y="425.8"/>
    <use href="#B" x="95.2" y="418.2"/>
    <use href="#B" x="103.3" y="432.5"/>
    <use href="#O" x="150.1" y="409.4"/>
    <use href="#B" x="95.0" y="427.0"/>
    <use href="#B" x="119.9" y="429.1"/>
    <use href="#B" x="91.8" y="414.7"/>
    <use href="#B" x="94.1" y="403.1"/>
    <use href="#O" x="123.0" y="418.4"/>
    <use href="#B" x="109.2" y="411.8"/>
    <use href="#B" x="123.5" y="425.6"/>
    <use href="#B" x="110.8" y="432.3"/>
    <use href="#B" x="113.7" y="421.0"/>
    <use href="#B" x="122.5" y="391.6"/>
    <use href="#B" x="76.9" y="450.0"/>
    <use href="#B" x="169.7" y="420.3"/>
    <use href="#B" x="102.4" y="427.9"/>
    <use href="#B" x="96.1" y="408.5"/>
    <use href="#B" x="88.8" y="426.0"/>
    <use href="#B" x="111.4" y="443.9"/>
    <use href="#O" x="163.4" y="429.9"/>
    <use href="#O" x="119.3" y="398.6"/>
    <use href="#O" x="162.2" y="404.5"/>
    <use href="#B" x="144.4" y="407.4"/>
    <use href="#B" x="125.1" y="432.8"/>
    <use href="#B" x="143.7" y="431.7"/>
    <use href="#B" x="131.1" y="429.4"/>
    <use href="#O" x="129.6" y="392.4"/>
    <use href="#B" x="114.7" y="386.2"/>
    <use href="#O" x="101.8" y="404.0"/>
    <use href="#O" x="124.4" y="381.8"/>
    <use href="#B" x="99.0" y="433.8"/>
    <use href="#B" x="98.5" y="441.4"/>
    <use href="#B" x="134.7" y="432.6"/>
    <use href="#B" x="106.7" y="424.1"/>
    <use href="#O" x="152.7" y="408.9"/>
    <use href="#O" x="93.9" y="416.1"/>
    <use href="#B" x="117.5" y="389.5"/>
    <use href="#O" x="148.2" y="424.4"/>
    <use href="#O" x="130.1" y="419.6"/>
    <use href="#B" x="135.0" y="433.6"/>
    <use href="#B" x="117.3" y="414.9"/>
    <use href="#O" x="133.9" y="419.3"/>
    <use href="#B" x="128.8" y="427.3"/>
    <use href="#B" x="103.4" y="430.6"/>
    <use href="#B" x="100.3" y="417.7"/>
    <use href="#O" x="164.7" y="405.9"/>
    <use href="#B" x="122.0" y="347.8"/>
    <use href="#B" x="97.4" y="415.6"/>
    <use href="#O" x="145.0" y="403.7"/>
    <use href="#B" x="132.4" y="435.6"/>
    <use href="#O" x="118.6" y="417.0"/>
    <use href="#B" x="85.6" y="420.5"/>
    <use href="#B" x="83.5" y="409.0"/>
    <use href="#B" x="120.5" y="373.5"/>
    <use href="#O" x="138.6" y="411.4"/>
    <use href="#B" x="110.6" y="417.5"/>
    <use href="#B" x="114.3" y="408.6"/>
    <use href="#B" x="108.1" y="400.3"/>
    <use href="#O" x="140.5" y="379.6"/>
    <use href="#B" x="115.3" y="434.3"/>
    <use href="#B" x="106.6" y="409.2"/>
    <use href="#O" x="108.0" y="403.4"/>
    <use href="#B" x="103.1" y="383.1"/>
    <use href="#B" x="98.1" y="439.8"/>
    <use href="#B" x="152.1" y="419.3"/>
    <use href="#B" x="95.5" y="433.2"/>
    <use href="#B" x="173.0" y="408.1"/>
    <use href="#O" x="125.8" y="361.8"/>
    <use href="#B" x="108.9" y="409.9"/>
    <use href="#B" x="109.7" y="410.7"/>
    <use href="#O" x="107.1" y="349.6"/>
    <use href="#B" x="116.5" y="421.8"/>
    <use href="#O" x="109.9" y="402.3"/>
    <use href="#B" x="84.8" y="390.6"/>
    <use href="#B" x="116.7" y="389.0"/>
    <use href="#O" x="111.7" y="413.9"/>
    <use href="#B" x="118.1" y="423.3"/>
    <use href="#B" x="100.5" y="397.8"/>
    <use href="#O" x="160.3" y="433.2"/>
    <use href="#O" x="145.6" y="383.1"/>
    <use href="#B" x="111.7" y="379.0"/>
    <use href="#O" x="132.9" y="441.4"/>
    <use href="#B" x="107.3" y="444.6"/>
    <use href="#O" x="136.7" y="405.0"/>
    <use href="#O" x="166.0" y="407.7"/>
    <use href="#B" x="107.6" y="427.2"/>
    <use href="#B" x="132.7" y="401.8"/>
    <use href="#B" x="118.5" y="441.1"/>
    <use href="#O" x="149.1" y="357.9"/>
    <use href="#B" x="153.7" y="440.1"/>
    <use href="#O" x="128.2" y="414.9"/>
    <use href="#O" x="174.7" y="419.2"/>
    <use href="#B" x="102.3" y="433.0"/>
    <use href="#B" x="122.3" y="418.8"/>
    <use href="#B" x="93.7" y="423.1"/>
    <use href="#B" x="102.8" y="399.7"/>
    <use href="#B" x="137.8" y="438.9"/>
    <use href="#O" x="116.7" y="404.8"/>
    <use href="#B" x="82.3" y="442.5"/>
    <use href="#O" x="127.3" y="415.2"/>
    <use href="#O" x="169.7" y="420.0"/>
    <use href="#B" x="111.2" y="436.4"/>
    <use href="#B" x="108.4" y="416.1"/>
    <use href="#B" x="104.9" y="408.0"/>
    <use href="#B" x="138.4" y="417.2"/>
    <use href="#B" x="115.7" y="415.3"/>
    <use href="#O" x="172.7" y="430.5"/>
    <use href="#B" x="135.4" y="426.8"/>
    <use href="#B" x="96.8" y="426.4"/>
    <use href="#B" x="139.8" y="429.3"/>
    <use href="#B" x="102.6" y="440.8"/>
    <use href="#B" x="104.7" y="410.6"/>
    <use href="#B" x="102.1" y="437.9"/>
    <use href="#B" x="90.8" y="405.6"/>
    <use href="#B" x="118.7" y="436.8"/>
    <use href="#B" x="121.7" y="410.0"/>
    <use href="#B" x="95.7" y="413.9"/>
    <use href="#B" x="91.1" y="448.2"/>
    <use href="#O" x="121.3" y="367.8"/>
    <use href="#B" x="159.8" y="416.8"/>
    <use href="#B" x="121.9" y="396.2"/>
    <use href="#O" x="132.0" y="428.9"/>
    <use href="#B" x="112.7" y="391.1"/>
    <use href="#O" x="150.7" y="393.4"/>
    <use href="#B" x="113.1" y="381.0"/>
    <use href="#B" x="132.1" y="404.9"/>
    <use href="#B" x="105.4" y="405.3"/>
    <use href="#O" x="168.6" y="426.0"/>
    <use href="#B" x="173.2" y="402.3"/>
    <use href="#O" x="119.9" y="432.4"/>
    <use href="#B" x="124.1" y="451.0"/>
    <use href="#B" x="113.5" y="421.6"/>
    <use href="#B" x="118.9" y="382.1"/>
    <use href="#O" x="170.8" y="394.4"/>
    <use href="#B" x="104.4" y="433.4"/>
    <use href="#B" x="105.6" y="434.1"/>
    <use href="#O" x="113.6" y="402.7"/>
    <use href="#B" x="101.4" y="436.9"/>
    <use href="#B" x="108.7" y="425.4"/>
    <use href="#O" x="169.3" y="418.7"/>
    <use href="#B" x="126.1" y="422.6"/>
    <use href="#B" x="93.9" y="393.7"/>
    <use href="#B" x="128.4" y="408.8"/>
    <use href="#B" x="118.3" y="439.2"/>
    <use href="#B" x="86.3" y="406.5"/>
    <use href="#B" x="114.5" y="428.3"/>
    <use href="#B" x="107.9" y="402.1"/>
    <use href="#B" x="133.1" y="410.4"/>
    <use href="#B" x="110.0" y="429.6"/>
    <use href="#B" x="121.3" y="431.3"/>
    <use href="#B" x="134.4" y="434.7"/>
    <use href="#O" x="161.5" y="410.7"/>
    <use href="#B" x="133.7" y="409.5"/>
    <use href="#B" x="109.3" y="369.4"/>
    <use href="#O" x="114.8" y="431.6"/>
    <use href="#B" x="122.7" y="436.0"/>
    <use href="#B" x="97.0" y="424.7"/>
    <use href="#B" x="139.1" y="413.7"/>
    <use href="#O" x="117.4" y="413.5"/>
    <use href="#B" x="97.7" y="398.4"/>
    <use href="#O" x="162.6" y="384.7"/>
    <use href="#B" x="98.3" y="437.1"/>
    <use href="#B" x="111.9" y="426.2"/>
    <use href="#B" x="145.5" y="397.5"/>
    <use href="#B" x="119.1" y="412.7"/>
    <use href="#B" x="148.8" y="423.5"/>
    <use href="#B" x="113.9" y="422.2"/>
    <use href="#O" x="141.8" y="416.4"/>
    <use href="#O" x="143.7" y="396.9"/>
    <use href="#B" x="88.3" y="414.4"/>
    <use href="#O" x="121.8" y="425.3"/>
    <use href="#B" x="130.4" y="417.0"/>
    <use href="#O" x="99.2" y="406.4"/>
    <use href="#B" x="108.6" y="431.0"/>
    <use href="#B" x="100.7" y="400.6"/>
    <use href="#B" x="90.1" y="408.3"/>
    <use href="#B" x="103.0" y="395.9"/>
    <use href="#O" x="166.6" y="412.7"/>
    <use href="#B" x="147.1" y="398.1"/>
   </g>
   <g id="matplotlib.axis_17">
    <g id="xtick_25">
     <g id="line2d_61">
      <g>
       <use href="#m810af31bf4" x="105.67787" y="458.920583" style="fill: #262626; stroke: #262626; stroke-width: 1.2"/>
      </g>
     </g>
    </g>
    <g id="xtick_26">
     <g id="line2d_62">
      <g>
       <use href="#m810af31bf4" x="176.797911" y="458.920583" style="fill: #262626; stroke: #262626; stroke-width: 1.2"/>
      </g>
     </g>
    </g>
   </g>
   <g id="matplotlib.axis_18">
    <g id="ytick_37">
     <g id="line2d_63">
      <g>
       <use href="#m16c3d9d836" x="51.84" y="447.552121" style="fill: #262626; stroke: #262626; stroke-width: 1.2"/>
      </g>
     </g>
     <g id="text_12">
      <text style="font-size: 10px; text-anchor: end; fill: #262626" x="43.14" y="451.35134" transform="matrix(1 0 0 1.120 0 -54.162)">20</text>
     </g>
    </g>
    <g id="ytick_38">
     <g id="line2d_64">
      <g>
       <use href="#m16c3d9d836" x="51.84" y="420.8028" style="fill: #262626; stroke: #262626; stroke-width: 1.2"/>
      </g>
     </g>
     <g id="text_13">
      <text style="font-size: 10px; text-anchor: end; fill: #262626" x="43.14" y="424.602019" transform="matrix(1 0 0 1.120 0 -50.952)">30</text>
     </g>
    </g>
    <g id="ytick_39">
     <g id="line2d_65">
      <g>
       <use href="#m16c3d9d836" x="51.84" y="394.053479" style="fill: #262626; stroke: #262626; stroke-width: 1.2"/>
      </g>
     </g>
     <g id="text_14">
      <text style="font-size: 10px; text-anchor: end; fill: #262626" x="43.14" y="397.852698" transform="matrix(1 0 0 1.120 0 -47.742)">40</text>
     </g>
    </g>
    <g id="ytick_40">
     <g id="line2d_66">
      <g>
       <use href="#m16c3d9d836" x="51.84" y="367.304158" style="fill: #262626; stroke: #262626; stroke-width: 1.2"/>
      </g>
     </g>
     <g id="text_15">
      <text style="font-size: 10px; text-anchor: end; fill: #262626" x="43.14" y="371.103376" transform="matrix(1 0 0 1.120 0 -44.532)">50</text>
     </g>
    </g>
    <g id="ytick_41">
     <g id="line2d_67">
      <g>
       <use href="#m16c3d9d836" x="51.84" y="340.554836" style="fill: #262626; stroke: #262626; stroke-width: 1.2"/>
      </g>
     </g>
     <g id="text_16">
      <text style="font-size: 10px; text-anchor: end; fill: #262626" x="43.14" y="344.354055" transform="matrix(1 0 0 1.120 0 -41.322)">60</text>
     </g>
    </g>
    <g id="text_17">
     <text style="font-size: 11px; text-anchor: middle; fill: #262626" x="21.527344" y="386.964909" transform="rotate(-90 21.527344 386.964909)">BMI</text>
    </g>
   </g>
   <g id="patch_27">
    <path d="M 51.84 458.92 
L 51.84 315.01 
" style="fill: none; stroke: #262626; stroke-width: 1.4; stroke-linejoin: miter; stroke-linecap: square"/>
   </g>
   <g id="patch_28">
    <path d="M 51.84 458.92 
L 206.31 458.92 
" style="fill: none; stroke: #262626; stroke-width: 1.4; stroke-linejoin: miter; stroke-linecap: square"/>
   </g>
  </g>
  <g id="axes_12">
   <g id="patch_29">
    <path d="M 218.49 458.92 
L 372.96 458.92 
L 372.96 315.01 
L 218.49 315.01 
z
" style="fill: #ffffff"/>
   </g>
   <g id="PathCollection_8">
    <defs>
     <path id="C7_0_623b9ded61" d="M 0 3 
C 0.8 3 1.56 2.68 2.12 2.12 
C 2.68 1.56 3 0.8 3 -0 
C 3 -0.8 2.68 -1.56 2.12 -2.12 
C 1.56 -2.68 0.8 -3 0 -3 
C -0.8 -3 -1.56 -2.68 -2.12 -2.12 
C -2.68 -1.56 -3 -0.8 -3 0 
C -3 0.8 -2.68 1.56 -2.12 2.12 
C -1.56 2.68 -0.8 3 0 3 
z
"/>
    </defs>
    <use href="#O" x="249.0" y="410.0"/>
    <use href="#B" x="253.7" y="437.5"/>
    <use href="#B" x="249.3" y="405.9"/>
    <use href="#B" x="254.9" y="415.8"/>
    <use href="#O" x="279.3" y="417.2"/>
    <use href="#B" x="250.8" y="437.7"/>
    <use href="#B" x="247.6" y="380.0"/>
    <use href="#B" x="253.4" y="413.2"/>
    <use href="#O" x="281.9" y="378.4"/>
    <use href="#B" x="254.4" y="403.4"/>
    <use href="#O" x="260.5" y="389.6"/>
    <use href="#B" x="251.1" y="419.5"/>
    <use href="#B" x="260.7" y="413.0"/>
    <use href="#B" x="254.6" y="421.4"/>
    <use href="#B" x="248.9" y="432.1"/>
    <use href="#B" x="263.4" y="404.3"/>
    <use href="#B" x="244.3" y="445.9"/>
    <use href="#B" x="249.4" y="416.5"/>
    <use href="#O" x="265.6" y="427.9"/>
    <use href="#O" x="271.2" y="423.5"/>
    <use href="#B" x="245.4" y="394.7"/>
    <use href="#O" x="261.8" y="422.0"/>
    <use href="#B" x="250.5" y="415.1"/>
    <use href="#B" x="279.2" y="435.3"/>
    <use href="#O" x="248.1" y="406.6"/>
    <use href="#O" x="258.5" y="407.9"/>
    <use href="#O" x="261.4" y="421.4"/>
    <use href="#B" x="255.1" y="434.0"/>
    <use href="#B" x="266.7" y="410.2"/>
    <use href="#O" x="270.8" y="400.5"/>
    <use href="#O" x="247.1" y="391.2"/>
    <use href="#O" x="270.5" y="411.0"/>
    <use href="#B" x="249.2" y="406.8"/>
    <use href="#B" x="264.2" y="403.7"/>
    <use href="#B" x="273.8" y="420.1"/>
    <use href="#B" x="271.9" y="419.9"/>
    <use href="#B" x="284.5" y="402.8"/>
    <use href="#B" x="252.0" y="441.7"/>
    <use href="#O" x="289.9" y="406.2"/>
    <use href="#O" x="255.7" y="414.2"/>
    <use href="#O" x="299.6" y="386.7"/>
    <use href="#B" x="258.5" y="410.9"/>
    <use href="#B" x="254.2" y="431.9"/>
    <use href="#B" x="249.0" y="418.4"/>
    <use href="#B" x="254.0" y="407.1"/>
    <use href="#B" x="260.1" y="425.2"/>
    <use href="#B" x="261.9" y="426.6"/>
    <use href="#O" x="280.5" y="431.0"/>
    <use href="#B" x="251.5" y="427.7"/>
    <use href="#O" x="253.2" y="388.5"/>
    <use href="#B" x="247.9" y="430.0"/>
    <use href="#B" x="266.3" y="442.0"/>
    <use href="#B" x="252.8" y="412.8"/>
    <use href="#O" x="253.5" y="427.3"/>
    <use href="#B" x="252.5" y="401.5"/>
    <use href="#O" x="257.5" y="391.8"/>
    <use href="#B" x="251.8" y="416.7"/>
    <use href="#B" x="249.0" y="435.8"/>
    <use href="#B" x="267.9" y="409.3"/>
    <use href="#O" x="274.7" y="420.9"/>
    <use href="#B" x="249.2" y="411.4"/>
    <use href="#B" x="251.4" y="416.0"/>
    <use href="#B" x="256.4" y="447.3"/>
    <use href="#B" x="264.0" y="399.0"/>
    <use href="#B" x="272.4" y="388.3"/>
    <use href="#B" x="248.5" y="445.2"/>
    <use href="#B" x="262.6" y="419.1"/>
    <use href="#B" x="261.7" y="416.3"/>
    <use href="#B" x="268.6" y="428.5"/>
    <use href="#O" x="278.1" y="334.8"/>
    <use href="#O" x="276.4" y="413.1"/>
    <use href="#B" x="254.4" y="438.3"/>
    <use href="#B" x="274.3" y="423.9"/>
    <use href="#O" x="278.7" y="409.7"/>
    <use href="#B" x="263.6" y="438.6"/>
    <use href="#O" x="251.8" y="419.0"/>
    <use href="#B" x="255.7" y="376.1"/>
    <use href="#O" x="264.5" y="401.2"/>
    <use href="#O" x="313.7" y="386.8"/>
    <use href="#B" x="263.2" y="419.7"/>
    <use href="#O" x="258.2" y="384.6"/>
    <use href="#O" x="269.3" y="395.0"/>
    <use href="#B" x="250.4" y="411.3"/>
    <use href="#O" x="259.2" y="412.2"/>
    <use href="#O" x="264.2" y="428.4"/>
    <use href="#B" x="325.9" y="360.9"/>
    <use href="#B" x="248.6" y="440.5"/>
    <use href="#O" x="267.3" y="411.8"/>
    <use href="#B" x="259.8" y="407.6"/>
    <use href="#O" x="258.2" y="321.3"/>
    <use href="#B" x="257.6" y="418.9"/>
    <use href="#B" x="257.2" y="404.0"/>
    <use href="#B" x="259.0" y="430.4"/>
    <use href="#B" x="251.3" y="428.7"/>
    <use href="#O" x="297.0" y="408.4"/>
    <use href="#B" x="251.6" y="435.1"/>
    <use href="#B" x="256.8" y="414.0"/>
    <use href="#O" x="271.8" y="401.8"/>
    <use href="#B" x="249.9" y="398.7"/>
    <use href="#B" x="270.0" y="437.3"/>
    <use href="#B" x="253.2" y="425.1"/>
    <use href="#O" x="254.4" y="353.9"/>
    <use href="#B" x="246.6" y="424.5"/>
    <use href="#B" x="254.8" y="431.2"/>
    <use href="#B" x="250.9" y="422.8"/>
    <use href="#B" x="246.3" y="449.1"/>
    <use href="#O" x="258.8" y="405.5"/>
    <use href="#B" x="248.1" y="392.6"/>
    <use href="#B" x="254.2" y="418.6"/>
    <use href="#O" x="263.3" y="410.3"/>
    <use href="#O" x="265.3" y="407.5"/>
    <use href="#B" x="259.3" y="414.6"/>
    <use href="#O" x="261.0" y="390.5"/>
    <use href="#B" x="256.0" y="436.6"/>
    <use href="#B" x="260.5" y="399.3"/>
    <use href="#B" x="253.2" y="407.8"/>
    <use href="#B" x="253.9" y="401.2"/>
    <use href="#O" x="268.2" y="446.7"/>
    <use href="#B" x="254.1" y="429.8"/>
    <use href="#O" x="252.3" y="417.8"/>
    <use href="#B" x="246.9" y="428.9"/>
    <use href="#O" x="259.6" y="376.7"/>
    <use href="#B" x="244.8" y="434.5"/>
    <use href="#B" x="244.6" y="417.9"/>
    <use href="#B" x="260.2" y="439.5"/>
    <use href="#B" x="248.6" y="428.1"/>
    <use href="#B" x="252.3" y="430.8"/>
    <use href="#O" x="272.9" y="437.3"/>
    <use href="#O" x="267.9" y="417.5"/>
    <use href="#B" x="247.4" y="400.0"/>
    <use href="#B" x="256.5" y="395.6"/>
    <use href="#B" x="246.8" y="436.2"/>
    <use href="#B" x="265.2" y="424.3"/>
    <use href="#B" x="256.7" y="412.0"/>
    <use href="#B" x="247.3" y="387.3"/>
    <use href="#B" x="263.8" y="420.7"/>
    <use href="#O" x="258.3" y="408.6"/>
    <use href="#O" x="256.2" y="409.1"/>
    <use href="#O" x="257.0" y="415.5"/>
    <use href="#B" x="249.7" y="393.2"/>
    <use href="#O" x="283.2" y="396.2"/>
    <use href="#B" x="252.1" y="412.5"/>
    <use href="#O" x="265.1" y="380.7"/>
    <use href="#O" x="256.8" y="405.7"/>
    <use href="#B" x="250.6" y="402.5"/>
    <use href="#O" x="256.5" y="393.9"/>
    <use href="#O" x="269.1" y="408.1"/>
    <use href="#B" x="267.3" y="443.2"/>
    <use href="#B" x="249.1" y="377.7"/>
    <use href="#O" x="302.1" y="420.0"/>
    <use href="#B" x="254.7" y="404.6"/>
    <use href="#B" x="246.0" y="438.1"/>
    <use href="#O" x="285.6" y="418.1"/>
    <use href="#O" x="266.8" y="422.7"/>
    <use href="#B" x="252.5" y="400.9"/>
    <use href="#O" x="260.8" y="404.3"/>
    <use href="#B" x="252.0" y="411.6"/>
    <use href="#B" x="254.5" y="413.4"/>
    <use href="#B" x="259.1" y="422.0"/>
    <use href="#B" x="253.7" y="411.1"/>
    <use href="#B" x="262.4" y="406.2"/>
    <use href="#O" x="250.2" y="406.8"/>
    <use href="#O" x="263.6" y="420.4"/>
    <use href="#B" x="261.3" y="396.5"/>
    <use href="#B" x="257.4" y="395.2"/>
    <use href="#B" x="255.9" y="409.7"/>
    <use href="#B" x="250.3" y="417.4"/>
    <use href="#B" x="251.3" y="384.1"/>
    <use href="#B" x="262.2" y="422.4"/>
    <use href="#B" x="252.3" y="427.5"/>
    <use href="#O" x="261.1" y="416.7"/>
    <use href="#B" x="248.7" y="390.1"/>
    <use href="#O" x="316.1" y="424.0"/>
    <use href="#B" x="266.5" y="423.0"/>
    <use href="#B" x="255.0" y="423.7"/>
    <use href="#B" x="258.0" y="420.9"/>
    <use href="#O" x="254.3" y="403.1"/>
    <use href="#O" x="275.3" y="407.0"/>
    <use href="#O" x="279.9" y="397.7"/>
    <use href="#O" x="258.7" y="407.2"/>
    <use href="#B" x="272.9" y="418.1"/>
    <use href="#B" x="258.1" y="412.3"/>
    <use href="#B" x="250.8" y="396.9"/>
    <use href="#O" x="260.3" y="395.5"/>
    <use href="#B" x="258.6" y="412.1"/>
    <use href="#B" x="259.6" y="385.2"/>
    <use href="#B" x="245.2" y="431.5"/>
    <use href="#B" x="287.7" y="415.4"/>
    <use href="#B" x="245.8" y="392.1"/>
    <use href="#B" x="244.4" y="451.9"/>
    <use href="#O" x="261.9" y="405.3"/>
    <use href="#B" x="253.4" y="424.9"/>
    <use href="#O" x="259.5" y="434.5"/>
    <use href="#B" x="269.1" y="413.5"/>
    <use href="#O" x="243.8" y="342.2"/>
    <use href="#O" x="262.8" y="414.6"/>
    <use href="#O" x="272.4" y="392.9"/>
    <use href="#B" x="257.5" y="435.4"/>
    <use href="#B" x="256.2" y="394.2"/>
    <use href="#O" x="254.9" y="429.4"/>
    <use href="#O" x="259.8" y="328.7"/>
    <use href="#B" x="256.9" y="421.2"/>
    <use href="#O" x="252.7" y="426.7"/>
    <use href="#B" x="246.2" y="446.6"/>
    <use href="#B" x="252.2" y="397.2"/>
    <use href="#O" x="274.1" y="399.6"/>
    <use href="#B" x="250.2" y="430.2"/>
    <use href="#O" x="254.0" y="415.8"/>
    <use href="#B" x="248.8" y="414.2"/>
    <use href="#B" x="248.4" y="434.9"/>
    <use href="#O" x="262.5" y="370.6"/>
    <use href="#O" x="244.3" y="443.9"/>
    <use href="#B" x="247.0" y="425.8"/>
    <use href="#B" x="259.5" y="418.2"/>
    <use href="#B" x="248.3" y="432.5"/>
    <use href="#O" x="263.1" y="409.4"/>
    <use href="#B" x="252.9" y="427.0"/>
    <use href="#B" x="246.5" y="429.1"/>
    <use href="#B" x="247.7" y="414.7"/>
    <use href="#B" x="258.4" y="403.1"/>
    <use href="#O" x="286.8" y="418.4"/>
    <use href="#B" x="249.4" y="411.8"/>
    <use href="#B" x="260.9" y="425.6"/>
    <use href="#B" x="247.8" y="432.3"/>
    <use href="#B" x="248.2" y="421.0"/>
    <use href="#B" x="281.9" y="391.6"/>
    <use href="#B" x="248.0" y="450.0"/>
    <use href="#B" x="291.8" y="420.3"/>
    <use href="#B" x="250.1" y="427.9"/>
    <use href="#B" x="249.6" y="408.5"/>
    <use href="#B" x="251.2" y="426.0"/>
    <use href="#B" x="269.6" y="443.9"/>
    <use href="#O" x="284.4" y="429.9"/>
    <use href="#O" x="275.8" y="398.6"/>
    <use href="#O" x="269.9" y="404.5"/>
    <use href="#B" x="258.5" y="407.4"/>
    <use href="#B" x="265.6" y="432.8"/>
    <use href="#B" x="257.6" y="431.7"/>
    <use href="#B" x="256.3" y="429.4"/>
    <use href="#O" x="253.8" y="392.4"/>
    <use href="#B" x="260.1" y="386.2"/>
    <use href="#O" x="261.6" y="404.0"/>
    <use href="#O" x="292.3" y="381.8"/>
    <use href="#B" x="244.1" y="433.8"/>
    <use href="#B" x="245.0" y="441.4"/>
    <use href="#B" x="255.4" y="432.6"/>
    <use href="#B" x="248.4" y="424.1"/>
    <use href="#O" x="266.2" y="408.9"/>
    <use href="#O" x="258.0" y="416.1"/>
    <use href="#B" x="296.0" y="389.5"/>
    <use href="#O" x="250.8" y="424.4"/>
    <use href="#O" x="262.1" y="419.6"/>
    <use href="#B" x="264.6" y="433.6"/>
    <use href="#B" x="258.9" y="414.9"/>
    <use href="#O" x="254.6" y="419.3"/>
    <use href="#B" x="254.3" y="427.3"/>
    <use href="#B" x="258.8" y="430.6"/>
    <use href="#B" x="266.9" y="417.7"/>
    <use href="#O" x="263.9" y="405.9"/>
    <use href="#B" x="271.5" y="347.8"/>
    <use href="#B" x="254.6" y="415.6"/>
    <use href="#O" x="257.3" y="403.7"/>
    <use href="#B" x="262.8" y="435.6"/>
    <use href="#O" x="264.8" y="417.0"/>
    <use href="#B" x="249.6" y="420.5"/>
    <use href="#B" x="246.9" y="409.0"/>
    <use href="#B" x="261.5" y="373.5"/>
    <use href="#O" x="245.3" y="411.4"/>
    <use href="#B" x="250.6" y="417.5"/>
    <use href="#B" x="256.1" y="408.6"/>
    <use href="#B" x="255.6" y="400.3"/>
    <use href="#O" x="277.0" y="379.6"/>
    <use href="#B" x="258.7" y="434.3"/>
    <use href="#B" x="258.2" y="409.2"/>
    <use href="#O" x="281.0" y="403.4"/>
    <use href="#B" x="275.1" y="383.1"/>
    <use href="#B" x="246.7" y="439.8"/>
    <use href="#B" x="267.5" y="419.3"/>
    <use href="#B" x="264.4" y="433.2"/>
    <use href="#B" x="305.8" y="408.1"/>
    <use href="#O" x="268.5" y="361.8"/>
    <use href="#B" x="277.8" y="409.9"/>
    <use href="#B" x="256.6" y="410.7"/>
    <use href="#O" x="253.0" y="349.6"/>
    <use href="#B" x="270.5" y="421.8"/>
    <use href="#O" x="255.1" y="402.3"/>
    <use href="#B" x="248.8" y="390.6"/>
    <use href="#B" x="258.3" y="389.0"/>
    <use href="#O" x="249.7" y="413.9"/>
    <use href="#B" x="260.0" y="423.3"/>
    <use href="#B" x="250.0" y="397.8"/>
    <use href="#O" x="255.9" y="433.2"/>
    <use href="#O" x="257.7" y="383.1"/>
    <use href="#B" x="267.1" y="379.0"/>
    <use href="#O" x="294.6" y="441.4"/>
    <use href="#B" x="251.8" y="444.6"/>
    <use href="#O" x="270.2" y="405.0"/>
    <use href="#O" x="260.0" y="407.7"/>
    <use href="#B" x="271.0" y="427.2"/>
    <use href="#B" x="255.3" y="401.8"/>
    <use href="#B" x="253.6" y="441.1"/>
    <use href="#O" x="254.4" y="357.9"/>
    <use href="#B" x="250.7" y="440.1"/>
    <use href="#O" x="267.1" y="414.9"/>
    <use href="#O" x="308.9" y="419.2"/>
    <use href="#B" x="251.0" y="433.0"/>
    <use href="#B" x="257.0" y="418.8"/>
    <use href="#B" x="253.0" y="423.1"/>
    <use href="#B" x="255.2" y="399.7"/>
    <use href="#B" x="253.8" y="438.9"/>
    <use href="#O" x="257.9" y="404.8"/>
    <use href="#B" x="252.7" y="442.5"/>
    <use href="#O" x="259.0" y="415.2"/>
    <use href="#O" x="345.8" y="420.0"/>
    <use href="#B" x="251.1" y="436.4"/>
    <use href="#B" x="249.9" y="416.1"/>
    <use href="#B" x="253.5" y="408.0"/>
    <use href="#B" x="263.0" y="417.2"/>
    <use href="#B" x="260.3" y="415.3"/>
    <use href="#O" x="273.5" y="430.5"/>
    <use href="#B" x="259.3" y="426.8"/>
    <use href="#B" x="253.9" y="426.4"/>
    <use href="#B" x="300.1" y="429.3"/>
    <use href="#B" x="248.0" y="440.8"/>
    <use href="#B" x="259.7" y="410.6"/>
    <use href="#B" x="256.0" y="437.9"/>
    <use href="#B" x="247.2" y="405.6"/>
    <use href="#B" x="255.1" y="436.8"/>
    <use href="#B" x="257.3" y="410.0"/>
    <use href="#B" x="265.4" y="413.9"/>
    <use href="#B" x="247.1" y="448.2"/>
    <use href="#O" x="269.1" y="367.8"/>
    <use href="#B" x="257.7" y="416.8"/>
    <use href="#B" x="265.0" y="396.2"/>
    <use href="#O" x="259.3" y="428.9"/>
    <use href="#B" x="252.4" y="391.1"/>
    <use href="#O" x="260.6" y="393.4"/>
    <use href="#B" x="249.5" y="381.0"/>
    <use href="#B" x="261.1" y="404.9"/>
    <use href="#B" x="253.0" y="405.3"/>
    <use href="#O" x="261.3" y="426.0"/>
    <use href="#B" x="333.9" y="402.3"/>
    <use href="#O" x="262.3" y="432.4"/>
    <use href="#B" x="250.1" y="451.0"/>
    <use href="#B" x="253.3" y="421.6"/>
    <use href="#B" x="271.5" y="382.1"/>
    <use href="#O" x="288.1" y="394.4"/>
    <use href="#B" x="251.9" y="433.4"/>
    <use href="#B" x="250.4" y="434.1"/>
    <use href="#O" x="269.6" y="402.7"/>
    <use href="#B" x="259.4" y="436.9"/>
    <use href="#B" x="273.4" y="425.4"/>
    <use href="#O" x="260.1" y="418.7"/>
    <use href="#B" x="268.3" y="422.6"/>
    <use href="#B" x="257.8" y="393.7"/>
    <use href="#B" x="255.5" y="408.8"/>
    <use href="#B" x="257.9" y="439.2"/>
    <use href="#B" x="245.6" y="406.5"/>
    <use href="#B" x="259.9" y="428.3"/>
    <use href="#B" x="253.1" y="402.1"/>
    <use href="#B" x="268.1" y="410.4"/>
    <use href="#B" x="255.8" y="429.6"/>
    <use href="#B" x="252.6" y="431.3"/>
    <use href="#B" x="276.5" y="434.7"/>
    <use href="#O" x="277.6" y="410.7"/>
    <use href="#B" x="267.7" y="409.5"/>
    <use href="#B" x="283.2" y="369.4"/>
    <use href="#O" x="255.4" y="431.6"/>
    <use href="#B" x="252.7" y="436.0"/>
    <use href="#B" x="260.4" y="424.7"/>
    <use href="#B" x="257.1" y="413.7"/>
    <use href="#O" x="251.3" y="413.5"/>
    <use href="#B" x="251.7" y="398.4"/>
    <use href="#O" x="305.2" y="384.7"/>
    <use href="#B" x="247.8" y="437.1"/>
    <use href="#B" x="266.1" y="426.2"/>
    <use href="#B" x="248.2" y="397.5"/>
    <use href="#B" x="249.8" y="412.7"/>
    <use href="#B" x="280.5" y="423.5"/>
    <use href="#B" x="255.7" y="422.2"/>
    <use href="#O" x="268.8" y="416.4"/>
    <use href="#O" x="265.9" y="396.9"/>
    <use href="#B" x="249.7" y="414.4"/>
    <use href="#O" x="246.2" y="425.3"/>
    <use href="#B" x="265.9" y="417.0"/>
    <use href="#O" x="267.6" y="406.4"/>
    <use href="#B" x="247.5" y="431.0"/>
    <use href="#B" x="259.2" y="400.6"/>
    <use href="#B" x="251.5" y="408.3"/>
    <use href="#B" x="256.8" y="395.9"/>
    <use href="#O" x="266.5" y="412.7"/>
    <use href="#B" x="264.8" y="398.1"/>
   </g>
   <g id="matplotlib.axis_19">
    <g id="xtick_27">
     <g id="line2d_68">
      <g>
       <use href="#m810af31bf4" x="242.129808" y="458.920583" style="fill: #262626; stroke: #262626; stroke-width: 1.2"/>
      </g>
     </g>
    </g>
    <g id="xtick_28">
     <g id="line2d_69">
      <g>
       <use href="#m810af31bf4" x="303.379898" y="458.920583" style="fill: #262626; stroke: #262626; stroke-width: 1.2"/>
      </g>
     </g>
    </g>
    <g id="xtick_29">
     <g id="line2d_70">
      <g>
       <use href="#m810af31bf4" x="364.629988" y="458.920583" style="fill: #262626; stroke: #262626; stroke-width: 1.2"/>
      </g>
     </g>
    </g>
   </g>
   <g id="matplotlib.axis_20">
    <g id="ytick_42">
     <g id="line2d_71">
      <g>
       <use href="#m16c3d9d836" x="218.487273" y="447.552121" style="fill: #262626; stroke: #262626; stroke-width: 1.2"/>
      </g>
     </g>
    </g>
    <g id="ytick_43">
     <g id="line2d_72">
      <g>
       <use href="#m16c3d9d836" x="218.487273" y="420.8028" style="fill: #262626; stroke: #262626; stroke-width: 1.2"/>
      </g>
     </g>
    </g>
    <g id="ytick_44">
     <g id="line2d_73">
      <g>
       <use href="#m16c3d9d836" x="218.487273" y="394.053479" style="fill: #262626; stroke: #262626; stroke-width: 1.2"/>
      </g>
     </g>
    </g>
    <g id="ytick_45">
     <g id="line2d_74">
      <g>
       <use href="#m16c3d9d836" x="218.487273" y="367.304158" style="fill: #262626; stroke: #262626; stroke-width: 1.2"/>
      </g>
     </g>
    </g>
    <g id="ytick_46">
     <g id="line2d_75">
      <g>
       <use href="#m16c3d9d836" x="218.487273" y="340.554836" style="fill: #262626; stroke: #262626; stroke-width: 1.2"/>
      </g>
     </g>
    </g>
   </g>
   <g id="patch_30">
    <path d="M 218.49 458.92 
L 218.49 315.01 
" style="fill: none; stroke: #262626; stroke-width: 1.4; stroke-linejoin: miter; stroke-linecap: square"/>
   </g>
   <g id="patch_31">
    <path d="M 218.49 458.92 
L 372.96 458.92 
" style="fill: none; stroke: #262626; stroke-width: 1.4; stroke-linejoin: miter; stroke-linecap: square"/>
   </g>
  </g>
  <g id="axes_13">
   <g id="patch_32">
    <path d="M 385.13 458.92 
L 539.61 458.92 
L 539.61 315.01 
L 385.13 315.01 
z
" style="fill: #ffffff"/>
   </g>
   <g id="matplotlib.axis_21">
    <g id="xtick_30">
     <g id="line2d_76">
      <g>
       <use href="#m810af31bf4" x="411.427776" y="458.920583" style="fill: #262626; stroke: #262626; stroke-width: 1.2"/>
      </g>
     </g>
    </g>
    <g id="xtick_31">
     <g id="line2d_77">
      <g>
       <use href="#m810af31bf4" x="455.249826" y="458.920583" style="fill: #262626; stroke: #262626; stroke-width: 1.2"/>
      </g>
     </g>
    </g>
    <g id="xtick_32">
     <g id="line2d_78">
      <g>
       <use href="#m810af31bf4" x="499.071876" y="458.920583" style="fill: #262626; stroke: #262626; stroke-width: 1.2"/>
      </g>
     </g>
    </g>
   </g>
   <g id="matplotlib.axis_22">
    <g id="ytick_47">
     <g id="line2d_79">
      <g>
       <use href="#m16c3d9d836" x="385.134545" y="447.552121" style="fill: #262626; stroke: #262626; stroke-width: 1.2"/>
      </g>
     </g>
    </g>
    <g id="ytick_48">
     <g id="line2d_80">
      <g>
       <use href="#m16c3d9d836" x="385.134545" y="420.8028" style="fill: #262626; stroke: #262626; stroke-width: 1.2"/>
      </g>
     </g>
    </g>
    <g id="ytick_49">
     <g id="line2d_81">
      <g>
       <use href="#m16c3d9d836" x="385.134545" y="394.053479" style="fill: #262626; stroke: #262626; stroke-width: 1.2"/>
      </g>
     </g>
    </g>
    <g id="ytick_50">
     <g id="line2d_82">
      <g>
       <use href="#m16c3d9d836" x="385.134545" y="367.304158" style="fill: #262626; stroke: #262626; stroke-width: 1.2"/>
      </g>
     </g>
    </g>
    <g id="ytick_51">
     <g id="line2d_83">
      <g>
       <use href="#m16c3d9d836" x="385.134545" y="340.554836" style="fill: #262626; stroke: #262626; stroke-width: 1.2"/>
      </g>
     </g>
    </g>
   </g>
   <g id="patch_33">
    <path d="M 385.13 458.92 
L 385.13 315.01 
" style="fill: none; stroke: #262626; stroke-width: 1.4; stroke-linejoin: miter; stroke-linecap: square"/>
   </g>
   <g id="patch_34">
    <path d="M 385.13 458.92 
L 539.61 458.92 
" style="fill: none; stroke: #262626; stroke-width: 1.4; stroke-linejoin: miter; stroke-linecap: square"/>
   </g>
  </g>
  <g id="axes_14">
   <g id="FillBetweenPolyCollection_5">
    <defs>
     <path id="m98541c7e8d" d="M 398.28 -194.47 
L 398.28 -194.15 
L 398.83 -194.15 
L 399.38 -194.15 
L 399.93 -194.15 
L 400.48 -194.15 
L 401.03 -194.15 
L 401.58 -194.15 
L 402.13 -194.15 
L 402.68 -194.15 
L 403.23 -194.15 
L 403.78 -194.15 
L 404.33 -194.15 
L 404.88 -194.15 
L 405.43 -194.15 
L 405.98 -194.15 
L 406.53 -194.15 
L 407.08 -194.15 
L 407.63 -194.15 
L 408.18 -194.15 
L 408.73 -194.15 
L 409.28 -194.15 
L 409.83 -194.15 
L 410.38 -194.15 
L 410.93 -194.15 
L 411.48 -194.15 
L 412.03 -194.15 
L 412.58 -194.15 
L 413.13 -194.15 
L 413.68 -194.15 
L 414.23 -194.15 
L 414.78 -194.15 
L 415.33 -194.15 
L 415.88 -194.15 
L 416.43 -194.15 
L 416.98 -194.15 
L 417.53 -194.15 
L 418.08 -194.15 
L 418.63 -194.15 
L 419.18 -194.15 
L 419.73 -194.15 
L 420.28 -194.15 
L 420.83 -194.15 
L 421.38 -194.15 
L 421.93 -194.15 
L 422.48 -194.15 
L 423.03 -194.15 
L 423.58 -194.15 
L 424.13 -194.15 
L 424.68 -194.15 
L 425.23 -194.15 
L 425.78 -194.15 
L 426.33 -194.15 
L 426.88 -194.15 
L 427.43 -194.15 
L 427.98 -194.15 
L 428.53 -194.15 
L 429.08 -194.15 
L 429.64 -194.15 
L 430.19 -194.15 
L 430.74 -194.15 
L 431.29 -194.15 
L 431.84 -194.15 
L 432.39 -194.15 
L 432.94 -194.15 
L 433.49 -194.15 
L 434.04 -194.15 
L 434.59 -194.15 
L 435.14 -194.15 
L 435.69 -194.15 
L 436.24 -194.15 
L 436.79 -194.15 
L 437.34 -194.15 
L 437.89 -194.15 
L 438.44 -194.15 
L 438.99 -194.15 
L 439.54 -194.15 
L 440.09 -194.15 
L 440.64 -194.15 
L 441.19 -194.15 
L 441.74 -194.15 
L 442.29 -194.15 
L 442.84 -194.15 
L 443.39 -194.15 
L 443.94 -194.15 
L 444.49 -194.15 
L 445.04 -194.15 
L 445.59 -194.15 
L 446.14 -194.15 
L 446.69 -194.15 
L 447.24 -194.15 
L 447.79 -194.15 
L 448.34 -194.15 
L 448.89 -194.15 
L 449.44 -194.15 
L 449.99 -194.15 
L 450.54 -194.15 
L 451.09 -194.15 
L 451.64 -194.15 
L 452.19 -194.15 
L 452.74 -194.15 
L 453.29 -194.15 
L 453.84 -194.15 
L 454.39 -194.15 
L 454.94 -194.15 
L 455.49 -194.15 
L 456.04 -194.15 
L 456.59 -194.15 
L 457.14 -194.15 
L 457.69 -194.15 
L 458.24 -194.15 
L 458.79 -194.15 
L 459.34 -194.15 
L 459.89 -194.15 
L 460.44 -194.15 
L 460.99 -194.15 
L 461.54 -194.15 
L 462.09 -194.15 
L 462.64 -194.15 
L 463.19 -194.15 
L 463.74 -194.15 
L 464.29 -194.15 
L 464.84 -194.15 
L 465.39 -194.15 
L 465.94 -194.15 
L 466.49 -194.15 
L 467.04 -194.15 
L 467.59 -194.15 
L 468.14 -194.15 
L 468.69 -194.15 
L 469.24 -194.15 
L 469.79 -194.15 
L 470.34 -194.15 
L 470.89 -194.15 
L 471.44 -194.15 
L 471.99 -194.15 
L 472.54 -194.15 
L 473.09 -194.15 
L 473.64 -194.15 
L 474.19 -194.15 
L 474.74 -194.15 
L 475.29 -194.15 
L 475.84 -194.15 
L 476.39 -194.15 
L 476.94 -194.15 
L 477.49 -194.15 
L 478.04 -194.15 
L 478.59 -194.15 
L 479.14 -194.15 
L 479.69 -194.15 
L 480.24 -194.15 
L 480.79 -194.15 
L 481.34 -194.15 
L 481.89 -194.15 
L 482.44 -194.15 
L 482.99 -194.15 
L 483.54 -194.15 
L 484.09 -194.15 
L 484.64 -194.15 
L 485.19 -194.15 
L 485.74 -194.15 
L 486.29 -194.15 
L 486.84 -194.15 
L 487.39 -194.15 
L 487.94 -194.15 
L 488.49 -194.15 
L 489.04 -194.15 
L 489.59 -194.15 
L 490.14 -194.15 
L 490.69 -194.15 
L 491.24 -194.15 
L 491.79 -194.15 
L 492.34 -194.15 
L 492.89 -194.15 
L 493.44 -194.15 
L 493.99 -194.15 
L 494.54 -194.15 
L 495.09 -194.15 
L 495.64 -194.15 
L 496.19 -194.15 
L 496.74 -194.15 
L 497.29 -194.15 
L 497.84 -194.15 
L 498.39 -194.15 
L 498.94 -194.15 
L 499.49 -194.15 
L 500.04 -194.15 
L 500.59 -194.15 
L 501.14 -194.15 
L 501.69 -194.15 
L 502.24 -194.15 
L 502.79 -194.15 
L 503.34 -194.15 
L 503.89 -194.15 
L 504.44 -194.15 
L 504.99 -194.15 
L 505.54 -194.15 
L 506.09 -194.15 
L 506.64 -194.15 
L 507.19 -194.15 
L 507.74 -194.15 
L 508.29 -194.15 
L 508.84 -194.15 
L 509.39 -194.15 
L 509.94 -194.15 
L 510.49 -194.15 
L 511.05 -194.15 
L 511.6 -194.15 
L 512.15 -194.15 
L 512.7 -194.15 
L 513.25 -194.15 
L 513.8 -194.15 
L 514.35 -194.15 
L 514.9 -194.15 
L 515.45 -194.15 
L 516 -194.15 
L 516.55 -194.15 
L 517.1 -194.15 
L 517.65 -194.15 
L 518.2 -194.15 
L 518.75 -194.15 
L 519.3 -194.15 
L 519.85 -194.15 
L 520.4 -194.15 
L 520.95 -194.15 
L 521.5 -194.15 
L 522.05 -194.15 
L 522.6 -194.15 
L 523.15 -194.15 
L 523.7 -194.15 
L 524.25 -194.15 
L 524.8 -194.15 
L 525.35 -194.15 
L 525.9 -194.15 
L 526.45 -194.15 
L 527 -194.15 
L 527.55 -194.15 
L 528.1 -194.15 
L 528.65 -194.15 
L 529.2 -194.15 
L 529.75 -194.15 
L 529.75 -194.25 
L 529.75 -194.25 
L 529.2 -194.3 
L 528.65 -194.35 
L 528.1 -194.43 
L 527.55 -194.51 
L 527 -194.62 
L 526.45 -194.74 
L 525.9 -194.88 
L 525.35 -195.03 
L 524.8 -195.18 
L 524.25 -195.34 
L 523.7 -195.49 
L 523.15 -195.63 
L 522.6 -195.76 
L 522.05 -195.87 
L 521.5 -195.96 
L 520.95 -196.04 
L 520.4 -196.09 
L 519.85 -196.13 
L 519.3 -196.16 
L 518.75 -196.17 
L 518.2 -196.19 
L 517.65 -196.2 
L 517.1 -196.21 
L 516.55 -196.22 
L 516 -196.23 
L 515.45 -196.24 
L 514.9 -196.26 
L 514.35 -196.27 
L 513.8 -196.28 
L 513.25 -196.3 
L 512.7 -196.31 
L 512.15 -196.32 
L 511.6 -196.33 
L 511.05 -196.35 
L 510.49 -196.36 
L 509.94 -196.37 
L 509.39 -196.38 
L 508.84 -196.39 
L 508.29 -196.4 
L 507.74 -196.42 
L 507.19 -196.43 
L 506.64 -196.45 
L 506.09 -196.46 
L 505.54 -196.47 
L 504.99 -196.48 
L 504.44 -196.49 
L 503.89 -196.5 
L 503.34 -196.52 
L 502.79 -196.53 
L 502.24 -196.54 
L 501.69 -196.55 
L 501.14 -196.57 
L 500.59 -196.58 
L 500.04 -196.6 
L 499.49 -196.61 
L 498.94 -196.62 
L 498.39 -196.63 
L 497.84 -196.64 
L 497.29 -196.65 
L 496.74 -196.66 
L 496.19 -196.67 
L 495.64 -196.69 
L 495.09 -196.71 
L 494.54 -196.72 
L 493.99 -196.74 
L 493.44 -196.75 
L 492.89 -196.76 
L 492.34 -196.77 
L 491.79 -196.77 
L 491.24 -196.78 
L 490.69 -196.79 
L 490.14 -196.81 
L 489.59 -196.84 
L 489.04 -196.88 
L 488.49 -196.92 
L 487.94 -196.97 
L 487.39 -197.02 
L 486.84 -197.07 
L 486.29 -197.12 
L 485.74 -197.15 
L 485.19 -197.18 
L 484.64 -197.2 
L 484.09 -197.22 
L 483.54 -197.25 
L 482.99 -197.29 
L 482.44 -197.35 
L 481.89 -197.44 
L 481.34 -197.56 
L 480.79 -197.71 
L 480.24 -197.88 
L 479.69 -198.08 
L 479.14 -198.29 
L 478.59 -198.52 
L 478.04 -198.76 
L 477.49 -199.01 
L 476.94 -199.27 
L 476.39 -199.56 
L 475.84 -199.88 
L 475.29 -200.24 
L 474.74 -200.66 
L 474.19 -201.14 
L 473.64 -201.7 
L 473.09 -202.33 
L 472.54 -203.03 
L 471.99 -203.81 
L 471.44 -204.65 
L 470.89 -205.53 
L 470.34 -206.46 
L 469.79 -207.41 
L 469.24 -208.37 
L 468.69 -209.33 
L 468.14 -210.28 
L 467.59 -211.22 
L 467.04 -212.13 
L 466.49 -213.03 
L 465.94 -213.92 
L 465.39 -214.82 
L 464.84 -215.74 
L 464.29 -216.7 
L 463.74 -217.7 
L 463.19 -218.76 
L 462.64 -219.89 
L 462.09 -221.07 
L 461.54 -222.3 
L 460.99 -223.59 
L 460.44 -224.93 
L 459.89 -226.32 
L 459.34 -227.76 
L 458.79 -229.27 
L 458.24 -230.85 
L 457.69 -232.5 
L 457.14 -234.21 
L 456.59 -235.99 
L 456.04 -237.82 
L 455.49 -239.69 
L 454.94 -241.59 
L 454.39 -243.53 
L 453.84 -245.52 
L 453.29 -247.58 
L 452.74 -249.74 
L 452.19 -252 
L 451.64 -254.4 
L 451.09 -256.92 
L 450.54 -259.55 
L 449.99 -262.26 
L 449.44 -265 
L 448.89 -267.72 
L 448.34 -270.36 
L 447.79 -272.88 
L 447.24 -275.23 
L 446.69 -277.37 
L 446.14 -279.29 
L 445.59 -280.96 
L 445.04 -282.37 
L 444.49 -283.53 
L 443.94 -284.42 
L 443.39 -285.05 
L 442.84 -285.44 
L 442.29 -285.6 
L 441.74 -285.54 
L 441.19 -285.27 
L 440.64 -284.8 
L 440.09 -284.14 
L 439.54 -283.28 
L 438.99 -282.21 
L 438.44 -280.93 
L 437.89 -279.45 
L 437.34 -277.79 
L 436.79 -275.95 
L 436.24 -273.99 
L 435.69 -271.93 
L 435.14 -269.82 
L 434.59 -267.68 
L 434.04 -265.53 
L 433.49 -263.38 
L 432.94 -261.22 
L 432.39 -259.05 
L 431.84 -256.86 
L 431.29 -254.66 
L 430.74 -252.44 
L 430.19 -250.23 
L 429.64 -248.03 
L 429.08 -245.88 
L 428.53 -243.78 
L 427.98 -241.73 
L 427.43 -239.73 
L 426.88 -237.78 
L 426.33 -235.86 
L 425.78 -233.96 
L 425.23 -232.07 
L 424.68 -230.19 
L 424.13 -228.32 
L 423.58 -226.48 
L 423.03 -224.66 
L 422.48 -222.88 
L 421.93 -221.13 
L 421.38 -219.43 
L 420.83 -217.76 
L 420.28 -216.14 
L 419.73 -214.57 
L 419.18 -213.05 
L 418.63 -211.61 
L 418.08 -210.24 
L 417.53 -208.96 
L 416.98 -207.79 
L 416.43 -206.72 
L 415.88 -205.76 
L 415.33 -204.88 
L 414.78 -204.09 
L 414.23 -203.36 
L 413.68 -202.68 
L 413.13 -202.04 
L 412.58 -201.42 
L 412.03 -200.83 
L 411.48 -200.27 
L 410.93 -199.74 
L 410.38 -199.24 
L 409.83 -198.8 
L 409.28 -198.4 
L 408.73 -198.06 
L 408.18 -197.77 
L 407.63 -197.51 
L 407.08 -197.29 
L 406.53 -197.1 
L 405.98 -196.92 
L 405.43 -196.74 
L 404.88 -196.57 
L 404.33 -196.38 
L 403.78 -196.19 
L 403.23 -195.99 
L 402.68 -195.78 
L 402.13 -195.57 
L 401.58 -195.37 
L 401.03 -195.18 
L 400.48 -195 
L 399.93 -194.84 
L 399.38 -194.69 
L 398.83 -194.57 
L 398.28 -194.47 
z
" style="stroke: #ff7f0e; stroke-width: 1.6"/>
    </defs>
    <g clip-path="url(#pa256d7a446)">
     <use href="#m98541c7e8d" x="0" y="653.067925" style="fill: #ff7f0e; fill-opacity: 0.25; stroke: #ff7f0e; stroke-width: 1.6"/>
    </g>
   </g>
   <g id="FillBetweenPolyCollection_6">
    <defs>
     <path id="m03894fe041" d="M 391.71 -195.06 
L 391.71 -194.15 
L 392.18 -194.15 
L 392.64 -194.15 
L 393.11 -194.15 
L 393.58 -194.15 
L 394.05 -194.15 
L 394.51 -194.15 
L 394.98 -194.15 
L 395.45 -194.15 
L 395.92 -194.15 
L 396.38 -194.15 
L 396.85 -194.15 
L 397.32 -194.15 
L 397.79 -194.15 
L 398.25 -194.15 
L 398.72 -194.15 
L 399.19 -194.15 
L 399.66 -194.15 
L 400.12 -194.15 
L 400.59 -194.15 
L 401.06 -194.15 
L 401.53 -194.15 
L 401.99 -194.15 
L 402.46 -194.15 
L 402.93 -194.15 
L 403.4 -194.15 
L 403.86 -194.15 
L 404.33 -194.15 
L 404.8 -194.15 
L 405.27 -194.15 
L 405.73 -194.15 
L 406.2 -194.15 
L 406.67 -194.15 
L 407.14 -194.15 
L 407.6 -194.15 
L 408.07 -194.15 
L 408.54 -194.15 
L 409.01 -194.15 
L 409.48 -194.15 
L 409.94 -194.15 
L 410.41 -194.15 
L 410.88 -194.15 
L 411.35 -194.15 
L 411.81 -194.15 
L 412.28 -194.15 
L 412.75 -194.15 
L 413.22 -194.15 
L 413.68 -194.15 
L 414.15 -194.15 
L 414.62 -194.15 
L 415.09 -194.15 
L 415.55 -194.15 
L 416.02 -194.15 
L 416.49 -194.15 
L 416.96 -194.15 
L 417.42 -194.15 
L 417.89 -194.15 
L 418.36 -194.15 
L 418.83 -194.15 
L 419.29 -194.15 
L 419.76 -194.15 
L 420.23 -194.15 
L 420.7 -194.15 
L 421.16 -194.15 
L 421.63 -194.15 
L 422.1 -194.15 
L 422.57 -194.15 
L 423.03 -194.15 
L 423.5 -194.15 
L 423.97 -194.15 
L 424.44 -194.15 
L 424.9 -194.15 
L 425.37 -194.15 
L 425.84 -194.15 
L 426.31 -194.15 
L 426.77 -194.15 
L 427.24 -194.15 
L 427.71 -194.15 
L 428.18 -194.15 
L 428.64 -194.15 
L 429.11 -194.15 
L 429.58 -194.15 
L 430.05 -194.15 
L 430.52 -194.15 
L 430.98 -194.15 
L 431.45 -194.15 
L 431.92 -194.15 
L 432.39 -194.15 
L 432.85 -194.15 
L 433.32 -194.15 
L 433.79 -194.15 
L 434.26 -194.15 
L 434.72 -194.15 
L 435.19 -194.15 
L 435.66 -194.15 
L 436.13 -194.15 
L 436.59 -194.15 
L 437.06 -194.15 
L 437.53 -194.15 
L 438 -194.15 
L 438.46 -194.15 
L 438.93 -194.15 
L 439.4 -194.15 
L 439.87 -194.15 
L 440.33 -194.15 
L 440.8 -194.15 
L 441.27 -194.15 
L 441.74 -194.15 
L 442.2 -194.15 
L 442.67 -194.15 
L 443.14 -194.15 
L 443.61 -194.15 
L 444.07 -194.15 
L 444.54 -194.15 
L 445.01 -194.15 
L 445.48 -194.15 
L 445.94 -194.15 
L 446.41 -194.15 
L 446.88 -194.15 
L 447.35 -194.15 
L 447.81 -194.15 
L 448.28 -194.15 
L 448.75 -194.15 
L 449.22 -194.15 
L 449.68 -194.15 
L 450.15 -194.15 
L 450.62 -194.15 
L 451.09 -194.15 
L 451.56 -194.15 
L 452.02 -194.15 
L 452.49 -194.15 
L 452.96 -194.15 
L 453.43 -194.15 
L 453.89 -194.15 
L 454.36 -194.15 
L 454.83 -194.15 
L 455.3 -194.15 
L 455.76 -194.15 
L 456.23 -194.15 
L 456.7 -194.15 
L 457.17 -194.15 
L 457.63 -194.15 
L 458.1 -194.15 
L 458.57 -194.15 
L 459.04 -194.15 
L 459.5 -194.15 
L 459.97 -194.15 
L 460.44 -194.15 
L 460.91 -194.15 
L 461.37 -194.15 
L 461.84 -194.15 
L 462.31 -194.15 
L 462.78 -194.15 
L 463.24 -194.15 
L 463.71 -194.15 
L 464.18 -194.15 
L 464.65 -194.15 
L 465.11 -194.15 
L 465.58 -194.15 
L 466.05 -194.15 
L 466.52 -194.15 
L 466.98 -194.15 
L 467.45 -194.15 
L 467.92 -194.15 
L 468.39 -194.15 
L 468.85 -194.15 
L 469.32 -194.15 
L 469.79 -194.15 
L 470.26 -194.15 
L 470.73 -194.15 
L 471.19 -194.15 
L 471.66 -194.15 
L 472.13 -194.15 
L 472.6 -194.15 
L 473.06 -194.15 
L 473.53 -194.15 
L 474 -194.15 
L 474.47 -194.15 
L 474.93 -194.15 
L 475.4 -194.15 
L 475.87 -194.15 
L 476.34 -194.15 
L 476.8 -194.15 
L 477.27 -194.15 
L 477.74 -194.15 
L 478.21 -194.15 
L 478.67 -194.15 
L 479.14 -194.15 
L 479.61 -194.15 
L 480.08 -194.15 
L 480.54 -194.15 
L 481.01 -194.15 
L 481.48 -194.15 
L 481.95 -194.15 
L 482.41 -194.15 
L 482.88 -194.15 
L 483.35 -194.15 
L 483.82 -194.15 
L 484.28 -194.15 
L 484.75 -194.15 
L 485.22 -194.15 
L 485.69 -194.15 
L 486.15 -194.15 
L 486.62 -194.15 
L 487.09 -194.15 
L 487.56 -194.15 
L 488.02 -194.15 
L 488.49 -194.15 
L 488.96 -194.15 
L 489.43 -194.15 
L 489.89 -194.15 
L 490.36 -194.15 
L 490.83 -194.15 
L 491.3 -194.15 
L 491.77 -194.15 
L 492.23 -194.15 
L 492.7 -194.15 
L 493.17 -194.15 
L 493.64 -194.15 
L 494.1 -194.15 
L 494.57 -194.15 
L 495.04 -194.15 
L 495.51 -194.15 
L 495.97 -194.15 
L 496.44 -194.15 
L 496.91 -194.15 
L 497.38 -194.15 
L 497.84 -194.15 
L 498.31 -194.15 
L 498.78 -194.15 
L 499.25 -194.15 
L 499.71 -194.15 
L 500.18 -194.15 
L 500.65 -194.15 
L 501.12 -194.15 
L 501.58 -194.15 
L 502.05 -194.15 
L 502.52 -194.15 
L 502.99 -194.15 
L 503.45 -194.15 
L 503.45 -194.17 
L 503.45 -194.17 
L 502.99 -194.17 
L 502.52 -194.19 
L 502.05 -194.2 
L 501.58 -194.22 
L 501.12 -194.25 
L 500.65 -194.28 
L 500.18 -194.33 
L 499.71 -194.38 
L 499.25 -194.44 
L 498.78 -194.52 
L 498.31 -194.61 
L 497.84 -194.7 
L 497.38 -194.81 
L 496.91 -194.92 
L 496.44 -195.04 
L 495.97 -195.16 
L 495.51 -195.28 
L 495.04 -195.4 
L 494.57 -195.51 
L 494.1 -195.61 
L 493.64 -195.7 
L 493.17 -195.78 
L 492.7 -195.85 
L 492.23 -195.91 
L 491.77 -195.96 
L 491.3 -196.01 
L 490.83 -196.06 
L 490.36 -196.1 
L 489.89 -196.14 
L 489.43 -196.18 
L 488.96 -196.22 
L 488.49 -196.26 
L 488.02 -196.31 
L 487.56 -196.35 
L 487.09 -196.38 
L 486.62 -196.42 
L 486.15 -196.45 
L 485.69 -196.47 
L 485.22 -196.5 
L 484.75 -196.52 
L 484.28 -196.54 
L 483.82 -196.57 
L 483.35 -196.61 
L 482.88 -196.65 
L 482.41 -196.71 
L 481.95 -196.77 
L 481.48 -196.85 
L 481.01 -196.93 
L 480.54 -197.03 
L 480.08 -197.12 
L 479.61 -197.22 
L 479.14 -197.33 
L 478.67 -197.43 
L 478.21 -197.54 
L 477.74 -197.66 
L 477.27 -197.79 
L 476.8 -197.94 
L 476.34 -198.11 
L 475.87 -198.32 
L 475.4 -198.57 
L 474.93 -198.87 
L 474.47 -199.23 
L 474 -199.65 
L 473.53 -200.13 
L 473.06 -200.67 
L 472.6 -201.27 
L 472.13 -201.92 
L 471.66 -202.62 
L 471.19 -203.36 
L 470.73 -204.14 
L 470.26 -204.95 
L 469.79 -205.8 
L 469.32 -206.67 
L 468.85 -207.59 
L 468.39 -208.54 
L 467.92 -209.54 
L 467.45 -210.59 
L 466.98 -211.69 
L 466.52 -212.84 
L 466.05 -214.04 
L 465.58 -215.28 
L 465.11 -216.56 
L 464.65 -217.86 
L 464.18 -219.17 
L 463.71 -220.49 
L 463.24 -221.8 
L 462.78 -223.12 
L 462.31 -224.44 
L 461.84 -225.76 
L 461.37 -227.1 
L 460.91 -228.47 
L 460.44 -229.87 
L 459.97 -231.31 
L 459.5 -232.8 
L 459.04 -234.32 
L 458.57 -235.89 
L 458.1 -237.47 
L 457.63 -239.07 
L 457.17 -240.68 
L 456.7 -242.28 
L 456.23 -243.88 
L 455.76 -245.48 
L 455.3 -247.1 
L 454.83 -248.75 
L 454.36 -250.46 
L 453.89 -252.25 
L 453.43 -254.15 
L 452.96 -256.18 
L 452.49 -258.36 
L 452.02 -260.69 
L 451.56 -263.19 
L 451.09 -265.86 
L 450.62 -268.69 
L 450.15 -271.67 
L 449.68 -274.8 
L 449.22 -278.05 
L 448.75 -281.43 
L 448.28 -284.9 
L 447.81 -288.44 
L 447.35 -292.05 
L 446.88 -295.68 
L 446.41 -299.31 
L 445.94 -302.9 
L 445.48 -306.41 
L 445.01 -309.79 
L 444.54 -313.02 
L 444.07 -316.04 
L 443.61 -318.81 
L 443.14 -321.31 
L 442.67 -323.52 
L 442.2 -325.41 
L 441.74 -326.98 
L 441.27 -328.25 
L 440.8 -329.22 
L 440.33 -329.92 
L 439.87 -330.38 
L 439.4 -330.64 
L 438.93 -330.72 
L 438.46 -330.65 
L 438 -330.47 
L 437.53 -330.21 
L 437.06 -329.89 
L 436.59 -329.53 
L 436.13 -329.13 
L 435.66 -328.72 
L 435.19 -328.31 
L 434.72 -327.88 
L 434.26 -327.46 
L 433.79 -327.04 
L 433.32 -326.62 
L 432.85 -326.21 
L 432.39 -325.81 
L 431.92 -325.42 
L 431.45 -325.05 
L 430.98 -324.68 
L 430.52 -324.34 
L 430.05 -323.99 
L 429.58 -323.65 
L 429.11 -323.3 
L 428.64 -322.92 
L 428.18 -322.5 
L 427.71 -322.02 
L 427.24 -321.47 
L 426.77 -320.84 
L 426.31 -320.11 
L 425.84 -319.29 
L 425.37 -318.38 
L 424.9 -317.37 
L 424.44 -316.29 
L 423.97 -315.13 
L 423.5 -313.9 
L 423.03 -312.61 
L 422.57 -311.25 
L 422.1 -309.81 
L 421.63 -308.3 
L 421.16 -306.69 
L 420.7 -304.98 
L 420.23 -303.16 
L 419.76 -301.23 
L 419.29 -299.17 
L 418.83 -297 
L 418.36 -294.71 
L 417.89 -292.3 
L 417.42 -289.79 
L 416.96 -287.17 
L 416.49 -284.44 
L 416.02 -281.62 
L 415.55 -278.7 
L 415.09 -275.69 
L 414.62 -272.61 
L 414.15 -269.45 
L 413.68 -266.25 
L 413.22 -263.02 
L 412.75 -259.78 
L 412.28 -256.55 
L 411.81 -253.37 
L 411.35 -250.23 
L 410.88 -247.15 
L 410.41 -244.14 
L 409.94 -241.2 
L 409.48 -238.33 
L 409.01 -235.53 
L 408.54 -232.78 
L 408.07 -230.11 
L 407.6 -227.52 
L 407.14 -225 
L 406.67 -222.59 
L 406.2 -220.28 
L 405.73 -218.1 
L 405.27 -216.05 
L 404.8 -214.14 
L 404.33 -212.37 
L 403.86 -210.75 
L 403.4 -209.26 
L 402.93 -207.89 
L 402.46 -206.65 
L 401.99 -205.5 
L 401.53 -204.45 
L 401.06 -203.47 
L 400.59 -202.57 
L 400.12 -201.74 
L 399.66 -200.98 
L 399.19 -200.27 
L 398.72 -199.63 
L 398.25 -199.04 
L 397.79 -198.51 
L 397.32 -198.04 
L 396.85 -197.62 
L 396.38 -197.25 
L 395.92 -196.92 
L 395.45 -196.63 
L 394.98 -196.36 
L 394.51 -196.13 
L 394.05 -195.91 
L 393.58 -195.72 
L 393.11 -195.53 
L 392.64 -195.36 
L 392.18 -195.2 
L 391.71 -195.06 
z
" style="stroke: #1f77b4; stroke-width: 1.6"/>
    </defs>
    <g clip-path="url(#pa256d7a446)">
     <use href="#m03894fe041" x="0" y="653.067925" style="fill: #1f77b4; fill-opacity: 0.25; stroke: #1f77b4; stroke-width: 1.6"/>
    </g>
   </g>
  </g>
  <g id="axes_15">
   <g id="patch_35">
    <path d="M 551.78 458.92 
L 706.25 458.92 
L 706.25 315.01 
L 551.78 315.01 
z
" style="fill: #ffffff"/>
   </g>
   <g id="PathCollection_9">
    <defs>
     <path id="C8_0_623b9ded61" d="M 0 3 
C 0.8 3 1.56 2.68 2.12 2.12 
C 2.68 1.56 3 0.8 3 -0 
C 3 -0.8 2.68 -1.56 2.12 -2.12 
C 1.56 -2.68 0.8 -3 0 -3 
C -0.8 -3 -1.56 -2.68 -2.12 -2.12 
C -2.68 -1.56 -3 -0.8 -3 0 
C -3 0.8 -2.68 1.56 -2.12 2.12 
C -1.56 2.68 -0.8 3 0 3 
z
"/>
    </defs>
    <use href="#O" x="638.9" y="410.0"/>
    <use href="#B" x="598.4" y="437.5"/>
    <use href="#B" x="631.7" y="405.9"/>
    <use href="#B" x="607.5" y="415.8"/>
    <use href="#O" x="613.1" y="417.2"/>
    <use href="#B" x="598.9" y="437.7"/>
    <use href="#B" x="621.2" y="380.0"/>
    <use href="#B" x="596.4" y="413.2"/>
    <use href="#O" x="621.5" y="378.4"/>
    <use href="#B" x="617.6" y="403.4"/>
    <use href="#O" x="627.9" y="389.6"/>
    <use href="#B" x="624.2" y="419.5"/>
    <use href="#B" x="650.2" y="413.0"/>
    <use href="#B" x="605.6" y="421.4"/>
    <use href="#B" x="608.2" y="432.1"/>
    <use href="#B" x="619.9" y="404.3"/>
    <use href="#B" x="591.9" y="445.9"/>
    <use href="#B" x="619.1" y="416.5"/>
    <use href="#O" x="609.8" y="427.9"/>
    <use href="#O" x="637.7" y="423.5"/>
    <use href="#B" x="611.1" y="394.7"/>
    <use href="#O" x="624.6" y="422.0"/>
    <use href="#B" x="632.0" y="415.1"/>
    <use href="#B" x="599.2" y="435.3"/>
    <use href="#O" x="588.2" y="406.6"/>
    <use href="#O" x="625.8" y="407.9"/>
    <use href="#O" x="626.9" y="421.4"/>
    <use href="#B" x="610.1" y="434.0"/>
    <use href="#B" x="629.8" y="410.2"/>
    <use href="#O" x="636.9" y="400.5"/>
    <use href="#O" x="642.0" y="391.2"/>
    <use href="#O" x="621.8" y="411.0"/>
    <use href="#B" x="623.2" y="406.8"/>
    <use href="#B" x="613.9" y="403.7"/>
    <use href="#B" x="621.5" y="420.1"/>
    <use href="#B" x="606.4" y="419.9"/>
    <use href="#B" x="628.9" y="402.8"/>
    <use href="#B" x="609.3" y="441.7"/>
    <use href="#O" x="648.3" y="406.2"/>
    <use href="#O" x="618.1" y="414.2"/>
    <use href="#O" x="606.9" y="386.7"/>
    <use href="#B" x="603.5" y="410.9"/>
    <use href="#B" x="607.3" y="431.9"/>
    <use href="#B" x="603.8" y="418.4"/>
    <use href="#B" x="614.1" y="407.1"/>
    <use href="#B" x="634.1" y="425.2"/>
    <use href="#B" x="583.5" y="426.6"/>
    <use href="#O" x="611.8" y="431.0"/>
    <use href="#B" x="587.0" y="427.7"/>
    <use href="#O" x="620.0" y="388.5"/>
    <use href="#B" x="585.6" y="430.0"/>
    <use href="#B" x="582.4" y="442.0"/>
    <use href="#B" x="609.9" y="412.8"/>
    <use href="#O" x="612.2" y="427.3"/>
    <use href="#B" x="601.0" y="401.5"/>
    <use href="#O" x="653.0" y="391.8"/>
    <use href="#B" x="594.5" y="416.7"/>
    <use href="#B" x="606.9" y="435.8"/>
    <use href="#B" x="617.9" y="409.3"/>
    <use href="#O" x="636.0" y="420.9"/>
    <use href="#B" x="622.2" y="411.4"/>
    <use href="#B" x="600.8" y="416.0"/>
    <use href="#B" x="590.0" y="447.3"/>
    <use href="#B" x="643.9" y="399.0"/>
    <use href="#B" x="647.3" y="388.3"/>
    <use href="#B" x="608.9" y="445.2"/>
    <use href="#B" x="586.0" y="419.1"/>
    <use href="#B" x="633.9" y="416.3"/>
    <use href="#B" x="628.4" y="428.5"/>
    <use href="#O" x="645.1" y="334.8"/>
    <use href="#O" x="630.7" y="413.1"/>
    <use href="#B" x="620.7" y="438.3"/>
    <use href="#B" x="618.1" y="423.9"/>
    <use href="#O" x="627.2" y="409.7"/>
    <use href="#B" x="601.4" y="438.6"/>
    <use href="#O" x="620.6" y="419.0"/>
    <use href="#B" x="672.3" y="376.1"/>
    <use href="#O" x="626.5" y="401.2"/>
    <use href="#O" x="652.6" y="386.8"/>
    <use href="#B" x="591.1" y="419.7"/>
    <use href="#O" x="646.9" y="384.6"/>
    <use href="#O" x="644.4" y="395.0"/>
    <use href="#B" x="631.1" y="411.3"/>
    <use href="#O" x="619.1" y="412.2"/>
    <use href="#O" x="627.6" y="428.4"/>
    <use href="#B" x="624.3" y="360.9"/>
    <use href="#B" x="583.0" y="440.5"/>
    <use href="#O" x="615.6" y="411.8"/>
    <use href="#B" x="643.5" y="407.6"/>
    <use href="#O" x="647.6" y="321.3"/>
    <use href="#B" x="597.7" y="418.9"/>
    <use href="#B" x="622.9" y="404.0"/>
    <use href="#B" x="602.4" y="430.4"/>
    <use href="#B" x="586.4" y="428.7"/>
    <use href="#O" x="629.7" y="408.4"/>
    <use href="#B" x="585.4" y="435.1"/>
    <use href="#B" x="630.2" y="414.0"/>
    <use href="#O" x="620.9" y="401.8"/>
    <use href="#B" x="602.1" y="398.7"/>
    <use href="#B" x="610.5" y="437.3"/>
    <use href="#B" x="618.9" y="425.1"/>
    <use href="#O" x="640.7" y="353.9"/>
    <use href="#B" x="612.6" y="424.5"/>
    <use href="#B" x="590.2" y="431.2"/>
    <use href="#B" x="619.5" y="422.8"/>
    <use href="#B" x="585.1" y="449.1"/>
    <use href="#O" x="632.0" y="405.5"/>
    <use href="#B" x="635.4" y="392.6"/>
    <use href="#B" x="627.2" y="418.6"/>
    <use href="#O" x="631.0" y="410.3"/>
    <use href="#O" x="638.5" y="407.5"/>
    <use href="#B" x="613.6" y="414.6"/>
    <use href="#O" x="623.1" y="390.5"/>
    <use href="#B" x="608.6" y="436.6"/>
    <use href="#B" x="636.0" y="399.3"/>
    <use href="#B" x="632.7" y="407.8"/>
    <use href="#B" x="632.2" y="401.2"/>
    <use href="#O" x="607.5" y="446.7"/>
    <use href="#B" x="595.4" y="429.8"/>
    <use href="#O" x="623.9" y="417.8"/>
    <use href="#B" x="611.7" y="428.9"/>
    <use href="#O" x="661.6" y="376.7"/>
    <use href="#B" x="617.0" y="434.5"/>
    <use href="#B" x="636.3" y="417.9"/>
    <use href="#B" x="601.2" y="439.5"/>
    <use href="#B" x="597.5" y="428.1"/>
    <use href="#B" x="614.6" y="430.8"/>
    <use href="#O" x="601.6" y="437.3"/>
    <use href="#O" x="617.4" y="417.5"/>
    <use href="#B" x="630.5" y="400.0"/>
    <use href="#B" x="593.2" y="395.6"/>
    <use href="#B" x="609.5" y="436.2"/>
    <use href="#B" x="618.4" y="424.3"/>
    <use href="#B" x="637.9" y="412.0"/>
    <use href="#B" x="625.0" y="387.3"/>
    <use href="#B" x="588.1" y="420.7"/>
    <use href="#O" x="612.7" y="408.6"/>
    <use href="#O" x="609.4" y="409.1"/>
    <use href="#O" x="628.2" y="415.5"/>
    <use href="#B" x="615.8" y="393.2"/>
    <use href="#O" x="611.4" y="396.2"/>
    <use href="#B" x="633.7" y="412.5"/>
    <use href="#O" x="628.5" y="380.7"/>
    <use href="#O" x="622.8" y="405.7"/>
    <use href="#B" x="612.8" y="402.5"/>
    <use href="#O" x="637.3" y="393.9"/>
    <use href="#O" x="608.1" y="408.1"/>
    <use href="#B" x="600.3" y="443.2"/>
    <use href="#B" x="640.3" y="377.7"/>
    <use href="#O" x="596.4" y="420.0"/>
    <use href="#B" x="599.9" y="404.6"/>
    <use href="#B" x="605.0" y="438.1"/>
    <use href="#O" x="629.1" y="418.1"/>
    <use href="#O" x="614.6" y="422.7"/>
    <use href="#B" x="610.8" y="400.9"/>
    <use href="#O" x="638.1" y="404.3"/>
    <use href="#B" x="634.4" y="411.6"/>
    <use href="#B" x="620.3" y="413.4"/>
    <use href="#B" x="607.8" y="422.0"/>
    <use href="#B" x="617.3" y="411.1"/>
    <use href="#B" x="601.9" y="406.2"/>
    <use href="#O" x="614.1" y="406.8"/>
    <use href="#O" x="619.4" y="420.4"/>
    <use href="#B" x="620.9" y="396.5"/>
    <use href="#B" x="635.2" y="395.2"/>
    <use href="#B" x="643.0" y="409.7"/>
    <use href="#B" x="617.8" y="417.4"/>
    <use href="#B" x="621.6" y="384.1"/>
    <use href="#B" x="594.9" y="422.4"/>
    <use href="#B" x="614.9" y="427.5"/>
    <use href="#O" x="602.8" y="416.7"/>
    <use href="#B" x="629.4" y="390.1"/>
    <use href="#O" x="608.7" y="424.0"/>
    <use href="#B" x="610.3" y="423.0"/>
    <use href="#B" x="618.5" y="423.7"/>
    <use href="#B" x="622.3" y="420.9"/>
    <use href="#O" x="613.6" y="403.1"/>
    <use href="#O" x="617.0" y="407.0"/>
    <use href="#O" x="635.5" y="397.7"/>
    <use href="#O" x="643.2" y="407.2"/>
    <use href="#B" x="612.1" y="418.1"/>
    <use href="#B" x="621.3" y="412.3"/>
    <use href="#B" x="636.7" y="396.9"/>
    <use href="#O" x="642.6" y="395.5"/>
    <use href="#B" x="644.4" y="412.1"/>
    <use href="#B" x="639.6" y="385.2"/>
    <use href="#B" x="600.5" y="431.5"/>
    <use href="#B" x="614.4" y="415.4"/>
    <use href="#B" x="619.2" y="392.1"/>
    <use href="#B" x="580.1" y="451.9"/>
    <use href="#O" x="625.0" y="405.3"/>
    <use href="#B" x="587.6" y="424.9"/>
    <use href="#O" x="598.6" y="434.5"/>
    <use href="#B" x="604.1" y="413.5"/>
    <use href="#O" x="677.8" y="342.2"/>
    <use href="#O" x="623.5" y="414.6"/>
    <use href="#O" x="634.1" y="392.9"/>
    <use href="#B" x="589.8" y="435.4"/>
    <use href="#B" x="626.5" y="394.2"/>
    <use href="#O" x="606.2" y="429.4"/>
    <use href="#O" x="641.5" y="328.7"/>
    <use href="#B" x="587.9" y="421.2"/>
    <use href="#O" x="631.3" y="426.7"/>
    <use href="#B" x="596.8" y="446.6"/>
    <use href="#B" x="616.4" y="397.2"/>
    <use href="#O" x="651.0" y="399.6"/>
    <use href="#B" x="620.4" y="430.2"/>
    <use href="#O" x="622.4" y="415.8"/>
    <use href="#B" x="623.4" y="414.2"/>
    <use href="#B" x="589.0" y="434.9"/>
    <use href="#O" x="641.0" y="370.6"/>
    <use href="#O" x="604.1" y="443.9"/>
    <use href="#B" x="592.5" y="425.8"/>
    <use href="#B" x="608.4" y="418.2"/>
    <use href="#B" x="603.2" y="432.5"/>
    <use href="#O" x="625.4" y="409.4"/>
    <use href="#B" x="623.7" y="427.0"/>
    <use href="#B" x="597.4" y="429.1"/>
    <use href="#B" x="602.9" y="414.7"/>
    <use href="#B" x="645.2" y="403.1"/>
    <use href="#O" x="631.7" y="418.4"/>
    <use href="#B" x="618.7" y="411.8"/>
    <use href="#B" x="605.3" y="425.6"/>
    <use href="#B" x="604.7" y="432.3"/>
    <use href="#B" x="595.7" y="421.0"/>
    <use href="#B" x="623.9" y="391.6"/>
    <use href="#B" x="586.2" y="450.0"/>
    <use href="#B" x="639.0" y="420.3"/>
    <use href="#B" x="611.9" y="427.9"/>
    <use href="#B" x="621.8" y="408.5"/>
    <use href="#B" x="604.4" y="426.0"/>
    <use href="#B" x="588.8" y="443.9"/>
    <use href="#O" x="591.6" y="429.9"/>
    <use href="#O" x="640.6" y="398.6"/>
    <use href="#O" x="619.7" y="404.5"/>
    <use href="#B" x="620.0" y="407.4"/>
    <use href="#B" x="641.5" y="432.8"/>
    <use href="#B" x="597.0" y="431.7"/>
    <use href="#B" x="617.1" y="429.4"/>
    <use href="#O" x="609.0" y="392.4"/>
    <use href="#B" x="648.8" y="386.2"/>
    <use href="#O" x="617.8" y="404.0"/>
    <use href="#O" x="640.1" y="381.8"/>
    <use href="#B" x="616.2" y="433.8"/>
    <use href="#B" x="599.6" y="441.4"/>
    <use href="#B" x="591.6" y="432.6"/>
    <use href="#B" x="619.8" y="424.1"/>
    <use href="#O" x="647.6" y="408.9"/>
    <use href="#O" x="605.3" y="416.1"/>
    <use href="#B" x="635.7" y="389.5"/>
    <use href="#O" x="616.6" y="424.4"/>
    <use href="#O" x="584.8" y="419.6"/>
    <use href="#B" x="607.1" y="433.6"/>
    <use href="#B" x="612.4" y="414.9"/>
    <use href="#O" x="610.6" y="419.3"/>
    <use href="#B" x="637.5" y="427.3"/>
    <use href="#B" x="598.6" y="430.6"/>
    <use href="#B" x="584.3" y="417.7"/>
    <use href="#O" x="639.3" y="405.9"/>
    <use href="#B" x="628.0" y="347.8"/>
    <use href="#B" x="601.7" y="415.6"/>
    <use href="#O" x="646.3" y="403.7"/>
    <use href="#B" x="586.8" y="435.6"/>
    <use href="#O" x="643.8" y="417.0"/>
    <use href="#B" x="640.9" y="420.5"/>
    <use href="#B" x="622.0" y="409.0"/>
    <use href="#B" x="658.8" y="373.5"/>
    <use href="#O" x="610.2" y="411.4"/>
    <use href="#B" x="613.4" y="417.5"/>
    <use href="#B" x="633.4" y="408.6"/>
    <use href="#B" x="616.8" y="400.3"/>
    <use href="#O" x="618.8" y="379.6"/>
    <use href="#B" x="606.6" y="434.3"/>
    <use href="#B" x="589.6" y="409.2"/>
    <use href="#O" x="600.6" y="403.4"/>
    <use href="#B" x="619.3" y="383.1"/>
    <use href="#B" x="590.4" y="439.8"/>
    <use href="#B" x="622.5" y="419.3"/>
    <use href="#B" x="590.9" y="433.2"/>
    <use href="#B" x="611.5" y="408.1"/>
    <use href="#O" x="649.9" y="361.8"/>
    <use href="#B" x="608.7" y="409.9"/>
    <use href="#B" x="646.7" y="410.7"/>
    <use href="#O" x="622.1" y="349.6"/>
    <use href="#B" x="585.8" y="421.8"/>
    <use href="#O" x="649.0" y="402.3"/>
    <use href="#B" x="620.6" y="390.6"/>
    <use href="#B" x="625.9" y="389.0"/>
    <use href="#O" x="616.1" y="413.9"/>
    <use href="#B" x="584.6" y="423.3"/>
    <use href="#B" x="624.6" y="397.8"/>
    <use href="#O" x="624.2" y="433.2"/>
    <use href="#O" x="630.0" y="383.1"/>
    <use href="#B" x="616.6" y="379.0"/>
    <use href="#O" x="635.1" y="441.4"/>
    <use href="#B" x="625.4" y="444.6"/>
    <use href="#O" x="628.8" y="405.0"/>
    <use href="#O" x="611.0" y="407.7"/>
    <use href="#B" x="590.6" y="427.2"/>
    <use href="#B" x="638.4" y="401.8"/>
    <use href="#B" x="589.4" y="441.1"/>
    <use href="#O" x="665.2" y="357.9"/>
    <use href="#B" x="595.9" y="440.1"/>
    <use href="#O" x="630.4" y="414.9"/>
    <use href="#O" x="614.4" y="419.2"/>
    <use href="#B" x="588.6" y="433.0"/>
    <use href="#B" x="613.1" y="418.8"/>
    <use href="#B" x="598.7" y="423.1"/>
    <use href="#B" x="619.6" y="399.7"/>
    <use href="#B" x="589.2" y="438.9"/>
    <use href="#O" x="645.7" y="404.8"/>
    <use href="#B" x="587.4" y="442.5"/>
    <use href="#O" x="626.2" y="415.2"/>
    <use href="#O" x="607.2" y="420.0"/>
    <use href="#B" x="593.6" y="436.4"/>
    <use href="#B" x="616.0" y="416.1"/>
    <use href="#B" x="605.9" y="408.0"/>
    <use href="#B" x="630.8" y="417.2"/>
    <use href="#B" x="634.9" y="415.3"/>
    <use href="#O" x="620.3" y="430.5"/>
    <use href="#B" x="618.2" y="426.8"/>
    <use href="#B" x="615.6" y="426.4"/>
    <use href="#B" x="606.1" y="429.3"/>
    <use href="#B" x="588.5" y="440.8"/>
    <use href="#B" x="620.2" y="410.6"/>
    <use href="#B" x="599.8" y="437.9"/>
    <use href="#B" x="637.1" y="405.6"/>
    <use href="#B" x="599.4" y="436.8"/>
    <use href="#B" x="608.0" y="410.0"/>
    <use href="#B" x="591.4" y="413.9"/>
    <use href="#B" x="600.6" y="448.2"/>
    <use href="#O" x="656.7" y="367.8"/>
    <use href="#B" x="598.2" y="416.8"/>
    <use href="#B" x="631.4" y="396.2"/>
    <use href="#O" x="629.4" y="428.9"/>
    <use href="#B" x="622.7" y="391.1"/>
    <use href="#O" x="599.6" y="393.4"/>
    <use href="#B" x="648.0" y="381.0"/>
    <use href="#B" x="596.6" y="404.9"/>
    <use href="#B" x="597.2" y="405.3"/>
    <use href="#O" x="634.6" y="426.0"/>
    <use href="#B" x="635.2" y="402.3"/>
    <use href="#O" x="594.7" y="432.4"/>
    <use href="#B" x="581.6" y="451.0"/>
    <use href="#B" x="583.9" y="421.6"/>
    <use href="#B" x="632.9" y="382.1"/>
    <use href="#O" x="636.4" y="394.4"/>
    <use href="#B" x="598.1" y="433.4"/>
    <use href="#B" x="596.1" y="434.1"/>
    <use href="#O" x="615.2" y="402.7"/>
    <use href="#B" x="586.6" y="436.9"/>
    <use href="#B" x="587.7" y="425.4"/>
    <use href="#O" x="632.4" y="418.7"/>
    <use href="#B" x="621.0" y="422.6"/>
    <use href="#B" x="646.2" y="393.7"/>
    <use href="#B" x="610.6" y="408.8"/>
    <use href="#B" x="609.7" y="439.2"/>
    <use href="#B" x="600.1" y="406.5"/>
    <use href="#B" x="633.2" y="428.3"/>
    <use href="#B" x="627.8" y="402.1"/>
    <use href="#B" x="592.2" y="410.4"/>
    <use href="#B" x="587.2" y="429.6"/>
    <use href="#B" x="588.3" y="431.3"/>
    <use href="#B" x="599.1" y="434.7"/>
    <use href="#O" x="632.8" y="410.7"/>
    <use href="#B" x="642.6" y="409.5"/>
    <use href="#B" x="644.8" y="369.4"/>
    <use href="#O" x="608.6" y="431.6"/>
    <use href="#B" x="592.9" y="436.0"/>
    <use href="#B" x="618.8" y="424.7"/>
    <use href="#B" x="645.7" y="413.7"/>
    <use href="#O" x="621.2" y="413.5"/>
    <use href="#B" x="634.6" y="398.4"/>
    <use href="#O" x="644.0" y="384.7"/>
    <use href="#B" x="584.9" y="437.1"/>
    <use href="#B" x="609.1" y="426.2"/>
    <use href="#B" x="615.1" y="397.5"/>
    <use href="#B" x="642.1" y="412.7"/>
    <use href="#B" x="594.2" y="423.5"/>
    <use href="#B" x="595.1" y="422.2"/>
    <use href="#O" x="633.7" y="416.4"/>
    <use href="#O" x="639.7" y="396.9"/>
    <use href="#B" x="615.4" y="414.4"/>
    <use href="#O" x="618.4" y="425.3"/>
    <use href="#B" x="602.6" y="417.0"/>
    <use href="#O" x="633.2" y="406.4"/>
    <use href="#B" x="597.9" y="431.0"/>
    <use href="#B" x="632.5" y="400.6"/>
    <use href="#B" x="611.3" y="408.3"/>
    <use href="#B" x="593.9" y="395.9"/>
    <use href="#O" x="597.6" y="412.7"/>
    <use href="#B" x="617.5" y="398.1"/>
   </g>
   <g id="matplotlib.axis_23">
    <g id="xtick_33">
     <g id="line2d_84">
      <g>
       <use href="#m810af31bf4" x="565.824793" y="458.920583" style="fill: #262626; stroke: #262626; stroke-width: 1.2"/>
      </g>
     </g>
    </g>
    <g id="xtick_34">
     <g id="line2d_85">
      <g>
       <use href="#m810af31bf4" x="610.264588" y="458.920583" style="fill: #262626; stroke: #262626; stroke-width: 1.2"/>
      </g>
     </g>
    </g>
    <g id="xtick_35">
     <g id="line2d_86">
      <g>
       <use href="#m810af31bf4" x="654.704383" y="458.920583" style="fill: #262626; stroke: #262626; stroke-width: 1.2"/>
      </g>
     </g>
    </g>
    <g id="xtick_36">
     <g id="line2d_87">
      <g>
       <use href="#m810af31bf4" x="699.144178" y="458.920583" style="fill: #262626; stroke: #262626; stroke-width: 1.2"/>
      </g>
     </g>
    </g>
   </g>
   <g id="matplotlib.axis_24">
    <g id="ytick_52">
     <g id="line2d_88">
      <g>
       <use href="#m16c3d9d836" x="551.781818" y="447.552121" style="fill: #262626; stroke: #262626; stroke-width: 1.2"/>
      </g>
     </g>
    </g>
    <g id="ytick_53">
     <g id="line2d_89">
      <g>
       <use href="#m16c3d9d836" x="551.781818" y="420.8028" style="fill: #262626; stroke: #262626; stroke-width: 1.2"/>
      </g>
     </g>
    </g>
    <g id="ytick_54">
     <g id="line2d_90">
      <g>
       <use href="#m16c3d9d836" x="551.781818" y="394.053479" style="fill: #262626; stroke: #262626; stroke-width: 1.2"/>
      </g>
     </g>
    </g>
    <g id="ytick_55">
     <g id="line2d_91">
      <g>
       <use href="#m16c3d9d836" x="551.781818" y="367.304158" style="fill: #262626; stroke: #262626; stroke-width: 1.2"/>
      </g>
     </g>
    </g>
    <g id="ytick_56">
     <g id="line2d_92">
      <g>
       <use href="#m16c3d9d836" x="551.781818" y="340.554836" style="fill: #262626; stroke: #262626; stroke-width: 1.2"/>
      </g>
     </g>
    </g>
   </g>
   <g id="patch_36">
    <path d="M 551.78 458.92 
L 551.78 315.01 
" style="fill: none; stroke: #262626; stroke-width: 1.4; stroke-linejoin: miter; stroke-linecap: square"/>
   </g>
   <g id="patch_37">
    <path d="M 551.78 458.92 
L 706.25 458.92 
" style="fill: none; stroke: #262626; stroke-width: 1.4; stroke-linejoin: miter; stroke-linecap: square"/>
   </g>
  </g>
  <g id="axes_16">
   <g id="patch_38">
    <path d="M 51.84 608.74 
L 206.31 608.74 
L 206.31 464.83 
L 51.84 464.83 
z
" style="fill: #ffffff"/>
   </g>
   <g id="PathCollection_10">
    <defs>
     <path id="C9_0_623b9ded61" d="M 0 3 
C 0.8 3 1.56 2.68 2.12 2.12 
C 2.68 1.56 3 0.8 3 -0 
C 3 -0.8 2.68 -1.56 2.12 -2.12 
C 1.56 -2.68 0.8 -3 0 -3 
C -0.8 -3 -1.56 -2.68 -2.12 -2.12 
C -2.68 -1.56 -3 -0.8 -3 0 
C -3 0.8 -2.68 1.56 -2.12 2.12 
C -1.56 2.68 -0.8 3 0 3 
z
"/>
    </defs>
    <use href="#O" x="135.8" y="522.5"/>
    <use href="#B" x="122.9" y="575.7"/>
    <use href="#B" x="163.1" y="532.0"/>
    <use href="#B" x="110.3" y="563.7"/>
    <use href="#O" x="155.2" y="556.4"/>
    <use href="#B" x="106.3" y="575.1"/>
    <use href="#B" x="96.3" y="545.8"/>
    <use href="#B" x="105.7" y="578.4"/>
    <use href="#O" x="174.5" y="545.4"/>
    <use href="#B" x="120.9" y="550.5"/>
    <use href="#O" x="114.2" y="537.0"/>
    <use href="#B" x="116.3" y="541.8"/>
    <use href="#B" x="121.5" y="507.6"/>
    <use href="#B" x="126.8" y="566.3"/>
    <use href="#B" x="99.9" y="562.9"/>
    <use href="#B" x="115.5" y="547.5"/>
    <use href="#B" x="87.0" y="584.3"/>
    <use href="#B" x="101.2" y="548.6"/>
    <use href="#O" x="173.3" y="560.7"/>
    <use href="#O" x="144.3" y="524.1"/>
    <use href="#B" x="75.2" y="559.1"/>
    <use href="#O" x="149.5" y="541.3"/>
    <use href="#B" x="94.6" y="531.6"/>
    <use href="#B" x="122.1" y="574.6"/>
    <use href="#O" x="91.3" y="589.1"/>
    <use href="#O" x="167.9" y="539.7"/>
    <use href="#O" x="120.5" y="538.3"/>
    <use href="#B" x="131.4" y="560.4"/>
    <use href="#B" x="127.1" y="534.5"/>
    <use href="#O" x="121.2" y="525.2"/>
    <use href="#O" x="110.9" y="518.4"/>
    <use href="#O" x="143.1" y="545.0"/>
    <use href="#B" x="106.0" y="543.2"/>
    <use href="#B" x="126.4" y="555.4"/>
    <use href="#B" x="140.4" y="545.4"/>
    <use href="#B" x="115.1" y="565.2"/>
    <use href="#B" x="128.1" y="535.6"/>
    <use href="#B" x="109.6" y="561.4"/>
    <use href="#O" x="141.1" y="510.2"/>
    <use href="#O" x="153.9" y="549.8"/>
    <use href="#O" x="127.7" y="564.5"/>
    <use href="#B" x="109.0" y="569.1"/>
    <use href="#B" x="105.9" y="564.0"/>
    <use href="#B" x="89.5" y="568.7"/>
    <use href="#B" x="157.0" y="555.1"/>
    <use href="#B" x="136.0" y="528.8"/>
    <use href="#B" x="108.0" y="595.3"/>
    <use href="#O" x="146.3" y="558.1"/>
    <use href="#B" x="104.6" y="590.7"/>
    <use href="#O" x="139.2" y="547.4"/>
    <use href="#B" x="108.3" y="592.6"/>
    <use href="#B" x="117.1" y="596.7"/>
    <use href="#B" x="95.9" y="560.7"/>
    <use href="#O" x="115.5" y="557.5"/>
    <use href="#B" x="109.9" y="572.3"/>
    <use href="#O" x="131.5" y="504.0"/>
    <use href="#B" x="93.3" y="580.8"/>
    <use href="#B" x="100.1" y="564.6"/>
    <use href="#B" x="92.8" y="550.1"/>
    <use href="#O" x="154.6" y="526.3"/>
    <use href="#B" x="93.0" y="544.5"/>
    <use href="#B" x="124.5" y="572.5"/>
    <use href="#B" x="123.8" y="586.8"/>
    <use href="#B" x="103.6" y="515.9"/>
    <use href="#B" x="141.1" y="511.5"/>
    <use href="#B" x="117.9" y="561.9"/>
    <use href="#B" x="92.1" y="592.0"/>
    <use href="#B" x="99.6" y="529.1"/>
    <use href="#B" x="125.8" y="536.3"/>
    <use href="#O" x="106.2" y="514.4"/>
    <use href="#O" x="158.4" y="533.3"/>
    <use href="#B" x="133.4" y="546.4"/>
    <use href="#B" x="117.7" y="549.9"/>
    <use href="#O" x="165.3" y="537.8"/>
    <use href="#B" x="127.8" y="571.7"/>
    <use href="#O" x="116.1" y="546.6"/>
    <use href="#B" x="106.4" y="478.6"/>
    <use href="#O" x="125.4" y="538.8"/>
    <use href="#O" x="156.2" y="504.5"/>
    <use href="#B" x="123.3" y="585.3"/>
    <use href="#O" x="151.4" y="512.0"/>
    <use href="#O" x="175.1" y="515.3"/>
    <use href="#B" x="92.4" y="532.7"/>
    <use href="#O" x="134.8" y="548.6"/>
    <use href="#O" x="160.9" y="537.4"/>
    <use href="#B" x="151.9" y="541.7"/>
    <use href="#B" x="104.0" y="595.9"/>
    <use href="#O" x="126.3" y="553.1"/>
    <use href="#B" x="131.7" y="516.5"/>
    <use href="#O" x="126.3" y="511.1"/>
    <use href="#B" x="105.3" y="576.6"/>
    <use href="#B" x="129.1" y="543.5"/>
    <use href="#B" x="114.9" y="570.5"/>
    <use href="#B" x="99.4" y="591.5"/>
    <use href="#O" x="156.5" y="534.6"/>
    <use href="#B" x="110.2" y="592.9"/>
    <use href="#B" x="120.1" y="534.0"/>
    <use href="#O" x="153.3" y="546.2"/>
    <use href="#B" x="94.8" y="570.9"/>
    <use href="#B" x="136.5" y="559.9"/>
    <use href="#B" x="101.7" y="548.8"/>
    <use href="#O" x="97.1" y="520.2"/>
    <use href="#B" x="96.6" y="557.1"/>
    <use href="#B" x="101.0" y="586.5"/>
    <use href="#B" x="125.4" y="548.0"/>
    <use href="#B" x="87.6" y="593.2"/>
    <use href="#O" x="157.1" y="531.5"/>
    <use href="#B" x="116.9" y="527.1"/>
    <use href="#B" x="103.7" y="537.9"/>
    <use href="#O" x="126.8" y="532.9"/>
    <use href="#O" x="172.1" y="523.1"/>
    <use href="#B" x="120.3" y="555.7"/>
    <use href="#O" x="129.1" y="543.2"/>
    <use href="#B" x="107.7" y="562.4"/>
    <use href="#B" x="106.9" y="526.3"/>
    <use href="#B" x="155.4" y="530.7"/>
    <use href="#B" x="93.5" y="531.3"/>
    <use href="#O" x="112.9" y="563.7"/>
    <use href="#B" x="135.7" y="579.7"/>
    <use href="#O" x="124.9" y="542.3"/>
    <use href="#B" x="97.2" y="558.3"/>
    <use href="#O" x="104.4" y="492.6"/>
    <use href="#B" x="104.3" y="551.3"/>
    <use href="#B" x="81.0" y="525.9"/>
    <use href="#B" x="141.8" y="572.0"/>
    <use href="#B" x="119.3" y="576.9"/>
    <use href="#B" x="115.9" y="554.4"/>
    <use href="#O" x="155.9" y="571.5"/>
    <use href="#O" x="146.9" y="550.8"/>
    <use href="#B" x="107.0" y="533.5"/>
    <use href="#B" x="142.4" y="582.6"/>
    <use href="#B" x="112.3" y="561.2"/>
    <use href="#B" x="130.1" y="549.5"/>
    <use href="#B" x="97.9" y="523.8"/>
    <use href="#B" x="119.5" y="540.8"/>
    <use href="#B" x="119.7" y="589.3"/>
    <use href="#O" x="123.5" y="557.0"/>
    <use href="#O" x="142.4" y="561.2"/>
    <use href="#O" x="134.4" y="536.6"/>
    <use href="#B" x="111.5" y="552.9"/>
    <use href="#O" x="109.0" y="558.6"/>
    <use href="#B" x="123.1" y="529.4"/>
    <use href="#O" x="157.8" y="536.2"/>
    <use href="#O" x="137.3" y="543.7"/>
    <use href="#B" x="107.4" y="556.8"/>
    <use href="#O" x="130.6" y="524.6"/>
    <use href="#O" x="139.9" y="563.0"/>
    <use href="#B" x="129.7" y="573.3"/>
    <use href="#B" x="116.1" y="520.7"/>
    <use href="#O" x="159.0" y="578.4"/>
    <use href="#B" x="99.2" y="573.7"/>
    <use href="#B" x="112.1" y="567.1"/>
    <use href="#O" x="136.3" y="535.4"/>
    <use href="#O" x="162.8" y="554.4"/>
    <use href="#B" x="106.1" y="559.4"/>
    <use href="#O" x="118.0" y="523.6"/>
    <use href="#B" x="102.0" y="528.4"/>
    <use href="#B" x="113.3" y="546.9"/>
    <use href="#B" x="127.4" y="563.4"/>
    <use href="#B" x="112.9" y="550.9"/>
    <use href="#B" x="124.8" y="571.2"/>
    <use href="#O" x="132.5" y="555.1"/>
    <use href="#O" x="123.9" y="548.2"/>
    <use href="#B" x="111.0" y="546.2"/>
    <use href="#B" x="105.1" y="527.4"/>
    <use href="#B" x="130.7" y="517.1"/>
    <use href="#B" x="102.7" y="550.3"/>
    <use href="#B" x="104.1" y="545.2"/>
    <use href="#B" x="101.8" y="580.4"/>
    <use href="#B" x="91.5" y="554.1"/>
    <use href="#O" x="96.6" y="570.0"/>
    <use href="#B" x="90.5" y="535.0"/>
    <use href="#O" x="122.7" y="562.3"/>
    <use href="#B" x="106.4" y="560.2"/>
    <use href="#B" x="110.4" y="549.3"/>
    <use href="#B" x="134.0" y="544.3"/>
    <use href="#O" x="131.0" y="555.7"/>
    <use href="#O" x="167.2" y="551.3"/>
    <use href="#O" x="159.7" y="526.9"/>
    <use href="#O" x="170.0" y="516.9"/>
    <use href="#B" x="143.1" y="557.7"/>
    <use href="#B" x="114.1" y="545.6"/>
    <use href="#B" x="89.8" y="525.4"/>
    <use href="#O" x="147.5" y="517.7"/>
    <use href="#B" x="137.1" y="515.3"/>
    <use href="#B" x="94.4" y="521.5"/>
    <use href="#B" x="89.1" y="573.0"/>
    <use href="#B" x="107.1" y="554.7"/>
    <use href="#B" x="150.4" y="548.4"/>
    <use href="#B" x="78.5" y="599.8"/>
    <use href="#O" x="171.5" y="540.7"/>
    <use href="#B" x="101.6" y="590.0"/>
    <use href="#O" x="128.7" y="575.4"/>
    <use href="#B" x="166.4" y="568.3"/>
    <use href="#O" x="161.9" y="471.4"/>
    <use href="#O" x="112.3" y="542.8"/>
    <use href="#O" x="164.1" y="528.8"/>
    <use href="#B" x="98.8" y="587.1"/>
    <use href="#B" x="121.1" y="538.8"/>
    <use href="#O" x="137.9" y="565.5"/>
    <use href="#O" x="148.8" y="519.1"/>
    <use href="#B" x="112.5" y="589.5"/>
    <use href="#O" x="152.0" y="532.5"/>
    <use href="#B" x="79.8" y="577.9"/>
    <use href="#B" x="103.8" y="552.1"/>
    <use href="#O" x="133.4" y="506.6"/>
    <use href="#B" x="129.4" y="546.8"/>
    <use href="#O" x="173.9" y="544.2"/>
    <use href="#B" x="109.4" y="542.9"/>
    <use href="#B" x="105.0" y="588.1"/>
    <use href="#O" x="135.3" y="519.7"/>
    <use href="#O" x="122.4" y="568.3"/>
    <use href="#B" x="120.7" y="583.4"/>
    <use href="#B" x="95.2" y="562.7"/>
    <use href="#B" x="103.3" y="569.5"/>
    <use href="#O" x="150.1" y="540.2"/>
    <use href="#B" x="95.0" y="542.6"/>
    <use href="#B" x="119.9" y="577.1"/>
    <use href="#B" x="91.8" y="569.8"/>
    <use href="#B" x="94.1" y="514.2"/>
    <use href="#O" x="123.0" y="532.0"/>
    <use href="#B" x="109.2" y="549.1"/>
    <use href="#B" x="123.5" y="566.7"/>
    <use href="#B" x="110.8" y="567.5"/>
    <use href="#B" x="113.7" y="579.3"/>
    <use href="#B" x="122.5" y="542.2"/>
    <use href="#B" x="76.9" y="591.7"/>
    <use href="#B" x="169.7" y="522.4"/>
    <use href="#B" x="102.4" y="558.0"/>
    <use href="#B" x="96.1" y="545.0"/>
    <use href="#B" x="88.8" y="567.9"/>
    <use href="#B" x="111.4" y="588.3"/>
    <use href="#O" x="163.4" y="584.7"/>
    <use href="#O" x="119.3" y="520.3"/>
    <use href="#O" x="162.2" y="547.8"/>
    <use href="#B" x="144.4" y="547.3"/>
    <use href="#B" x="125.1" y="519.1"/>
    <use href="#B" x="143.7" y="577.6"/>
    <use href="#B" x="131.1" y="551.1"/>
    <use href="#O" x="129.6" y="561.8"/>
    <use href="#B" x="114.7" y="509.5"/>
    <use href="#O" x="101.8" y="550.3"/>
    <use href="#O" x="124.4" y="520.9"/>
    <use href="#B" x="99.0" y="552.3"/>
    <use href="#B" x="98.5" y="574.2"/>
    <use href="#B" x="134.7" y="584.6"/>
    <use href="#B" x="106.7" y="547.7"/>
    <use href="#O" x="152.7" y="511.1"/>
    <use href="#O" x="93.9" y="566.7"/>
    <use href="#B" x="117.5" y="526.7"/>
    <use href="#O" x="148.2" y="551.9"/>
    <use href="#O" x="130.1" y="593.6"/>
    <use href="#B" x="135.0" y="564.3"/>
    <use href="#B" x="117.3" y="557.4"/>
    <use href="#O" x="133.9" y="559.7"/>
    <use href="#B" x="128.8" y="524.4"/>
    <use href="#B" x="103.4" y="575.5"/>
    <use href="#B" x="100.3" y="594.3"/>
    <use href="#O" x="164.7" y="522.0"/>
    <use href="#B" x="122.0" y="536.8"/>
    <use href="#B" x="97.4" y="571.5"/>
    <use href="#O" x="145.0" y="512.8"/>
    <use href="#B" x="132.4" y="590.9"/>
    <use href="#O" x="118.6" y="516.1"/>
    <use href="#B" x="85.6" y="519.9"/>
    <use href="#B" x="83.5" y="544.8"/>
    <use href="#B" x="120.5" y="496.4"/>
    <use href="#O" x="138.6" y="560.2"/>
    <use href="#B" x="110.6" y="556.1"/>
    <use href="#B" x="114.3" y="529.7"/>
    <use href="#B" x="108.1" y="551.6"/>
    <use href="#O" x="140.5" y="549.0"/>
    <use href="#B" x="115.3" y="564.9"/>
    <use href="#B" x="106.6" y="587.3"/>
    <use href="#O" x="108.0" y="572.9"/>
    <use href="#B" x="103.1" y="548.2"/>
    <use href="#B" x="98.1" y="586.3"/>
    <use href="#B" x="152.1" y="544.0"/>
    <use href="#B" x="95.5" y="585.7"/>
    <use href="#B" x="173.0" y="558.6"/>
    <use href="#O" x="125.8" y="508.1"/>
    <use href="#B" x="108.9" y="562.1"/>
    <use href="#B" x="109.7" y="512.3"/>
    <use href="#O" x="107.1" y="544.6"/>
    <use href="#B" x="116.5" y="592.3"/>
    <use href="#O" x="109.9" y="509.2"/>
    <use href="#B" x="84.8" y="546.6"/>
    <use href="#B" x="116.7" y="539.6"/>
    <use href="#O" x="111.7" y="552.4"/>
    <use href="#B" x="118.1" y="593.9"/>
    <use href="#B" x="100.5" y="541.3"/>
    <use href="#O" x="160.3" y="541.8"/>
    <use href="#O" x="145.6" y="534.2"/>
    <use href="#B" x="111.7" y="551.8"/>
    <use href="#O" x="132.9" y="527.5"/>
    <use href="#B" x="107.3" y="540.2"/>
    <use href="#O" x="136.7" y="535.8"/>
    <use href="#O" x="166.0" y="559.2"/>
    <use href="#B" x="107.6" y="586.0"/>
    <use href="#B" x="132.7" y="523.1"/>
    <use href="#B" x="118.5" y="587.6"/>
    <use href="#O" x="149.1" y="488.0"/>
    <use href="#B" x="153.7" y="579.0"/>
    <use href="#O" x="128.2" y="533.7"/>
    <use href="#O" x="174.7" y="554.8"/>
    <use href="#B" x="102.3" y="588.6"/>
    <use href="#B" x="122.3" y="556.4"/>
    <use href="#B" x="93.7" y="575.3"/>
    <use href="#B" x="102.8" y="547.9"/>
    <use href="#B" x="137.8" y="587.8"/>
    <use href="#O" x="116.7" y="513.6"/>
    <use href="#B" x="82.3" y="590.2"/>
    <use href="#O" x="127.3" y="539.2"/>
    <use href="#O" x="169.7" y="564.1"/>
    <use href="#B" x="111.2" y="582.1"/>
    <use href="#B" x="108.4" y="552.6"/>
    <use href="#B" x="104.9" y="565.9"/>
    <use href="#B" x="138.4" y="533.1"/>
    <use href="#B" x="115.7" y="527.8"/>
    <use href="#O" x="172.7" y="547.0"/>
    <use href="#B" x="135.4" y="549.7"/>
    <use href="#B" x="96.8" y="553.1"/>
    <use href="#B" x="139.8" y="565.6"/>
    <use href="#B" x="102.6" y="588.8"/>
    <use href="#B" x="104.7" y="547.1"/>
    <use href="#B" x="102.1" y="574.0"/>
    <use href="#B" x="90.8" y="524.9"/>
    <use href="#B" x="118.7" y="574.4"/>
    <use href="#B" x="121.7" y="563.2"/>
    <use href="#B" x="95.7" y="585.0"/>
    <use href="#B" x="91.1" y="572.8"/>
    <use href="#O" x="121.3" y="499.2"/>
    <use href="#B" x="159.8" y="576.0"/>
    <use href="#B" x="121.9" y="532.3"/>
    <use href="#O" x="132.0" y="535.0"/>
    <use href="#B" x="112.7" y="543.8"/>
    <use href="#O" x="150.7" y="574.2"/>
    <use href="#B" x="113.1" y="510.6"/>
    <use href="#B" x="132.1" y="578.1"/>
    <use href="#B" x="105.4" y="577.4"/>
    <use href="#O" x="168.6" y="528.2"/>
    <use href="#B" x="173.2" y="527.4"/>
    <use href="#O" x="119.9" y="580.6"/>
    <use href="#B" x="124.1" y="597.8"/>
    <use href="#B" x="113.5" y="594.8"/>
    <use href="#B" x="118.9" y="530.3"/>
    <use href="#O" x="170.8" y="525.8"/>
    <use href="#B" x="104.4" y="576.2"/>
    <use href="#B" x="105.6" y="578.7"/>
    <use href="#O" x="113.6" y="553.7"/>
    <use href="#B" x="101.4" y="591.2"/>
    <use href="#B" x="108.7" y="589.7"/>
    <use href="#O" x="169.3" y="531.0"/>
    <use href="#B" x="126.1" y="546.0"/>
    <use href="#B" x="93.9" y="512.9"/>
    <use href="#B" x="128.4" y="559.6"/>
    <use href="#B" x="118.3" y="560.9"/>
    <use href="#B" x="86.3" y="573.5"/>
    <use href="#B" x="114.5" y="530.0"/>
    <use href="#B" x="107.9" y="537.1"/>
    <use href="#B" x="133.1" y="583.9"/>
    <use href="#B" x="110.0" y="590.5"/>
    <use href="#B" x="121.3" y="589.0"/>
    <use href="#B" x="134.4" y="574.9"/>
    <use href="#O" x="161.5" y="530.5"/>
    <use href="#B" x="133.7" y="517.7"/>
    <use href="#B" x="109.3" y="514.7"/>
    <use href="#O" x="114.8" y="562.4"/>
    <use href="#B" x="122.7" y="583.0"/>
    <use href="#B" x="97.0" y="548.9"/>
    <use href="#B" x="139.1" y="513.6"/>
    <use href="#O" x="117.4" y="545.8"/>
    <use href="#B" x="97.7" y="528.1"/>
    <use href="#O" x="162.6" y="515.8"/>
    <use href="#B" x="98.3" y="593.5"/>
    <use href="#B" x="111.9" y="561.6"/>
    <use href="#B" x="145.5" y="553.7"/>
    <use href="#B" x="119.1" y="518.4"/>
    <use href="#B" x="148.8" y="581.2"/>
    <use href="#B" x="113.9" y="580.0"/>
    <use href="#O" x="141.8" y="529.4"/>
    <use href="#O" x="143.7" y="521.5"/>
    <use href="#B" x="88.3" y="553.4"/>
    <use href="#O" x="121.8" y="549.4"/>
    <use href="#B" x="130.4" y="570.2"/>
    <use href="#O" x="99.2" y="530.0"/>
    <use href="#B" x="108.6" y="576.4"/>
    <use href="#B" x="100.7" y="531.0"/>
    <use href="#B" x="90.1" y="558.8"/>
    <use href="#B" x="103.0" y="581.7"/>
    <use href="#O" x="166.6" y="576.8"/>
    <use href="#B" x="147.1" y="550.7"/>
   </g>
   <g id="matplotlib.axis_25">
    <g id="xtick_37">
     <g id="line2d_93">
      <g>
       <use href="#m810af31bf4" x="105.67787" y="608.742048" style="fill: #262626; stroke: #262626; stroke-width: 1.2"/>
      </g>
     </g>
     <g id="text_18">
      <text style="font-size: 10px; text-anchor: middle; fill: #262626" x="105.67787" y="624.840486" transform="matrix(1 0 0 1.120 0 -74.981)">100</text>
     </g>
    </g>
    <g id="xtick_38">
     <g id="line2d_94">
      <g>
       <use href="#m810af31bf4" x="176.797911" y="608.742048" style="fill: #262626; stroke: #262626; stroke-width: 1.2"/>
      </g>
     </g>
     <g id="text_19">
      <text style="font-size: 10px; text-anchor: middle; fill: #262626" x="176.797911" y="624.840486" transform="matrix(1 0 0 1.120 0 -74.981)">200</text>
     </g>
    </g>
    <g id="text_20">
     <text style="font-size: 11px; text-anchor: middle; fill: #262626" x="129.076364" y="640.078454">Glucose</text>
    </g>
   </g>
   <g id="matplotlib.axis_26">
    <g id="ytick_57">
     <g id="line2d_95">
      <g>
       <use href="#m16c3d9d836" x="51.84" y="571.829722" style="fill: #262626; stroke: #262626; stroke-width: 1.2"/>
      </g>
     </g>
     <g id="text_21">
      <text style="font-size: 10px; text-anchor: end; fill: #262626" x="43.14" y="575.62894" transform="matrix(1 0 0 1.120 0 -69.075)">20</text>
     </g>
    </g>
    <g id="ytick_58">
     <g id="line2d_96">
      <g>
       <use href="#m16c3d9d836" x="51.84" y="525.105258" style="fill: #262626; stroke: #262626; stroke-width: 1.2"/>
      </g>
     </g>
     <g id="text_22">
      <text style="font-size: 10px; text-anchor: end; fill: #262626" x="43.14" y="528.904477" transform="matrix(1 0 0 1.120 0 -63.469)">40</text>
     </g>
    </g>
    <g id="ytick_59">
     <g id="line2d_97">
      <g>
       <use href="#m16c3d9d836" x="51.84" y="478.380794" style="fill: #262626; stroke: #262626; stroke-width: 1.2"/>
      </g>
     </g>
     <g id="text_23">
      <text style="font-size: 10px; text-anchor: end; fill: #262626" x="43.14" y="482.180013" transform="matrix(1 0 0 1.120 0 -57.862)">60</text>
     </g>
    </g>
    <g id="text_24">
     <text style="font-size: 11px; text-anchor: middle; fill: #262626" x="21.527344" y="536.786374" transform="rotate(-90 21.527344 536.786374)">Skin Thickness</text>
    </g>
   </g>
   <g id="patch_39">
    <path d="M 51.84 608.74 
L 51.84 464.83 
" style="fill: none; stroke: #262626; stroke-width: 1.4; stroke-linejoin: miter; stroke-linecap: square"/>
   </g>
   <g id="patch_40">
    <path d="M 51.84 608.74 
L 206.31 608.74 
" style="fill: none; stroke: #262626; stroke-width: 1.4; stroke-linejoin: miter; stroke-linecap: square"/>
   </g>
  </g>
  <g id="axes_17">
   <g id="patch_41">
    <path d="M 218.49 608.74 
L 372.96 608.74 
L 372.96 464.83 
L 218.49 464.83 
z
" style="fill: #ffffff"/>
   </g>
   <g id="PathCollection_11">
    <defs>
     <path id="Ca_0_623b9ded61" d="M 0 3 
C 0.8 3 1.56 2.68 2.12 2.12 
C 2.68 1.56 3 0.8 3 -0 
C 3 -0.8 2.68 -1.56 2.12 -2.12 
C 1.56 -2.68 0.8 -3 0 -3 
C -0.8 -3 -1.56 -2.68 -2.12 -2.12 
C -2.68 -1.56 -3 -0.8 -3 0 
C -3 0.8 -2.68 1.56 -2.12 2.12 
C -1.56 2.68 -0.8 3 0 3 
z
"/>
    </defs>
    <use href="#O" x="249.0" y="522.5"/>
    <use href="#B" x="253.7" y="575.7"/>
    <use href="#B" x="249.3" y="532.0"/>
    <use href="#B" x="254.9" y="563.7"/>
    <use href="#O" x="279.3" y="556.4"/>
    <use href="#B" x="250.8" y="575.1"/>
    <use href="#B" x="247.6" y="545.8"/>
    <use href="#B" x="253.4" y="578.4"/>
    <use href="#O" x="281.9" y="545.4"/>
    <use href="#B" x="254.4" y="550.5"/>
    <use href="#O" x="260.5" y="537.0"/>
    <use href="#B" x="251.1" y="541.8"/>
    <use href="#B" x="260.7" y="507.6"/>
    <use href="#B" x="254.6" y="566.3"/>
    <use href="#B" x="248.9" y="562.9"/>
    <use href="#B" x="263.4" y="547.5"/>
    <use href="#B" x="244.3" y="584.3"/>
    <use href="#B" x="249.4" y="548.6"/>
    <use href="#O" x="265.6" y="560.7"/>
    <use href="#O" x="271.2" y="524.1"/>
    <use href="#B" x="245.4" y="559.1"/>
    <use href="#O" x="261.8" y="541.3"/>
    <use href="#B" x="250.5" y="531.6"/>
    <use href="#B" x="279.2" y="574.6"/>
    <use href="#O" x="248.1" y="589.1"/>
    <use href="#O" x="258.5" y="539.7"/>
    <use href="#O" x="261.4" y="538.3"/>
    <use href="#B" x="255.1" y="560.4"/>
    <use href="#B" x="266.7" y="534.5"/>
    <use href="#O" x="270.8" y="525.2"/>
    <use href="#O" x="247.1" y="518.4"/>
    <use href="#O" x="270.5" y="545.0"/>
    <use href="#B" x="249.2" y="543.2"/>
    <use href="#B" x="264.2" y="555.4"/>
    <use href="#B" x="273.8" y="545.4"/>
    <use href="#B" x="271.9" y="565.2"/>
    <use href="#B" x="284.5" y="535.6"/>
    <use href="#B" x="252.0" y="561.4"/>
    <use href="#O" x="289.9" y="510.2"/>
    <use href="#O" x="255.7" y="549.8"/>
    <use href="#O" x="299.6" y="564.5"/>
    <use href="#B" x="258.5" y="569.1"/>
    <use href="#B" x="254.2" y="564.0"/>
    <use href="#B" x="249.0" y="568.7"/>
    <use href="#B" x="254.0" y="555.1"/>
    <use href="#B" x="260.1" y="528.8"/>
    <use href="#B" x="261.9" y="595.3"/>
    <use href="#O" x="280.5" y="558.1"/>
    <use href="#B" x="251.5" y="590.7"/>
    <use href="#O" x="253.2" y="547.4"/>
    <use href="#B" x="247.9" y="592.6"/>
    <use href="#B" x="266.3" y="596.7"/>
    <use href="#B" x="252.8" y="560.7"/>
    <use href="#O" x="253.5" y="557.5"/>
    <use href="#B" x="252.5" y="572.3"/>
    <use href="#O" x="257.5" y="504.0"/>
    <use href="#B" x="251.8" y="580.8"/>
    <use href="#B" x="249.0" y="564.6"/>
    <use href="#B" x="267.9" y="550.1"/>
    <use href="#O" x="274.7" y="526.3"/>
    <use href="#B" x="249.2" y="544.5"/>
    <use href="#B" x="251.4" y="572.5"/>
    <use href="#B" x="256.4" y="586.8"/>
    <use href="#B" x="264.0" y="515.9"/>
    <use href="#B" x="272.4" y="511.5"/>
    <use href="#B" x="248.5" y="561.9"/>
    <use href="#B" x="262.6" y="592.0"/>
    <use href="#B" x="261.7" y="529.1"/>
    <use href="#B" x="268.6" y="536.3"/>
    <use href="#O" x="278.1" y="514.4"/>
    <use href="#O" x="276.4" y="533.3"/>
    <use href="#B" x="254.4" y="546.4"/>
    <use href="#B" x="274.3" y="549.9"/>
    <use href="#O" x="278.7" y="537.8"/>
    <use href="#B" x="263.6" y="571.7"/>
    <use href="#O" x="251.8" y="546.6"/>
    <use href="#B" x="255.7" y="478.6"/>
    <use href="#O" x="264.5" y="538.8"/>
    <use href="#O" x="313.7" y="504.5"/>
    <use href="#B" x="263.2" y="585.3"/>
    <use href="#O" x="258.2" y="512.0"/>
    <use href="#O" x="269.3" y="515.3"/>
    <use href="#B" x="250.4" y="532.7"/>
    <use href="#O" x="259.2" y="548.6"/>
    <use href="#O" x="264.2" y="537.4"/>
    <use href="#B" x="325.9" y="541.7"/>
    <use href="#B" x="248.6" y="595.9"/>
    <use href="#O" x="267.3" y="553.1"/>
    <use href="#B" x="259.8" y="516.5"/>
    <use href="#O" x="258.2" y="511.1"/>
    <use href="#B" x="257.6" y="576.6"/>
    <use href="#B" x="257.2" y="543.5"/>
    <use href="#B" x="259.0" y="570.5"/>
    <use href="#B" x="251.3" y="591.5"/>
    <use href="#O" x="297.0" y="534.6"/>
    <use href="#B" x="251.6" y="592.9"/>
    <use href="#B" x="256.8" y="534.0"/>
    <use href="#O" x="271.8" y="546.2"/>
    <use href="#B" x="249.9" y="570.9"/>
    <use href="#B" x="270.0" y="559.9"/>
    <use href="#B" x="253.2" y="548.8"/>
    <use href="#O" x="254.4" y="520.2"/>
    <use href="#B" x="246.6" y="557.1"/>
    <use href="#B" x="254.8" y="586.5"/>
    <use href="#B" x="250.9" y="548.0"/>
    <use href="#B" x="246.3" y="593.2"/>
    <use href="#O" x="258.8" y="531.5"/>
    <use href="#B" x="248.1" y="527.1"/>
    <use href="#B" x="254.2" y="537.9"/>
    <use href="#O" x="263.3" y="532.9"/>
    <use href="#O" x="265.3" y="523.1"/>
    <use href="#B" x="259.3" y="555.7"/>
    <use href="#O" x="261.0" y="543.2"/>
    <use href="#B" x="256.0" y="562.4"/>
    <use href="#B" x="260.5" y="526.3"/>
    <use href="#B" x="253.2" y="530.7"/>
    <use href="#B" x="253.9" y="531.3"/>
    <use href="#O" x="268.2" y="563.7"/>
    <use href="#B" x="254.1" y="579.7"/>
    <use href="#O" x="252.3" y="542.3"/>
    <use href="#B" x="246.9" y="558.3"/>
    <use href="#O" x="259.6" y="492.6"/>
    <use href="#B" x="244.8" y="551.3"/>
    <use href="#B" x="244.6" y="525.9"/>
    <use href="#B" x="260.2" y="572.0"/>
    <use href="#B" x="248.6" y="576.9"/>
    <use href="#B" x="252.3" y="554.4"/>
    <use href="#O" x="272.9" y="571.5"/>
    <use href="#O" x="267.9" y="550.8"/>
    <use href="#B" x="247.4" y="533.5"/>
    <use href="#B" x="256.5" y="582.6"/>
    <use href="#B" x="246.8" y="561.2"/>
    <use href="#B" x="265.2" y="549.5"/>
    <use href="#B" x="256.7" y="523.8"/>
    <use href="#B" x="247.3" y="540.8"/>
    <use href="#B" x="263.8" y="589.3"/>
    <use href="#O" x="258.3" y="557.0"/>
    <use href="#O" x="256.2" y="561.2"/>
    <use href="#O" x="257.0" y="536.6"/>
    <use href="#B" x="249.7" y="552.9"/>
    <use href="#O" x="283.2" y="558.6"/>
    <use href="#B" x="252.1" y="529.4"/>
    <use href="#O" x="265.1" y="536.2"/>
    <use href="#O" x="256.8" y="543.7"/>
    <use href="#B" x="250.6" y="556.8"/>
    <use href="#O" x="256.5" y="524.6"/>
    <use href="#O" x="269.1" y="563.0"/>
    <use href="#B" x="267.3" y="573.3"/>
    <use href="#B" x="249.1" y="520.7"/>
    <use href="#O" x="302.1" y="578.4"/>
    <use href="#B" x="254.7" y="573.7"/>
    <use href="#B" x="246.0" y="567.1"/>
    <use href="#O" x="285.6" y="535.4"/>
    <use href="#O" x="266.8" y="554.4"/>
    <use href="#B" x="252.5" y="559.4"/>
    <use href="#O" x="260.8" y="523.6"/>
    <use href="#B" x="252.0" y="528.4"/>
    <use href="#B" x="254.5" y="546.9"/>
    <use href="#B" x="259.1" y="563.4"/>
    <use href="#B" x="253.7" y="550.9"/>
    <use href="#B" x="262.4" y="571.2"/>
    <use href="#O" x="250.2" y="555.1"/>
    <use href="#O" x="263.6" y="548.2"/>
    <use href="#B" x="261.3" y="546.2"/>
    <use href="#B" x="257.4" y="527.4"/>
    <use href="#B" x="255.9" y="517.1"/>
    <use href="#B" x="250.3" y="550.3"/>
    <use href="#B" x="251.3" y="545.2"/>
    <use href="#B" x="262.2" y="580.4"/>
    <use href="#B" x="252.3" y="554.1"/>
    <use href="#O" x="261.1" y="570.0"/>
    <use href="#B" x="248.7" y="535.0"/>
    <use href="#O" x="316.1" y="562.3"/>
    <use href="#B" x="266.5" y="560.2"/>
    <use href="#B" x="255.0" y="549.3"/>
    <use href="#B" x="258.0" y="544.3"/>
    <use href="#O" x="254.3" y="555.7"/>
    <use href="#O" x="275.3" y="551.3"/>
    <use href="#O" x="279.9" y="526.9"/>
    <use href="#O" x="258.7" y="516.9"/>
    <use href="#B" x="272.9" y="557.7"/>
    <use href="#B" x="258.1" y="545.6"/>
    <use href="#B" x="250.8" y="525.4"/>
    <use href="#O" x="260.3" y="517.7"/>
    <use href="#B" x="258.6" y="515.3"/>
    <use href="#B" x="259.6" y="521.5"/>
    <use href="#B" x="245.2" y="573.0"/>
    <use href="#B" x="287.7" y="554.7"/>
    <use href="#B" x="245.8" y="548.4"/>
    <use href="#B" x="244.4" y="599.8"/>
    <use href="#O" x="261.9" y="540.7"/>
    <use href="#B" x="253.4" y="590.0"/>
    <use href="#O" x="259.5" y="575.4"/>
    <use href="#B" x="269.1" y="568.3"/>
    <use href="#O" x="243.8" y="471.4"/>
    <use href="#O" x="262.8" y="542.8"/>
    <use href="#O" x="272.4" y="528.8"/>
    <use href="#B" x="257.5" y="587.1"/>
    <use href="#B" x="256.2" y="538.8"/>
    <use href="#O" x="254.9" y="565.5"/>
    <use href="#O" x="259.8" y="519.1"/>
    <use href="#B" x="256.9" y="589.5"/>
    <use href="#O" x="252.7" y="532.5"/>
    <use href="#B" x="246.2" y="577.9"/>
    <use href="#B" x="252.2" y="552.1"/>
    <use href="#O" x="274.1" y="506.6"/>
    <use href="#B" x="250.2" y="546.8"/>
    <use href="#O" x="254.0" y="544.2"/>
    <use href="#B" x="248.8" y="542.9"/>
    <use href="#B" x="248.4" y="588.1"/>
    <use href="#O" x="262.5" y="519.7"/>
    <use href="#O" x="244.3" y="568.3"/>
    <use href="#B" x="247.0" y="583.4"/>
    <use href="#B" x="259.5" y="562.7"/>
    <use href="#B" x="248.3" y="569.5"/>
    <use href="#O" x="263.1" y="540.2"/>
    <use href="#B" x="252.9" y="542.6"/>
    <use href="#B" x="246.5" y="577.1"/>
    <use href="#B" x="247.7" y="569.8"/>
    <use href="#B" x="258.4" y="514.2"/>
    <use href="#O" x="286.8" y="532.0"/>
    <use href="#B" x="249.4" y="549.1"/>
    <use href="#B" x="260.9" y="566.7"/>
    <use href="#B" x="247.8" y="567.5"/>
    <use href="#B" x="248.2" y="579.3"/>
    <use href="#B" x="281.9" y="542.2"/>
    <use href="#B" x="248.0" y="591.7"/>
    <use href="#B" x="291.8" y="522.4"/>
    <use href="#B" x="250.1" y="558.0"/>
    <use href="#B" x="249.6" y="545.0"/>
    <use href="#B" x="251.2" y="567.9"/>
    <use href="#B" x="269.6" y="588.3"/>
    <use href="#O" x="284.4" y="584.7"/>
    <use href="#O" x="275.8" y="520.3"/>
    <use href="#O" x="269.9" y="547.8"/>
    <use href="#B" x="258.5" y="547.3"/>
    <use href="#B" x="265.6" y="519.1"/>
    <use href="#B" x="257.6" y="577.6"/>
    <use href="#B" x="256.3" y="551.1"/>
    <use href="#O" x="253.8" y="561.8"/>
    <use href="#B" x="260.1" y="509.5"/>
    <use href="#O" x="261.6" y="550.3"/>
    <use href="#O" x="292.3" y="520.9"/>
    <use href="#B" x="244.1" y="552.3"/>
    <use href="#B" x="245.0" y="574.2"/>
    <use href="#B" x="255.4" y="584.6"/>
    <use href="#B" x="248.4" y="547.7"/>
    <use href="#O" x="266.2" y="511.1"/>
    <use href="#O" x="258.0" y="566.7"/>
    <use href="#B" x="296.0" y="526.7"/>
    <use href="#O" x="250.8" y="551.9"/>
    <use href="#O" x="262.1" y="593.6"/>
    <use href="#B" x="264.6" y="564.3"/>
    <use href="#B" x="258.9" y="557.4"/>
    <use href="#O" x="254.6" y="559.7"/>
    <use href="#B" x="254.3" y="524.4"/>
    <use href="#B" x="258.8" y="575.5"/>
    <use href="#B" x="266.9" y="594.3"/>
    <use href="#O" x="263.9" y="522.0"/>
    <use href="#B" x="271.5" y="536.8"/>
    <use href="#B" x="254.6" y="571.5"/>
    <use href="#O" x="257.3" y="512.8"/>
    <use href="#B" x="262.8" y="590.9"/>
    <use href="#O" x="264.8" y="516.1"/>
    <use href="#B" x="249.6" y="519.9"/>
    <use href="#B" x="246.9" y="544.8"/>
    <use href="#B" x="261.5" y="496.4"/>
    <use href="#O" x="245.3" y="560.2"/>
    <use href="#B" x="250.6" y="556.1"/>
    <use href="#B" x="256.1" y="529.7"/>
    <use href="#B" x="255.6" y="551.6"/>
    <use href="#O" x="277.0" y="549.0"/>
    <use href="#B" x="258.7" y="564.9"/>
    <use href="#B" x="258.2" y="587.3"/>
    <use href="#O" x="281.0" y="572.9"/>
    <use href="#B" x="275.1" y="548.2"/>
    <use href="#B" x="246.7" y="586.3"/>
    <use href="#B" x="267.5" y="544.0"/>
    <use href="#B" x="264.4" y="585.7"/>
    <use href="#B" x="305.8" y="558.6"/>
    <use href="#O" x="268.5" y="508.1"/>
    <use href="#B" x="277.8" y="562.1"/>
    <use href="#B" x="256.6" y="512.3"/>
    <use href="#O" x="253.0" y="544.6"/>
    <use href="#B" x="270.5" y="592.3"/>
    <use href="#O" x="255.1" y="509.2"/>
    <use href="#B" x="248.8" y="546.6"/>
    <use href="#B" x="258.3" y="539.6"/>
    <use href="#O" x="249.7" y="552.4"/>
    <use href="#B" x="260.0" y="593.9"/>
    <use href="#B" x="250.0" y="541.3"/>
    <use href="#O" x="255.9" y="541.8"/>
    <use href="#O" x="257.7" y="534.2"/>
    <use href="#B" x="267.1" y="551.8"/>
    <use href="#O" x="294.6" y="527.5"/>
    <use href="#B" x="251.8" y="540.2"/>
    <use href="#O" x="270.2" y="535.8"/>
    <use href="#O" x="260.0" y="559.2"/>
    <use href="#B" x="271.0" y="586.0"/>
    <use href="#B" x="255.3" y="523.1"/>
    <use href="#B" x="253.6" y="587.6"/>
    <use href="#O" x="254.4" y="488.0"/>
    <use href="#B" x="250.7" y="579.0"/>
    <use href="#O" x="267.1" y="533.7"/>
    <use href="#O" x="308.9" y="554.8"/>
    <use href="#B" x="251.0" y="588.6"/>
    <use href="#B" x="257.0" y="556.4"/>
    <use href="#B" x="253.0" y="575.3"/>
    <use href="#B" x="255.2" y="547.9"/>
    <use href="#B" x="253.8" y="587.8"/>
    <use href="#O" x="257.9" y="513.6"/>
    <use href="#B" x="252.7" y="590.2"/>
    <use href="#O" x="259.0" y="539.2"/>
    <use href="#O" x="345.8" y="564.1"/>
    <use href="#B" x="251.1" y="582.1"/>
    <use href="#B" x="249.9" y="552.6"/>
    <use href="#B" x="253.5" y="565.9"/>
    <use href="#B" x="263.0" y="533.1"/>
    <use href="#B" x="260.3" y="527.8"/>
    <use href="#O" x="273.5" y="547.0"/>
    <use href="#B" x="259.3" y="549.7"/>
    <use href="#B" x="253.9" y="553.1"/>
    <use href="#B" x="300.1" y="565.6"/>
    <use href="#B" x="248.0" y="588.8"/>
    <use href="#B" x="259.7" y="547.1"/>
    <use href="#B" x="256.0" y="574.0"/>
    <use href="#B" x="247.2" y="524.9"/>
    <use href="#B" x="255.1" y="574.4"/>
    <use href="#B" x="257.3" y="563.2"/>
    <use href="#B" x="265.4" y="585.0"/>
    <use href="#B" x="247.1" y="572.8"/>
    <use href="#O" x="269.1" y="499.2"/>
    <use href="#B" x="257.7" y="576.0"/>
    <use href="#B" x="265.0" y="532.3"/>
    <use href="#O" x="259.3" y="535.0"/>
    <use href="#B" x="252.4" y="543.8"/>
    <use href="#O" x="260.6" y="574.2"/>
    <use href="#B" x="249.5" y="510.6"/>
    <use href="#B" x="261.1" y="578.1"/>
    <use href="#B" x="253.0" y="577.4"/>
    <use href="#O" x="261.3" y="528.2"/>
    <use href="#B" x="333.9" y="527.4"/>
    <use href="#O" x="262.3" y="580.6"/>
    <use href="#B" x="250.1" y="597.8"/>
    <use href="#B" x="253.3" y="594.8"/>
    <use href="#B" x="271.5" y="530.3"/>
    <use href="#O" x="288.1" y="525.8"/>
    <use href="#B" x="251.9" y="576.2"/>
    <use href="#B" x="250.4" y="578.7"/>
    <use href="#O" x="269.6" y="553.7"/>
    <use href="#B" x="259.4" y="591.2"/>
    <use href="#B" x="273.4" y="589.7"/>
    <use href="#O" x="260.1" y="531.0"/>
    <use href="#B" x="268.3" y="546.0"/>
    <use href="#B" x="257.8" y="512.9"/>
    <use href="#B" x="255.5" y="559.6"/>
    <use href="#B" x="257.9" y="560.9"/>
    <use href="#B" x="245.6" y="573.5"/>
    <use href="#B" x="259.9" y="530.0"/>
    <use href="#B" x="253.1" y="537.1"/>
    <use href="#B" x="268.1" y="583.9"/>
    <use href="#B" x="255.8" y="590.5"/>
    <use href="#B" x="252.6" y="589.0"/>
    <use href="#B" x="276.5" y="574.9"/>
    <use href="#O" x="277.6" y="530.5"/>
    <use href="#B" x="267.7" y="517.7"/>
    <use href="#B" x="283.2" y="514.7"/>
    <use href="#O" x="255.4" y="562.4"/>
    <use href="#B" x="252.7" y="583.0"/>
    <use href="#B" x="260.4" y="548.9"/>
    <use href="#B" x="257.1" y="513.6"/>
    <use href="#O" x="251.3" y="545.8"/>
    <use href="#B" x="251.7" y="528.1"/>
    <use href="#O" x="305.2" y="515.8"/>
    <use href="#B" x="247.8" y="593.5"/>
    <use href="#B" x="266.1" y="561.6"/>
    <use href="#B" x="248.2" y="553.7"/>
    <use href="#B" x="249.8" y="518.4"/>
    <use href="#B" x="280.5" y="581.2"/>
    <use href="#B" x="255.7" y="580.0"/>
    <use href="#O" x="268.8" y="529.4"/>
    <use href="#O" x="265.9" y="521.5"/>
    <use href="#B" x="249.7" y="553.4"/>
    <use href="#O" x="246.2" y="549.4"/>
    <use href="#B" x="265.9" y="570.2"/>
    <use href="#O" x="267.6" y="530.0"/>
    <use href="#B" x="247.5" y="576.4"/>
    <use href="#B" x="259.2" y="531.0"/>
    <use href="#B" x="251.5" y="558.8"/>
    <use href="#B" x="256.8" y="581.7"/>
    <use href="#O" x="266.5" y="576.8"/>
    <use href="#B" x="264.8" y="550.7"/>
   </g>
   <g id="matplotlib.axis_27">
    <g id="xtick_39">
     <g id="line2d_98">
      <g>
       <use href="#m810af31bf4" x="242.129808" y="608.742048" style="fill: #262626; stroke: #262626; stroke-width: 1.2"/>
      </g>
     </g>
     <g id="text_25">
      <text style="font-size: 10px; text-anchor: middle; fill: #262626" x="242.129808" y="624.840486" transform="matrix(1 0 0 1.120 0 -74.981)">0</text>
     </g>
    </g>
    <g id="xtick_40">
     <g id="line2d_99">
      <g>
       <use href="#m810af31bf4" x="303.379898" y="608.742048" style="fill: #262626; stroke: #262626; stroke-width: 1.2"/>
      </g>
     </g>
     <g id="text_26">
      <text style="font-size: 10px; text-anchor: middle; fill: #262626" x="303.379898" y="624.840486" transform="matrix(1 0 0 1.120 0 -74.981)">500</text>
     </g>
    </g>
    <g id="xtick_41">
     <g id="line2d_100">
      <g>
       <use href="#m810af31bf4" x="364.629988" y="608.742048" style="fill: #262626; stroke: #262626; stroke-width: 1.2"/>
      </g>
     </g>
     <g id="text_27">
      <text style="font-size: 10px; text-anchor: middle; fill: #262626" x="364.629988" y="624.840486" transform="matrix(1 0 0 1.120 0 -74.981)">1000</text>
     </g>
    </g>
    <g id="text_28">
     <text style="font-size: 11px; text-anchor: middle; fill: #262626" x="295.723636" y="640.078454">Insulin</text>
    </g>
   </g>
   <g id="matplotlib.axis_28">
    <g id="ytick_60">
     <g id="line2d_101">
      <g>
       <use href="#m16c3d9d836" x="218.487273" y="571.829722" style="fill: #262626; stroke: #262626; stroke-width: 1.2"/>
      </g>
     </g>
    </g>
    <g id="ytick_61">
     <g id="line2d_102">
      <g>
       <use href="#m16c3d9d836" x="218.487273" y="525.105258" style="fill: #262626; stroke: #262626; stroke-width: 1.2"/>
      </g>
     </g>
    </g>
    <g id="ytick_62">
     <g id="line2d_103">
      <g>
       <use href="#m16c3d9d836" x="218.487273" y="478.380794" style="fill: #262626; stroke: #262626; stroke-width: 1.2"/>
      </g>
     </g>
    </g>
   </g>
   <g id="patch_42">
    <path d="M 218.49 608.74 
L 218.49 464.83 
" style="fill: none; stroke: #262626; stroke-width: 1.4; stroke-linejoin: miter; stroke-linecap: square"/>
   </g>
   <g id="patch_43">
    <path d="M 218.49 608.74 
L 372.96 608.74 
" style="fill: none; stroke: #262626; stroke-width: 1.4; stroke-linejoin: miter; stroke-linecap: square"/>
   </g>
  </g>
  <g id="axes_18">
   <g id="patch_44">
    <path d="M 385.13 608.74 
L 539.61 608.74 
L 539.61 464.83 
L 385.13 464.83 
z
" style="fill: #ffffff"/>
   </g>
   <g id="PathCollection_12">
    <defs>
     <path id="Cb_0_623b9ded61" d="M 0 3 
C 0.8 3 1.56 2.68 2.12 2.12 
C 2.68 1.56 3 0.8 3 -0 
C 3 -0.8 2.68 -1.56 2.12 -2.12 
C 1.56 -2.68 0.8 -3 0 -3 
C -0.8 -3 -1.56 -2.68 -2.12 -2.12 
C -2.68 -1.56 -3 -0.8 -3 0 
C -3 0.8 -2.68 1.56 -2.12 2.12 
C -1.56 2.68 -0.8 3 0 3 
z
"/>
    </defs>
    <use href="#O" x="442.2" y="522.5"/>
    <use href="#B" x="419.7" y="575.7"/>
    <use href="#B" x="445.6" y="532.0"/>
    <use href="#B" x="437.4" y="563.7"/>
    <use href="#O" x="436.3" y="556.4"/>
    <use href="#B" x="419.5" y="575.1"/>
    <use href="#B" x="466.8" y="545.8"/>
    <use href="#B" x="439.6" y="578.4"/>
    <use href="#O" x="468.1" y="545.4"/>
    <use href="#B" x="447.6" y="550.5"/>
    <use href="#O" x="458.9" y="537.0"/>
    <use href="#B" x="434.4" y="541.8"/>
    <use href="#B" x="439.7" y="507.6"/>
    <use href="#B" x="432.8" y="566.3"/>
    <use href="#B" x="424.1" y="562.9"/>
    <use href="#B" x="446.8" y="547.5"/>
    <use href="#B" x="412.8" y="584.3"/>
    <use href="#B" x="436.9" y="548.6"/>
    <use href="#O" x="427.6" y="560.7"/>
    <use href="#O" x="431.1" y="524.1"/>
    <use href="#B" x="454.7" y="559.1"/>
    <use href="#O" x="432.4" y="541.3"/>
    <use href="#B" x="438.0" y="531.6"/>
    <use href="#B" x="421.5" y="574.6"/>
    <use href="#O" x="445.0" y="589.1"/>
    <use href="#O" x="443.9" y="539.7"/>
    <use href="#O" x="432.9" y="538.3"/>
    <use href="#B" x="422.6" y="560.4"/>
    <use href="#B" x="442.0" y="534.5"/>
    <use href="#O" x="450.0" y="525.2"/>
    <use href="#O" x="457.6" y="518.4"/>
    <use href="#O" x="441.3" y="545.0"/>
    <use href="#B" x="444.8" y="543.2"/>
    <use href="#B" x="447.4" y="555.4"/>
    <use href="#B" x="433.9" y="545.4"/>
    <use href="#B" x="434.1" y="565.2"/>
    <use href="#B" x="448.1" y="535.6"/>
    <use href="#B" x="416.2" y="561.4"/>
    <use href="#O" x="445.3" y="510.2"/>
    <use href="#O" x="438.7" y="549.8"/>
    <use href="#O" x="461.3" y="564.5"/>
    <use href="#B" x="441.4" y="569.1"/>
    <use href="#B" x="424.2" y="564.0"/>
    <use href="#B" x="435.3" y="568.7"/>
    <use href="#B" x="444.5" y="555.1"/>
    <use href="#B" x="429.7" y="528.8"/>
    <use href="#B" x="428.6" y="595.3"/>
    <use href="#O" x="425.0" y="558.1"/>
    <use href="#B" x="427.7" y="590.7"/>
    <use href="#O" x="459.8" y="547.4"/>
    <use href="#B" x="425.8" y="592.6"/>
    <use href="#B" x="416.0" y="596.7"/>
    <use href="#B" x="439.9" y="560.7"/>
    <use href="#O" x="428.0" y="557.5"/>
    <use href="#B" x="449.1" y="572.3"/>
    <use href="#O" x="457.1" y="504.0"/>
    <use href="#B" x="436.7" y="580.8"/>
    <use href="#B" x="421.0" y="564.6"/>
    <use href="#B" x="442.7" y="550.1"/>
    <use href="#O" x="433.3" y="526.3"/>
    <use href="#B" x="441.0" y="544.5"/>
    <use href="#B" x="437.3" y="572.5"/>
    <use href="#B" x="411.6" y="586.8"/>
    <use href="#B" x="451.2" y="515.9"/>
    <use href="#B" x="460.0" y="511.5"/>
    <use href="#B" x="413.3" y="561.9"/>
    <use href="#B" x="434.7" y="592.0"/>
    <use href="#B" x="437.0" y="529.1"/>
    <use href="#B" x="427.0" y="536.3"/>
    <use href="#O" x="503.8" y="514.4"/>
    <use href="#O" x="439.7" y="533.3"/>
    <use href="#B" x="419.0" y="546.4"/>
    <use href="#B" x="430.8" y="549.9"/>
    <use href="#O" x="442.4" y="537.8"/>
    <use href="#B" x="418.8" y="571.7"/>
    <use href="#O" x="434.8" y="546.6"/>
    <use href="#B" x="469.9" y="478.6"/>
    <use href="#O" x="449.4" y="538.8"/>
    <use href="#O" x="461.2" y="504.5"/>
    <use href="#B" x="434.2" y="585.3"/>
    <use href="#O" x="463.0" y="512.0"/>
    <use href="#O" x="454.5" y="515.3"/>
    <use href="#B" x="441.2" y="532.7"/>
    <use href="#O" x="440.4" y="548.6"/>
    <use href="#O" x="427.1" y="537.4"/>
    <use href="#B" x="482.4" y="541.7"/>
    <use href="#B" x="417.2" y="595.9"/>
    <use href="#O" x="440.7" y="553.1"/>
    <use href="#B" x="444.2" y="516.5"/>
    <use href="#O" x="514.8" y="511.1"/>
    <use href="#B" x="434.9" y="576.6"/>
    <use href="#B" x="447.1" y="543.5"/>
    <use href="#B" x="425.5" y="570.5"/>
    <use href="#B" x="426.9" y="591.5"/>
    <use href="#O" x="443.5" y="534.6"/>
    <use href="#B" x="421.6" y="592.9"/>
    <use href="#B" x="438.9" y="534.0"/>
    <use href="#O" x="448.9" y="546.2"/>
    <use href="#B" x="451.4" y="570.9"/>
    <use href="#B" x="419.8" y="559.9"/>
    <use href="#B" x="429.9" y="548.8"/>
    <use href="#O" x="488.1" y="520.2"/>
    <use href="#B" x="430.3" y="557.1"/>
    <use href="#B" x="424.9" y="586.5"/>
    <use href="#B" x="431.7" y="548.0"/>
    <use href="#B" x="410.2" y="593.2"/>
    <use href="#O" x="445.9" y="531.5"/>
    <use href="#B" x="456.4" y="527.1"/>
    <use href="#B" x="435.2" y="537.9"/>
    <use href="#O" x="441.9" y="532.9"/>
    <use href="#O" x="444.3" y="523.1"/>
    <use href="#B" x="438.4" y="555.7"/>
    <use href="#O" x="458.2" y="543.2"/>
    <use href="#B" x="420.4" y="562.4"/>
    <use href="#B" x="450.9" y="526.3"/>
    <use href="#B" x="444.0" y="530.7"/>
    <use href="#B" x="449.4" y="531.3"/>
    <use href="#O" x="412.1" y="563.7"/>
    <use href="#B" x="426.0" y="579.7"/>
    <use href="#O" x="435.8" y="542.3"/>
    <use href="#B" x="426.7" y="558.3"/>
    <use href="#O" x="469.5" y="492.6"/>
    <use href="#B" x="422.1" y="551.3"/>
    <use href="#B" x="435.7" y="525.9"/>
    <use href="#B" x="418.0" y="572.0"/>
    <use href="#B" x="427.4" y="576.9"/>
    <use href="#B" x="425.2" y="554.4"/>
    <use href="#O" x="419.8" y="571.5"/>
    <use href="#O" x="436.0" y="550.8"/>
    <use href="#B" x="450.4" y="533.5"/>
    <use href="#B" x="454.0" y="582.6"/>
    <use href="#B" x="420.7" y="561.2"/>
    <use href="#B" x="430.5" y="549.5"/>
    <use href="#B" x="440.6" y="523.8"/>
    <use href="#B" x="460.8" y="540.8"/>
    <use href="#B" x="433.5" y="589.3"/>
    <use href="#O" x="443.3" y="557.0"/>
    <use href="#O" x="442.9" y="561.2"/>
    <use href="#O" x="437.6" y="536.6"/>
    <use href="#B" x="456.0" y="552.9"/>
    <use href="#O" x="453.5" y="558.6"/>
    <use href="#B" x="440.2" y="529.4"/>
    <use href="#O" x="466.2" y="536.2"/>
    <use href="#O" x="445.7" y="543.7"/>
    <use href="#B" x="448.4" y="556.8"/>
    <use href="#O" x="455.4" y="524.6"/>
    <use href="#O" x="443.7" y="563.0"/>
    <use href="#B" x="415.0" y="573.3"/>
    <use href="#B" x="468.7" y="520.7"/>
    <use href="#O" x="434.0" y="578.4"/>
    <use href="#B" x="446.6" y="573.7"/>
    <use href="#B" x="419.2" y="567.1"/>
    <use href="#O" x="435.6" y="535.4"/>
    <use href="#O" x="431.8" y="554.4"/>
    <use href="#B" x="449.6" y="559.4"/>
    <use href="#O" x="446.9" y="523.6"/>
    <use href="#B" x="440.9" y="528.4"/>
    <use href="#B" x="439.4" y="546.9"/>
    <use href="#B" x="432.4" y="563.4"/>
    <use href="#B" x="441.3" y="550.9"/>
    <use href="#B" x="445.3" y="571.2"/>
    <use href="#O" x="444.8" y="555.1"/>
    <use href="#O" x="433.7" y="548.2"/>
    <use href="#B" x="453.2" y="546.2"/>
    <use href="#B" x="454.3" y="527.4"/>
    <use href="#B" x="442.4" y="517.1"/>
    <use href="#B" x="436.2" y="550.3"/>
    <use href="#B" x="463.4" y="545.2"/>
    <use href="#B" x="432.0" y="580.4"/>
    <use href="#B" x="427.8" y="554.1"/>
    <use href="#O" x="436.7" y="570.0"/>
    <use href="#B" x="458.5" y="535.0"/>
    <use href="#O" x="430.7" y="562.3"/>
    <use href="#B" x="431.6" y="560.2"/>
    <use href="#B" x="431.0" y="549.3"/>
    <use href="#B" x="433.3" y="544.3"/>
    <use href="#O" x="447.9" y="555.7"/>
    <use href="#O" x="444.6" y="551.3"/>
    <use href="#O" x="452.3" y="526.9"/>
    <use href="#O" x="444.4" y="516.9"/>
    <use href="#B" x="435.6" y="557.7"/>
    <use href="#B" x="440.3" y="545.6"/>
    <use href="#B" x="453.0" y="525.4"/>
    <use href="#O" x="454.0" y="517.7"/>
    <use href="#B" x="440.4" y="515.3"/>
    <use href="#B" x="462.5" y="521.5"/>
    <use href="#B" x="424.6" y="573.0"/>
    <use href="#B" x="437.7" y="554.7"/>
    <use href="#B" x="456.8" y="548.4"/>
    <use href="#B" x="407.9" y="599.8"/>
    <use href="#O" x="446.1" y="540.7"/>
    <use href="#B" x="430.0" y="590.0"/>
    <use href="#O" x="422.1" y="575.4"/>
    <use href="#B" x="439.3" y="568.3"/>
    <use href="#O" x="497.8" y="471.4"/>
    <use href="#O" x="438.4" y="542.8"/>
    <use href="#O" x="456.2" y="528.8"/>
    <use href="#B" x="421.3" y="587.1"/>
    <use href="#B" x="455.1" y="538.8"/>
    <use href="#O" x="426.3" y="565.5"/>
    <use href="#O" x="508.8" y="519.1"/>
    <use href="#B" x="433.0" y="589.5"/>
    <use href="#O" x="428.5" y="532.5"/>
    <use href="#B" x="412.2" y="577.9"/>
    <use href="#B" x="452.7" y="552.1"/>
    <use href="#O" x="450.7" y="506.6"/>
    <use href="#B" x="425.6" y="546.8"/>
    <use href="#O" x="437.4" y="544.2"/>
    <use href="#B" x="438.7" y="542.9"/>
    <use href="#B" x="421.8" y="588.1"/>
    <use href="#O" x="474.5" y="519.7"/>
    <use href="#O" x="414.4" y="568.3"/>
    <use href="#B" x="429.2" y="583.4"/>
    <use href="#B" x="435.4" y="562.7"/>
    <use href="#B" x="423.8" y="569.5"/>
    <use href="#O" x="442.7" y="540.2"/>
    <use href="#B" x="428.3" y="542.6"/>
    <use href="#B" x="426.6" y="577.1"/>
    <use href="#B" x="438.3" y="569.8"/>
    <use href="#B" x="447.9" y="514.2"/>
    <use href="#O" x="435.3" y="532.0"/>
    <use href="#B" x="440.7" y="549.1"/>
    <use href="#B" x="429.4" y="566.7"/>
    <use href="#B" x="423.9" y="567.5"/>
    <use href="#B" x="433.1" y="579.3"/>
    <use href="#B" x="457.3" y="542.2"/>
    <use href="#B" x="409.4" y="591.7"/>
    <use href="#B" x="433.8" y="522.4"/>
    <use href="#B" x="427.5" y="558.0"/>
    <use href="#B" x="443.4" y="545.0"/>
    <use href="#B" x="429.1" y="567.9"/>
    <use href="#B" x="414.5" y="588.3"/>
    <use href="#O" x="425.9" y="584.7"/>
    <use href="#O" x="451.5" y="520.3"/>
    <use href="#O" x="446.7" y="547.8"/>
    <use href="#B" x="444.3" y="547.3"/>
    <use href="#B" x="423.5" y="519.1"/>
    <use href="#B" x="424.4" y="577.6"/>
    <use href="#B" x="426.3" y="551.1"/>
    <use href="#O" x="456.6" y="561.8"/>
    <use href="#B" x="461.7" y="509.5"/>
    <use href="#O" x="447.1" y="550.3"/>
    <use href="#O" x="465.3" y="520.9"/>
    <use href="#B" x="422.7" y="552.3"/>
    <use href="#B" x="416.5" y="574.2"/>
    <use href="#B" x="423.6" y="584.6"/>
    <use href="#B" x="430.6" y="547.7"/>
    <use href="#O" x="443.1" y="511.1"/>
    <use href="#O" x="437.2" y="566.7"/>
    <use href="#B" x="459.0" y="526.7"/>
    <use href="#O" x="430.4" y="551.9"/>
    <use href="#O" x="434.3" y="593.6"/>
    <use href="#B" x="422.9" y="564.3"/>
    <use href="#B" x="438.2" y="557.4"/>
    <use href="#O" x="434.6" y="559.7"/>
    <use href="#B" x="428.0" y="524.4"/>
    <use href="#B" x="425.3" y="575.5"/>
    <use href="#B" x="435.9" y="594.3"/>
    <use href="#O" x="445.5" y="522.0"/>
    <use href="#B" x="493.2" y="536.8"/>
    <use href="#B" x="437.6" y="571.5"/>
    <use href="#O" x="447.3" y="512.8"/>
    <use href="#B" x="421.2" y="590.9"/>
    <use href="#O" x="436.5" y="516.1"/>
    <use href="#B" x="433.6" y="519.9"/>
    <use href="#B" x="443.0" y="544.8"/>
    <use href="#B" x="472.1" y="496.4"/>
    <use href="#O" x="441.0" y="560.2"/>
    <use href="#B" x="436.0" y="556.1"/>
    <use href="#B" x="443.3" y="529.7"/>
    <use href="#B" x="450.2" y="551.6"/>
    <use href="#O" x="467.1" y="549.0"/>
    <use href="#B" x="422.3" y="564.9"/>
    <use href="#B" x="442.9" y="587.3"/>
    <use href="#O" x="447.6" y="572.9"/>
    <use href="#B" x="464.2" y="548.2"/>
    <use href="#B" x="417.7" y="586.3"/>
    <use href="#B" x="434.5" y="544.0"/>
    <use href="#B" x="423.2" y="585.7"/>
    <use href="#B" x="443.7" y="558.6"/>
    <use href="#O" x="481.7" y="508.1"/>
    <use href="#B" x="442.3" y="562.1"/>
    <use href="#B" x="441.6" y="512.3"/>
    <use href="#O" x="491.7" y="544.6"/>
    <use href="#B" x="432.5" y="592.3"/>
    <use href="#O" x="448.5" y="509.2"/>
    <use href="#B" x="458.1" y="546.6"/>
    <use href="#B" x="459.4" y="539.6"/>
    <use href="#O" x="439.0" y="552.4"/>
    <use href="#B" x="431.3" y="593.9"/>
    <use href="#B" x="452.2" y="541.3"/>
    <use href="#O" x="423.2" y="541.8"/>
    <use href="#O" x="464.2" y="534.2"/>
    <use href="#B" x="467.6" y="551.8"/>
    <use href="#O" x="416.4" y="527.5"/>
    <use href="#B" x="413.9" y="540.2"/>
    <use href="#O" x="446.2" y="535.8"/>
    <use href="#O" x="444.1" y="559.2"/>
    <use href="#B" x="428.1" y="586.0"/>
    <use href="#B" x="448.9" y="523.1"/>
    <use href="#B" x="416.7" y="587.6"/>
    <use href="#O" x="484.8" y="488.0"/>
    <use href="#B" x="417.5" y="579.0"/>
    <use href="#O" x="438.2" y="533.7"/>
    <use href="#O" x="434.7" y="554.8"/>
    <use href="#B" x="423.3" y="588.6"/>
    <use href="#B" x="435.0" y="556.4"/>
    <use href="#B" x="431.4" y="575.3"/>
    <use href="#B" x="450.7" y="547.9"/>
    <use href="#B" x="418.5" y="587.8"/>
    <use href="#O" x="446.4" y="513.6"/>
    <use href="#B" x="415.6" y="590.2"/>
    <use href="#O" x="437.9" y="539.2"/>
    <use href="#O" x="434.0" y="564.1"/>
    <use href="#B" x="420.6" y="582.1"/>
    <use href="#B" x="437.2" y="552.6"/>
    <use href="#B" x="443.9" y="565.9"/>
    <use href="#B" x="436.3" y="533.1"/>
    <use href="#B" x="437.9" y="527.8"/>
    <use href="#O" x="425.4" y="547.0"/>
    <use href="#B" x="428.5" y="549.7"/>
    <use href="#B" x="428.8" y="553.1"/>
    <use href="#B" x="426.4" y="565.6"/>
    <use href="#B" x="417.0" y="588.8"/>
    <use href="#B" x="441.7" y="547.1"/>
    <use href="#B" x="419.4" y="574.0"/>
    <use href="#B" x="445.8" y="524.9"/>
    <use href="#B" x="420.3" y="574.4"/>
    <use href="#B" x="442.2" y="563.2"/>
    <use href="#B" x="439.0" y="585.0"/>
    <use href="#B" x="410.9" y="572.8"/>
    <use href="#O" x="476.7" y="499.2"/>
    <use href="#B" x="436.6" y="576.0"/>
    <use href="#B" x="453.5" y="532.3"/>
    <use href="#O" x="426.7" y="535.0"/>
    <use href="#B" x="457.7" y="543.8"/>
    <use href="#O" x="455.8" y="574.2"/>
    <use href="#B" x="465.9" y="510.6"/>
    <use href="#B" x="446.3" y="578.1"/>
    <use href="#B" x="446.1" y="577.4"/>
    <use href="#O" x="429.1" y="528.2"/>
    <use href="#B" x="448.5" y="527.4"/>
    <use href="#O" x="423.9" y="580.6"/>
    <use href="#B" x="408.6" y="597.8"/>
    <use href="#B" x="432.7" y="594.8"/>
    <use href="#B" x="465.1" y="530.3"/>
    <use href="#O" x="454.9" y="525.8"/>
    <use href="#B" x="423.0" y="576.2"/>
    <use href="#B" x="422.4" y="578.7"/>
    <use href="#O" x="448.2" y="553.7"/>
    <use href="#B" x="420.1" y="591.2"/>
    <use href="#B" x="429.5" y="589.7"/>
    <use href="#O" x="435.1" y="531.0"/>
    <use href="#B" x="431.9" y="546.0"/>
    <use href="#B" x="455.6" y="512.9"/>
    <use href="#B" x="443.2" y="559.6"/>
    <use href="#B" x="418.3" y="560.9"/>
    <use href="#B" x="445.1" y="573.5"/>
    <use href="#B" x="427.2" y="530.0"/>
    <use href="#B" x="448.6" y="537.1"/>
    <use href="#B" x="441.9" y="583.9"/>
    <use href="#B" x="426.1" y="590.5"/>
    <use href="#B" x="424.7" y="589.0"/>
    <use href="#B" x="422.0" y="574.9"/>
    <use href="#O" x="441.6" y="530.5"/>
    <use href="#B" x="442.6" y="517.7"/>
    <use href="#B" x="475.5" y="514.7"/>
    <use href="#O" x="424.5" y="562.4"/>
    <use href="#B" x="420.9" y="583.0"/>
    <use href="#B" x="430.2" y="548.9"/>
    <use href="#B" x="439.2" y="513.6"/>
    <use href="#O" x="439.3" y="545.8"/>
    <use href="#B" x="451.7" y="528.1"/>
    <use href="#O" x="462.9" y="515.8"/>
    <use href="#B" x="420.0" y="593.5"/>
    <use href="#B" x="428.9" y="561.6"/>
    <use href="#B" x="452.4" y="553.7"/>
    <use href="#B" x="440.0" y="518.4"/>
    <use href="#B" x="431.1" y="581.2"/>
    <use href="#B" x="432.2" y="580.0"/>
    <use href="#O" x="436.9" y="529.4"/>
    <use href="#O" x="452.9" y="521.5"/>
    <use href="#B" x="438.6" y="553.4"/>
    <use href="#O" x="429.7" y="549.4"/>
    <use href="#B" x="436.4" y="570.2"/>
    <use href="#O" x="445.2" y="530.0"/>
    <use href="#B" x="425.0" y="576.4"/>
    <use href="#B" x="449.9" y="531.0"/>
    <use href="#B" x="443.6" y="558.8"/>
    <use href="#B" x="453.7" y="581.7"/>
    <use href="#O" x="440.0" y="576.8"/>
    <use href="#B" x="451.9" y="550.7"/>
   </g>
   <g id="matplotlib.axis_29">
    <g id="xtick_42">
     <g id="line2d_104">
      <g>
       <use href="#m810af31bf4" x="411.427776" y="608.742048" style="fill: #262626; stroke: #262626; stroke-width: 1.2"/>
      </g>
     </g>
     <g id="text_29">
      <text style="font-size: 10px; text-anchor: middle; fill: #262626" x="411.427776" y="624.840486" transform="matrix(1 0 0 1.120 0 -74.981)">20</text>
     </g>
    </g>
    <g id="xtick_43">
     <g id="line2d_105">
      <g>
       <use href="#m810af31bf4" x="455.249826" y="608.742048" style="fill: #262626; stroke: #262626; stroke-width: 1.2"/>
      </g>
     </g>
     <g id="text_30">
      <text style="font-size: 10px; text-anchor: middle; fill: #262626" x="455.249826" y="624.840486" transform="matrix(1 0 0 1.120 0 -74.981)">40</text>
     </g>
    </g>
    <g id="xtick_44">
     <g id="line2d_106">
      <g>
       <use href="#m810af31bf4" x="499.071876" y="608.742048" style="fill: #262626; stroke: #262626; stroke-width: 1.2"/>
      </g>
     </g>
     <g id="text_31">
      <text style="font-size: 10px; text-anchor: middle; fill: #262626" x="499.071876" y="624.840486" transform="matrix(1 0 0 1.120 0 -74.981)">60</text>
     </g>
    </g>
    <g id="text_32">
     <text style="font-size: 11px; text-anchor: middle; fill: #262626" x="462.370909" y="640.078454">BMI</text>
    </g>
   </g>
   <g id="matplotlib.axis_30">
    <g id="ytick_63">
     <g id="line2d_107">
      <g>
       <use href="#m16c3d9d836" x="385.134545" y="571.829722" style="fill: #262626; stroke: #262626; stroke-width: 1.2"/>
      </g>
     </g>
    </g>
    <g id="ytick_64">
     <g id="line2d_108">
      <g>
       <use href="#m16c3d9d836" x="385.134545" y="525.105258" style="fill: #262626; stroke: #262626; stroke-width: 1.2"/>
      </g>
     </g>
    </g>
    <g id="ytick_65">
     <g id="line2d_109">
      <g>
       <use href="#m16c3d9d836" x="385.134545" y="478.380794" style="fill: #262626; stroke: #262626; stroke-width: 1.2"/>
      </g>
     </g>
    </g>
   </g>
   <g id="patch_45">
    <path d="M 385.13 608.74 
L 385.13 464.83 
" style="fill: none; stroke: #262626; stroke-width: 1.4; stroke-linejoin: miter; stroke-linecap: square"/>
   </g>
   <g id="patch_46">
    <path d="M 385.13 608.74 
L 539.61 608.74 
" style="fill: none; stroke: #262626; stroke-width: 1.4; stroke-linejoin: miter; stroke-linecap: square"/>
   </g>
  </g>
  <g id="axes_19">
   <g id="patch_47">
    <path d="M 551.78 608.74 
L 706.25 608.74 
L 706.25 464.83 
L 551.78 464.83 
z
" style="fill: #ffffff"/>
   </g>
   <g id="matplotlib.axis_31">
    <g id="xtick_45">
     <g id="line2d_110">
      <g>
       <use href="#m810af31bf4" x="565.824793" y="608.742048" style="fill: #262626; stroke: #262626; stroke-width: 1.2"/>
      </g>
     </g>
     <g id="text_33">
      <text style="font-size: 10px; text-anchor: middle; fill: #262626" x="565.824793" y="624.840486" transform="matrix(1 0 0 1.120 0 -74.981)">0</text>
     </g>
    </g>
    <g id="xtick_46">
     <g id="line2d_111">
      <g>
       <use href="#m810af31bf4" x="610.264588" y="608.742048" style="fill: #262626; stroke: #262626; stroke-width: 1.2"/>
      </g>
     </g>
     <g id="text_34">
      <text style="font-size: 10px; text-anchor: middle; fill: #262626" x="610.264588" y="624.840486" transform="matrix(1 0 0 1.120 0 -74.981)">25</text>
     </g>
    </g>
    <g id="xtick_47">
     <g id="line2d_112">
      <g>
       <use href="#m810af31bf4" x="654.704383" y="608.742048" style="fill: #262626; stroke: #262626; stroke-width: 1.2"/>
      </g>
     </g>
     <g id="text_35">
      <text style="font-size: 10px; text-anchor: middle; fill: #262626" x="654.704383" y="624.840486" transform="matrix(1 0 0 1.120 0 -74.981)">50</text>
     </g>
    </g>
    <g id="xtick_48">
     <g id="line2d_113">
      <g>
       <use href="#m810af31bf4" x="699.144178" y="608.742048" style="fill: #262626; stroke: #262626; stroke-width: 1.2"/>
      </g>
     </g>
     <g id="text_36">
      <text style="font-size: 10px; text-anchor: middle; fill: #262626" x="699.144178" y="624.840486" transform="matrix(1 0 0 1.120 0 -74.981)">75</text>
     </g>
    </g>
    <g id="text_37">
     <text style="font-size: 11px; text-anchor: middle; fill: #262626" x="629.018182" y="640.078454">Skin Thickness</text>
    </g>
   </g>
   <g id="matplotlib.axis_32">
    <g id="ytick_66">
     <g id="line2d_114">
      <g>
       <use href="#m16c3d9d836" x="551.781818" y="571.829722" style="fill: #262626; stroke: #262626; stroke-width: 1.2"/>
      </g>
     </g>
    </g>
    <g id="ytick_67">
     <g id="line2d_115">
      <g>
       <use href="#m16c3d9d836" x="551.781818" y="525.105258" style="fill: #262626; stroke: #262626; stroke-width: 1.2"/>
      </g>
     </g>
    </g>
    <g id="ytick_68">
     <g id="line2d_116">
      <g>
       <use href="#m16c3d9d836" x="551.781818" y="478.380794" style="fill: #262626; stroke: #262626; stroke-width: 1.2"/>
      </g>
     </g>
    </g>
   </g>
   <g id="patch_48">
    <path d="M 551.78 608.74 
L 551.78 464.83 
" style="fill: none; stroke: #262626; stroke-width: 1.4; stroke-linejoin: miter; stroke-linecap: square"/>
   </g>
   <g id="patch_49">
    <path d="M 551.78 608.74 
L 706.25 608.74 
" style="fill: none; stroke: #262626; stroke-width: 1.4; stroke-linejoin: miter; stroke-linecap: square"/>
   </g>
  </g>
  <g id="axes_20">
   <g id="FillBetweenPolyCollection_7">
    <defs>
     <path id="me307e3bae7" d="M 555.16 -44.33 
L 555.16 -44.33 
L 555.76 -44.33 
L 556.36 -44.33 
L 556.97 -44.33 
L 557.57 -44.33 
L 558.17 -44.33 
L 558.77 -44.33 
L 559.38 -44.33 
L 559.98 -44.33 
L 560.58 -44.33 
L 561.18 -44.33 
L 561.79 -44.33 
L 562.39 -44.33 
L 562.99 -44.33 
L 563.59 -44.33 
L 564.2 -44.33 
L 564.8 -44.33 
L 565.4 -44.33 
L 566 -44.33 
L 566.61 -44.33 
L 567.21 -44.33 
L 567.81 -44.33 
L 568.41 -44.33 
L 569.02 -44.33 
L 569.62 -44.33 
L 570.22 -44.33 
L 570.82 -44.33 
L 571.43 -44.33 
L 572.03 -44.33 
L 572.63 -44.33 
L 573.23 -44.33 
L 573.84 -44.33 
L 574.44 -44.33 
L 575.04 -44.33 
L 575.64 -44.33 
L 576.24 -44.33 
L 576.85 -44.33 
L 577.45 -44.33 
L 578.05 -44.33 
L 578.65 -44.33 
L 579.26 -44.33 
L 579.86 -44.33 
L 580.46 -44.33 
L 581.06 -44.33 
L 581.67 -44.33 
L 582.27 -44.33 
L 582.87 -44.33 
L 583.47 -44.33 
L 584.08 -44.33 
L 584.68 -44.33 
L 585.28 -44.33 
L 585.88 -44.33 
L 586.49 -44.33 
L 587.09 -44.33 
L 587.69 -44.33 
L 588.29 -44.33 
L 588.9 -44.33 
L 589.5 -44.33 
L 590.1 -44.33 
L 590.7 -44.33 
L 591.31 -44.33 
L 591.91 -44.33 
L 592.51 -44.33 
L 593.11 -44.33 
L 593.72 -44.33 
L 594.32 -44.33 
L 594.92 -44.33 
L 595.52 -44.33 
L 596.13 -44.33 
L 596.73 -44.33 
L 597.33 -44.33 
L 597.93 -44.33 
L 598.54 -44.33 
L 599.14 -44.33 
L 599.74 -44.33 
L 600.34 -44.33 
L 600.95 -44.33 
L 601.55 -44.33 
L 602.15 -44.33 
L 602.75 -44.33 
L 603.36 -44.33 
L 603.96 -44.33 
L 604.56 -44.33 
L 605.16 -44.33 
L 605.76 -44.33 
L 606.37 -44.33 
L 606.97 -44.33 
L 607.57 -44.33 
L 608.17 -44.33 
L 608.78 -44.33 
L 609.38 -44.33 
L 609.98 -44.33 
L 610.58 -44.33 
L 611.19 -44.33 
L 611.79 -44.33 
L 612.39 -44.33 
L 612.99 -44.33 
L 613.6 -44.33 
L 614.2 -44.33 
L 614.8 -44.33 
L 615.4 -44.33 
L 616.01 -44.33 
L 616.61 -44.33 
L 617.21 -44.33 
L 617.81 -44.33 
L 618.42 -44.33 
L 619.02 -44.33 
L 619.62 -44.33 
L 620.22 -44.33 
L 620.83 -44.33 
L 621.43 -44.33 
L 622.03 -44.33 
L 622.63 -44.33 
L 623.24 -44.33 
L 623.84 -44.33 
L 624.44 -44.33 
L 625.04 -44.33 
L 625.65 -44.33 
L 626.25 -44.33 
L 626.85 -44.33 
L 627.45 -44.33 
L 628.06 -44.33 
L 628.66 -44.33 
L 629.26 -44.33 
L 629.86 -44.33 
L 630.47 -44.33 
L 631.07 -44.33 
L 631.67 -44.33 
L 632.27 -44.33 
L 632.87 -44.33 
L 633.48 -44.33 
L 634.08 -44.33 
L 634.68 -44.33 
L 635.28 -44.33 
L 635.89 -44.33 
L 636.49 -44.33 
L 637.09 -44.33 
L 637.69 -44.33 
L 638.3 -44.33 
L 638.9 -44.33 
L 639.5 -44.33 
L 640.1 -44.33 
L 640.71 -44.33 
L 641.31 -44.33 
L 641.91 -44.33 
L 642.51 -44.33 
L 643.12 -44.33 
L 643.72 -44.33 
L 644.32 -44.33 
L 644.92 -44.33 
L 645.53 -44.33 
L 646.13 -44.33 
L 646.73 -44.33 
L 647.33 -44.33 
L 647.94 -44.33 
L 648.54 -44.33 
L 649.14 -44.33 
L 649.74 -44.33 
L 650.35 -44.33 
L 650.95 -44.33 
L 651.55 -44.33 
L 652.15 -44.33 
L 652.76 -44.33 
L 653.36 -44.33 
L 653.96 -44.33 
L 654.56 -44.33 
L 655.17 -44.33 
L 655.77 -44.33 
L 656.37 -44.33 
L 656.97 -44.33 
L 657.58 -44.33 
L 658.18 -44.33 
L 658.78 -44.33 
L 659.38 -44.33 
L 659.99 -44.33 
L 660.59 -44.33 
L 661.19 -44.33 
L 661.79 -44.33 
L 662.39 -44.33 
L 663 -44.33 
L 663.6 -44.33 
L 664.2 -44.33 
L 664.8 -44.33 
L 665.41 -44.33 
L 666.01 -44.33 
L 666.61 -44.33 
L 667.21 -44.33 
L 667.82 -44.33 
L 668.42 -44.33 
L 669.02 -44.33 
L 669.62 -44.33 
L 670.23 -44.33 
L 670.83 -44.33 
L 671.43 -44.33 
L 672.03 -44.33 
L 672.64 -44.33 
L 673.24 -44.33 
L 673.84 -44.33 
L 674.44 -44.33 
L 675.05 -44.33 
L 675.65 -44.33 
L 676.25 -44.33 
L 676.85 -44.33 
L 677.46 -44.33 
L 678.06 -44.33 
L 678.66 -44.33 
L 679.26 -44.33 
L 679.87 -44.33 
L 680.47 -44.33 
L 681.07 -44.33 
L 681.67 -44.33 
L 682.28 -44.33 
L 682.88 -44.33 
L 683.48 -44.33 
L 684.08 -44.33 
L 684.69 -44.33 
L 685.29 -44.33 
L 685.89 -44.33 
L 686.49 -44.33 
L 687.1 -44.33 
L 687.7 -44.33 
L 688.3 -44.33 
L 688.9 -44.33 
L 689.51 -44.33 
L 690.11 -44.33 
L 690.71 -44.33 
L 691.31 -44.33 
L 691.91 -44.33 
L 692.52 -44.33 
L 693.12 -44.33 
L 693.72 -44.33 
L 694.32 -44.33 
L 694.93 -44.33 
L 695.53 -44.33 
L 696.13 -44.33 
L 696.73 -44.33 
L 697.34 -44.33 
L 697.94 -44.33 
L 698.54 -44.33 
L 699.14 -44.33 
L 699.14 -44.33 
L 699.14 -44.33 
L 698.54 -44.33 
L 697.94 -44.33 
L 697.34 -44.33 
L 696.73 -44.33 
L 696.13 -44.33 
L 695.53 -44.33 
L 694.93 -44.33 
L 694.32 -44.33 
L 693.72 -44.33 
L 693.12 -44.33 
L 692.52 -44.33 
L 691.91 -44.33 
L 691.31 -44.33 
L 690.71 -44.33 
L 690.11 -44.33 
L 689.51 -44.33 
L 688.9 -44.33 
L 688.3 -44.33 
L 687.7 -44.33 
L 687.1 -44.33 
L 686.49 -44.33 
L 685.89 -44.33 
L 685.29 -44.33 
L 684.69 -44.33 
L 684.08 -44.33 
L 683.48 -44.33 
L 682.88 -44.33 
L 682.28 -44.33 
L 681.67 -44.33 
L 681.07 -44.33 
L 680.47 -44.33 
L 679.87 -44.33 
L 679.26 -44.33 
L 678.66 -44.34 
L 678.06 -44.34 
L 677.46 -44.36 
L 676.85 -44.37 
L 676.25 -44.4 
L 675.65 -44.43 
L 675.05 -44.48 
L 674.44 -44.54 
L 673.84 -44.61 
L 673.24 -44.69 
L 672.64 -44.79 
L 672.03 -44.89 
L 671.43 -45 
L 670.83 -45.11 
L 670.23 -45.22 
L 669.62 -45.33 
L 669.02 -45.45 
L 668.42 -45.57 
L 667.82 -45.7 
L 667.21 -45.86 
L 666.61 -46.04 
L 666.01 -46.24 
L 665.41 -46.48 
L 664.8 -46.74 
L 664.2 -47.02 
L 663.6 -47.33 
L 663 -47.66 
L 662.39 -48.01 
L 661.79 -48.4 
L 661.19 -48.82 
L 660.59 -49.31 
L 659.99 -49.86 
L 659.38 -50.49 
L 658.78 -51.21 
L 658.18 -52.01 
L 657.58 -52.9 
L 656.97 -53.88 
L 656.37 -54.94 
L 655.77 -56.1 
L 655.17 -57.35 
L 654.56 -58.7 
L 653.96 -60.14 
L 653.36 -61.67 
L 652.76 -63.26 
L 652.15 -64.91 
L 651.55 -66.6 
L 650.95 -68.31 
L 650.35 -70.04 
L 649.74 -71.78 
L 649.14 -73.54 
L 648.54 -75.31 
L 647.94 -77.1 
L 647.33 -78.91 
L 646.73 -80.74 
L 646.13 -82.58 
L 645.53 -84.42 
L 644.92 -86.25 
L 644.32 -88.07 
L 643.72 -89.86 
L 643.12 -91.62 
L 642.51 -93.33 
L 641.91 -94.99 
L 641.31 -96.57 
L 640.71 -98.07 
L 640.1 -99.49 
L 639.5 -100.83 
L 638.9 -102.12 
L 638.3 -103.38 
L 637.69 -104.62 
L 637.09 -105.86 
L 636.49 -107.11 
L 635.89 -108.35 
L 635.28 -109.56 
L 634.68 -110.72 
L 634.08 -111.8 
L 633.48 -112.8 
L 632.87 -113.72 
L 632.27 -114.58 
L 631.67 -115.38 
L 631.07 -116.15 
L 630.47 -116.88 
L 629.86 -117.57 
L 629.26 -118.19 
L 628.66 -118.74 
L 628.06 -119.19 
L 627.45 -119.56 
L 626.85 -119.84 
L 626.25 -120.04 
L 625.65 -120.18 
L 625.04 -120.23 
L 624.44 -120.2 
L 623.84 -120.07 
L 623.24 -119.82 
L 622.63 -119.47 
L 622.03 -119.02 
L 621.43 -118.5 
L 620.83 -117.93 
L 620.22 -117.33 
L 619.62 -116.7 
L 619.02 -116 
L 618.42 -115.22 
L 617.81 -114.32 
L 617.21 -113.29 
L 616.61 -112.13 
L 616.01 -110.86 
L 615.4 -109.51 
L 614.8 -108.12 
L 614.2 -106.71 
L 613.6 -105.28 
L 612.99 -103.84 
L 612.39 -102.37 
L 611.79 -100.87 
L 611.19 -99.31 
L 610.58 -97.72 
L 609.98 -96.11 
L 609.38 -94.48 
L 608.78 -92.86 
L 608.17 -91.24 
L 607.57 -89.62 
L 606.97 -87.97 
L 606.37 -86.3 
L 605.76 -84.57 
L 605.16 -82.82 
L 604.56 -81.06 
L 603.96 -79.34 
L 603.36 -77.69 
L 602.75 -76.15 
L 602.15 -74.72 
L 601.55 -73.41 
L 600.95 -72.17 
L 600.34 -70.98 
L 599.74 -69.8 
L 599.14 -68.61 
L 598.54 -67.41 
L 597.93 -66.22 
L 597.33 -65.07 
L 596.73 -63.98 
L 596.13 -62.95 
L 595.52 -62 
L 594.92 -61.1 
L 594.32 -60.24 
L 593.72 -59.39 
L 593.11 -58.55 
L 592.51 -57.7 
L 591.91 -56.87 
L 591.31 -56.06 
L 590.7 -55.3 
L 590.1 -54.59 
L 589.5 -53.95 
L 588.9 -53.37 
L 588.29 -52.84 
L 587.69 -52.33 
L 587.09 -51.85 
L 586.49 -51.37 
L 585.88 -50.89 
L 585.28 -50.41 
L 584.68 -49.95 
L 584.08 -49.5 
L 583.47 -49.08 
L 582.87 -48.68 
L 582.27 -48.31 
L 581.67 -47.96 
L 581.06 -47.63 
L 580.46 -47.31 
L 579.86 -47 
L 579.26 -46.71 
L 578.65 -46.42 
L 578.05 -46.15 
L 577.45 -45.9 
L 576.85 -45.67 
L 576.24 -45.45 
L 575.64 -45.26 
L 575.04 -45.09 
L 574.44 -44.93 
L 573.84 -44.8 
L 573.23 -44.69 
L 572.63 -44.6 
L 572.03 -44.52 
L 571.43 -44.46 
L 570.82 -44.42 
L 570.22 -44.39 
L 569.62 -44.37 
L 569.02 -44.35 
L 568.41 -44.34 
L 567.81 -44.33 
L 567.21 -44.33 
L 566.61 -44.33 
L 566 -44.33 
L 565.4 -44.33 
L 564.8 -44.33 
L 564.2 -44.33 
L 563.59 -44.33 
L 562.99 -44.33 
L 562.39 -44.33 
L 561.79 -44.33 
L 561.18 -44.33 
L 560.58 -44.33 
L 559.98 -44.33 
L 559.38 -44.33 
L 558.77 -44.33 
L 558.17 -44.33 
L 557.57 -44.33 
L 556.97 -44.33 
L 556.36 -44.33 
L 555.76 -44.33 
L 555.16 -44.33 
z
" style="stroke: #ff7f0e; stroke-width: 1.6"/>
    </defs>
    <g clip-path="url(#p74d02f4d18)">
     <use href="#me307e3bae7" x="0" y="653.067925" style="fill: #ff7f0e; fill-opacity: 0.25; stroke: #ff7f0e; stroke-width: 1.6"/>
    </g>
   </g>
   <g id="FillBetweenPolyCollection_8">
    <defs>
     <path id="maa3245a335" d="M 560.49 -44.33 
L 560.49 -44.33 
L 561.02 -44.33 
L 561.55 -44.33 
L 562.08 -44.33 
L 562.6 -44.33 
L 563.13 -44.33 
L 563.66 -44.33 
L 564.19 -44.33 
L 564.72 -44.33 
L 565.24 -44.33 
L 565.77 -44.33 
L 566.3 -44.33 
L 566.83 -44.33 
L 567.36 -44.33 
L 567.89 -44.33 
L 568.41 -44.33 
L 568.94 -44.33 
L 569.47 -44.33 
L 570 -44.33 
L 570.53 -44.33 
L 571.05 -44.33 
L 571.58 -44.33 
L 572.11 -44.33 
L 572.64 -44.33 
L 573.17 -44.33 
L 573.69 -44.33 
L 574.22 -44.33 
L 574.75 -44.33 
L 575.28 -44.33 
L 575.81 -44.33 
L 576.33 -44.33 
L 576.86 -44.33 
L 577.39 -44.33 
L 577.92 -44.33 
L 578.45 -44.33 
L 578.97 -44.33 
L 579.5 -44.33 
L 580.03 -44.33 
L 580.56 -44.33 
L 581.09 -44.33 
L 581.61 -44.33 
L 582.14 -44.33 
L 582.67 -44.33 
L 583.2 -44.33 
L 583.73 -44.33 
L 584.26 -44.33 
L 584.78 -44.33 
L 585.31 -44.33 
L 585.84 -44.33 
L 586.37 -44.33 
L 586.9 -44.33 
L 587.42 -44.33 
L 587.95 -44.33 
L 588.48 -44.33 
L 589.01 -44.33 
L 589.54 -44.33 
L 590.06 -44.33 
L 590.59 -44.33 
L 591.12 -44.33 
L 591.65 -44.33 
L 592.18 -44.33 
L 592.7 -44.33 
L 593.23 -44.33 
L 593.76 -44.33 
L 594.29 -44.33 
L 594.82 -44.33 
L 595.34 -44.33 
L 595.87 -44.33 
L 596.4 -44.33 
L 596.93 -44.33 
L 597.46 -44.33 
L 597.99 -44.33 
L 598.51 -44.33 
L 599.04 -44.33 
L 599.57 -44.33 
L 600.1 -44.33 
L 600.63 -44.33 
L 601.15 -44.33 
L 601.68 -44.33 
L 602.21 -44.33 
L 602.74 -44.33 
L 603.27 -44.33 
L 603.79 -44.33 
L 604.32 -44.33 
L 604.85 -44.33 
L 605.38 -44.33 
L 605.91 -44.33 
L 606.43 -44.33 
L 606.96 -44.33 
L 607.49 -44.33 
L 608.02 -44.33 
L 608.55 -44.33 
L 609.07 -44.33 
L 609.6 -44.33 
L 610.13 -44.33 
L 610.66 -44.33 
L 611.19 -44.33 
L 611.71 -44.33 
L 612.24 -44.33 
L 612.77 -44.33 
L 613.3 -44.33 
L 613.83 -44.33 
L 614.36 -44.33 
L 614.88 -44.33 
L 615.41 -44.33 
L 615.94 -44.33 
L 616.47 -44.33 
L 617 -44.33 
L 617.52 -44.33 
L 618.05 -44.33 
L 618.58 -44.33 
L 619.11 -44.33 
L 619.64 -44.33 
L 620.16 -44.33 
L 620.69 -44.33 
L 621.22 -44.33 
L 621.75 -44.33 
L 622.28 -44.33 
L 622.8 -44.33 
L 623.33 -44.33 
L 623.86 -44.33 
L 624.39 -44.33 
L 624.92 -44.33 
L 625.44 -44.33 
L 625.97 -44.33 
L 626.5 -44.33 
L 627.03 -44.33 
L 627.56 -44.33 
L 628.09 -44.33 
L 628.61 -44.33 
L 629.14 -44.33 
L 629.67 -44.33 
L 630.2 -44.33 
L 630.73 -44.33 
L 631.25 -44.33 
L 631.78 -44.33 
L 632.31 -44.33 
L 632.84 -44.33 
L 633.37 -44.33 
L 633.89 -44.33 
L 634.42 -44.33 
L 634.95 -44.33 
L 635.48 -44.33 
L 636.01 -44.33 
L 636.53 -44.33 
L 637.06 -44.33 
L 637.59 -44.33 
L 638.12 -44.33 
L 638.65 -44.33 
L 639.17 -44.33 
L 639.7 -44.33 
L 640.23 -44.33 
L 640.76 -44.33 
L 641.29 -44.33 
L 641.81 -44.33 
L 642.34 -44.33 
L 642.87 -44.33 
L 643.4 -44.33 
L 643.93 -44.33 
L 644.46 -44.33 
L 644.98 -44.33 
L 645.51 -44.33 
L 646.04 -44.33 
L 646.57 -44.33 
L 647.1 -44.33 
L 647.62 -44.33 
L 648.15 -44.33 
L 648.68 -44.33 
L 649.21 -44.33 
L 649.74 -44.33 
L 650.26 -44.33 
L 650.79 -44.33 
L 651.32 -44.33 
L 651.85 -44.33 
L 652.38 -44.33 
L 652.9 -44.33 
L 653.43 -44.33 
L 653.96 -44.33 
L 654.49 -44.33 
L 655.02 -44.33 
L 655.54 -44.33 
L 656.07 -44.33 
L 656.6 -44.33 
L 657.13 -44.33 
L 657.66 -44.33 
L 658.19 -44.33 
L 658.71 -44.33 
L 659.24 -44.33 
L 659.77 -44.33 
L 660.3 -44.33 
L 660.83 -44.33 
L 661.35 -44.33 
L 661.88 -44.33 
L 662.41 -44.33 
L 662.94 -44.33 
L 663.47 -44.33 
L 663.99 -44.33 
L 664.52 -44.33 
L 665.05 -44.33 
L 665.58 -44.33 
L 666.11 -44.33 
L 666.63 -44.33 
L 667.16 -44.33 
L 667.69 -44.33 
L 668.22 -44.33 
L 668.75 -44.33 
L 669.27 -44.33 
L 669.8 -44.33 
L 670.33 -44.33 
L 670.86 -44.33 
L 671.39 -44.33 
L 671.92 -44.33 
L 672.44 -44.33 
L 672.97 -44.33 
L 673.5 -44.33 
L 674.03 -44.33 
L 674.56 -44.33 
L 675.08 -44.33 
L 675.61 -44.33 
L 676.14 -44.33 
L 676.67 -44.33 
L 677.2 -44.33 
L 677.72 -44.33 
L 678.25 -44.33 
L 678.78 -44.33 
L 679.31 -44.33 
L 679.84 -44.33 
L 680.36 -44.33 
L 680.89 -44.33 
L 681.42 -44.33 
L 681.95 -44.33 
L 682.48 -44.33 
L 683 -44.33 
L 683.53 -44.33 
L 684.06 -44.33 
L 684.59 -44.33 
L 685.12 -44.33 
L 685.64 -44.33 
L 686.17 -44.33 
L 686.7 -44.33 
L 686.7 -44.33 
L 686.7 -44.33 
L 686.17 -44.33 
L 685.64 -44.33 
L 685.12 -44.33 
L 684.59 -44.33 
L 684.06 -44.33 
L 683.53 -44.33 
L 683 -44.33 
L 682.48 -44.33 
L 681.95 -44.33 
L 681.42 -44.33 
L 680.89 -44.33 
L 680.36 -44.33 
L 679.84 -44.33 
L 679.31 -44.33 
L 678.78 -44.33 
L 678.25 -44.33 
L 677.72 -44.33 
L 677.2 -44.34 
L 676.67 -44.34 
L 676.14 -44.35 
L 675.61 -44.35 
L 675.08 -44.36 
L 674.56 -44.37 
L 674.03 -44.38 
L 673.5 -44.39 
L 672.97 -44.4 
L 672.44 -44.41 
L 671.92 -44.42 
L 671.39 -44.44 
L 670.86 -44.47 
L 670.33 -44.5 
L 669.8 -44.54 
L 669.27 -44.59 
L 668.75 -44.65 
L 668.22 -44.73 
L 667.69 -44.82 
L 667.16 -44.93 
L 666.63 -45.05 
L 666.11 -45.19 
L 665.58 -45.34 
L 665.05 -45.5 
L 664.52 -45.68 
L 663.99 -45.87 
L 663.47 -46.08 
L 662.94 -46.31 
L 662.41 -46.56 
L 661.88 -46.85 
L 661.35 -47.16 
L 660.83 -47.5 
L 660.3 -47.86 
L 659.77 -48.25 
L 659.24 -48.68 
L 658.71 -49.13 
L 658.19 -49.62 
L 657.66 -50.17 
L 657.13 -50.78 
L 656.6 -51.49 
L 656.07 -52.31 
L 655.54 -53.26 
L 655.02 -54.35 
L 654.49 -55.58 
L 653.96 -56.96 
L 653.43 -58.44 
L 652.9 -60.03 
L 652.38 -61.69 
L 651.85 -63.4 
L 651.32 -65.15 
L 650.79 -66.92 
L 650.26 -68.74 
L 649.74 -70.59 
L 649.21 -72.5 
L 648.68 -74.46 
L 648.15 -76.49 
L 647.62 -78.56 
L 647.1 -80.67 
L 646.57 -82.8 
L 646.04 -84.91 
L 645.51 -87.01 
L 644.98 -89.08 
L 644.46 -91.12 
L 643.93 -93.12 
L 643.4 -95.09 
L 642.87 -97.02 
L 642.34 -98.91 
L 641.81 -100.74 
L 641.29 -102.5 
L 640.76 -104.19 
L 640.23 -105.8 
L 639.7 -107.36 
L 639.17 -108.88 
L 638.65 -110.38 
L 638.12 -111.86 
L 637.59 -113.36 
L 637.06 -114.85 
L 636.53 -116.35 
L 636.01 -117.83 
L 635.48 -119.29 
L 634.95 -120.72 
L 634.42 -122.11 
L 633.89 -123.45 
L 633.37 -124.76 
L 632.84 -126.01 
L 632.31 -127.21 
L 631.78 -128.36 
L 631.25 -129.47 
L 630.73 -130.56 
L 630.2 -131.67 
L 629.67 -132.84 
L 629.14 -134.14 
L 628.61 -135.61 
L 628.09 -137.28 
L 627.56 -139.18 
L 627.03 -141.31 
L 626.5 -143.63 
L 625.97 -146.11 
L 625.44 -148.73 
L 624.92 -151.46 
L 624.39 -154.28 
L 623.86 -157.18 
L 623.33 -160.14 
L 622.8 -163.12 
L 622.28 -166.07 
L 621.75 -168.91 
L 621.22 -171.54 
L 620.69 -173.89 
L 620.16 -175.86 
L 619.64 -177.42 
L 619.11 -178.58 
L 618.58 -179.37 
L 618.05 -179.84 
L 617.52 -180.07 
L 617 -180.14 
L 616.47 -180.09 
L 615.94 -179.96 
L 615.41 -179.75 
L 614.88 -179.47 
L 614.36 -179.11 
L 613.83 -178.67 
L 613.3 -178.15 
L 612.77 -177.57 
L 612.24 -176.94 
L 611.71 -176.27 
L 611.19 -175.57 
L 610.66 -174.84 
L 610.13 -174.07 
L 609.6 -173.26 
L 609.07 -172.42 
L 608.55 -171.55 
L 608.02 -170.67 
L 607.49 -169.83 
L 606.96 -169.04 
L 606.43 -168.35 
L 605.91 -167.77 
L 605.38 -167.33 
L 604.85 -167.02 
L 604.32 -166.84 
L 603.79 -166.79 
L 603.27 -166.83 
L 602.74 -166.94 
L 602.21 -167.11 
L 601.68 -167.28 
L 601.15 -167.45 
L 600.63 -167.58 
L 600.1 -167.64 
L 599.57 -167.62 
L 599.04 -167.51 
L 598.51 -167.3 
L 597.99 -166.99 
L 597.46 -166.6 
L 596.93 -166.12 
L 596.4 -165.56 
L 595.87 -164.93 
L 595.34 -164.21 
L 594.82 -163.41 
L 594.29 -162.5 
L 593.76 -161.48 
L 593.23 -160.35 
L 592.7 -159.11 
L 592.18 -157.75 
L 591.65 -156.28 
L 591.12 -154.71 
L 590.59 -153.04 
L 590.06 -151.24 
L 589.54 -149.32 
L 589.01 -147.24 
L 588.48 -144.97 
L 587.95 -142.48 
L 587.42 -139.74 
L 586.9 -136.74 
L 586.37 -133.48 
L 585.84 -129.97 
L 585.31 -126.25 
L 584.78 -122.36 
L 584.26 -118.34 
L 583.73 -114.23 
L 583.2 -110.07 
L 582.67 -105.89 
L 582.14 -101.71 
L 581.61 -97.53 
L 581.09 -93.37 
L 580.56 -89.24 
L 580.03 -85.16 
L 579.5 -81.15 
L 578.97 -77.26 
L 578.45 -73.54 
L 577.92 -70.02 
L 577.39 -66.75 
L 576.86 -63.76 
L 576.33 -61.08 
L 575.81 -58.72 
L 575.28 -56.65 
L 574.75 -54.87 
L 574.22 -53.33 
L 573.69 -52.01 
L 573.17 -50.87 
L 572.64 -49.87 
L 572.11 -48.99 
L 571.58 -48.21 
L 571.05 -47.52 
L 570.53 -46.92 
L 570 -46.39 
L 569.47 -45.95 
L 568.94 -45.57 
L 568.41 -45.26 
L 567.89 -45.01 
L 567.36 -44.82 
L 566.83 -44.67 
L 566.3 -44.56 
L 565.77 -44.48 
L 565.24 -44.43 
L 564.72 -44.39 
L 564.19 -44.37 
L 563.66 -44.35 
L 563.13 -44.34 
L 562.6 -44.33 
L 562.08 -44.33 
L 561.55 -44.33 
L 561.02 -44.33 
L 560.49 -44.33 
z
" style="stroke: #1f77b4; stroke-width: 1.6"/>
    </defs>
    <g clip-path="url(#p74d02f4d18)">
     <use href="#maa3245a335" x="0" y="653.067925" style="fill: #1f77b4; fill-opacity: 0.25; stroke: #1f77b4; stroke-width: 1.6"/>
    </g>
   </g>
  </g>
  <g id="legend_1">
   <g id="text_38">
    <text style="font-size: 11.3px; text-anchor: start; fill: #262626" x="655.078594" y="315.894362" transform="matrix(1 0 0 1.200 0 -63.179)">Diabetes</text>
   </g>
   <g id="line2d_117">
    <defs>
     <path id="m18140d3f11" d="M 0 3.9 
C 1.03 3.9 2.03 3.49 2.76 2.76 
C 3.49 2.03 3.9 1.03 3.9 0 
C 3.9 -1.03 3.49 -2.03 2.76 -2.76 
C 2.03 -3.49 1.03 -3.9 0 -3.9 
C -1.03 -3.9 -2.03 -3.49 -2.76 -2.76 
C -3.49 -2.03 -3.9 -1.03 -3.9 0 
C -3.9 1.03 -3.49 2.03 -2.76 2.76 
C -2.03 3.49 -1.03 3.9 0 3.9 
z
" style="stroke: #ffffff; stroke-width: 0.49"/>
    </defs>
    <g>
     <use href="#m18140d3f11" x="671.978047" y="328.642847" style="fill: #1f77b4; stroke: #ffffff; stroke-width: 0.49"/>
    </g>
   </g>
   <g id="text_39">
    <text style="font-size: 10px; text-anchor: start; fill: #262626" x="691.978047" y="332.142847" transform="matrix(1 0 0 1.120 0 -39.857)">0</text>
   </g>
   <g id="line2d_118">
    <defs>
     <path id="mdbbaa17b1e" d="M 0 3.9 
C 1.03 3.9 2.03 3.49 2.76 2.76 
C 3.49 2.03 3.9 1.03 3.9 0 
C 3.9 -1.03 3.49 -2.03 2.76 -2.76 
C 2.03 -3.49 1.03 -3.9 0 -3.9 
C -1.03 -3.9 -2.03 -3.49 -2.76 -2.76 
C -3.49 -2.03 -3.9 -1.03 -3.9 0 
C -3.9 1.03 -3.49 2.03 -2.76 2.76 
C -2.03 3.49 -1.03 3.9 0 3.9 
z
" style="stroke: #ffffff; stroke-width: 0.49"/>
    </defs>
    <g>
     <use href="#mdbbaa17b1e" x="671.978047" y="344.620972" style="fill: #ff7f0e; stroke: #ffffff; stroke-width: 0.49"/>
    </g>
   </g>
   <g id="text_40">
    <text style="font-size: 10px; text-anchor: start; fill: #262626" x="691.978047" y="348.120972" transform="matrix(1 0 0 1.120 0 -41.775)">1</text>
   </g>
  </g>
 </g>
 <defs>
  <clipPath id="p790f427308">
   <rect x="51.84" y="15.366304" width="154.472727" height="143.911348"/>
  </clipPath>
  <clipPath id="pe40e51f37a">
   <rect x="218.487273" y="165.187769" width="154.472727" height="143.911348"/>
  </clipPath>
  <clipPath id="pa256d7a446">
   <rect x="385.134545" y="315.009235" width="154.472727" height="143.911348"/>
  </clipPath>
  <clipPath id="p74d02f4d18">
   <rect x="551.781818" y="464.8307" width="154.472727" height="143.911348"/>
  </clipPath>
 </defs>
</svg>

</body></html>
